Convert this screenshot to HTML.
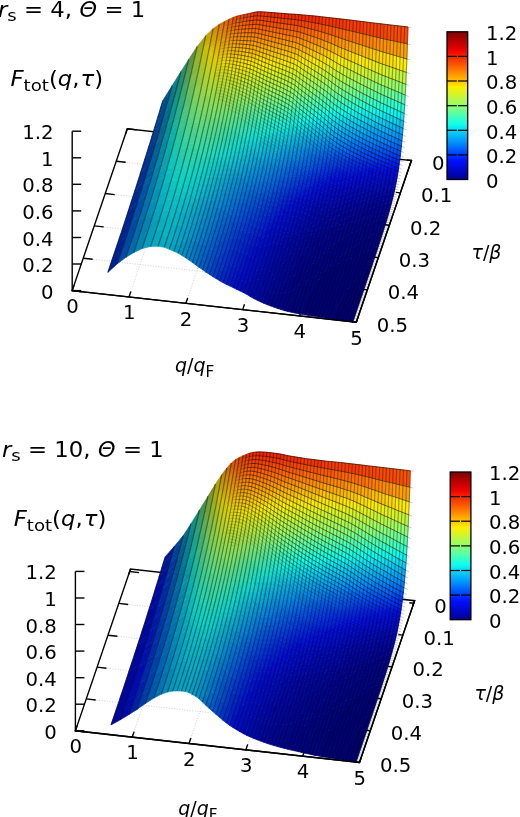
<!DOCTYPE html>
<html><head><meta charset="utf-8"><title>F_tot(q, tau)</title>
<style>html,body{margin:0;padding:0;background:#fff;overflow:hidden}svg{display:block}
text{font-family:"DejaVu Sans","Liberation Sans",sans-serif;fill:#000}
.t text{font-size:19.7px}.l{font-size:20.7px}.a{font-size:19px}.i{font-style:italic}.sub{font-size:16.5px}.sub2{font-size:15.2px}
</style></head><body>
<svg width="520" height="817" viewBox="0 0 520 817">
<defs><filter id="bq" x="0" y="0" width="5200" height="8170" filterUnits="userSpaceOnUse"><feGaussianBlur stdDeviation="6"/></filter><filter id="bt" x="0" y="0" width="5200" height="8170" filterUnits="userSpaceOnUse"><feGaussianBlur stdDeviation="6"/></filter></defs>
<rect width="520" height="817" fill="#fff"/>
<g transform="translate(0.0 0.0)">
<g stroke="#cfcfcf" stroke-width="1" stroke-dasharray="1 1.6" fill="none">
<line x1="129.0" y1="296.9" x2="184.1" y2="135.1"/>
<line x1="185.8" y1="303.3" x2="240.9" y2="141.5"/>
<line x1="242.7" y1="309.6" x2="297.8" y2="147.8"/>
<line x1="299.5" y1="316.0" x2="354.6" y2="154.2"/>
<line x1="116.3" y1="161.2" x2="400.4" y2="192.9"/>
<line x1="105.3" y1="193.5" x2="389.4" y2="225.2"/>
<line x1="94.2" y1="225.9" x2="378.3" y2="257.6"/>
<line x1="83.2" y1="258.2" x2="367.3" y2="289.9"/>
</g>
<g stroke="#000" stroke-width="1.4" fill="none" stroke-linecap="square">
<path d="M72.2 290.6L356.3 322.3L411.4 160.5L127.3 128.8z"/>
</g>
<g stroke="#000" stroke-width="1.4" fill="none">
<line x1="72.2" y1="290.6" x2="74.0" y2="285.2"/>
<line x1="127.3" y1="128.8" x2="125.5" y2="134.2"/>
<line x1="129.0" y1="296.9" x2="130.9" y2="291.5"/>
<line x1="184.1" y1="135.1" x2="182.3" y2="140.5"/>
<line x1="185.8" y1="303.3" x2="187.7" y2="297.9"/>
<line x1="240.9" y1="141.5" x2="239.1" y2="146.9"/>
<line x1="242.7" y1="309.6" x2="244.5" y2="304.2"/>
<line x1="297.8" y1="147.8" x2="295.9" y2="153.2"/>
<line x1="299.5" y1="316.0" x2="301.3" y2="310.6"/>
<line x1="354.6" y1="154.2" x2="352.7" y2="159.6"/>
<line x1="356.3" y1="322.3" x2="358.1" y2="316.9"/>
<line x1="411.4" y1="160.5" x2="409.6" y2="165.9"/>
<line x1="411.4" y1="160.5" x2="406.9" y2="160.0"/>
<line x1="127.3" y1="128.8" x2="136.7" y2="129.9"/>
<line x1="400.4" y1="192.9" x2="395.9" y2="192.4"/>
<line x1="116.3" y1="161.2" x2="125.7" y2="162.2"/>
<line x1="389.4" y1="225.2" x2="384.9" y2="224.7"/>
<line x1="105.3" y1="193.5" x2="114.7" y2="194.6"/>
<line x1="378.3" y1="257.6" x2="373.9" y2="257.1"/>
<line x1="94.2" y1="225.9" x2="103.7" y2="226.9"/>
<line x1="367.3" y1="289.9" x2="362.8" y2="289.4"/>
<line x1="83.2" y1="258.2" x2="92.7" y2="259.3"/>
<line x1="356.3" y1="322.3" x2="351.8" y2="321.8"/>
<line x1="72.2" y1="290.6" x2="81.6" y2="291.7"/>
<line x1="72.2" y1="290.6" x2="72.2" y2="131.2"/>
<line x1="72.2" y1="290.6" x2="81.2" y2="290.6"/>
<line x1="72.2" y1="264.0" x2="81.2" y2="264.0"/>
<line x1="72.2" y1="237.5" x2="81.2" y2="237.5"/>
<line x1="72.2" y1="210.9" x2="81.2" y2="210.9"/>
<line x1="72.2" y1="184.3" x2="81.2" y2="184.3"/>
<line x1="72.2" y1="157.8" x2="81.2" y2="157.8"/>
<line x1="72.2" y1="131.2" x2="81.2" y2="131.2"/>
</g>
<g transform="scale(.1)" stroke-width="7" stroke-linejoin="round">
<path fill="#000072" stroke="#000072" d="M3379 3027l-5 17l-50 146l34 4l17-48l38-114zM3463 2886l-88 260l-17 48l34 5l105-309zM3525 2809l-45 130l-5 17l-83 243l34 4l45-129l88-261zM3586 2731l-16 50l-50 146l-5 17l-44 130l-45 129l35 5l16-49l17-48l5-17l17-48l5-17l17-48l5-17l17-48l5-17l17-48l38-115zM3637 2687l-176 521l34 4l49-146l17-48l5-17l17-48l5-17l17-48l5-17l45-130l16-50zM3688 2642l-193 570l34 4l22-64l5-17l45-129l5-17l17-48l5-17l17-48l5-17l72-212z"/>
<path fill="#000178" stroke="#000178" d="M3099 2898l-16 50l-66 195l34 6l66-195l16-50zM3172 2789l-121 360l34 6l5-17l23-64l5-17l28-81l5-17l6-16l49-148zM3234 2712l-6 16l-82 248l-28 81l-5 17l-23 64l-5 17l34 5l72-211l5-17l72-214zM3284 2668l-93 281l-72 211l34 5l61-178l5-17l100-297zM3324 2657l-16 50l-23 66l-5 17l-61 180l-5 17l-61 178l34 5l17-48l27-82l12-32l22-65l93-281zM3369 2629l-104 314l-22 65l-12 32l-5 17l-39 113l35 5l121-358l60-183zM3409 2618l-6 16l-60 183l-121 358l34 5l110-325l5-17l6-16l38-116l12-33l16-50zM3454 2590l-27 83l-12 33l-5 17l-39 115l-5 17l-110 325l34 5l16-49l17-48l5-17l17-48l5-17l34-97l5-17l50-147l49-150zM3494 2578l-55 167l-50 147l-5 17l-34 97l-5 17l-17 48l-5 17l-17 48l-16 49l34 5l105-309l5-17l39-114l5-17l50-149zM3533 2567l-60 183l-72 212l-5 17l-17 48l34 5l50-146l5-17l100-297zM3579 2539l-22 67l-12 33l-38 116l-39 114l-5 17l34 4l28-81l5-17l6-16l5-17l6-16l66-199zM3624 2511l-77 232l-6 16l-5 17l-6 16l-5 17l34 4l99-297zM3663 2499l-16 51l-61 181l34 5l6-16l49-149l23-66zM3703 2488l-5 17l-23 66l-38 116l34 4l6-16l60-182zM3748 2459l-16 51l-6 16l-38 116l34 5l5-17l39-115l16-51z"/>
<path fill="#00017c" stroke="#00017c" d="M3290 2651l-6 17l35 5l5-16zM3341 2606l-17 51l34 5l17-50zM3391 2561l-22 68l34 5l6-16l16-51zM3436 2533l-27 85l34 5l28-84zM3487 2488l-33 102l34 5l17-50l16-51zM3532 2460l-38 118l34 6l38-118zM3577 2431l-5 18l-39 118l35 5l44-135zM3628 2386l-49 153l34 5l49-152zM3668 2375l-44 136l34 5l44-136zM3713 2346l-44 137l-6 16l35 6l49-153zM3758 2317l-16 52l-39 119l34 5l28-84l27-86zM3798 2305l-33 104l-17 50l34 5l6-16l44-137z"/>
<path fill="#00027e" stroke="#00027e" d="M2968 2853l-38 116l-50 146l34 8l61-179l27-83zM3013 2828l-38 116l-61 179l34 7l100-295zM3059 2802l-22 67l-23 65l-16 50l-50 146l35 7l110-328zM3104 2776l-6 16l-5 17l-110 328l34 6l121-360zM3149 2749l-50 149l34 6l50-148zM3194 2722l-22 67l34 6l22-67zM3239 2695l-5 17l34 6l5-17z"/>
<path fill="#000281" stroke="#000281" d="M2974 2836l-6 17l34 8l6-16zM3052 2711l-6 16l-16 51l-17 50l35 7l38-117zM3114 2634l-55 168l34 7l55-168zM3170 2573l-66 203l34 7l66-203zM3221 2529l-23 68l-49 152l34 7l17-50l55-170zM3271 2484l-16 52l-55 170l-6 16l34 6l28-83l49-154zM3322 2439l-66 206l-17 50l34 6l17-50l38-119l12-34l16-52zM3367 2411l-27 87l-12 34l-38 119l34 6l61-187l16-52zM3412 2382l-27 88l-44 136l34 6l66-205l5-18zM3457 2354l-16 53l-50 154l34 6l45-137l22-70zM3503 2325l-22 71l-45 137l35 6l33-102l33-106zM3542 2313l-16 54l-39 121l34 6l17-51l38-123zM3587 2284l-16 54l-39 122l34 6l34-104l22-71zM3633 2255l-33 107l-23 69l35 6l55-175zM3672 2244l-16 54l-28 88l34 6l17-52l27-89zM3717 2214l-16 55l-33 106l34 5l16-52l12-35l22-72zM3757 2202l-5 19l-39 125l34 6l28-88l16-55zM3797 2191l-39 126l34 6l39-125zM3842 2160l-44 145l34 6l16-53l12-36l16-55z"/>
<path fill="#000284" stroke="#000284" d="M2872 2916l-5 17l-55 163l34 11l5-17l17-48l27-82l12-33zM2918 2894l-67 196l-5 17l34 8l17-48l5-17l50-147z"/>
<path fill="#000287" stroke="#000287" d="M2927 2749l-38 118l-17 49l35 11l55-167zM3006 2624l-88 270l34 9l88-269zM3067 2547l-27 87l-66 202l34 9l94-288zM3124 2486l-22 71l-17 51l-5 18l-12 34l-16 51l34 7l6-16l33-102l5-18l28-87zM3174 2442l-60 192l34 7l44-137l16-53zM3225 2397l-55 176l34 7l17-51l38-123zM3270 2370l-16 54l-6 17l-27 88l34 7l49-158zM3321 2324l-44 143l-6 17l34 7l6-17l44-142zM3366 2295l-44 144l34 7l17-53l27-90zM3406 2285l-39 126l34 7l39-126zM3451 2255l-17 55l-5 19l-17 53l34 7l39-126zM3496 2225l-22 75l-17 54l35 6l33-108l5-19zM3536 2214l-33 111l34 6l33-109zM3575 2203l-16 56l-17 54l34 7l17-54l16-55zM3615 2192l-28 92l35 7l27-92zM3655 2180l-22 75l34 7l22-74zM3694 2169l-22 75l34 7l22-74zM3734 2158l-17 56l35 7l16-56zM3768 2165l-5 19l-6 18l34 7l6-18l5-19zM3808 2153l-11 38l34 7l11-38zM3847 2141l-5 19l34 7l6-19z"/>
<path fill="#00028b" stroke="#00028b" d="M3620 2173l-5 19l34 7l6-19zM3660 2161l-5 19l34 8l5-19zM3700 2150l-6 19l34 8l6-19zM3745 2119l-6 19l-5 20l34 7l6-19l5-20zM3785 2107l-17 58l34 7l17-58zM3824 2095l-16 58l34 7l16-58zM3864 2082l-17 59l35 7l16-58z"/>
<path fill="#000389" stroke="#000389" d="M2793 2926l-16 49l-34 98l35 12l49-147zM2833 2921l-55 164l34 11l55-163z"/>
<path fill="#00038d" stroke="#00038d" d="M2832 2809l-39 117l34 12l39-117zM2921 2651l-44 137l-6 16l-38 117l34 12l88-269zM2994 2542l-44 139l-23 68l35 11l66-206zM3055 2465l-16 54l-28 87l-5 18l34 10l49-157zM3111 2405l-16 54l-28 88l35 10l44-142zM3162 2360l-5 19l-33 107l34 9l38-125zM3213 2315l-39 127l34 9l39-127zM3258 2287l-33 110l34 9l17-54l16-56zM3303 2259l-5 19l-28 92l34 8l17-54l16-56zM3343 2249l-22 75l34 8l22-74zM3382 2239l-16 56l34 8l17-56zM3422 2228l-16 57l34 7l16-56zM3462 2218l-6 18l-5 19l34 8l11-38zM3501 2206l-5 19l34 8l6-19zM3541 2195l-5 19l34 8l5-19zM3581 2184l-6 19l34 8l6-19z"/>
<path fill="#000391" stroke="#000391" d="M3348 2230l-5 19l34 9l5-19zM3394 2201l-12 38l35 8l11-38zM3433 2190l-11 38l34 8l6-18l5-20zM3478 2159l-16 59l34 7l16-57zM3518 2148l-17 58l35 8l16-57zM3558 2137l-17 58l34 8l17-58zM3597 2125l-16 59l34 8l16-58zM3642 2094l-22 79l35 7l22-78zM3682 2082l-16 60l-6 19l34 8l17-58l5-21zM3722 2070l-22 80l34 8l22-79zM3761 2058l-16 61l34 7l17-60zM3801 2046l-16 61l34 7l16-60zM3841 2033l-17 62l34 7l17-61zM3880 2020l-16 62l34 8l17-62z"/>
<path fill="#00048f" stroke="#00048f" d="M2719 2917l-5 17l-39 114l34 13l44-131zM2753 2930l-44 131l34 12l45-131z"/>
<path fill="#000493" stroke="#000493" d="M2831 2694l-78 236l35 12l77-235zM2903 2585l-16 53l-55 171l34 12l33-101l38-121zM2976 2474l-55 177l34 13l39-122l16-54zM3038 2397l-44 145l34 12l44-143zM3094 2337l-39 128l34 12l39-128zM3145 2293l-34 112l35 10l33-111zM3184 2285l-16 57l-6 18l34 10l6-18l16-56zM3224 2277l-11 38l34 9l11-37zM3264 2268l-6 19l34 9l6-18z"/>
<path fill="#000497" stroke="#000497" d="M3190 2266l-6 19l34 11l6-19zM3240 2219l-16 58l34 10l17-57zM3286 2191l-22 77l34 10l22-77zM3325 2181l-5 20l-17 58l34 9l17-57l5-20zM3370 2152l-5 20l-17 58l34 9l12-38l11-40zM3416 2121l-22 80l34 8l22-78zM3455 2110l-5 21l-17 59l34 8l17-58l5-21zM3495 2099l-17 60l34 9l12-40l5-20zM3535 2088l-17 60l34 9l17-60zM3574 2076l-16 61l34 8l16-60zM3619 2043l-5 21l-17 61l34 9l23-82zM3659 2031l-5 21l-12 42l35 8l16-62zM3699 2019l-17 63l34 8l17-62zM3738 2006l-16 64l34 9l16-63zM3778 1994l-17 64l35 8l16-63zM3812 2003l-11 43l34 8l11-42zM3852 1990l-11 43l34 8l11-43zM3886 1998l-6 22l35 8l5-21z"/>
<path fill="#00049c" stroke="#00049c" d="M3818 1980l-6 23l34 9l6-22zM3891 1976l-5 22l34 9l6-22z"/>
<path fill="#000595" stroke="#000595" d="M2685 2903l-16 50l-28 81l34 14l39-114l5-17z"/>
<path fill="#000599" stroke="#000599" d="M2724 2786l-39 117l34 14l39-117zM2813 2627l-66 207l-28 83l34 13l28-83l27-85l12-34l27-86zM2880 2535l-16 54l-28 87l-5 18l34 13l49-157zM2947 2441l-16 55l-28 89l34 14l17-53l27-90zM3009 2363l-5 19l-12 37l-16 55l34 14l17-54l16-55zM3065 2303l-27 94l34 14l27-93zM3105 2299l-11 38l34 12l6-18l5-19z"/>
<path fill="#00059a" stroke="#00059a" d="M2651 2888l-44 131l34 15l28-81l16-50z"/>
<path fill="#00059e" stroke="#00059e" d="M3116 2261l-11 38l34 13l11-38zM3167 2215l-22 78l34 11l22-76zM3212 2188l-22 78l34 11l22-77zM3257 2160l-17 59l35 11l16-59zM3302 2130l-16 61l34 10l16-60zM3347 2100l-16 62l-6 19l34 10l6-19l16-61zM3387 2090l-17 62l35 9l16-60zM3432 2058l-16 63l34 10l16-62zM3472 2047l-17 63l34 9l17-62zM3511 2036l-16 63l34 9l17-63zM3551 2024l-16 64l34 9l16-64zM3591 2012l-17 64l34 9l17-64zM3630 1999l-11 44l35 9l11-43zM3665 2009l-6 22l34 9l6-21zM3704 1997l-5 22l34 9l5-22z"/>
<path fill="#0005a2" stroke="#0005a2" d="M3670 1987l-5 22l34 10l5-22zM3710 1974l-6 23l34 9l6-22zM3749 1961l-5 23l-6 22l34 10l12-45zM3789 1948l-11 46l34 9l11-45zM3829 1934l-11 46l34 10l11-46zM3863 1944l-11 46l34 8l11-45zM3902 1930l-11 46l35 9l11-46z"/>
<path fill="#00069f" stroke="#00069f" d="M2701 2736l-50 152l34 15l50-151zM2784 2595l-16 53l-44 138l34 14l60-190zM2857 2484l-44 143l34 15l17-53l27-90zM2919 2407l-39 128l34 15l39-128zM2975 2347l-28 94l34 15l23-74l5-19zM3031 2287l-22 76l34 16l22-76zM3071 2284l-6 19l34 15l6-19z"/>
<path fill="#0006a0" stroke="#0006a0" d="M2617 2872l-44 131l34 16l44-131z"/>
<path fill="#0006a4" stroke="#0006a4" d="M3087 2225l-16 59l34 15l16-58zM3138 2181l-22 80l34 13l22-79zM3189 2134l-22 81l34 13l22-80zM3234 2106l-22 82l34 12l22-81zM3273 2098l-16 62l34 11l17-61zM3319 2067l-17 63l34 11l17-62zM3358 2058l-11 42l34 11l11-42zM3403 2026l-16 64l34 11l17-64zM3443 2015l-5 22l-6 21l34 11l11-43zM3483 2003l-11 44l34 10l11-43zM3517 2014l-6 22l35 9l5-21zM3557 2002l-6 22l34 9l6-21z"/>
<path fill="#0006a5" stroke="#0006a5" d="M2672 2702l-55 170l34 16l55-169zM2756 2561l-55 175l34 16l5-18l17-51l33-106zM2823 2468l-39 127l34 15l39-126zM2885 2391l-28 93l34 15l28-92zM2941 2331l-22 76l34 15l22-75zM2986 2309l-11 38l34 16l11-38z"/>
<path fill="#0006a8" stroke="#0006a8" d="M3522 1991l-5 23l34 10l6-22zM3562 1979l-5 23l34 10l5-23zM3602 1966l-11 46l34 9l11-44zM3641 1954l-5 23l-6 22l35 10l11-45zM3681 1941l-11 46l34 10l11-46zM3721 1927l-11 47l34 10l11-46zM3760 1913l-5 25l-6 23l35 10l11-47zM3795 1924l-6 24l34 10l6-24zM3834 1910l-5 24l34 10l5-24zM3874 1895l-11 49l34 9l11-48zM3914 1880l-12 50l35 9l11-49z"/>
<path fill="#0007a6" stroke="#0007a6" d="M2588 2838l-49 148l34 17l49-148z"/>
<path fill="#0007aa" stroke="#0007aa" d="M2946 2312l-5 19l34 16l5-19zM3002 2250l-16 59l34 16l17-58zM3053 2207l-22 80l34 16l6-19l16-59zM3104 2164l-17 61l34 16l17-60zM3154 2119l-16 62l34 14l17-61zM3200 2092l-11 42l34 14l11-42zM3245 2063l-11 43l34 13l11-42zM3290 2033l-17 65l35 12l16-64zM3330 2024l-11 43l34 12l11-43zM3369 2014l-11 44l34 11l6-21l5-22z"/>
<path fill="#0007ab" stroke="#0007ab" d="M2638 2684l-50 154l34 17l6-16l44-137zM2721 2543l-16 54l-33 105l34 17l50-158zM2794 2432l-38 129l34 16l38-127zM2856 2355l-33 113l34 16l17-55l16-57zM2901 2334l-16 57l34 16l16-56z"/>
<path fill="#0007af" stroke="#0007af" d="M3375 1991l-6 23l34 12l6-23zM3414 1981l-11 45l35 11l11-45zM3454 1969l-11 46l34 11l11-45zM3494 1957l-11 46l34 11l11-46zM3533 1945l-11 46l35 11l11-46zM3573 1932l-5 24l-6 23l34 10l11-46zM3613 1919l-11 47l34 11l11-47zM3652 1905l-11 49l35 10l11-48zM3692 1892l-11 49l34 10l11-48zM3726 1903l-5 24l34 11l5-25zM3766 1889l-6 24l35 11l5-25zM3806 1874l-11 50l34 10l11-49zM3840 1885l-6 25l34 10l6-25zM3879 1869l-5 26l34 10l6-25z"/>
<path fill="#0007b0" stroke="#0007b0" d="M2912 2295l-5 20l-6 19l34 17l11-39zM2968 2233l-22 79l34 16l6-19l16-59zM3019 2189l-17 61l35 17l16-60zM3070 2146l-17 61l34 18l17-61zM3120 2101l-16 63l34 17l16-62zM3171 2055l-17 64l35 15l16-63zM3216 2027l-16 65l34 14l16-65zM3256 2019l-11 44l34 14l11-44zM3295 2011l-5 22l34 13l6-22z"/>
<path fill="#0007b3" stroke="#0007b3" d="M3845 1859l-5 26l34 10l5-26zM3919 1853l-5 27l34 10l5-26z"/>
<path fill="#0008ac" stroke="#0008ac" d="M2565 2785l-5 17l-12 33l-5 17l-39 115l35 19l44-131l16-51z"/>
<path fill="#0008b1" stroke="#0008b1" d="M2598 2682l-16 52l-17 51l34 19l33-102zM2687 2524l-49 160l34 18l33-105l16-54zM2755 2433l-34 110l35 18l33-110zM2816 2356l-5 20l-17 56l34 18l22-76zM2867 2317l-11 38l34 17l11-38z"/>
<path fill="#0008b5" stroke="#0008b5" d="M3301 1988l-6 23l35 13l5-23zM3341 1978l-11 46l34 12l11-45zM3386 1945l-11 46l34 12l11-46zM3425 1934l-11 47l35 11l11-46zM3465 1922l-5 24l-6 23l34 12l11-47zM3505 1909l-11 48l34 11l11-47zM3544 1896l-11 49l35 11l11-48zM3584 1883l-11 49l34 11l11-49zM3618 1894l-5 25l34 11l5-25zM3658 1880l-6 25l35 11l5-24zM3698 1866l-6 26l34 11l6-26zM3732 1877l-6 26l34 10l6-24zM3771 1863l-5 26l34 10l6-25z"/>
<path fill="#0008b6" stroke="#0008b6" d="M2878 2277l-11 40l34 17l6-19l5-20zM2934 2215l-22 80l34 17l22-79zM2985 2172l-17 61l34 17l17-61zM3035 2127l-16 62l34 18l17-61zM3086 2082l-16 64l34 18l16-63zM3137 2036l-17 65l34 18l17-64zM3182 2010l-5 23l-6 22l34 16l11-44zM3222 2004l-6 23l34 14l6-22z"/>
<path fill="#0008ba" stroke="#0008ba" d="M3737 1851l-5 26l34 12l5-26zM3777 1836l-6 27l35 11l5-26zM3811 1848l-5 26l34 11l5-26zM3851 1832l-6 27l34 10l6-26zM3890 1815l-5 28l-6 26l35 11l11-54zM3925 1826l-6 27l34 11l6-27z"/>
<path fill="#0008bb" stroke="#0008bb" d="M3227 1981l-5 23l34 15l5-22zM3267 1973l-11 46l34 14l11-45zM3312 1941l-5 24l-6 23l34 13l11-46zM3352 1931l-11 47l34 13l11-46zM3391 1920l-5 25l34 12l5-23zM3431 1909l-6 25l35 12l5-24zM3471 1897l-6 25l34 12l6-25zM3510 1884l-5 25l34 12l5-25zM3550 1871l-6 25l35 12l5-25zM3590 1857l-6 26l34 11l6-25zM3624 1869l-6 25l34 11l6-25zM3663 1854l-5 26l34 12l6-26z"/>
<path fill="#0009b1" stroke="#0009b1" d="M2542 2728l-33 102l-39 115l34 22l6-16l38-116l12-33l16-51z"/>
<path fill="#0009b7" stroke="#0009b7" d="M2480 2795l-5 17l-39 115l34 18l6-16l38-116zM2553 2694l-11 34l34 23l6-17l5-18zM2642 2540l-16 54l-28 88l34 20l28-88l16-54zM2720 2413l-5 19l-28 92l34 19l34-110zM2782 2337l-5 20l-22 76l34 18l22-75l5-20zM2827 2318l-11 38l34 18l11-38z"/>
<path fill="#0009bc" stroke="#0009bc" d="M2838 2278l-11 40l34 18l6-19l5-20zM2894 2217l-16 60l34 18l17-60zM2951 2153l-17 62l34 18l17-61zM3001 2108l-16 64l34 17l16-62zM3047 2084l-12 43l35 19l11-43zM3097 2037l-5 23l-6 22l34 19l6-21l5-22zM3148 1990l-11 46l34 19l6-22l5-23z"/>
<path fill="#0009c0" stroke="#0009c0" d="M3629 1842l-5 27l34 11l5-26zM3669 1827l-6 27l35 12l5-26zM3703 1840l-5 26l34 11l5-26zM3743 1824l-6 27l34 12l6-27zM3782 1808l-5 28l34 12l6-28zM3817 1820l-6 28l34 11l6-27zM3856 1803l-5 29l34 11l5-28z"/>
<path fill="#0009c1" stroke="#0009c1" d="M3193 1964l-11 46l34 17l11-46zM3238 1934l-5 24l-6 23l34 16l11-47zM3278 1926l-11 47l34 15l6-23l5-24zM3323 1892l-11 49l34 14l11-48zM3363 1881l-11 50l34 14l11-49zM3402 1870l-5 26l-6 24l34 14l12-50zM3442 1858l-11 51l34 13l11-50zM3482 1846l-11 51l34 12l11-50zM3516 1859l-6 25l34 12l6-25z"/>
<path fill="#0009c5" stroke="#0009c5" d="M3896 1786l-6 29l35 11l5-29zM3930 1797l-5 29l34 11l5-29z"/>
<path fill="#000abd" stroke="#000abd" d="M2435 2813l-33 98l34 16l33-98zM2486 2779l-6 16l34 18l6-17zM2597 2552l-44 142l34 22l6-17l38-123zM2675 2429l-5 19l-28 92l34 20l17-54l16-56zM2742 2336l-22 77l35 20l22-76zM2793 2298l-5 20l-6 19l34 19l11-38z"/>
<path fill="#000ac2" stroke="#000ac2" d="M2804 2258l-11 40l34 20l11-40zM2860 2197l-5 21l-17 60l34 19l22-80zM2911 2155l-17 62l35 18l16-61zM2962 2110l-11 43l34 19l11-42zM3012 2065l-5 22l-6 21l34 19l12-43zM3063 2017l-16 67l34 19l16-66zM3108 1992l-5 23l-6 22l34 21l6-22l5-23zM3153 1967l-5 23l34 20l6-23z"/>
<path fill="#000ac3" stroke="#000ac3" d="M2452 2762l-17 51l34 16l17-50zM2546 2588l-5 18l-55 173l34 17l33-102l27-88zM2630 2442l-16 56l-12 36l-5 18l34 24l28-91l5-19zM2703 2333l-28 96l34 21l6-18l22-77zM2759 2277l-17 59l35 21l16-59z"/>
<path fill="#000ac7" stroke="#000ac7" d="M3521 1832l-5 27l34 12l5-26zM3561 1818l-11 53l34 12l11-53zM3595 1830l-5 27l34 12l5-27zM3635 1815l-6 27l34 12l6-27zM3674 1800l-5 27l34 13l6-28zM3709 1812l-6 28l34 11l6-27zM3748 1796l-5 28l34 12l5-28z"/>
<path fill="#000ac8" stroke="#000ac8" d="M3159 1943l-6 24l35 20l5-23zM3204 1915l-11 49l34 17l6-23l5-24zM3244 1909l-6 25l34 16l6-24zM3289 1876l-11 50l34 15l11-49zM3329 1866l-6 26l34 15l6-26zM3368 1856l-5 25l34 15l5-26zM3408 1844l-6 26l35 14l5-26z"/>
<path fill="#000acc" stroke="#000acc" d="M3788 1779l-6 29l35 12l5-28zM3822 1792l-5 28l34 12l5-29zM3862 1774l-6 29l34 12l6-29zM3936 1767l-6 30l34 11l6-29z"/>
<path fill="#000acd" stroke="#000acd" d="M3448 1832l-6 26l34 14l6-26zM3487 1819l-5 27l34 13l5-27zM3527 1805l-6 27l34 13l6-27zM3567 1790l-6 28l34 12l6-27zM3601 1803l-6 27l34 12l6-27zM3640 1787l-5 28l34 12l5-27z"/>
<path fill="#000ad1" stroke="#000ad1" d="M3901 1755l-5 31l34 11l6-30z"/>
<path fill="#000bc3" stroke="#000bc3" d="M2401 2796l-33 98l34 17l33-98z"/>
<path fill="#000bc8" stroke="#000bc8" d="M2423 2728l-22 68l34 17l22-68zM2512 2571l-5 18l-55 173l34 17l55-173l5-18zM2585 2460l-39 128l34 18l22-72l12-36l5-19zM2658 2347l-28 95l34 24l6-18l22-76zM2725 2254l-22 79l34 22l22-78zM2764 2257l-5 20l34 21l6-20zM2821 2197l-17 61l34 20l17-60zM2877 2134l-17 63l34 20l17-62zM2928 2090l-17 65l34 19l17-64zM2978 2045l-16 65l34 20l16-65zM3023 2020l-11 45l35 19l11-44zM3074 1971l-11 46l34 20l6-22l5-23zM3114 1969l-6 23l34 21l6-23z"/>
<path fill="#000bce" stroke="#000bce" d="M3119 1945l-5 24l34 21l5-23zM3164 1919l-5 24l34 21l6-24zM3210 1891l-6 24l34 19l6-25zM3255 1859l-11 50l34 17l11-50zM3294 1850l-5 26l34 16l6-26zM3334 1840l-5 26l34 15l5-25zM3374 1829l-6 27l34 14l6-26z"/>
<path fill="#000bd3" stroke="#000bd3" d="M3680 1771l-6 29l35 12l5-28zM3720 1754l-11 58l34 12l11-58zM3754 1766l-6 30l34 12l6-29zM3793 1749l-5 30l34 13l6-30zM3828 1762l-6 30l34 11l6-29z"/>
<path fill="#000bd4" stroke="#000bd4" d="M3413 1817l-5 27l34 14l6-26zM3453 1805l-5 27l34 14l5-27zM3493 1791l-6 28l34 13l6-27zM3532 1776l-5 29l34 13l6-28z"/>
<path fill="#000bd8" stroke="#000bd8" d="M3867 1743l-5 31l34 12l5-31zM3907 1723l-6 32l35 12l5-32zM3941 1735l-5 32l34 12l5-32z"/>
<path fill="#000cc8" stroke="#000cc8" d="M2367 2779l-28 82l-5 17l34 16l33-98z"/>
<path fill="#000cce" stroke="#000cce" d="M2389 2712l-22 67l34 17l22-68zM2478 2554l-55 174l34 17l17-51l38-123zM2551 2443l-39 128l34 17l39-128zM2612 2366l-27 94l34 19l6-18l22-76zM2680 2268l-22 79l34 25l22-78zM2730 2234l-5 20l34 23l5-20zM2781 2196l-17 61l35 21l16-60zM2837 2134l-16 63l34 21l16-62zM2888 2091l-11 43l34 21l6-21l5-22zM2939 2046l-11 44l34 20l11-43zM2989 1999l-11 46l34 20l11-45zM3034 1974l-11 46l35 20l11-46z"/>
<path fill="#000cd4" stroke="#000cd4" d="M2741 2193l-11 41l34 23l6-20l5-21zM2798 2133l-17 63l34 22l17-63zM2848 2091l-5 22l-6 21l34 22l11-43zM2904 2025l-16 66l34 21l17-66zM2950 2001l-11 45l34 21l11-45zM2995 1976l-6 23l34 21l6-23zM3085 1923l-11 48l34 21l6-23l5-24zM3130 1896l-11 49l34 22l11-48zM3175 1869l-11 50l35 21l11-49zM3221 1839l-11 52l34 18l11-50zM3260 1832l-5 27l34 17l5-26zM3300 1824l-6 26l35 16l5-26z"/>
<path fill="#000cd9" stroke="#000cd9" d="M3572 1761l-5 29l34 13l5-29zM3606 1774l-5 29l34 12l5-28zM3646 1757l-6 30l34 13l6-29zM3685 1741l-5 30l34 13l6-30z"/>
<path fill="#000cda" stroke="#000cda" d="M3345 1786l-11 54l34 16l11-54zM3385 1774l-11 55l34 15l11-54zM3424 1761l-5 29l-6 27l35 15l11-56zM3459 1776l-6 29l34 14l6-28z"/>
<path fill="#000cdf" stroke="#000cdf" d="M3759 1736l-5 30l34 13l5-30zM3799 1717l-6 32l35 13l5-32zM3833 1730l-5 32l34 12l5-31z"/>
<path fill="#000ce5" stroke="#000ce5" d="M3873 1710l-6 33l34 12l6-32zM3947 1702l-6 33l34 12l6-33z"/>
<path fill="#000ddb" stroke="#000ddb" d="M3000 1952l-5 24l34 21l5-23zM3045 1926l-11 48l35 20l11-47zM3091 1898l-6 25l34 22l6-24zM3136 1871l-6 25l34 23l6-25zM3181 1843l-6 26l35 22l5-26zM3226 1813l-5 26l34 20l5-27zM3266 1805l-6 27l34 18l6-26z"/>
<path fill="#000de0" stroke="#000de0" d="M3498 1762l-5 29l34 14l5-29zM3538 1747l-6 29l35 14l5-29zM3578 1730l-6 31l34 13l6-30zM3612 1744l-6 30l34 13l6-30zM3651 1727l-5 30l34 14l5-30z"/>
<path fill="#000de1" stroke="#000de1" d="M3311 1768l-11 56l34 16l11-54zM3351 1757l-6 29l34 16l6-28zM3390 1745l-5 29l34 16l5-29z"/>
<path fill="#000de6" stroke="#000de6" d="M3691 1709l-6 32l35 13l5-31zM3725 1723l-5 31l34 12l5-30zM3765 1703l-6 33l34 13l6-32z"/>
<path fill="#000dec" stroke="#000dec" d="M3804 1684l-5 33l34 13l6-33zM3839 1697l-6 33l34 13l6-33zM3878 1676l-5 34l34 13l5-34zM3912 1689l-5 34l34 12l6-33z"/>
<path fill="#000ee7" stroke="#000ee7" d="M3430 1731l-6 30l35 15l5-29zM3464 1747l-5 29l34 15l5-29zM3504 1732l-6 30l34 14l6-29zM3543 1716l-5 31l34 14l6-31z"/>
<path fill="#000eed" stroke="#000eed" d="M3583 1699l-5 31l34 14l5-31zM3617 1713l-5 31l34 13l5-30zM3657 1695l-6 32l34 14l6-32z"/>
<path fill="#000ef2" stroke="#000ef2" d="M3952 1666l-5 36l34 12l5-35z"/>
<path fill="#000ef3" stroke="#000ef3" d="M3697 1676l-6 33l34 14l6-33zM3731 1690l-6 33l34 13l6-33zM3770 1670l-5 33l34 14l5-33z"/>
<path fill="#000ff9" stroke="#000ff9" d="M3844 1662l-5 35l34 13l5-34zM3918 1653l-6 36l35 13l5-36z"/>
<path fill="#0012c8" stroke="#0012c8" d="M2333 2762l-33 99l34 17l5-17l28-82z"/>
<path fill="#0013ce" stroke="#0013ce" d="M2355 2695l-22 67l34 17l22-67zM2444 2537l-6 17l-16 54l-28 86l-5 18l34 16l55-174zM2511 2444l-5 19l-28 91l34 17l17-54l16-55zM2578 2348l-27 95l34 17l27-94zM2629 2308l-17 58l35 19l16-58zM2696 2207l-16 61l34 26l16-60z"/>
<path fill="#0013d4" stroke="#0013d4" d="M2634 2288l-5 20l34 19l6-19zM2758 2130l-17 63l34 23l12-41l5-21zM2814 2068l-16 65l34 22l16-64zM2865 2025l-17 66l34 22l17-66zM2915 1979l-11 46l35 21l11-45zM2961 1954l-11 47l34 21l11-46z"/>
<path fill="#0014db" stroke="#0014db" d="M3006 1928l-6 24l34 22l6-24zM3056 1876l-11 50l35 21l11-49zM3102 1848l-11 50l34 23l11-50zM3147 1819l-11 52l34 23l11-51zM3192 1789l-11 54l34 22l11-52zM3232 1785l-6 28l34 19l6-27z"/>
<path fill="#0015e1" stroke="#0015e1" d="M3277 1749l-11 56l34 19l11-56zM3316 1739l-5 29l34 18l6-29z"/>
<path fill="#0015e7" stroke="#0015e7" d="M3356 1728l-5 29l34 17l5-29zM3396 1715l-6 30l34 16l6-30zM3435 1701l-5 30l34 16l6-30zM3470 1717l-6 30l34 15l6-30z"/>
<path fill="#0016ed" stroke="#0016ed" d="M3509 1701l-5 31l34 15l5-31zM3549 1684l-6 32l35 14l5-31zM3623 1681l-6 32l34 14l6-32z"/>
<path fill="#0016f3" stroke="#0016f3" d="M3662 1662l-5 33l34 14l6-33zM3736 1656l-5 34l34 13l5-33z"/>
<path fill="#0017f9" stroke="#0017f9" d="M3810 1648l-6 36l35 13l5-35zM3884 1639l-6 37l34 13l6-36z"/>
<path fill="#0018ff" stroke="#0018ff" d="M3958 1628l-6 38l34 13l6-37z"/>
<path fill="#0019c8" stroke="#0019c8" d="M2298 2746l-5 17l-28 82l35 16l33-99z"/>
<path fill="#001ace" stroke="#001ace" d="M2326 2661l-28 85l35 16l27-84zM2410 2519l-55 176l34 17l5-18l17-51l27-89l6-17zM2477 2427l-28 91l-5 19l34 17l28-91l5-19zM2539 2349l-28 95l34 18l28-95zM2584 2329l-6 19l34 18l6-19zM2707 2166l-5 21l-6 20l34 27l11-41z"/>
<path fill="#001bd4" stroke="#001bd4" d="M2600 2270l-16 59l34 18l16-59zM2657 2207l-23 81l35 20l22-80zM2713 2145l-6 21l34 27l6-21zM2769 2087l-6 21l-5 22l34 24l11-42zM2825 2024l-11 44l34 23l11-44zM2876 1979l-11 46l34 22l11-45zM2921 1955l-6 24l35 22l5-23z"/>
<path fill="#001bdb" stroke="#001bdb" d="M2972 1906l-11 48l34 22l11-48zM3017 1879l-11 49l34 22l11-49zM3062 1851l-6 25l35 22l5-25zM3107 1822l-5 26l34 23l5-26zM3152 1792l-5 27l34 24l5-27zM3197 1761l-5 28l34 24l6-28z"/>
<path fill="#001ce1" stroke="#001ce1" d="M3237 1757l-5 28l34 20l5-27zM3282 1720l-5 29l34 19l5-29z"/>
<path fill="#001de7" stroke="#001de7" d="M3322 1710l-6 29l35 18l5-29zM3362 1698l-6 30l34 17l6-30zM3401 1684l-5 31l34 16l5-30z"/>
<path fill="#001eed" stroke="#001eed" d="M3475 1686l-5 31l34 15l5-31zM3515 1669l-6 32l34 15l6-32z"/>
<path fill="#001ff3" stroke="#001ff3" d="M3554 1651l-5 33l34 15l6-33zM3589 1666l-6 33l34 14l6-32zM3628 1647l-5 34l34 14l5-33zM3702 1641l-5 35l34 14l5-34z"/>
<path fill="#001ff9" stroke="#001ff9" d="M3742 1620l-6 36l34 14l6-36zM3776 1634l-6 36l34 14l6-36zM3815 1611l-5 37l34 14l6-36zM3850 1626l-6 36l34 14l6-37z"/>
<path fill="#002092" stroke="#002092" d="M1172 2447l-50 147l-5 17l-17 48l-5 17l-17 48l93-85l94-279z"/>
<path fill="#0020c8" stroke="#0020c8" d="M2264 2728l-5 17l-28 82l34 18l17-49l16-50z"/>
<path fill="#0020ff" stroke="#0020ff" d="M3889 1601l-5 38l34 14l5-39zM3923 1614l-5 39l34 13l6-38z"/>
<path fill="#0021ce" stroke="#0021ce" d="M2292 2644l-22 68l-6 16l34 18l28-85zM2376 2503l-50 158l34 17l6-17l44-142zM2443 2409l-33 110l34 18l5-19l28-91zM2504 2332l-27 95l34 17l28-95zM2550 2311l-11 38l34 18l11-38z"/>
<path fill="#0022d4" stroke="#0022d4" d="M2561 2271l-11 40l34 18l5-20l6-19zM2617 2209l-17 61l34 18l17-60zM2673 2145l-16 62l34 21l16-62zM2729 2081l-16 64l34 27l16-64zM2785 2020l-16 67l34 25l17-66zM2836 1978l-11 46l34 23l6-22l5-23zM2887 1932l-11 47l34 23l11-47zM2926 1932l-5 23l34 23l6-24z"/>
<path fill="#0023db" stroke="#0023db" d="M2932 1907l-6 25l35 22l5-24zM2977 1881l-5 25l34 22l5-24zM3022 1854l-5 25l34 22l5-25zM3067 1825l-5 26l34 22l6-25zM3113 1795l-6 27l34 23l6-26zM3158 1764l-6 28l34 24l6-27zM3203 1733l-6 28l35 24l5-28z"/>
<path fill="#0024e1" stroke="#0024e1" d="M3243 1728l-6 29l34 21l6-29z"/>
<path fill="#002592" stroke="#002592" d="M1282 2113l-38 118l-6 16l-27 84l-12 33l-27 83l93-87l27-84l6-16l77-240z"/>
<path fill="#0025e7" stroke="#0025e7" d="M3288 1690l-6 30l34 19l6-29zM3327 1679l-5 31l34 18l6-30zM3367 1666l-5 32l34 17l5-31z"/>
<path fill="#0026c8" stroke="#0026c8" d="M2236 2693l-39 115l34 19l39-115z"/>
<path fill="#0026ed" stroke="#0026ed" d="M3441 1669l-6 32l35 16l5-31zM3481 1653l-6 33l34 15l6-32z"/>
<path fill="#0027f3" stroke="#0027f3" d="M3520 1636l-5 33l34 15l5-33zM3594 1632l-5 34l34 15l5-34z"/>
<path fill="#0028ce" stroke="#0028ce" d="M2252 2642l-16 51l34 19l16-51zM2341 2485l-16 54l-6 17l-27 88l34 17l50-158zM2409 2392l-28 92l-5 19l34 16l33-110zM2470 2314l-27 95l34 18l27-95zM2510 2312l-6 20l35 17l5-19z"/>
<path fill="#0028f9" stroke="#0028f9" d="M3634 1611l-6 36l34 15l6-36zM3668 1626l-6 36l35 14l5-35zM3708 1605l-6 36l34 15l6-36zM3781 1596l-5 38l34 14l5-37z"/>
<path fill="#002992" stroke="#002992" d="M1348 1909l-66 204l93-93l66-210z"/>
<path fill="#0029d4" stroke="#0029d4" d="M2527 2253l-17 59l34 18l17-59zM2583 2191l-22 80l34 19l22-81zM2633 2147l-16 62l34 19l17-62zM2684 2103l-11 42l34 21l11-42zM2740 2037l-11 44l34 27l6-21l5-22zM2796 1975l-5 23l-6 22l35 26l11-45zM2847 1931l-5 24l-6 23l34 24l11-46z"/>
<path fill="#0029ff" stroke="#0029ff" d="M3855 1586l-5 40l34 13l5-38zM3929 1574l-6 40l35 14l5-40zM3963 1588l-5 40l34 14l5-41z"/>
<path fill="#002adb" stroke="#002adb" d="M2892 1908l-5 24l34 23l5-23zM2943 1858l-11 49l34 23l11-49zM2988 1831l-11 50l34 23l11-50zM3033 1802l-11 52l34 22l11-51zM3078 1772l-11 53l35 23l11-53zM3118 1768l-5 27l34 24l5-27zM3163 1736l-5 28l34 25l5-28z"/>
<path fill="#002be1" stroke="#002be1" d="M3208 1704l-5 29l34 24l6-29zM3248 1699l-5 29l34 21l5-29z"/>
<path fill="#002dc8" stroke="#002dc8" d="M2196 2690l-33 98l34 20l33-98z"/>
<path fill="#002e92" stroke="#002e92" d="M1403 1736l-5 18l-50 155l93-99l55-179z"/>
<path fill="#002ece" stroke="#002ece" d="M2302 2484l-50 158l34 19l50-158zM2374 2374l-5 19l-28 92l35 18l5-19l28-92zM2431 2316l-22 76l34 17l22-76z"/>
<path fill="#002eed" stroke="#002eed" d="M3333 1647l-6 32l35 19l5-32zM3407 1652l-6 32l34 17l6-32zM3446 1636l-5 33l34 17l6-33z"/>
<path fill="#002ff3" stroke="#002ff3" d="M3486 1619l-5 34l34 16l5-33zM3560 1617l-6 34l35 15l5-34z"/>
<path fill="#0030d4" stroke="#0030d4" d="M2436 2297l-5 19l34 17l5-19zM2492 2235l-22 79l34 18l23-79zM2543 2193l-16 60l34 18l16-60zM2599 2129l-16 62l34 18l16-62zM2650 2084l-17 63l35 19l16-63zM2701 2037l-17 66l34 21l17-65zM2751 1992l-11 45l34 28l6-22l5-23zM2807 1928l-5 24l-6 23l35 26l11-46zM2853 1907l-6 24l34 25l6-24z"/>
<path fill="#0030f9" stroke="#0030f9" d="M3600 1596l-6 36l34 15l6-36zM3673 1590l-5 36l34 15l6-36z"/>
<path fill="#0031db" stroke="#0031db" d="M2903 1858l-11 50l34 24l11-49zM2948 1832l-5 26l34 23l6-25zM2994 1805l-6 26l34 23l6-26zM3039 1775l-6 27l34 23l6-26zM3084 1744l-6 28l35 23l5-27zM3129 1711l-11 57l34 24l11-56zM3169 1707l-6 29l34 25l6-28z"/>
<path fill="#0031ff" stroke="#0031ff" d="M3747 1582l-5 38l34 14l5-38zM3821 1572l-6 39l35 15l5-40zM3895 1559l-6 42l34 13l6-40z"/>
<path fill="#003392" stroke="#003392" d="M1447 1597l-44 139l93-105l44-146z"/>
<path fill="#0033e1" stroke="#0033e1" d="M3214 1673l-6 31l35 24l5-29z"/>
<path fill="#0034c8" stroke="#0034c8" d="M2207 2656l-11 34l34 20l11-34z"/>
<path fill="#0034e7" stroke="#0034e7" d="M3254 1668l-6 31l34 21l6-30zM3293 1659l-5 31l34 20l5-31z"/>
<path fill="#0035ce" stroke="#0035ce" d="M2262 2481l-16 54l-39 121l34 20l17-51l38-123zM2335 2373l-33 111l34 19l33-110zM2397 2298l-23 76l35 18l22-76z"/>
<path fill="#0036ed" stroke="#0036ed" d="M3373 1634l-6 32l34 18l6-32zM3412 1618l-5 34l34 17l5-33z"/>
<path fill="#0037d4" stroke="#0037d4" d="M2458 2218l-22 79l34 17l22-79zM2509 2175l-17 60l35 18l16-60zM2560 2131l-17 62l34 18l17-62zM2610 2086l-11 43l34 18l11-42zM2661 2040l-11 44l34 19l11-44zM2712 1992l-11 45l34 22l11-45zM2762 1946l-11 46l34 28l6-22l5-23zM2813 1904l-6 24l35 27l5-24zM2858 1883l-5 24l34 25l5-24z"/>
<path fill="#0037f3" stroke="#0037f3" d="M3452 1602l-6 34l35 17l5-34zM3492 1584l-6 35l34 17l6-35zM3526 1601l-6 35l34 15l6-34z"/>
<path fill="#003892" stroke="#003892" d="M1486 1473l-39 124l93-112l39-130z"/>
<path fill="#0039db" stroke="#0039db" d="M2864 1858l-6 25l34 25l6-25zM2909 1833l-6 25l34 25l6-25zM2959 1780l-5 27l-6 25l35 24l11-51zM2999 1778l-5 27l34 23l5-26zM3044 1748l-5 27l34 24l5-27zM3089 1716l-5 28l34 24l6-28z"/>
<path fill="#0039f9" stroke="#0039f9" d="M3565 1580l-5 37l34 15l6-36zM3639 1574l-5 37l34 15l5-36z"/>
<path fill="#003ac8" stroke="#003ac8" d="M2184 2600l-55 167l34 21l55-166z"/>
<path fill="#003ae1" stroke="#003ae1" d="M3135 1682l-6 29l34 25l6-29zM3174 1677l-5 30l34 26l5-29zM3219 1642l-5 31l34 26l6-31z"/>
<path fill="#003aff" stroke="#003aff" d="M3713 1566l-5 39l34 15l5-38zM3787 1556l-6 40l34 15l6-39zM3861 1545l-6 41l34 15l6-42zM3934 1530l-5 44l34 14l6-44zM3969 1544l-6 44l34 13l6-43z"/>
<path fill="#003c92" stroke="#003c92" d="M1519 1366l-16 54l-17 53l93-118l16-57l17-56z"/>
<path fill="#003cce" stroke="#003cce" d="M2211 2513l-27 87l34 22l28-87zM2295 2371l-16 56l-17 54l34 21l28-91l5-19zM2362 2278l-27 95l34 20l16-57l12-38zM2402 2278l-5 20l34 18l5-19z"/>
<path fill="#003ce7" stroke="#003ce7" d="M3259 1636l-5 32l34 22l5-31z"/>
<path fill="#003ed4" stroke="#003ed4" d="M2419 2219l-17 59l34 19l17-59zM2475 2157l-17 61l34 17l17-60zM2525 2112l-16 63l34 18l17-62zM2576 2067l-16 64l34 18l16-63zM2627 2021l-17 65l34 19l17-65zM2672 1996l-11 44l34 19l11-44zM2723 1947l-11 45l34 22l11-45zM2773 1898l-11 48l34 29l6-23l5-24zM2824 1855l-11 49l34 27l11-48z"/>
<path fill="#003eed" stroke="#003eed" d="M3299 1626l-6 33l34 20l6-32zM3338 1614l-5 33l34 19l6-32z"/>
<path fill="#003ff3" stroke="#003ff3" d="M3378 1600l-5 34l34 18l5-34zM3418 1583l-6 35l34 18l6-34z"/>
<path fill="#0040db" stroke="#0040db" d="M2875 1807l-11 51l34 25l11-50zM2920 1781l-11 52l34 25l11-51zM2965 1753l-6 27l35 25l5-27zM3010 1723l-11 55l34 24l11-54zM3050 1720l-6 28l34 24l6-28z"/>
<path fill="#004192" stroke="#004192" d="M1547 1276l-28 90l93-124l27-96z"/>
<path fill="#0041c8" stroke="#0041c8" d="M2155 2560l-16 52l-44 132l34 23l33-99l27-85z"/>
<path fill="#0041f9" stroke="#0041f9" d="M3457 1566l-5 36l34 17l6-35zM3531 1564l-5 37l34 16l5-37zM3605 1558l-5 38l34 15l5-37z"/>
<path fill="#0042e1" stroke="#0042e1" d="M3095 1687l-6 29l35 24l5-29zM3140 1651l-5 31l34 25l5-30zM3180 1647l-6 30l34 27l6-31z"/>
<path fill="#0043ce" stroke="#0043ce" d="M2161 2543l-6 17l34 23l6-17zM2250 2387l-39 126l35 22l38-126zM2323 2277l-22 76l-6 18l34 21l28-95zM2373 2239l-5 20l-6 19l35 20l5-20l6-19z"/>
<path fill="#0043ff" stroke="#0043ff" d="M3679 1551l-6 39l35 15l5-39zM3753 1542l-6 40l34 14l6-40zM3827 1529l-6 43l34 14l6-41zM3900 1515l-5 44l34 15l5-44z"/>
<path fill="#0044e7" stroke="#0044e7" d="M3225 1610l-6 32l35 26l5-32zM3265 1604l-6 32l34 23l6-33z"/>
<path fill="#0045d4" stroke="#0045d4" d="M2384 2199l-11 40l35 20l11-40zM2441 2138l-22 81l34 19l22-81zM2491 2094l-16 63l34 18l16-63zM2542 2049l-17 63l35 19l16-64zM2587 2024l-11 43l34 19l11-43zM2638 1976l-6 22l-5 23l34 19l11-44zM2683 1950l-11 46l34 19l11-45zM2734 1900l-6 23l-5 24l34 22l11-47zM2784 1850l-11 48l34 30l11-48z"/>
<path fill="#004692" stroke="#004692" d="M1580 1168l-33 108l92-130l28-96l5-20z"/>
<path fill="#0046ed" stroke="#0046ed" d="M3304 1593l-5 33l34 21l5-33z"/>
<path fill="#0047db" stroke="#0047db" d="M2829 1830l-5 25l34 28l6-25zM2880 1781l-5 26l34 26l5-25zM2925 1755l-5 26l34 26l5-27zM2971 1726l-6 27l34 25l6-27zM3016 1695l-6 28l34 25l6-28z"/>
<path fill="#0047f3" stroke="#0047f3" d="M3344 1580l-6 34l35 20l5-34zM3384 1564l-6 36l34 18l6-35z"/>
<path fill="#0048c8" stroke="#0048c8" d="M2088 2639l-28 83l35 22l27-82z"/>
<path fill="#0049e1" stroke="#0049e1" d="M3055 1691l-5 29l34 24l5-28zM3101 1657l-6 30l34 24l6-29zM3146 1620l-6 31l34 26l6-30zM3185 1615l-5 32l34 26l5-31z"/>
<path fill="#0049f9" stroke="#0049f9" d="M3497 1546l-5 38l34 17l5-37zM3571 1542l-6 38l35 16l5-38z"/>
<path fill="#004a92" stroke="#004a92" d="M1607 1077l-27 91l92-138l28-97z"/>
<path fill="#004aa4" stroke="#004aa4" d="M1309 2226l-66 201l-12 33l-60 179l88-66l72-213l66-204z"/>
<path fill="#004ace" stroke="#004ace" d="M2205 2400l-44 143l34 23l44-143zM2278 2293l-11 38l-12 37l-5 19l34 22l28-94zM2339 2218l-16 59l34 20l16-58z"/>
<path fill="#004bff" stroke="#004bff" d="M3611 1519l-6 39l34 16l6-39zM3645 1535l-6 39l34 16l6-39zM3684 1510l-5 41l34 15l6-40zM3719 1526l-6 40l34 16l6-40zM3792 1514l-5 42l34 16l6-43zM3866 1500l-5 45l34 14l5-44zM3974 1498l-5 46l34 14l5-46z"/>
<path fill="#004cd4" stroke="#004cd4" d="M2345 2198l-6 20l34 21l6-20zM2401 2139l-17 60l35 20l16-60zM2452 2097l-6 20l-5 21l34 19l11-42zM2502 2052l-11 42l34 18l11-42zM2553 2005l-11 44l34 18l11-43zM2604 1957l-17 67l34 19l17-67zM2649 1930l-11 46l34 20l11-46zM2790 1825l-6 25l34 30l6-25z"/>
<path fill="#004ec8" stroke="#004ec8" d="M2121 2537l-5 18l-22 68l-6 16l34 23l17-50l16-52z"/>
<path fill="#004eed" stroke="#004eed" d="M3270 1570l-5 34l34 22l5-33z"/>
<path fill="#004f92" stroke="#004f92" d="M1629 1005l-22 72l93-144l22-77z"/>
<path fill="#004fa4" stroke="#004fa4" d="M1375 2020l-66 206l88-70l66-210z"/>
<path fill="#004fdb" stroke="#004fdb" d="M2694 1903l-11 47l34 20l6-23l5-24zM2739 1876l-5 24l34 22l5-24zM2841 1779l-12 51l35 28l11-51zM2886 1755l-6 26l34 27l6-27zM2931 1728l-6 27l34 25l6-27zM2976 1698l-5 28l34 25l5-28z"/>
<path fill="#0050f3" stroke="#0050f3" d="M3310 1558l-6 35l34 21l6-34zM3349 1544l-5 36l34 20l6-36z"/>
<path fill="#0051ce" stroke="#0051ce" d="M2154 2432l-5 18l-28 87l34 23l6-17l27-88zM2232 2308l-27 92l34 23l16-55l12-37zM2305 2196l-27 97l34 22l27-97z"/>
<path fill="#0051e1" stroke="#0051e1" d="M3021 1666l-5 29l34 25l5-29zM3061 1662l-6 29l34 25l6-29zM3106 1626l-5 31l34 25l5-31z"/>
<path fill="#0052f9" stroke="#0052f9" d="M3423 1547l-5 36l34 19l5-36zM3463 1528l-6 38l35 18l5-38z"/>
<path fill="#0053d4" stroke="#0053d4" d="M2361 2138l-16 60l34 21l16-60zM2417 2076l-16 63l34 20l17-62zM2468 2033l-16 64l34 18l16-63zM2519 1987l-17 65l34 18l17-65zM2564 1960l-11 45l34 19l6-22l5-23zM2615 1911l-11 46l34 19l11-46zM2801 1774l-11 51l34 30l11-50z"/>
<path fill="#0053e7" stroke="#0053e7" d="M3191 1583l-6 32l34 27l6-32zM3231 1577l-6 33l34 26l6-32z"/>
<path fill="#0054ff" stroke="#0054ff" d="M3537 1525l-6 39l34 16l6-38zM3576 1502l-5 40l34 16l6-39zM3650 1493l-5 42l34 16l5-41zM3724 1483l-5 43l34 16l5-43zM3758 1499l-5 43l34 14l5-42zM3832 1485l-5 44l34 16l5-45zM3906 1468l-6 47l34 15l6-47zM3940 1483l-6 47l35 14l5-46z"/>
<path fill="#0055a4" stroke="#0055a4" d="M1419 1881l-44 139l88-74l44-144z"/>
<path fill="#0055c8" stroke="#0055c8" d="M2087 2514l-22 69l-39 115l34 24l17-49l5-17l12-33l22-68l5-18z"/>
<path fill="#00569e" stroke="#00569e" d="M1457 1757l-22 71l88-81l22-73z"/>
<path fill="#0056db" stroke="#0056db" d="M2660 1883l-11 47l34 20l11-47zM2705 1856l-11 47l34 20l6-23l5-24zM2750 1827l-11 49l34 22l11-48zM2846 1753l-5 26l34 28l5-26zM2891 1728l-5 27l34 26l5-26zM2936 1700l-5 28l34 25l6-27zM2982 1670l-6 28l34 25l6-28z"/>
<path fill="#0058ce" stroke="#0058ce" d="M2098 2479l-11 35l34 23l11-34zM2187 2322l-5 19l-28 91l34 23l28-91l5-19zM2260 2212l-28 96l35 23l27-96zM2316 2156l-11 40l34 22l11-40z"/>
<path fill="#0058e1" stroke="#0058e1" d="M3027 1637l-6 29l34 25l6-29zM3066 1632l-5 30l34 25l6-30zM3112 1595l-6 31l34 25l6-31zM3151 1589l-5 31l34 27l5-32z"/>
<path fill="#005aa4" stroke="#005aa4" d="M1435 1828l-16 53l88-79l16-55z"/>
<path fill="#005ad4" stroke="#005ad4" d="M2322 2136l-6 20l34 22l6-20zM2378 2076l-17 62l34 21l17-62zM2434 2012l-17 64l35 21l16-64zM2479 1989l-11 44l34 19l11-43zM2530 1942l-6 22l-5 23l34 18l11-45zM2575 1915l-11 45l34 19l6-22l5-23z"/>
<path fill="#005af9" stroke="#005af9" d="M3389 1528l-5 36l34 19l5-36zM3429 1509l-6 38l34 19l6-38z"/>
<path fill="#005be7" stroke="#005be7" d="M3196 1549l-5 34l34 27l6-33zM3236 1543l-5 34l34 27l5-34z"/>
<path fill="#005cc8" stroke="#005cc8" d="M2025 2575l-5 17l-28 82l34 24l6-16l27-83z"/>
<path fill="#005cff" stroke="#005cff" d="M3503 1508l-6 38l34 18l6-39zM3542 1485l-5 40l34 17l5-40zM3616 1477l-5 42l34 16l5-42zM3690 1466l-6 44l35 16l5-43zM3798 1469l-6 45l35 15l5-44zM3872 1452l-6 48l34 15l6-47zM3980 1447l-6 51l34 14l6-50z"/>
<path fill="#005ddb" stroke="#005ddb" d="M2620 1887l-5 24l34 19l5-23zM2665 1860l-5 23l34 20l5-23zM2711 1831l-6 25l34 20l6-25zM2761 1776l-11 51l34 23l11-50zM2806 1748l-5 26l34 31l6-26zM2857 1700l-11 53l34 28l11-53zM2902 1673l-11 55l34 27l11-55zM2947 1643l-11 57l35 26l11-56z"/>
<path fill="#005ded" stroke="#005ded" d="M3276 1535l-6 35l34 23l6-35z"/>
<path fill="#005fce" stroke="#005fce" d="M2137 2354l-12 36l-27 89l34 24l39-126zM2215 2227l-28 95l34 23l28-95zM2282 2132l-22 80l34 23l22-79z"/>
<path fill="#0060e1" stroke="#0060e1" d="M2987 1640l-5 30l34 25l5-29zM3032 1606l-5 31l34 25l5-30zM3072 1601l-6 31l35 25l5-31z"/>
<path fill="#0060f3" stroke="#0060f3" d="M3315 1522l-5 36l34 22l5-36z"/>
<path fill="#0062c8" stroke="#0062c8" d="M2058 2473l-16 52l-17 50l34 24l6-16l27-86z"/>
<path fill="#0062d4" stroke="#0062d4" d="M2338 2074l-16 62l34 22l16-61zM2394 2012l-16 64l34 21l16-63zM2445 1969l-11 43l34 21l11-44zM2496 1923l-17 66l34 20l17-67zM2541 1896l-11 46l34 18l11-45z"/>
<path fill="#0062f9" stroke="#0062f9" d="M3355 1507l-6 37l35 20l5-36zM3395 1490l-6 38l34 19l6-38z"/>
<path fill="#0063e7" stroke="#0063e7" d="M3117 1563l-5 32l34 25l5-31zM3157 1556l-6 33l34 26l6-32z"/>
<path fill="#0064db" stroke="#0064db" d="M2586 1868l-5 24l-6 23l34 19l6-23l5-24zM2631 1840l-5 24l-6 23l34 20l11-47zM2676 1811l-11 49l34 20l12-49zM2722 1781l-11 50l34 20l11-49zM2767 1751l-6 25l34 24l6-26zM2812 1722l-6 26l35 31l5-26zM2863 1672l-6 28l34 28l6-27zM2908 1645l-6 28l34 27l6-28z"/>
<path fill="#0065ce" stroke="#0065ce" d="M2086 2384l-28 89l34 24l28-89zM2170 2242l-33 112l34 23l33-112zM2237 2149l-22 78l34 23l22-78z"/>
<path fill="#0065ed" stroke="#0065ed" d="M3242 1507l-6 36l34 27l6-35z"/>
<path fill="#0065ff" stroke="#0065ff" d="M3468 1489l-5 39l34 18l6-38zM3508 1467l-5 41l34 17l5-40zM3582 1460l-6 42l35 17l5-42zM3656 1449l-6 44l34 17l6-44zM3764 1453l-6 46l34 15l6-45zM3838 1436l-6 49l34 15l6-48zM3945 1432l-5 51l34 15l6-51z"/>
<path fill="#0067e1" stroke="#0067e1" d="M2953 1614l-6 29l35 27l5-30zM2993 1611l-6 29l34 26l6-29zM3038 1575l-6 31l34 26l6-31z"/>
<path fill="#0068f3" stroke="#0068f3" d="M3281 1499l-5 36l34 23l5-36z"/>
<path fill="#0069c8" stroke="#0069c8" d="M2030 2431l-44 137l-28 82l34 24l39-115l33-104z"/>
<path fill="#0069d4" stroke="#0069d4" d="M2298 2071l-16 61l34 24l17-61zM2355 2011l-17 63l34 23l17-63zM2405 1969l-5 22l-6 21l34 22l11-43zM2456 1924l-5 23l-6 22l34 20l11-44zM2507 1877l-11 46l34 19l11-46z"/>
<path fill="#006ae7" stroke="#006ae7" d="M3077 1569l-5 32l34 25l6-31zM3123 1530l-6 33l34 26l6-33zM3162 1522l-5 34l34 27l5-34zM3202 1514l-6 35l35 28l5-34z"/>
<path fill="#006bf9" stroke="#006bf9" d="M3321 1485l-6 37l34 22l6-37zM3361 1469l-6 38l34 21l6-38z"/>
<path fill="#006cce" stroke="#006cce" d="M2119 2274l-33 110l34 24l5-18l12-36l16-56zM2192 2164l-22 78l34 23l22-77zM2248 2109l-11 40l34 23l11-40z"/>
<path fill="#006cdb" stroke="#006cdb" d="M2552 1850l-11 46l34 19l6-23l5-24zM2597 1821l-5 24l-6 23l34 19l6-23l5-24zM2642 1791l-11 49l34 20l11-49zM2687 1761l-11 50l35 20l11-50zM2727 1756l-5 25l34 21l5-26zM2772 1725l-5 26l34 23l5-26zM2823 1668l-11 54l34 31l11-53zM2868 1644l-5 28l34 29l5-28zM2913 1616l-5 29l34 27l5-29z"/>
<path fill="#006eff" stroke="#006eff" d="M3434 1470l-5 39l34 19l5-39zM3474 1448l-6 41l35 19l5-41zM3548 1442l-6 43l34 17l6-42zM3622 1432l-6 45l34 16l6-44zM3730 1437l-6 46l34 16l6-46zM3803 1420l-5 49l34 16l6-49zM3911 1417l-5 51l34 15l5-51z"/>
<path fill="#006fe1" stroke="#006fe1" d="M2958 1584l-5 30l34 26l6-29zM2998 1580l-5 31l34 26l5-31z"/>
<path fill="#0070c8" stroke="#0070c8" d="M1946 2560l-22 65l34 25l17-49l5-17z"/>
<path fill="#0070d4" stroke="#0070d4" d="M2253 2088l-5 21l34 23l5-20zM2315 2008l-17 63l35 24l16-63zM2366 1968l-11 43l34 23l5-22l6-21zM2422 1903l-17 66l34 22l12-44l5-23zM2467 1879l-5 23l-6 22l34 21l6-22l5-23z"/>
<path fill="#0072e7" stroke="#0072e7" d="M3043 1543l-5 32l34 26l5-32zM3083 1537l-6 32l35 26l5-32z"/>
<path fill="#0073ce" stroke="#0073ce" d="M2068 2305l-38 126l34 24l38-125zM2146 2179l-5 20l-22 75l34 24l6-18l22-77zM2214 2085l-22 79l34 24l22-79z"/>
<path fill="#0073db" stroke="#0073db" d="M2518 1830l-11 47l34 19l11-46zM2563 1802l-11 48l34 18l6-23l5-24zM2603 1796l-6 25l34 19l6-24zM2648 1766l-6 25l34 20l6-25zM2693 1736l-6 25l35 20l5-25zM2738 1704l-11 52l34 20l11-51zM2783 1671l-11 54l34 23l11-53zM2828 1640l-5 28l34 32l6-28zM2874 1615l-6 29l34 29l6-28z"/>
<path fill="#0075ed" stroke="#0075ed" d="M3168 1487l-6 35l34 27l6-35zM3207 1479l-5 35l34 29l6-36zM3247 1471l-5 36l34 28l5-36z"/>
<path fill="#0076e1" stroke="#0076e1" d="M2919 1586l-6 30l34 27l6-29zM3004 1549l-6 31l34 26l6-31z"/>
<path fill="#0076ff" stroke="#0076ff" d="M3400 1450l-5 40l34 19l5-39zM3514 1424l-6 43l34 18l6-43zM3587 1415l-5 45l34 17l6-45zM3661 1403l-5 46l34 17l5-46zM3695 1420l-5 46l34 17l6-46zM3769 1405l-5 48l34 16l5-49zM3877 1401l-5 51l34 16l5-51zM3985 1392l-5 55l34 15l5-54z"/>
<path fill="#0077d4" stroke="#0077d4" d="M2270 2027l-17 61l34 24l17-62zM2326 1966l-11 42l34 24l11-42zM2382 1902l-16 66l34 23l16-66zM2433 1857l-11 46l34 21l6-22l5-23zM2478 1833l-11 46l34 21l11-46z"/>
<path fill="#0078f3" stroke="#0078f3" d="M3287 1461l-6 38l34 23l6-37z"/>
<path fill="#007adb" stroke="#007adb" d="M2523 1806l-5 24l34 20l5-24zM2568 1778l-5 24l34 19l6-25zM2614 1747l-11 49l34 20l11-50zM2659 1716l-11 50l34 20l11-50zM2698 1710l-5 26l34 20l6-26zM2744 1678l-6 26l34 21l6-27zM2789 1644l-6 27l34 24l6-27zM2834 1612l-6 28l35 32l5-28zM2879 1586l-5 29l34 30l5-29z"/>
<path fill="#007ae7" stroke="#007ae7" d="M3088 1504l-5 33l34 26l6-33z"/>
<path fill="#007cf9" stroke="#007cf9" d="M3326 1446l-5 39l34 22l6-38z"/>
<path fill="#007ded" stroke="#007ded" d="M3128 1496l-5 34l34 26l5-34z"/>
<path fill="#007ee1" stroke="#007ee1" d="M2924 1556l-5 30l34 28l5-30zM2964 1553l-6 31l35 27l5-31z"/>
<path fill="#007fff" stroke="#007fff" d="M3366 1428l-5 41l34 21l5-40zM3440 1428l-6 42l34 19l6-41zM3479 1404l-5 44l34 19l6-43zM3553 1397l-5 45l34 18l5-45zM3627 1385l-5 47l34 17l5-46zM3735 1388l-5 49l34 16l5-48zM3843 1385l-5 51l34 16l5-51zM3951 1377l-6 55l35 15l5-55z"/>
<path fill="#0081f3" stroke="#0081f3" d="M3253 1433l-6 38l34 28l6-38z"/>
<path fill="#0082e7" stroke="#0082e7" d="M3009 1517l-5 32l34 26l5-32zM3049 1511l-6 32l34 26l6-32z"/>
<path fill="#0084f9" stroke="#0084f9" d="M3292 1421l-5 40l34 24l5-39z"/>
<path fill="#0085ed" stroke="#0085ed" d="M3094 1469l-6 35l35 26l5-34zM3134 1461l-6 35l34 26l6-35zM3173 1451l-5 36l34 27l5-35zM3213 1442l-6 37l35 28l5-36z"/>
<path fill="#0087ff" stroke="#0087ff" d="M3406 1408l-6 42l34 20l6-42zM3519 1378l-5 46l34 18l5-45zM3593 1368l-6 47l35 17l5-47zM3701 1370l-6 50l35 17l5-49zM3809 1368l-6 52l35 16l5-51zM3917 1361l-6 56l34 15l6-55z"/>
<path fill="#0090ff" stroke="#0090ff" d="M3332 1405l-6 41l35 23l5-41zM3372 1386l-6 42l34 22l6-42zM3445 1384l-5 44l34 20l5-44zM3667 1353l-6 50l34 17l6-50zM3741 1335l-6 53l34 17l6-52zM3775 1353l-6 52l34 15l6-52zM3849 1329l-6 56l34 16l6-55zM3883 1346l-6 55l34 16l6-56zM3991 1333l-6 59l34 16l6-60z"/>
<path fill="#015b96" stroke="#015b96" d="M1524 1540l-12 37l89-92l11-38z"/>
<path fill="#015b9d" stroke="#015b9d" d="M1490 1649l-33 108l88-83l34-113z"/>
<path fill="#015f9c" stroke="#015f9c" d="M1512 1577l-22 72l89-88l22-76z"/>
<path fill="#016bae" stroke="#016bae" d="M1380 2208l-49 152l-72 213l77-46l49-148l6-16l66-205z"/>
<path fill="#0175c7" stroke="#0175c7" d="M1990 2424l-44 136l34 24l6-16l38-120z"/>
<path fill="#0179cd" stroke="#0179cd" d="M2012 2353l-22 71l34 24l6-17l16-53zM2101 2193l-16 57l-17 55l34 25l6-18l27-94zM2168 2101l-5 20l-17 58l35 24l22-78z"/>
<path fill="#017dd4" stroke="#017dd4" d="M2230 2024l-16 61l34 24l16-62zM2286 1963l-16 64l34 23l5-21l12-42zM2343 1900l-17 66l34 24l17-66zM2393 1857l-5 23l-6 22l34 23l6-22l5-23zM2444 1811l-11 46l34 22l11-46z"/>
<path fill="#0181da" stroke="#0181da" d="M2489 1785l-11 48l34 21l11-48zM2534 1758l-11 48l34 20l11-48zM2579 1728l-11 50l35 18l11-49zM2619 1722l-5 25l34 19l5-25zM2664 1690l-5 26l34 20l5-26zM2709 1657l-11 53l35 20l11-52zM2749 1650l-5 28l34 20l5-27zM2794 1616l-5 28l34 24l5-28zM2839 1583l-5 29l34 32l6-29zM2885 1556l-6 30l34 30l6-30z"/>
<path fill="#0184e0" stroke="#0184e0" d="M2930 1525l-6 31l34 28l6-31zM2969 1521l-5 32l34 27l6-31z"/>
<path fill="#0188e6" stroke="#0188e6" d="M3015 1484l-6 33l34 26l6-32zM3054 1477l-5 34l34 26l5-33z"/>
<path fill="#0190f2" stroke="#0190f2" d="M3179 1414l-6 37l34 28l6-37zM3218 1403l-5 39l34 29l6-38zM3258 1393l-5 40l34 28l5-40z"/>
<path fill="#0194f8" stroke="#0194f8" d="M3298 1381l-6 40l34 25l6-41z"/>
<path fill="#0197fe" stroke="#0197fe" d="M3337 1363l-5 42l34 23l6-42zM3411 1364l-5 44l34 20l5-44zM3485 1359l-6 45l35 20l5-46zM3559 1350l-6 47l34 18l6-47zM3633 1335l-6 50l34 18l6-50zM3706 1318l-5 52l34 18l6-53zM3814 1313l-5 55l34 17l6-56zM3957 1317l-6 60l34 15l6-59z"/>
<path fill="#025f8f" stroke="#025f8f" d="M1573 1374l-11 37l88-101l6-19l5-20z"/>
<path fill="#026096" stroke="#026096" d="M1551 1448l-27 92l88-93l27-97z"/>
<path fill="#026495" stroke="#026495" d="M1562 1411l-11 37l88-98l11-40z"/>
<path fill="#0270ae" stroke="#0270ae" d="M1435 2034l-16 53l-39 121l77-50l55-176z"/>
<path fill="#027bc7" stroke="#027bc7" d="M1956 2400l-33 103l-33 98l34 24l22-65l44-136z"/>
<path fill="#027fcd" stroke="#027fcd" d="M2051 2225l-39 128l34 25l39-128zM2123 2116l-22 77l34 25l6-19l16-59zM2179 2061l-11 40l35 24l11-40z"/>
<path fill="#0281c6" stroke="#0281c6" d="M1872 2529l-16 49l34 23l16-49z"/>
<path fill="#0283d3" stroke="#0283d3" d="M2185 2041l-6 20l35 24l5-20zM2247 1961l-17 63l34 23l17-62zM2297 1920l-5 22l-6 21l35 24l11-43zM2354 1856l-11 44l34 24l11-44zM2404 1811l-11 46l34 23l11-46z"/>
<path fill="#0285cc" stroke="#0285cc" d="M2000 2257l-44 143l34 24l5-18l12-35l27-90zM2078 2130l-5 20l-22 75l34 25l27-95zM2140 2056l-17 60l34 24l17-59z"/>
<path fill="#0287d9" stroke="#0287d9" d="M2449 1787l-5 24l34 22l6-24zM2500 1737l-11 48l34 21l11-48zM2545 1708l-11 50l34 20l11-50zM2585 1703l-6 25l35 19l5-25zM2630 1670l-11 52l34 19l11-51zM2670 1664l-6 26l34 20l6-26zM2715 1630l-6 27l35 21l5-28zM2755 1623l-6 27l34 21l6-27zM2800 1588l-6 28l34 24l6-28zM2845 1554l-6 29l35 32l5-29z"/>
<path fill="#0289d2" stroke="#0289d2" d="M2202 1979l-17 62l34 24l17-62zM2258 1918l-11 43l34 24l5-22l6-21zM2314 1854l-17 66l35 24l16-66zM2365 1810l-11 46l34 24l11-46zM2415 1764l-5 24l-6 23l34 23l6-23l5-24z"/>
<path fill="#028bdf" stroke="#028bdf" d="M2890 1526l-5 30l34 30l5-30zM2935 1493l-5 32l34 28l5-32z"/>
<path fill="#028fe5" stroke="#028fe5" d="M2975 1489l-6 32l35 28l5-32z"/>
<path fill="#0293eb" stroke="#0293eb" d="M3060 1443l-6 34l34 27l6-35zM3099 1434l-5 35l34 27l6-35zM3139 1424l-5 37l34 26l5-36z"/>
<path fill="#029ffd" stroke="#029ffd" d="M3377 1342l-5 44l34 22l5-44zM3451 1339l-6 45l34 20l6-45zM3525 1330l-6 48l34 19l6-47zM3598 1318l-5 50l34 17l6-50zM3780 1297l-5 56l34 15l5-55zM3922 1301l-5 60l34 16l6-60z"/>
<path fill="#03648f" stroke="#03648f" d="M1595 1298l-22 76l88-103l22-80z"/>
<path fill="#03688e" stroke="#03688e" d="M1617 1223l-16 57l-6 18l88-107l17-60l5-21z"/>
<path fill="#0375ad" stroke="#0375ad" d="M1479 1892l-16 54l-28 88l77-52l28-90l16-55z"/>
<path fill="#037aac" stroke="#037aac" d="M1512 1784l-33 108l77-55l33-112z"/>
<path fill="#0387c5" stroke="#0387c5" d="M1916 2394l-5 18l-22 68l-17 49l34 23l17-49l22-68l5-18z"/>
<path fill="#038bcb" stroke="#038bcb" d="M1944 2306l-28 88l34 23l28-88zM2027 2164l-27 93l34 24l28-93zM2100 2052l-5 20l-17 58l34 25l22-79zM2151 2016l-11 40l34 25l11-40z"/>
<path fill="#038dd8" stroke="#038dd8" d="M2460 1739l-11 48l35 22l11-48zM2506 1712l-6 25l34 21l6-25zM2551 1683l-6 25l34 20l6-25zM2596 1651l-11 52l34 19l11-52zM2636 1644l-6 26l34 20l6-26zM2681 1610l-11 54l34 20l11-54zM2850 1524l-5 30l34 32l6-30z"/>
<path fill="#038fd1" stroke="#038fd1" d="M2162 1975l-11 41l34 25l11-41zM2218 1916l-16 63l34 24l16-63zM2274 1853l-16 65l34 24l16-66zM2325 1809l-11 45l34 24l6-22l5-23zM2376 1764l-11 46l34 24l11-46z"/>
<path fill="#0391de" stroke="#0391de" d="M2720 1602l-5 28l34 20l6-27zM2766 1567l-11 56l34 21l11-56zM2805 1559l-5 29l34 24l5-29zM2896 1495l-6 31l34 30l6-31z"/>
<path fill="#0394d7" stroke="#0394d7" d="M2421 1740l-6 24l34 23l6-24zM2471 1690l-11 49l35 22l11-49zM2517 1662l-11 50l34 21l11-50zM2556 1657l-5 26l34 20l5-26zM2601 1625l-5 26l34 19l6-26zM2641 1617l-5 27l34 20l5-27zM2856 1493l-6 31l35 32l5-30z"/>
<path fill="#0396e4" stroke="#0396e4" d="M2980 1456l-5 33l34 28l6-33zM3020 1450l-5 34l34 27l5-34z"/>
<path fill="#0398dd" stroke="#0398dd" d="M2686 1582l-5 28l34 20l5-28zM2726 1574l-6 28l35 21l5-28zM2771 1538l-5 29l34 21l5-29zM2811 1529l-6 30l34 24l6-29zM2901 1463l-5 32l34 30l5-32zM2941 1461l-6 32l34 28l6-32z"/>
<path fill="#039aea" stroke="#039aea" d="M3105 1398l-6 36l35 27l5-37z"/>
<path fill="#039ef0" stroke="#039ef0" d="M3145 1387l-6 37l34 27l6-37zM3184 1375l-5 39l34 28l5-39zM3224 1364l-6 39l35 30l5-40z"/>
<path fill="#03a2f6" stroke="#03a2f6" d="M3264 1352l-6 41l34 28l6-40z"/>
<path fill="#03a6fc" stroke="#03a6fc" d="M3303 1338l-5 43l34 24l5-42zM3417 1318l-6 46l34 20l6-45zM3491 1311l-6 48l34 19l6-48zM3564 1299l-5 51l34 18l5-50zM3672 1300l-5 53l34 17l5-52zM3746 1279l-5 56l34 18l5-56zM3888 1286l-5 60l34 15l5-60zM3996 1268l-5 65l34 15l5-65z"/>
<path fill="#046c8d" stroke="#046c8d" d="M1639 1146l-22 77l88-113l6-20l16-62z"/>
<path fill="#04708d" stroke="#04708d" d="M1656 1088l-17 58l88-118l17-62z"/>
<path fill="#047fab" stroke="#047fab" d="M1540 1692l-28 92l77-59l28-95z"/>
<path fill="#0484b1" stroke="#0484b1" d="M1446 2193l-55 170l-6 16l-49 148l85-42l33-98l27-84l12-34l33-103l5-18z"/>
<path fill="#048cc4" stroke="#048cc4" d="M1874 2388l-55 166l37 24l55-166z"/>
<path fill="#0491ca" stroke="#0491ca" d="M1885 2353l-6 17l-5 18l37 24l5-18l6-17zM1982 2179l-38 127l34 23l38-127zM2055 2068l-28 96l35 24l27-96zM2117 1992l-17 60l34 24l17-60z"/>
<path fill="#0495d0" stroke="#0495d0" d="M2173 1933l-11 42l34 25l11-42zM2229 1873l-11 43l34 24l11-44zM2285 1808l-11 45l34 23l11-44zM2336 1763l-11 46l34 24l11-46zM2387 1716l-11 48l34 24l11-48z"/>
<path fill="#049ad6" stroke="#049ad6" d="M2432 1692l-11 48l34 23l11-48zM2477 1665l-6 25l35 22l5-25zM2522 1636l-5 26l34 21l5-26zM2567 1605l-5 27l-6 25l34 20l11-52zM2607 1598l-6 27l35 19l5-27zM2647 1590l-6 27l34 20l6-27zM2861 1462l-5 31l34 33l6-31z"/>
<path fill="#049ce3" stroke="#049ce3" d="M2986 1422l-6 34l35 28l5-34z"/>
<path fill="#049edc" stroke="#049edc" d="M2652 1563l-5 27l34 20l5-28zM2692 1554l-6 28l34 20l6-28zM2731 1546l-5 28l34 21l6-28zM2777 1508l-6 30l34 21l6-30zM2816 1499l-5 30l34 25l5-30z"/>
<path fill="#04a1e9" stroke="#04a1e9" d="M3026 1415l-6 35l34 27l6-34zM3065 1407l-5 36l34 26l5-35z"/>
<path fill="#04aefa" stroke="#04aefa" d="M3343 1319l-6 44l35 23l5-44zM3383 1296l-6 46l34 22l6-46zM3456 1290l-5 49l34 20l6-48zM3530 1280l-5 50l34 20l5-51zM3638 1282l-5 53l34 18l5-53zM3712 1261l-6 57l35 17l5-56zM3854 1269l-5 60l34 17l5-60zM3962 1252l-5 65l34 16l5-65z"/>
<path fill="#05748c" stroke="#05748c" d="M1678 1011l-22 77l88-122l22-84z"/>
<path fill="#05788b" stroke="#05788b" d="M1694 953l-16 58l88-129l16-63z"/>
<path fill="#057fa5" stroke="#057fa5" d="M1568 1599l-12 37l77-64l6-19l5-20z"/>
<path fill="#0584a4" stroke="#0584a4" d="M1590 1523l-22 76l76-66l22-79z"/>
<path fill="#0584ab" stroke="#0584ab" d="M1556 1636l-16 56l77-62l16-58z"/>
<path fill="#0589b1" stroke="#0589b1" d="M1457 2158l-11 35l85-45l6-17l5-18z"/>
<path fill="#058eb6" stroke="#058eb6" d="M1495 2035l-38 123l85-45l39-125z"/>
<path fill="#0592c3" stroke="#0592c3" d="M1815 2433l-33 99l37 22l33-98z"/>
<path fill="#0597c9" stroke="#0597c9" d="M1929 2210l-44 143l37 24l44-143zM2010 2084l-28 95l34 23l28-95zM2072 2009l-17 59l34 24l17-60z"/>
<path fill="#0598c2" stroke="#0598c2" d="M1826 2400l-11 33l37 23l11-34z"/>
<path fill="#059bcf" stroke="#059bcf" d="M2133 1930l-16 62l34 24l16-62zM2189 1870l-16 63l34 25l17-64zM2246 1807l-17 66l34 23l17-66zM2296 1762l-11 46l34 24l11-46zM2347 1716l-11 47l34 24l6-23l5-24z"/>
<path fill="#05a0d5" stroke="#05a0d5" d="M2392 1692l-5 24l34 24l5-24zM2443 1642l-11 50l34 23l11-50zM2488 1614l-11 51l34 22l11-51zM2528 1610l-6 26l34 21l6-25zM2573 1578l-6 27l34 20l6-27z"/>
<path fill="#05a3e2" stroke="#05a3e2" d="M2946 1428l-5 33l34 28l5-33z"/>
<path fill="#05a5db" stroke="#05a5db" d="M2612 1571l-5 27l34 19l6-27zM2658 1535l-6 28l34 19l6-28zM2697 1526l-5 28l34 20l5-28zM2737 1517l-6 29l35 21l5-29zM2782 1478l-5 30l34 21l5-30zM2822 1469l-6 30l34 25l6-31zM2867 1430l-6 32l35 33l5-32zM2907 1431l-6 32l34 30l6-32z"/>
<path fill="#05a7e8" stroke="#05a7e8" d="M3031 1380l-5 35l34 28l5-36zM3071 1371l-6 36l34 27l6-36z"/>
<path fill="#05aae1" stroke="#05aae1" d="M2952 1394l-6 34l34 28l6-34z"/>
<path fill="#05aced" stroke="#05aced" d="M3110 1360l-5 38l34 26l6-37zM3150 1348l-5 39l34 27l5-39z"/>
<path fill="#05b0f3" stroke="#05b0f3" d="M3190 1335l-6 40l34 28l6-39zM3229 1322l-5 42l34 29l6-41zM3269 1309l-5 43l34 29l5-43z"/>
<path fill="#05b5f9" stroke="#05b5f9" d="M3309 1293l-6 45l34 25l6-44zM3422 1269l-5 49l34 21l5-49zM3496 1260l-5 51l34 19l5-50zM3604 1264l-6 54l35 17l5-53zM3678 1243l-6 57l34 18l6-57zM3820 1252l-6 61l35 16l5-60zM3928 1236l-6 65l35 16l5-65z"/>
<path fill="#067c8b" stroke="#067c8b" d="M1711 894l-17 59l88-134l17-63z"/>
<path fill="#0689a3" stroke="#0689a3" d="M1612 1447l-22 76l76-69l22-80z"/>
<path fill="#068ea3" stroke="#068ea3" d="M1634 1369l-22 78l76-73l22-81z"/>
<path fill="#0693b6" stroke="#0693b6" d="M1534 1910l-33 108l-6 17l86-47l38-129z"/>
<path fill="#069dc1" stroke="#069dc1" d="M1767 2430l-28 82l43 20l27-82z"/>
<path fill="#069dc8" stroke="#069dc8" d="M1875 2243l-49 157l37 22l49-157zM1962 2099l-33 111l37 24l33-112zM2032 2006l-22 78l34 23l5-20l17-58zM2077 1989l-5 20l34 23l5-20z"/>
<path fill="#06a2ce" stroke="#06a2ce" d="M2094 1928l-17 61l34 23l17-61zM2150 1867l-17 63l34 24l17-63zM2200 1826l-11 44l35 24l11-43zM2257 1762l-6 22l-5 23l34 23l11-45zM2307 1716l-11 46l34 24l11-46zM2352 1692l-5 24l34 24l6-24z"/>
<path fill="#06a3c7" stroke="#06a3c7" d="M1822 2258l-55 172l42 20l28-84l27-88zM1914 2115l-39 128l37 22l39-129zM1984 2022l-22 77l37 23l22-77zM2037 1986l-5 20l34 23l6-20z"/>
<path fill="#06a6d4" stroke="#06a6d4" d="M2403 1643l-11 49l34 24l11-49zM2448 1617l-5 25l34 23l5-25zM2494 1588l-6 26l34 22l6-26zM2539 1557l-11 53l34 22l11-54zM2578 1551l-5 27l34 20l5-27z"/>
<path fill="#06abda" stroke="#06abda" d="M2624 1516l-12 55l35 19l11-55zM2663 1506l-5 29l34 19l5-28zM2703 1497l-6 29l34 20l6-29zM2742 1488l-5 29l34 21l6-30z"/>
<path fill="#06aee6" stroke="#06aee6" d="M2991 1388l-5 34l34 28l6-35z"/>
<path fill="#06b0e0" stroke="#06b0e0" d="M2788 1448l-6 30l34 21l6-30zM2827 1438l-5 31l34 24l5-31zM2912 1398l-5 33l34 30l5-33z"/>
<path fill="#06b5e5" stroke="#06b5e5" d="M2997 1352l-6 36l35 27l5-35zM3037 1343l-6 37l34 27l6-36z"/>
<path fill="#06bcf8" stroke="#06bcf8" d="M3348 1272l-5 47l34 23l6-46zM3570 1246l-6 53l34 19l6-54zM3644 1225l-6 57l34 18l6-57zM3752 1219l-6 60l34 18l6-61zM3786 1236l-6 61l34 16l6-61zM3894 1220l-6 66l34 15l6-65z"/>
<path fill="#07808a" stroke="#07808a" d="M1722 856l-11 38l88-138l5-21l6-20z"/>
<path fill="#078d9c" stroke="#078d9c" d="M1650 1310l-16 59l76-76l17-62z"/>
<path fill="#07929b" stroke="#07929b" d="M1667 1251l-17 59l77-79l16-63z"/>
<path fill="#0799b5" stroke="#0799b5" d="M1562 1818l-28 92l85-51l28-94z"/>
<path fill="#079eb4" stroke="#079eb4" d="M1589 1725l-27 93l85-53l27-97z"/>
<path fill="#079ebb" stroke="#079ebb" d="M1515 2200l-22 69l-12 34l-27 84l-33 98l85-21l39-115l55-171z"/>
<path fill="#07a3c0" stroke="#07a3c0" d="M1716 2428l-22 65l45 19l6-16l16-50z"/>
<path fill="#07a4ba" stroke="#07a4ba" d="M1542 2113l-27 87l85-22l27-89z"/>
<path fill="#07a8c6" stroke="#07a8c6" d="M1776 2240l-27 87l-33 101l45 18l6-16l55-172zM1860 2132l-38 126l42 20l6-17l33-109zM1936 2039l-22 76l37 21l22-75zM2000 1963l-16 59l37 23l16-59z"/>
<path fill="#07a8cd" stroke="#07a8cd" d="M2048 1946l-11 40l35 23l11-41zM2105 1886l-11 42l34 23l5-21l6-20zM2161 1825l-11 42l34 24l11-43zM2217 1760l-17 66l35 25l16-67zM2268 1716l-11 46l34 23l11-46zM2313 1692l-6 24l34 24l6-24z"/>
<path fill="#07add3" stroke="#07add3" d="M2364 1644l-12 48l35 24l11-48zM2409 1618l-6 25l34 24l6-25zM2454 1591l-6 26l34 23l6-26zM2499 1562l-5 26l34 22l5-26zM2544 1530l-5 27l34 21l5-27z"/>
<path fill="#07aecc" stroke="#07aecc" d="M2006 1943l-6 20l37 23l6-20zM2065 1885l-17 61l35 22l16-61zM2121 1823l-16 63l34 24l16-64zM2177 1759l-16 66l34 23l16-66zM2228 1715l-11 45l34 24l6-22l5-23zM2279 1669l-6 23l-5 24l34 23l11-47zM2318 1669l-5 23l34 24l5-24z"/>
<path fill="#07b2d9" stroke="#07b2d9" d="M2584 1524l-6 27l34 20l6-27zM2629 1487l-5 29l34 19l5-29zM2669 1477l-6 29l34 20l6-29zM2708 1468l-5 29l34 20l5-29zM2872 1398l-5 32l34 33l6-32z"/>
<path fill="#07b7df" stroke="#07b7df" d="M2748 1458l-6 30l35 20l5-30zM2833 1406l-6 32l34 24l6-32zM2918 1364l-6 34l34 30l6-34zM2957 1359l-5 35l34 28l5-34z"/>
<path fill="#07baeb" stroke="#07baeb" d="M3076 1333l-5 38l34 27l5-38zM3116 1321l-6 39l35 27l5-39z"/>
<path fill="#07bff1" stroke="#07bff1" d="M3156 1308l-6 40l34 27l6-40zM3195 1294l-5 41l34 29l5-42zM3235 1279l-6 43l35 30l5-43z"/>
<path fill="#07c4f7" stroke="#07c4f7" d="M3275 1264l-6 45l34 29l6-45zM3314 1247l-5 46l34 26l5-47zM3388 1247l-5 49l34 22l5-49zM3462 1239l-6 51l35 21l5-51zM3536 1226l-6 54l34 19l6-53zM3860 1204l-6 65l34 17l6-66zM4002 1197l-6 71l34 15l6-71z"/>
<path fill="#089594" stroke="#089594" d="M1700 1131l-17 60l77-87l16-64z"/>
<path fill="#08969b" stroke="#08969b" d="M1683 1191l-16 60l76-83l17-64z"/>
<path fill="#089ead" stroke="#089ead" d="M1611 1649l-11 38l85-58l6-19l5-20z"/>
<path fill="#08a3ad" stroke="#08a3ad" d="M1633 1572l-22 77l85-59l22-80z"/>
<path fill="#08a3b3" stroke="#08a3b3" d="M1600 1687l-11 38l85-57l6-19l5-20z"/>
<path fill="#08a9c0" stroke="#08a9c0" d="M1564 2042l-22 71l85-24l22-72zM1561 2298l-16 51l-39 115l74-1l39-115l16-51zM1597 2414l-17 49l62 9l12-32l5-17zM1665 2407l-6 16l-5 17l-12 32l52 21l22-65z"/>
<path fill="#08aec5" stroke="#08aec5" d="M1720 2237l-55 170l51 21l55-171zM1815 2114l-39 126l46 18l38-126zM1893 2020l-27 94l-6 18l43 20l33-113zM1953 1981l-17 58l37 22l16-59z"/>
<path fill="#08b3d2" stroke="#08b3d2" d="M2324 1645l-6 24l34 23l6-24zM2375 1594l-11 50l34 24l11-50zM2420 1567l-11 51l34 24l11-51zM2465 1539l-11 52l34 23l11-52zM2510 1508l-5 28l-6 26l34 22l11-54zM2550 1503l-6 27l34 21l6-27z"/>
<path fill="#08b4cb" stroke="#08b4cb" d="M1958 1962l-5 19l36 21l6-19zM2022 1883l-16 60l37 23l16-60zM2081 1822l-16 63l34 22l17-63zM2138 1758l-17 65l34 23l17-65zM2188 1714l-5 23l-6 22l34 23l11-44zM2239 1669l-11 46l34 24l6-23l5-24zM2284 1645l-5 24l34 23l5-23z"/>
<path fill="#08b8d8" stroke="#08b8d8" d="M2589 1496l-5 28l34 20l6-28zM2635 1459l-6 28l34 19l6-29zM2674 1448l-5 29l34 20l5-29zM2878 1365l-6 33l35 33l5-33z"/>
<path fill="#08b9d1" stroke="#08b9d1" d="M2335 1596l-11 49l34 23l11-49zM2380 1569l-5 25l34 24l5-25zM2425 1541l-5 26l34 24l5-26zM2470 1512l-5 27l34 23l6-26zM2516 1481l-6 27l34 22l6-27z"/>
<path fill="#08bede" stroke="#08bede" d="M2714 1438l-6 30l34 20l6-30zM2754 1427l-6 31l34 20l6-30zM2793 1417l-5 31l34 21l5-31zM2838 1373l-5 33l34 24l5-32zM2923 1329l-5 35l34 30l5-35z"/>
<path fill="#08c1ea" stroke="#08c1ea" d="M3042 1305l-5 38l34 28l5-38zM3082 1294l-6 39l34 27l6-39z"/>
<path fill="#08c3e3" stroke="#08c3e3" d="M2963 1323l-6 36l34 29l6-36zM3002 1315l-5 37l34 28l6-37z"/>
<path fill="#08c6f0" stroke="#08c6f0" d="M3121 1281l-5 40l34 27l6-40zM3161 1267l-5 41l34 27l5-41z"/>
<path fill="#08cbf6" stroke="#08cbf6" d="M3354 1223l-6 49l35 24l5-49zM3428 1218l-6 51l34 21l6-51zM3502 1206l-6 54l34 20l6-54zM3609 1207l-5 57l34 18l6-57zM3717 1201l-5 60l34 18l6-60zM3825 1187l-5 65l34 17l6-65zM3968 1181l-6 71l34 16l6-71z"/>
<path fill="#099994" stroke="#099994" d="M1716 1069l-16 62l76-91l17-65z"/>
<path fill="#09a8ac" stroke="#09a8ac" d="M1650 1513l-17 59l85-62l17-62z"/>
<path fill="#09afbf" stroke="#09afbf" d="M1597 1933l-5 19l-28 90l85-25l6-18l27-93zM1600 2178l-39 120l74-1l39-121zM1619 2348l-6 16l-16 50l62 9l6-16l16-50z"/>
<path fill="#09b4be" stroke="#09b4be" d="M1625 1840l-28 93l85-27l28-95z"/>
<path fill="#09b4c4" stroke="#09b4c4" d="M1622 2107l-22 71l74-2l22-72zM1679 2158l-27 88l-33 102l62 9l28-85l33-106zM1764 2094l-44 143l51 20l44-143zM1842 2021l-27 93l45 18l28-93zM1899 2001l-6 19l43 19l5-19z"/>
<path fill="#09baca" stroke="#09baca" d="M1915 1943l-16 58l42 19l17-58zM1980 1882l-22 80l37 21l22-80zM2039 1821l-17 62l37 23l17-63zM2098 1758l-17 64l35 22l16-64zM2149 1714l-11 44l34 23l11-44zM2199 1669l-5 23l-6 22l34 24l12-46zM2250 1622l-11 47l34 23l6-23l5-24z"/>
<path fill="#09bfd7" stroke="#09bfd7" d="M2555 1475l-5 28l34 21l5-28zM2600 1439l-11 57l35 20l11-57zM2640 1429l-5 30l34 18l5-29zM2884 1331l-6 34l34 33l6-34z"/>
<path fill="#09c0d0" stroke="#09c0d0" d="M2295 1597l-11 48l34 24l11-49zM2340 1571l-5 25l34 23l6-25zM2386 1544l-6 25l34 24l6-26zM2431 1515l-6 26l34 24l6-26zM2476 1485l-6 27l35 24l5-28z"/>
<path fill="#09c4dc" stroke="#09c4dc" d="M2680 1418l-6 30l34 20l6-30zM2719 1407l-5 31l34 20l6-31zM2759 1396l-5 31l34 21l5-31zM2799 1385l-6 32l34 21l6-32z"/>
<path fill="#09cae2" stroke="#09cae2" d="M2968 1287l-5 36l34 29l5-37z"/>
<path fill="#09cdef" stroke="#09cdef" d="M3201 1251l-6 43l34 28l6-43z"/>
<path fill="#09cfe8" stroke="#09cfe8" d="M3008 1278l-6 37l35 28l5-38zM3048 1267l-6 38l34 28l6-39z"/>
<path fill="#09d3f5" stroke="#09d3f5" d="M3240 1235l-5 44l34 30l6-45zM3280 1218l-5 46l34 29l5-46zM3394 1196l-6 51l34 22l6-51zM3467 1185l-5 54l34 21l6-54zM3575 1189l-5 57l34 18l5-57zM3683 1183l-5 60l34 18l5-60zM3791 1171l-5 65l34 16l5-65zM3933 1165l-5 71l34 16l6-71z"/>
<path fill="#0aadab" stroke="#0aadab" d="M1672 1434l-22 79l85-65l22-83z"/>
<path fill="#0ab2aa" stroke="#0ab2aa" d="M1688 1374l-16 60l85-69l17-63z"/>
<path fill="#0ababd" stroke="#0ababd" d="M1652 1746l-27 94l85-29l28-97z"/>
<path fill="#0abac4" stroke="#0abac4" d="M1655 1999l-33 108l74-3l33-109zM1718 2032l-39 126l63 8l33-108l5-19zM1797 1983l-33 111l51 20l33-112zM1848 2002l-6 19l46 18l5-19z"/>
<path fill="#0ac0c3" stroke="#0ac0c3" d="M1688 1887l-33 112l74-4l33-113zM1745 1939l-27 93l62 7l6-18l22-76zM1802 1964l-5 19l51 19l5-19z"/>
<path fill="#0ac0c9" stroke="#0ac0c9" d="M1870 1926l-22 76l45 18l22-77zM1932 1883l-17 60l43 19l17-60zM1997 1821l-17 61l37 21l17-62zM2056 1757l-17 64l37 22l16-63zM2109 1715l-5 22l-6 21l34 22l11-44zM2160 1669l-11 45l34 23l5-23l6-22zM2210 1623l-11 46l35 23l11-47z"/>
<path fill="#0ac5d6" stroke="#0ac5d6" d="M2521 1453l-5 28l34 22l5-28zM2561 1447l-6 28l34 21l6-28zM2606 1410l-6 29l35 20l5-30z"/>
<path fill="#0ac6cf" stroke="#0ac6cf" d="M2256 1598l-6 24l34 23l6-24zM2306 1548l-11 49l34 23l11-49zM2351 1520l-11 51l35 23l11-50zM2397 1492l-11 52l34 23l11-52zM2442 1462l-11 53l34 24l11-54zM2481 1458l-5 27l34 23l6-27z"/>
<path fill="#0acbdb" stroke="#0acbdb" d="M2646 1399l-6 30l34 19l6-30zM2685 1388l-5 30l34 20l5-31zM2725 1376l-6 31l35 20l5-31zM2765 1365l-6 31l34 21l6-32zM2844 1340l-6 33l34 25l6-33z"/>
<path fill="#0accd5" stroke="#0accd5" d="M2527 1425l-6 28l34 22l6-28zM2566 1418l-5 29l34 21l5-29z"/>
<path fill="#0ad0e1" stroke="#0ad0e1" d="M2804 1353l-5 32l34 21l5-33zM2929 1293l-6 36l34 30l6-36z"/>
<path fill="#0ad5ee" stroke="#0ad5ee" d="M3087 1254l-5 40l34 27l5-40zM3127 1240l-6 41l35 27l5-41z"/>
<path fill="#0adaf4" stroke="#0adaf4" d="M3167 1224l-6 43l34 27l6-43zM3320 1198l-6 49l34 25l6-49zM3541 1169l-5 57l34 20l5-57zM3649 1165l-5 60l34 18l5-60zM3757 1154l-5 65l34 17l5-65zM3899 1149l-5 71l34 16l5-71z"/>
<path fill="#0bc0bc" stroke="#0bc0bc" d="M1669 1688l-17 58l86-32l16-60z"/>
<path fill="#0bc6c2" stroke="#0bc6c2" d="M1710 1811l-22 76l74-5l22-78zM1762 1882l-17 57l63 6l16-57z"/>
<path fill="#0bc6c8" stroke="#0bc6c8" d="M1819 1907l-17 57l51 19l17-57zM1892 1847l-22 79l45 17l22-80zM1954 1803l-22 80l43 19l22-81zM2013 1759l-16 62l37 20l16-62zM2067 1715l-11 42l36 23l12-43zM2120 1671l-11 44l34 21l11-44zM2171 1624l-11 45l34 23l11-46zM2216 1599l-6 24l35 22l5-23z"/>
<path fill="#0bccce" stroke="#0bccce" d="M2221 1575l-5 24l34 23l6-24zM2267 1550l-11 48l34 23l11-48zM2312 1523l-6 25l34 23l6-25zM2357 1495l-6 25l35 24l5-26zM2402 1465l-5 27l34 23l5-26zM2447 1434l-5 28l34 23l5-27zM2487 1430l-6 28l35 23l5-28z"/>
<path fill="#0bd2d4" stroke="#0bd2d4" d="M2492 1402l-5 28l34 23l6-28zM2532 1396l-5 29l34 22l5-29zM2572 1389l-6 29l34 21l6-29z"/>
<path fill="#0bd2da" stroke="#0bd2da" d="M2611 1380l-5 30l34 19l6-30zM2651 1369l-5 30l34 19l5-30zM2691 1357l-6 31l34 19l6-31zM2730 1345l-5 31l34 20l6-31zM2889 1296l-5 35l34 33l5-35z"/>
<path fill="#0bd7e0" stroke="#0bd7e0" d="M2770 1332l-5 33l34 20l5-32zM2810 1319l-6 34l34 20l6-33zM2849 1306l-5 34l34 25l6-34zM2934 1257l-5 36l34 30l5-36z"/>
<path fill="#0bdde6" stroke="#0bdde6" d="M2974 1249l-6 38l34 28l6-37zM3014 1239l-6 39l34 27l6-38z"/>
<path fill="#0be1f3" stroke="#0be1f3" d="M3206 1206l-5 45l34 28l5-44zM3246 1188l-6 47l35 29l5-46zM3286 1169l-6 49l34 29l6-49zM3359 1172l-5 51l34 24l6-51zM3433 1164l-5 54l34 21l5-54zM3507 1149l-5 57l34 20l5-57zM3615 1146l-6 61l35 18l5-60zM3723 1136l-6 65l35 18l5-65zM3865 1133l-5 71l34 16l5-71z"/>
<path fill="#0cc6bb" stroke="#0cc6bb" d="M1691 1610l-6 19l-16 59l85-34l17-60l5-21z"/>
<path fill="#0cccc1" stroke="#0cccc1" d="M1732 1734l-22 77l74-7l22-79z"/>
<path fill="#0cccc7" stroke="#0cccc7" d="M1767 1863l-5 19l62 6l6-20zM1841 1829l-22 78l51 19l22-79zM1909 1787l-12 40l-5 20l45 16l17-60zM1970 1741l-16 62l43 18l16-62zM2030 1695l-17 64l37 20l17-64zM2083 1649l-16 66l37 22l16-66zM2131 1626l-11 45l34 21l11-45zM2182 1577l-11 47l34 22l11-47z"/>
<path fill="#0cd2c6" stroke="#0cd2c6" d="M1789 1785l-22 78l63 5l22-78zM1863 1750l-22 79l51 18l22-80zM1925 1726l-16 61l45 16l16-62zM1982 1699l-12 42l43 18l11-43zM2041 1651l-11 44l37 20l11-44zM2094 1604l-5 23l-6 22l37 22l11-45zM2142 1580l-11 46l34 21l11-46z"/>
<path fill="#0cd2cd" stroke="#0cd2cd" d="M2227 1551l-6 24l35 23l5-24zM2272 1525l-5 25l34 23l5-25zM2323 1472l-11 51l34 23l11-51zM2362 1469l-5 26l34 23l6-26zM2408 1438l-6 27l34 24l6-27zM2453 1407l-6 27l34 24l6-28z"/>
<path fill="#0cd8d9" stroke="#0cd8d9" d="M2617 1350l-6 30l35 19l5-30zM2657 1338l-6 31l34 19l6-31zM2696 1325l-5 32l34 19l5-31zM2895 1261l-6 35l34 33l6-36z"/>
<path fill="#0cd9d3" stroke="#0cd9d3" d="M2498 1374l-6 28l35 23l5-29zM2538 1367l-6 29l34 22l6-29zM2577 1359l-5 30l34 21l5-30z"/>
<path fill="#0cdedf" stroke="#0cdedf" d="M2736 1313l-6 32l35 20l5-33zM2776 1299l-6 33l34 21l6-34zM2815 1286l-5 33l34 21l5-34zM2855 1272l-6 34l35 25l5-35z"/>
<path fill="#0ce3ec" stroke="#0ce3ec" d="M3053 1227l-5 40l34 27l5-40zM3093 1213l-6 41l34 27l6-41z"/>
<path fill="#0ce9f1" stroke="#0ce9f1" d="M3132 1197l-5 43l34 27l6-43zM3172 1179l-5 45l34 27l5-45zM3325 1147l-5 51l34 25l5-51zM3399 1142l-5 54l34 22l5-54zM3473 1128l-6 57l35 21l5-57zM3581 1128l-6 61l34 18l6-61zM3689 1118l-6 65l34 18l6-65zM3831 1117l-6 70l35 17l5-71zM4007 1118l-5 79l34 15l5-79z"/>
<path fill="#0dd9cc" stroke="#0dd9cc" d="M2193 1530l-11 47l34 22l11-48zM2238 1503l-11 48l34 23l11-49zM2283 1475l-11 50l34 23l11-50zM2328 1446l-5 26l34 23l5-26zM2373 1416l-11 53l35 23l11-54zM2413 1411l-5 27l34 24l5-28zM2458 1379l-5 28l34 23l5-28z"/>
<path fill="#0ddfd2" stroke="#0ddfd2" d="M2503 1345l-5 29l34 22l6-29zM2543 1338l-5 29l34 22l5-30z"/>
<path fill="#0ddfd8" stroke="#0ddfd8" d="M2900 1224l-5 37l34 32l5-36z"/>
<path fill="#0de5de" stroke="#0de5de" d="M2940 1219l-6 38l34 30l6-38z"/>
<path fill="#0debe4" stroke="#0debe4" d="M2979 1211l-5 38l34 29l6-39z"/>
<path fill="#0df0f0" stroke="#0df0f0" d="M3212 1160l-6 46l34 29l6-47zM3251 1140l-5 48l34 30l6-49zM3365 1118l-6 54l35 24l5-54zM3547 1108l-6 61l34 20l6-61zM3655 1100l-6 65l34 18l6-65zM3797 1101l-6 70l34 16l6-70zM3973 1103l-5 78l34 16l5-79z"/>
<path fill="#0e9389" stroke="#0e9389" d="M1727 1028l-5 21l-6 20l77-94l11-44z"/>
<path fill="#0ee6d7" stroke="#0ee6d7" d="M2583 1329l-6 30l34 21l6-30zM2622 1319l-5 31l34 19l6-31zM2662 1307l-5 31l34 19l5-32z"/>
<path fill="#0eecdd" stroke="#0eecdd" d="M2702 1293l-6 32l34 20l6-32zM2741 1280l-5 33l34 19l6-33zM2781 1266l-5 33l34 20l5-33zM2860 1236l-5 36l34 24l6-35z"/>
<path fill="#0ef1e9" stroke="#0ef1e9" d="M3019 1199l-5 40l34 28l5-40zM3059 1185l-6 42l34 27l6-41z"/>
<path fill="#0ef2e3" stroke="#0ef2e3" d="M2821 1251l-6 35l34 20l6-34z"/>
<path fill="#0ef8ef" stroke="#0ef8ef" d="M3098 1170l-5 43l34 27l5-43zM3138 1152l-6 45l35 27l5-45zM3291 1118l-5 51l34 29l5-51zM3439 1107l-6 57l34 21l6-57zM3513 1088l-6 61l34 20l6-61zM3621 1081l-6 65l34 19l6-65zM3763 1083l-6 71l34 17l6-70zM3905 1072l-6 77l34 16l6-78zM3939 1087l-6 78l35 16l5-78z"/>
<path fill="#0ff9e8" stroke="#0ff9e8" d="M2985 1171l-6 40l35 28l5-40zM3025 1158l-6 41l34 28l6-42z"/>
<path fill="#0fffee" stroke="#0fffee" d="M3178 1133l-6 46l34 27l6-46zM3217 1111l-5 49l34 28l5-48zM3331 1093l-6 54l34 25l6-54zM3405 1085l-6 57l34 22l6-57zM3478 1068l-5 60l34 21l6-61zM3586 1063l-5 65l34 18l6-65zM3728 1065l-5 71l34 18l6-71zM3871 1056l-6 77l34 16l6-77z"/>
<path fill="#11b2a4" stroke="#11b2a4" d="M1705 1313l-17 61l86-72l16-64z"/>
<path fill="#12c6b5" stroke="#12c6b5" d="M1707 1550l-16 60l85-37l17-61z"/>
<path fill="#139384" stroke="#139384" d="M1744 966l-17 62l77-97l17-67z"/>
<path fill="#13ccba" stroke="#13ccba" d="M1749 1674l-17 60l74-9l16-60z"/>
<path fill="#13d2c0" stroke="#13d2c0" d="M1811 1705l-22 80l63 5l22-81zM1879 1688l-16 62l51 17l17-62zM1942 1663l-17 63l45 15l12-42l5-21zM1998 1635l-16 64l42 17l17-65zM2052 1607l-11 44l37 20l11-44zM2105 1559l-5 23l-6 22l37 22l11-46zM2148 1557l-6 23l34 21l6-24z"/>
<path fill="#14d9c5" stroke="#14d9c5" d="M2153 1533l-5 24l34 20l5-23zM2198 1506l-5 24l34 21l5-24zM2243 1478l-5 25l34 22l6-25zM2289 1450l-6 25l34 23l6-26zM2334 1420l-6 26l34 23l6-27zM2379 1389l-6 27l35 22l5-27zM2424 1356l-11 55l34 23l11-55z"/>
<path fill="#15dfca" stroke="#15dfca" d="M2464 1351l-6 28l34 23l6-28zM2509 1316l-6 29l35 22l5-29zM2549 1308l-6 30l34 21l6-30z"/>
<path fill="#15e6d0" stroke="#15e6d0" d="M2588 1299l-5 30l34 21l5-31zM2628 1288l-6 31l35 19l5-31z"/>
<path fill="#168c7a" stroke="#168c7a" d="M1755 924l-11 42l77-102l11-45z"/>
<path fill="#16ecd5" stroke="#16ecd5" d="M2668 1275l-6 32l34 18l6-32zM2707 1261l-5 32l34 20l5-33zM2747 1246l-6 34l35 19l5-33zM2906 1187l-6 37l34 33l6-38z"/>
<path fill="#16f2db" stroke="#16f2db" d="M2787 1231l-6 35l34 20l6-35zM2826 1216l-5 35l34 21l5-36zM2866 1200l-6 36l35 25l5-37zM2945 1181l-5 38l34 30l5-38z"/>
<path fill="#17b29e" stroke="#17b29e" d="M1716 1272l-11 41l85-75l11-44z"/>
<path fill="#18ffe6" stroke="#18ffe6" d="M3064 1143l-5 42l34 28l5-43zM3104 1126l-6 44l34 27l6-45zM3144 1106l-6 46l34 27l6-46zM3257 1089l-6 51l35 29l5-51zM3370 1062l-5 56l34 24l6-57zM3694 1047l-5 71l34 18l5-71zM3836 1040l-5 77l34 16l6-77z"/>
<path fill="#19c6ae" stroke="#19c6ae" d="M1724 1489l-17 61l86-38l16-63z"/>
<path fill="#1accb3" stroke="#1accb3" d="M1771 1594l-22 80l73-9l22-83z"/>
<path fill="#1b8c76" stroke="#1b8c76" d="M1771 861l-16 63l77-105l16-67z"/>
<path fill="#1bd2b9" stroke="#1bd2b9" d="M1828 1644l-17 61l63 4l16-62zM1896 1626l-17 62l52 17l16-63zM1953 1620l-11 43l45 15l11-43zM2009 1591l-11 44l43 16l11-44zM2063 1563l-11 44l37 20l5-23l6-22z"/>
<path fill="#1bd9be" stroke="#1bd9be" d="M2116 1513l-11 46l37 21l6-23l5-24zM2164 1486l-5 24l-6 23l34 21l11-48zM2209 1457l-11 49l34 21l11-49zM2254 1428l-11 50l35 22l11-50zM2300 1398l-11 52l34 22l11-52zM2339 1394l-5 26l34 22l5-26zM2384 1361l-5 28l34 22l6-27z"/>
<path fill="#1cac94" stroke="#1cac94" d="M1732 1210l-5 21l-6 20l86-78l11-45z"/>
<path fill="#1cdfc3" stroke="#1cdfc3" d="M2430 1328l-6 28l34 23l6-28zM2469 1322l-5 29l34 23l5-29zM2514 1286l-5 30l34 22l6-30z"/>
<path fill="#1db299" stroke="#1db299" d="M1721 1251l-5 21l85-78l6-21z"/>
<path fill="#1de6c8" stroke="#1de6c8" d="M2554 1278l-5 30l34 21l5-30zM2594 1268l-6 31l34 20l6-31z"/>
<path fill="#1eecce" stroke="#1eecce" d="M2633 1256l-5 32l34 19l6-32zM2673 1242l-5 33l34 18l5-32zM2713 1227l-6 34l34 19l6-34z"/>
<path fill="#1ff2d3" stroke="#1ff2d3" d="M2752 1212l-5 34l34 20l6-35zM2792 1196l-5 35l34 20l5-35zM2951 1142l-6 39l34 30l6-40z"/>
<path fill="#1ff9d8" stroke="#1ff9d8" d="M2990 1130l-5 41l34 28l6-41zM3030 1116l-5 42l34 27l5-42z"/>
<path fill="#208c71" stroke="#208c71" d="M1782 819l-11 42l77-109l11-46z"/>
<path fill="#20c6a8" stroke="#20c6a8" d="M1740 1428l-16 61l85-40l17-64z"/>
<path fill="#20ffdd" stroke="#20ffdd" d="M3183 1085l-5 48l34 27l5-49zM3297 1065l-6 53l34 29l6-54zM3444 1047l-5 60l34 21l5-60zM3552 1043l-5 65l34 20l5-65zM3660 1030l-5 70l34 18l5-71zM3802 1024l-5 77l34 16l5-77zM4013 1032l-6 86l34 15l6-86z"/>
<path fill="#21ac8e" stroke="#21ac8e" d="M1743 1168l-11 42l86-82l11-44z"/>
<path fill="#21ccad" stroke="#21ccad" d="M1782 1553l-6 20l-5 21l73-12l11-42z"/>
<path fill="#22d2b2" stroke="#22d2b2" d="M1844 1582l-16 62l62 3l17-63zM1907 1584l-11 42l51 16l11-43zM1969 1556l-16 64l45 15l17-66zM2015 1569l-6 22l43 16l5-22zM2068 1540l-5 23l37 19l5-23z"/>
<path fill="#23d9b7" stroke="#23d9b7" d="M2020 1547l-5 22l42 16l6-22zM2074 1517l-6 23l37 19l6-23zM2122 1489l-6 24l37 20l6-23zM2170 1462l-6 24l34 20l6-24zM2215 1433l-6 24l34 21l6-25zM2260 1403l-6 25l35 22l5-26zM2305 1372l-5 26l34 22l5-26zM2350 1340l-11 54l34 22l11-55zM2390 1334l-6 27l35 23l5-28z"/>
<path fill="#24dfbc" stroke="#24dfbc" d="M2435 1299l-5 29l34 23l5-29zM2475 1293l-6 29l34 23l6-29z"/>
<path fill="#258c6d" stroke="#258c6d" d="M1793 777l-11 42l77-113l11-45z"/>
<path fill="#25e6c1" stroke="#25e6c1" d="M2520 1255l-6 31l35 22l5-30zM2560 1247l-6 31l34 21l6-31zM2599 1236l-5 32l34 20l5-32z"/>
<path fill="#26c6a1" stroke="#26c6a1" d="M1757 1365l-17 63l86-43l16-65z"/>
<path fill="#26ecc6" stroke="#26ecc6" d="M2639 1224l-6 32l35 19l5-33zM2679 1209l-6 33l34 19l6-34zM2911 1149l-5 38l34 32l5-38z"/>
<path fill="#27ac88" stroke="#27ac88" d="M1760 1104l-17 64l86-84l16-68z"/>
<path fill="#27f2cb" stroke="#27f2cb" d="M2718 1193l-5 34l34 19l5-34zM2832 1180l-6 36l34 20l6-36zM2871 1163l-5 37l34 24l6-37z"/>
<path fill="#28cca6" stroke="#28cca6" d="M1798 1491l-16 62l73-13l12-42l5-22z"/>
<path fill="#298c68" stroke="#298c68" d="M1810 715l-17 62l77-116l17-67z"/>
<path fill="#29d2ab" stroke="#29d2ab" d="M1855 1540l-11 42l63 2l11-43zM1923 1520l-16 64l51 15l17-65zM1975 1534l-6 22l46 13l5-22z"/>
<path fill="#29ffd5" stroke="#29ffd5" d="M3070 1099l-6 44l34 27l6-44zM3109 1080l-5 46l34 26l6-46zM3223 1061l-6 50l34 29l6-51zM3336 1037l-5 56l34 25l5-56zM3410 1025l-5 60l34 22l5-60zM3518 1024l-5 64l34 20l5-65zM3626 1012l-5 69l34 19l5-70zM3768 1007l-5 76l34 18l5-77zM3979 1017l-6 86l34 15l6-86z"/>
<path fill="#2ad9b0" stroke="#2ad9b0" d="M1980 1512l-5 22l45 13l6-22zM2031 1502l-5 23l-6 22l43 16l11-46zM2085 1471l-11 46l37 19l11-47zM2133 1442l-11 47l37 21l11-48zM2181 1413l-11 49l34 20l11-49zM2226 1383l-11 50l34 20l11-50zM2271 1351l-11 52l34 21l11-52zM2311 1345l-6 27l34 22l6-27zM2356 1312l-6 28l34 21l6-27z"/>
<path fill="#2bdfb4" stroke="#2bdfb4" d="M2395 1305l-5 29l34 22l6-28zM2441 1270l-6 29l34 23l6-29zM2480 1263l-5 30l34 23l5-30z"/>
<path fill="#2ce6b9" stroke="#2ce6b9" d="M2525 1225l-5 30l34 23l6-31zM2565 1215l-5 32l34 21l5-32z"/>
<path fill="#2dac83" stroke="#2dac83" d="M1771 1061l-11 43l85-88l11-46z"/>
<path fill="#2dc69b" stroke="#2dc69b" d="M1768 1323l-11 42l85-45l6-22l5-23z"/>
<path fill="#2eecbe" stroke="#2eecbe" d="M2605 1204l-6 32l34 20l6-32zM2644 1191l-5 33l34 18l6-33z"/>
<path fill="#2ff2c3" stroke="#2ff2c3" d="M2684 1176l-5 33l34 18l5-34zM2758 1177l-6 35l35 19l5-35zM2798 1161l-6 35l34 20l6-36zM2917 1110l-6 39l34 32l6-39z"/>
<path fill="#30d2a4" stroke="#30d2a4" d="M1815 1427l-17 64l74-15l17-65zM1872 1476l-5 22l-12 42l63 1l17-65zM1935 1476l-12 44l52 14l11-45z"/>
<path fill="#30f9c8" stroke="#30f9c8" d="M2837 1143l-5 37l34 20l5-37zM2877 1125l-6 38l35 24l5-38zM2956 1101l-5 41l34 29l5-41zM2996 1088l-6 42l35 28l5-42z"/>
<path fill="#31a679" stroke="#31a679" d="M1782 1018l-6 22l86-93l5-23z"/>
<path fill="#31d9a8" stroke="#31d9a8" d="M1991 1467l-11 45l46 13l11-46zM2042 1456l-11 46l43 15l11-46zM2096 1424l-11 47l37 18l11-47zM2144 1394l-11 48l37 20l11-49zM2192 1364l-11 49l34 20l11-50zM2231 1357l-5 26l34 20l5-26zM2276 1325l-5 26l34 21l6-27zM2322 1292l-11 53l34 22l11-55z"/>
<path fill="#31ffcc" stroke="#31ffcc" d="M3036 1072l-6 44l34 27l6-44zM3149 1059l-5 47l34 27l5-48zM3189 1035l-6 50l34 26l6-50zM3262 1036l-5 53l34 29l6-53zM3376 1002l-6 60l35 23l5-60zM3484 1003l-6 65l35 20l5-64zM3592 993l-6 70l35 18l5-69zM3734 989l-6 76l35 18l5-76zM3910 987l-5 85l34 15l5-85zM3944 1002l-5 85l34 16l6-86z"/>
<path fill="#33ac7d" stroke="#33ac7d" d="M1776 1040l-5 21l85-91l6-23z"/>
<path fill="#33dfad" stroke="#33dfad" d="M2361 1285l-5 27l34 22l5-29zM2401 1277l-6 28l35 23l5-29zM2446 1241l-5 29l34 23l5-30zM2486 1233l-6 30l34 23l6-31z"/>
<path fill="#34c694" stroke="#34c694" d="M1779 1281l-11 42l85-48l11-44z"/>
<path fill="#36a673" stroke="#36a673" d="M1793 975l-11 43l85-94l11-47z"/>
<path fill="#36ecb6" stroke="#36ecb6" d="M2571 1183l-6 32l34 21l6-32zM2610 1171l-5 33l34 20l5-33z"/>
<path fill="#37d29d" stroke="#37d29d" d="M1826 1385l-11 42l74-16l11-44zM1883 1433l-5 22l-6 21l63 0l11-44z"/>
<path fill="#37f2bb" stroke="#37f2bb" d="M2724 1159l-6 34l34 19l6-35zM2763 1142l-5 35l34 19l6-35z"/>
<path fill="#39d9a1" stroke="#39d9a1" d="M1946 1432l-11 44l51 13l11-44zM2002 1422l-5 23l-6 22l46 12l11-46zM2053 1410l-11 46l43 15l11-47zM2107 1377l-11 47l37 18l11-48zM2149 1369l-5 25l37 19l5-24zM2197 1338l-5 26l34 19l5-26zM2242 1305l-11 52l34 20l11-52zM2282 1298l-6 27l35 20l5-26z"/>
<path fill="#39f9bf" stroke="#39f9bf" d="M2803 1124l-5 37l34 19l5-37z"/>
<path fill="#3ac68e" stroke="#3ac68e" d="M1796 1216l-17 65l85-50l17-68z"/>
<path fill="#3adfa6" stroke="#3adfa6" d="M2327 1264l-5 28l34 20l5-27zM2367 1256l-6 29l34 20l6-28zM2406 1248l-5 29l34 22l6-29zM2452 1211l-6 30l34 22l6-30z"/>
<path fill="#3affc4" stroke="#3affc4" d="M3075 1053l-5 46l34 27l5-46zM3115 1033l-6 47l35 26l5-47zM3228 1009l-5 52l34 28l5-53zM3302 1009l-5 56l34 28l5-56zM3450 983l-6 64l34 21l6-65zM3558 974l-6 69l34 20l6-70zM3700 972l-6 75l34 18l6-76zM3876 971l-5 85l34 16l5-85z"/>
<path fill="#3ca66e" stroke="#3ca66e" d="M1804 931l-11 44l85-98l11-47z"/>
<path fill="#3ce6aa" stroke="#3ce6aa" d="M2491 1202l-5 31l34 22l5-30zM2531 1193l-6 32l35 22l5-32z"/>
<path fill="#3ed296" stroke="#3ed296" d="M1837 1341l-11 44l74-18l11-45zM1894 1389l-11 44l63-1l11-45z"/>
<path fill="#3ff2b3" stroke="#3ff2b3" d="M2650 1157l-6 34l35 18l5-33zM2690 1141l-6 35l34 17l6-34zM2729 1124l-5 35l34 18l5-35zM2922 1070l-5 40l34 32l5-41z"/>
<path fill="#40d99a" stroke="#40d99a" d="M1957 1387l-11 45l51 13l11-46zM2013 1376l-11 46l46 11l11-46zM2064 1363l-5 24l-6 23l43 14l11-47zM2112 1353l-5 24l37 17l5-25zM2160 1320l-11 49l37 20l11-51zM2203 1313l-6 25l34 19l6-26zM2248 1279l-6 26l34 20l6-27zM2288 1271l-6 27l34 21l6-27z"/>
<path fill="#41c687" stroke="#41c687" d="M1807 1173l-6 21l-5 22l85-53l11-46z"/>
<path fill="#41f9b7" stroke="#41f9b7" d="M2843 1105l-6 38l34 20l6-38zM2882 1086l-5 39l34 24l6-39zM2962 1059l-6 42l34 29l6-42z"/>
<path fill="#42a668" stroke="#42a668" d="M1815 886l-5 23l-6 22l85-101l11-48z"/>
<path fill="#42df9e" stroke="#42df9e" d="M2333 1236l-6 28l34 21l6-29zM2372 1228l-5 28l34 21l5-29zM2412 1219l-6 29l35 22l5-29z"/>
<path fill="#43ffbc" stroke="#43ffbc" d="M3001 1045l-5 43l34 28l6-44zM3155 1009l-6 50l34 26l6-50zM3268 981l-6 55l35 29l5-56zM3342 978l-6 59l34 25l6-60zM3666 954l-6 76l34 17l6-75zM3842 956l-6 84l35 16l5-85z"/>
<path fill="#449f60" stroke="#449f60" d="M1826 842l-11 44l85-104l11-49z"/>
<path fill="#44e6a2" stroke="#44e6a2" d="M2457 1181l-5 30l34 22l5-31zM2497 1171l-6 31l34 23l6-32zM2536 1162l-5 31l34 22l6-32z"/>
<path fill="#45d28f" stroke="#45d28f" d="M1853 1275l-16 66l74-19l16-68zM1911 1322l-17 67l63-2l16-68z"/>
<path fill="#46eca7" stroke="#46eca7" d="M2576 1151l-5 32l34 21l5-33zM2616 1138l-6 33l34 20l6-34z"/>
<path fill="#47d993" stroke="#47d993" d="M1968 1342l-11 45l51 12l11-46zM2024 1329l-5 24l-6 23l46 11l11-48zM2075 1315l-11 48l43 14l11-49zM2123 1304l-11 49l37 16l11-49zM2166 1294l-6 26l37 18l6-25zM2214 1261l-11 52l34 18l11-52zM2253 1253l-5 26l34 19l6-27z"/>
<path fill="#47f2ab" stroke="#47f2ab" d="M2655 1123l-5 34l34 19l6-35zM2695 1106l-5 35l34 18l5-35z"/>
<path fill="#48c681" stroke="#48c681" d="M1818 1128l-11 45l85-56l11-47z"/>
<path fill="#49df97" stroke="#49df97" d="M2299 1217l-11 54l34 21l11-56zM2338 1208l-5 28l34 20l5-28zM2378 1199l-6 29l34 20l6-29zM2418 1189l-6 30l34 22l6-30z"/>
<path fill="#49f9af" stroke="#49f9af" d="M2769 1105l-6 37l35 19l5-37zM2809 1087l-6 37l34 19l6-38zM2848 1067l-5 38l34 20l5-39z"/>
<path fill="#4a9f5a" stroke="#4a9f5a" d="M1837 797l-11 45l85-109l11-48z"/>
<path fill="#4be69b" stroke="#4be69b" d="M2463 1150l-6 31l34 21l6-31zM2502 1140l-5 31l34 22l5-31z"/>
<path fill="#4bffb3" stroke="#4bffb3" d="M3041 1027l-5 45l34 27l5-46zM3081 1006l-6 47l34 27l6-47zM3194 983l-5 52l34 26l5-52zM3416 961l-6 64l34 22l6-64zM3524 955l-6 69l34 19l6-69zM3632 937l-6 75l34 18l6-76zM3808 941l-6 83l34 16l6-84zM4018 936l-5 96l34 15l5-97z"/>
<path fill="#4cbf77" stroke="#4cbf77" d="M1829 1084l-6 22l85-59l6-24z"/>
<path fill="#4cd288" stroke="#4cd288" d="M1864 1231l-11 44l74-21l11-46zM1922 1277l-11 45l62-3l6-23l5-24z"/>
<path fill="#4ec67a" stroke="#4ec67a" d="M1823 1106l-5 22l85-58l5-23z"/>
<path fill="#4eec9f" stroke="#4eec9f" d="M2542 1129l-6 33l35 21l5-32zM2582 1118l-6 33l34 20l6-33z"/>
<path fill="#4f9f55" stroke="#4f9f55" d="M1843 774l-6 23l85-112l6-25z"/>
<path fill="#4fd98c" stroke="#4fd98c" d="M1979 1296l-11 46l51 11l5-24l6-23zM2035 1282l-5 24l-6 23l46 10l11-48zM2081 1291l-6 24l43 13l5-24zM2129 1279l-6 25l37 16l6-26zM2177 1243l-11 51l37 19l11-52zM2219 1235l-5 26l34 18l5-26z"/>
<path fill="#50f2a3" stroke="#50f2a3" d="M2621 1104l-5 34l34 19l5-34zM2661 1088l-6 35l35 18l5-35z"/>
<path fill="#51994d" stroke="#51994d" d="M1854 729l-11 45l85-114l11-49z"/>
<path fill="#51df90" stroke="#51df90" d="M2259 1226l-6 27l35 18l5-27zM2304 1189l-5 28l34 19l5-28zM2344 1180l-6 28l34 20l6-29zM2383 1170l-5 29l34 20l6-30z"/>
<path fill="#52bf70" stroke="#52bf70" d="M1840 1039l-6 22l-5 23l85-61l11-48z"/>
<path fill="#52f9a7" stroke="#52f9a7" d="M2735 1087l-6 37l34 18l6-37zM2774 1068l-5 37l34 19l6-37zM2888 1047l-6 39l35 24l5-40zM2928 1029l-6 41l34 31l6-42zM2967 1017l-5 42l34 29l5-43z"/>
<path fill="#53d281" stroke="#53d281" d="M1875 1186l-11 45l74-23l11-47zM1927 1254l-5 23l62-5l6-23z"/>
<path fill="#53e693" stroke="#53e693" d="M2423 1159l-5 30l34 22l5-30zM2468 1119l-5 31l34 21l5-31zM2508 1108l-6 32l34 22l6-33z"/>
<path fill="#54ffab" stroke="#54ffab" d="M3007 1000l-6 45l35 27l5-45zM3120 984l-5 49l34 26l6-50zM3234 954l-6 55l34 27l6-55zM3308 951l-6 58l34 28l6-59zM3381 939l-5 63l34 23l6-64zM3489 935l-5 68l34 21l6-69zM3597 919l-5 74l34 19l6-75zM3774 924l-6 83l34 17l6-83zM3984 922l-5 95l34 15l5-96z"/>
<path fill="#55ec97" stroke="#55ec97" d="M2548 1097l-6 32l34 22l6-33zM2587 1084l-5 34l34 20l5-34z"/>
<path fill="#569948" stroke="#569948" d="M1865 683l-11 46l85-118l11-49z"/>
<path fill="#56d985" stroke="#56d985" d="M1990 1249l-6 23l-5 24l51 10l11-48zM2041 1258l-6 24l46 9l5-24zM2092 1242l-11 49l42 13l11-50zM2140 1228l-11 51l37 15l11-51zM2182 1218l-5 25l37 18l5-26zM2225 1209l-6 26l34 18l6-27z"/>
<path fill="#578b3b" stroke="#578b3b" d="M1887 594l-11 44l85-126l11-48z"/>
<path fill="#579241" stroke="#579241" d="M1876 638l-11 45l85-121l11-50z"/>
<path fill="#58df88" stroke="#58df88" d="M2270 1171l-11 55l34 18l11-55zM2310 1161l-6 28l34 19l6-28zM2349 1151l-5 29l34 19l5-29z"/>
<path fill="#58f29b" stroke="#58f29b" d="M2627 1069l-6 35l34 19l6-35z"/>
<path fill="#59bf6a" stroke="#59bf6a" d="M1851 993l-11 46l85-64l11-48z"/>
<path fill="#5ad27a" stroke="#5ad27a" d="M1881 1163l-6 23l74-25l6-24zM1933 1231l-6 23l63-5l5-24z"/>
<path fill="#5af99f" stroke="#5af99f" d="M2701 1070l-6 36l34 18l6-37zM2740 1051l-5 36l34 18l5-37zM2814 1048l-5 39l34 18l5-38z"/>
<path fill="#5be68c" stroke="#5be68c" d="M2389 1140l-6 30l35 19l5-30zM2429 1129l-6 30l34 22l6-31z"/>
<path fill="#5cffa2" stroke="#5cffa2" d="M2854 1027l-6 40l34 19l6-39zM3047 981l-6 46l34 26l6-47zM3086 958l-5 48l34 27l5-49zM3160 958l-5 51l34 26l5-52zM3274 923l-6 58l34 28l6-58zM3347 916l-5 62l34 24l5-63zM3455 915l-5 68l34 20l5-68zM3739 907l-5 82l34 18l6-83zM3950 907l-6 95l35 15l5-95z"/>
<path fill="#5dd97e" stroke="#5dd97e" d="M1938 1208l-5 23l62-6l6-24zM1995 1225l-5 24l51 9l5-24zM2052 1209l-11 49l45 9l11-50zM2097 1217l-5 25l42 12l6-26zM2145 1203l-5 25l37 15l5-25zM2188 1191l-6 27l37 17l6-26z"/>
<path fill="#5dec8f" stroke="#5dec8f" d="M2513 1075l-5 33l34 21l6-32zM2553 1063l-5 34l34 21l5-34z"/>
<path fill="#5fbf64" stroke="#5fbf64" d="M1856 970l-5 23l85-66l5-25z"/>
<path fill="#60df81" stroke="#60df81" d="M2236 1155l-11 54l34 17l11-55zM2275 1143l-5 28l34 18l6-28zM2315 1132l-5 29l34 19l5-29z"/>
<path fill="#62d273" stroke="#62d273" d="M1892 1117l-11 46l74-26l11-48z"/>
<path fill="#62f996" stroke="#62f996" d="M2666 1053l-5 35l34 18l6-36zM2706 1034l-5 36l34 17l5-36zM2780 1030l-6 38l35 19l5-39zM2933 986l-5 43l34 30l5-42z"/>
<path fill="#63e684" stroke="#63e684" d="M2355 1121l-6 30l34 19l6-30zM2394 1110l-5 30l34 19l6-30zM2434 1098l-5 31l34 21l5-31zM2474 1087l-6 32l34 21l6-32z"/>
<path fill="#64d976" stroke="#64d976" d="M1949 1161l-11 47l63-7l11-48zM2006 1177l-11 48l51 9l11-49zM2057 1185l-5 24l45 8l6-25zM2108 1167l-11 50l43 11l11-51zM2151 1177l-6 26l37 15l6-27z"/>
<path fill="#65ff9a" stroke="#65ff9a" d="M2820 1009l-6 39l34 19l6-40zM2893 1006l-5 41l34 23l6-41zM2973 973l-6 44l34 28l6-45zM3012 954l-5 46l34 27l6-46zM3126 933l-6 51l35 25l5-51zM3200 929l-6 54l34 26l6-55zM3421 894l-5 67l34 22l5-68zM3563 900l-5 74l34 19l5-74zM3705 890l-5 82l34 17l5-82zM3916 893l-6 94l34 15l6-95z"/>
<path fill="#66bf5d" stroke="#66bf5d" d="M1867 924l-11 46l85-68l11-49z"/>
<path fill="#67df7a" stroke="#67df7a" d="M2156 1151l-5 26l37 14l5-26zM2199 1138l-11 53l37 18l11-54zM2241 1127l-5 28l34 16l5-28zM2281 1115l-6 28l35 18l5-29zM2321 1104l-6 28l34 19l6-30z"/>
<path fill="#68f28b" stroke="#68f28b" d="M2593 1050l-6 34l34 20l6-35zM2632 1034l-5 35l34 19l5-35z"/>
<path fill="#69d26c" stroke="#69d26c" d="M1903 1070l-11 47l74-28l11-48z"/>
<path fill="#6ae67d" stroke="#6ae67d" d="M2360 1092l-5 29l34 19l5-30zM2400 1080l-6 30l35 19l5-31zM2440 1067l-6 31l34 21l6-32z"/>
<path fill="#6bf98e" stroke="#6bf98e" d="M2672 1016l-6 37l35 17l5-36zM2746 1013l-6 38l34 17l6-38z"/>
<path fill="#6cbf57" stroke="#6cbf57" d="M1878 877l-11 47l85-71l11-50z"/>
<path fill="#6cd96f" stroke="#6cd96f" d="M1960 1113l-11 48l63-8l11-49zM2017 1129l-11 48l51 8l11-50zM2068 1135l-11 50l46 7l11-51z"/>
<path fill="#6dec80" stroke="#6dec80" d="M2479 1055l-5 32l34 21l5-33zM2519 1042l-6 33l35 22l5-34z"/>
<path fill="#6eff92" stroke="#6eff92" d="M2785 992l-5 38l34 18l6-39zM2859 987l-5 40l34 20l5-41zM3052 933l-5 48l34 25l5-48zM3166 904l-6 54l34 25l6-54zM3239 897l-5 57l34 27l6-58zM3313 889l-5 62l34 27l5-62zM3529 881l-5 74l34 19l5-74zM3671 873l-5 81l34 18l5-82zM3882 878l-6 93l34 16l6-94z"/>
<path fill="#6fdf72" stroke="#6fdf72" d="M2114 1141l-6 26l43 10l5-26zM2162 1125l-6 26l37 14l6-27zM2204 1111l-5 27l37 17l5-28zM2247 1100l-6 27l34 16l6-28zM2286 1087l-5 28l34 17l6-28z"/>
<path fill="#70d265" stroke="#70d265" d="M1914 1023l-11 47l74-29l11-50z"/>
<path fill="#70f283" stroke="#70f283" d="M2559 1029l-6 34l34 21l6-34zM2598 1015l-5 35l34 19l5-35z"/>
<path fill="#72be51" stroke="#72be51" d="M1884 853l-6 24l85-74l6-26z"/>
<path fill="#72e675" stroke="#72e675" d="M2326 1074l-5 30l34 17l5-29zM2366 1062l-6 30l34 18l6-30zM2405 1049l-5 31l34 18l6-31z"/>
<path fill="#73d968" stroke="#73d968" d="M1966 1089l-6 24l63-9l5-25zM2023 1104l-6 25l51 6l6-25zM2074 1110l-6 25l46 6l5-26z"/>
<path fill="#73f986" stroke="#73f986" d="M2638 998l-6 36l34 19l6-37zM2712 996l-6 38l34 17l6-38zM2939 943l-6 43l34 31l6-44z"/>
<path fill="#75ec78" stroke="#75ec78" d="M2445 1035l-5 32l34 20l5-32zM2485 1022l-6 33l34 20l6-33zM2524 1009l-5 33l34 21l6-34z"/>
<path fill="#76df6b" stroke="#76df6b" d="M2125 1089l-11 52l42 10l11-53zM2167 1098l-5 27l37 13l5-27zM2210 1084l-6 27l37 16l6-27zM2252 1072l-5 28l34 15l5-28z"/>
<path fill="#76ff89" stroke="#76ff89" d="M2751 975l-5 38l34 17l5-38zM2825 969l-5 40l34 18l5-40zM2899 964l-6 42l35 23l5-43zM2978 927l-5 46l34 27l5-46zM3092 908l-6 50l34 26l6-51zM3387 873l-6 66l35 22l5-67zM3495 862l-6 73l35 20l5-74zM3637 856l-5 81l34 17l5-81zM3813 850l-5 91l34 15l5-92zM3847 864l-5 92l34 15l6-93z"/>
<path fill="#77be4c" stroke="#77be4c" d="M1895 806l-11 47l85-76l11-51z"/>
<path fill="#77d25e" stroke="#77d25e" d="M1919 999l-5 24l74-32l5-25z"/>
<path fill="#78f27b" stroke="#78f27b" d="M2564 995l-5 34l34 21l5-35zM2604 979l-6 36l34 19l6-36z"/>
<path fill="#7ad961" stroke="#7ad961" d="M1977 1041l-11 48l62-10l11-50zM2034 1054l-11 50l51 6l11-52zM2079 1084l-5 26l45 5l6-26z"/>
<path fill="#7ae66e" stroke="#7ae66e" d="M2292 1058l-6 29l35 17l5-30zM2332 1045l-6 29l34 18l6-30zM2371 1031l-5 31l34 18l5-31z"/>
<path fill="#7cf97e" stroke="#7cf97e" d="M2678 979l-6 37l34 18l6-38z"/>
<path fill="#7dbd46" stroke="#7dbd46" d="M1900 782l-5 24l85-80l5-25z"/>
<path fill="#7dd158" stroke="#7dd158" d="M1930 951l-11 48l74-33l11-50z"/>
<path fill="#7dec70" stroke="#7dec70" d="M2411 1017l-6 32l35 18l5-32zM2451 1003l-6 32l34 20l6-33zM2490 989l-5 33l34 20l5-33z"/>
<path fill="#7eb63f" stroke="#7eb63f" d="M1911 733l-11 49l85-81l12-52z"/>
<path fill="#7edf64" stroke="#7edf64" d="M2085 1058l-6 26l46 5l5-26zM2130 1063l-5 26l42 9l6-26zM2173 1072l-6 26l37 13l6-27zM2215 1057l-5 27l37 16l5-28zM2258 1043l-6 29l34 15l6-29z"/>
<path fill="#7fff81" stroke="#7fff81" d="M2717 958l-5 38l34 17l5-38zM2791 952l-6 40l35 17l5-40zM2865 946l-6 41l34 19l6-42zM3018 907l-6 47l35 27l5-48zM3131 880l-5 53l34 25l6-54zM3205 873l-5 56l34 25l5-57zM3279 862l-5 61l34 28l5-62zM3353 850l-6 66l34 23l6-66zM3461 843l-6 72l34 20l6-73zM3603 839l-6 80l35 18l5-81zM3779 834l-5 90l34 17l5-91z"/>
<path fill="#81d85b" stroke="#81d85b" d="M1982 1016l-5 25l62-12l6-25zM2039 1029l-5 25l51 4l5-25z"/>
<path fill="#81f273" stroke="#81f273" d="M2530 975l-6 34l35 20l5-34z"/>
<path fill="#82e666" stroke="#82e666" d="M2297 1029l-5 29l34 16l6-29zM2337 1015l-5 30l34 17l5-31z"/>
<path fill="#83b539" stroke="#83b539" d="M1917 709l-6 24l86-84l5-27z"/>
<path fill="#83d152" stroke="#83d152" d="M1936 927l-6 24l74-35l6-26z"/>
<path fill="#84de5d" stroke="#84de5d" d="M2090 1033l-5 25l45 5l6-26zM2136 1037l-6 26l43 9l5-28zM2184 1017l-11 55l37 12l11-55zM2221 1029l-6 28l37 15l6-29z"/>
<path fill="#84f976" stroke="#84f976" d="M2643 961l-5 37l34 18l6-37zM2683 942l-5 37l34 17l5-38z"/>
<path fill="#85ec69" stroke="#85ec69" d="M2377 1001l-6 30l34 18l6-32zM2416 986l-5 31l34 18l6-32z"/>
<path fill="#87d754" stroke="#87d754" d="M1993 966l-11 50l63-12l11-51zM2050 978l-11 51l51 4l11-53z"/>
<path fill="#87ff78" stroke="#87ff78" d="M2757 935l-6 40l34 17l6-40zM2831 928l-6 41l34 18l6-41zM2904 921l-5 43l34 22l6-43zM2944 899l-5 44l34 30l5-46zM2984 881l-6 46l34 27l6-47zM3058 883l-6 50l34 25l6-50zM3171 849l-5 55l34 25l5-56zM3245 837l-6 60l35 26l5-61zM3427 823l-6 71l34 21l6-72zM3569 821l-6 79l34 19l6-80zM3745 817l-6 90l35 17l5-90zM4024 830l-6 106l34 14l6-107z"/>
<path fill="#88e45f" stroke="#88e45f" d="M2263 1015l-5 28l34 15l5-29zM2303 1000l-6 29l35 16l5-30zM2343 985l-6 30l34 16l6-30z"/>
<path fill="#89b434" stroke="#89b434" d="M1928 660l-11 49l85-87l11-52z"/>
<path fill="#89d04c" stroke="#89d04c" d="M1947 878l-11 49l74-37l11-51z"/>
<path fill="#89f26b" stroke="#89f26b" d="M2570 960l-6 35l34 20l6-36z"/>
<path fill="#8bc844" stroke="#8bc844" d="M1952 853l-5 25l74-39l5-26z"/>
<path fill="#8bdd56" stroke="#8bdd56" d="M2096 1006l-6 27l46 4l5-27zM2141 1010l-5 27l42 7l6-27zM2189 990l-5 27l37 12l5-28zM2226 1001l-5 28l37 14l5-28z"/>
<path fill="#8ceb62" stroke="#8ceb62" d="M2382 969l-5 32l34 16l5-31zM2456 970l-5 33l34 19l5-33z"/>
<path fill="#8cf96e" stroke="#8cf96e" d="M2609 943l-5 36l34 19l5-37zM2649 924l-6 37l35 18l5-37z"/>
<path fill="#8dd64e" stroke="#8dd64e" d="M1999 941l-6 25l63-13l5-26zM2056 953l-6 25l51 2l6-26z"/>
<path fill="#8eb32f" stroke="#8eb32f" d="M1933 636l-5 24l85-90l6-27z"/>
<path fill="#8fe359" stroke="#8fe359" d="M2269 986l-6 29l34 14l6-29zM2308 970l-5 30l34 15l6-30z"/>
<path fill="#90f164" stroke="#90f164" d="M2496 955l-6 34l34 20l6-34zM2535 940l-5 35l34 20l6-35z"/>
<path fill="#90ff70" stroke="#90ff70" d="M2723 920l-6 38l34 17l6-40zM2796 912l-5 40l34 17l6-41zM2870 903l-5 43l34 18l5-43zM3023 858l-5 49l34 26l6-50zM3097 856l-5 52l34 25l5-53zM3319 825l-6 64l34 27l6-66zM3535 803l-6 78l34 19l6-79zM3711 801l-6 89l34 17l6-90zM3955 803l-5 104l34 15l6-106zM3990 816l-6 106l34 14l6-106z"/>
<path fill="#91c73e" stroke="#91c73e" d="M1963 803l-11 50l74-40l11-53z"/>
<path fill="#91dc50" stroke="#91dc50" d="M2107 954l-11 52l45 4l11-54zM2147 983l-6 27l43 7l5-27z"/>
<path fill="#93ab23" stroke="#93ab23" d="M1950 562l-6 24l86-96l5-27z"/>
<path fill="#93b229" stroke="#93b229" d="M1944 586l-11 50l86-93l11-53z"/>
<path fill="#93ea5b" stroke="#93ea5b" d="M2348 954l-5 31l34 16l5-32zM2422 953l-6 33l35 17l5-33zM2462 937l-6 33l34 19l6-34z"/>
<path fill="#94d548" stroke="#94d548" d="M2010 890l-11 51l62-14l11-53z"/>
<path fill="#94f866" stroke="#94f866" d="M2575 924l-5 36l34 19l5-36zM2615 906l-6 37l34 18l6-37z"/>
<path fill="#96e252" stroke="#96e252" d="M2195 962l-6 28l37 11l6-29zM2232 972l-6 29l37 14l6-29zM2274 957l-5 29l34 14l5-30zM2314 940l-6 30l35 15l5-31z"/>
<path fill="#97c738" stroke="#97c738" d="M1969 777l-6 26l74-43l6-27z"/>
<path fill="#97f05d" stroke="#97f05d" d="M2501 921l-5 34l34 20l5-35zM2541 905l-6 35l35 20l5-36z"/>
<path fill="#97fe69" stroke="#97fe69" d="M2689 903l-6 39l34 16l6-38zM2762 895l-5 40l34 17l5-40zM2836 886l-5 42l34 18l5-43zM2910 877l-6 44l35 22l5-44zM2950 853l-6 46l34 28l6-46zM3063 832l-5 51l34 25l5-52zM3137 825l-6 55l35 24l5-55zM3211 814l-6 59l34 24l6-60zM3285 799l-6 63l34 27l6-64zM3392 802l-5 71l34 21l6-71zM3500 785l-5 77l34 19l6-78zM3677 785l-6 88l34 17l6-89zM3921 790l-5 103l34 14l5-104z"/>
<path fill="#98a418" stroke="#98a418" d="M1966 488l-5 24l85-103l6-26z"/>
<path fill="#98db49" stroke="#98db49" d="M2061 927l-5 26l51 1l5-27zM2112 927l-5 27l45 2l6-28zM2158 928l-11 55l42 7l11-57z"/>
<path fill="#99ab1e" stroke="#99ab1e" d="M1955 537l-5 25l85-99l6-27z"/>
<path fill="#9ad441" stroke="#9ad441" d="M2015 865l-5 25l62-16l6-27z"/>
<path fill="#9ae954" stroke="#9ae954" d="M2354 923l-6 31l34 15l6-31zM2388 938l-6 31l34 17l6-33z"/>
<path fill="#9bf65f" stroke="#9bf65f" d="M2654 886l-5 38l34 18l6-39z"/>
<path fill="#9ce14b" stroke="#9ce14b" d="M2200 933l-5 29l37 10l5-28zM2237 944l-5 28l37 14l5-29zM2280 927l-6 30l34 13l6-30z"/>
<path fill="#9da313" stroke="#9da313" d="M1972 464l-6 24l86-105l5-26z"/>
<path fill="#9dc632" stroke="#9dc632" d="M1974 752l-5 25l74-44l5-27z"/>
<path fill="#9eaa19" stroke="#9eaa19" d="M1961 512l-6 25l86-101l5-27z"/>
<path fill="#9eda43" stroke="#9eda43" d="M2067 900l-6 27l51 0l6-27zM2118 900l-6 27l46 1l5-28z"/>
<path fill="#9eef56" stroke="#9eef56" d="M2427 921l-5 32l34 17l6-33zM2467 903l-5 34l34 18l5-34zM2507 886l-6 35l34 19l6-35z"/>
<path fill="#9ffd61" stroke="#9ffd61" d="M2728 880l-5 40l34 15l5-40zM2802 870l-6 42l35 16l5-42zM2876 860l-6 43l34 18l6-44zM2989 833l-5 48l34 26l5-49zM3103 802l-6 54l34 24l6-55zM3177 791l-6 58l34 24l6-59zM3358 781l-5 69l34 23l5-71zM3466 767l-5 76l34 19l5-77zM3643 769l-6 87l34 17l6-88zM3887 776l-5 102l34 15l5-103z"/>
<path fill="#a0d33b" stroke="#a0d33b" d="M2021 839l-6 26l63-18l5-27z"/>
<path fill="#a1e84d" stroke="#a1e84d" d="M2319 909l-5 31l34 14l6-31zM2393 906l-5 32l34 15l5-32z"/>
<path fill="#a2f558" stroke="#a2f558" d="M2581 888l-6 36l34 19l6-37zM2620 869l-5 37l34 18l5-38z"/>
<path fill="#a3c52c" stroke="#a3c52c" d="M1985 701l-11 51l74-46l11-54z"/>
<path fill="#a3e044" stroke="#a3e044" d="M2163 900l-5 28l42 5l6-28zM2206 905l-6 28l37 11l6-30zM2243 914l-6 30l37 13l6-30z"/>
<path fill="#a5d93c" stroke="#a5d93c" d="M2078 847l-11 53l51 0l11-55zM2123 872l-5 28l45 0l6-28z"/>
<path fill="#a5ee4f" stroke="#a5ee4f" d="M2433 887l-6 34l35 16l5-34zM2473 868l-6 35l34 18l6-35z"/>
<path fill="#a6d235" stroke="#a6d235" d="M2026 813l-5 26l62-19l6-27z"/>
<path fill="#a6fc5a" stroke="#a6fc5a" d="M2694 864l-5 39l34 17l5-40zM2768 854l-6 41l34 17l6-42zM2842 843l-6 43l34 17l6-43zM2915 832l-5 45l34 22l6-46zM3029 808l-6 50l35 25l5-51zM3250 775l-5 62l34 25l6-63zM3324 757l-5 68l34 25l5-69zM3608 753l-5 86l34 17l6-87zM3819 750l-6 100l34 14l6-101zM3853 763l-6 101l35 14l5-102z"/>
<path fill="#a7e746" stroke="#a7e746" d="M2285 897l-5 30l34 13l5-31zM2325 878l-6 31l35 14l5-32zM2359 891l-5 32l34 15l5-32z"/>
<path fill="#a8c426" stroke="#a8c426" d="M1991 675l-6 26l74-49l6-28z"/>
<path fill="#a9f450" stroke="#a9f450" d="M2546 869l-5 36l34 19l6-36zM2586 851l-5 37l34 18l5-37z"/>
<path fill="#aadf3e" stroke="#aadf3e" d="M2169 872l-6 28l43 5l5-29zM2211 876l-5 29l37 9l5-29zM2248 885l-5 29l37 13l5-30z"/>
<path fill="#abd836" stroke="#abd836" d="M2083 820l-5 27l51-2l5-28zM2129 845l-6 27l46 0l5-28z"/>
<path fill="#aced48" stroke="#aced48" d="M2399 873l-6 33l34 15l6-34zM2438 854l-5 33l34 16l6-35zM2512 851l-5 35l34 19l5-36z"/>
<path fill="#add12e" stroke="#add12e" d="M2037 760l-11 53l63-20l11-55z"/>
<path fill="#aec320" stroke="#aec320" d="M1997 649l-6 26l74-51l5-27z"/>
<path fill="#aee63f" stroke="#aee63f" d="M2291 867l-6 30l34 12l6-31zM2331 847l-6 31l34 13l6-31zM2365 860l-6 31l34 15l6-33z"/>
<path fill="#aefa52" stroke="#aefa52" d="M2660 847l-6 39l35 17l5-39zM2734 839l-6 41l34 15l6-41zM2808 828l-6 42l34 16l6-43zM2881 815l-5 45l34 17l5-45zM2955 806l-5 47l34 28l5-48zM2995 784l-6 49l34 25l6-50zM3069 779l-6 53l34 24l6-54zM3142 768l-5 57l34 24l6-58zM3216 753l-5 61l34 23l5-62zM3432 748l-5 75l34 20l5-76zM3574 736l-5 85l34 18l5-86zM3785 735l-6 99l34 16l6-100z"/>
<path fill="#b0de37" stroke="#b0de37" d="M2174 844l-5 28l42 4l6-29zM2217 847l-6 29l37 9l6-30z"/>
<path fill="#b0f349" stroke="#b0f349" d="M2552 832l-6 37l35 19l5-37z"/>
<path fill="#b2d72f" stroke="#b2d72f" d="M2089 793l-6 27l51-3l6-28zM2134 817l-5 28l45-1l6-29z"/>
<path fill="#b3d028" stroke="#b3d028" d="M2043 733l-6 27l63-22l5-27z"/>
<path fill="#b3ec40" stroke="#b3ec40" d="M2404 840l-5 33l34 14l5-33zM2478 834l-5 34l34 18l5-35z"/>
<path fill="#b4c21a" stroke="#b4c21a" d="M2002 622l-5 27l73-52l6-28z"/>
<path fill="#b5e538" stroke="#b5e538" d="M2254 855l-6 30l37 12l6-30zM2296 836l-5 31l34 11l6-31z"/>
<path fill="#b5f94b" stroke="#b5f94b" d="M2626 830l-6 39l34 17l6-39zM2665 808l-5 39l34 17l6-40zM2700 824l-6 40l34 16l6-41zM2773 812l-5 42l34 16l6-42zM2847 799l-5 44l34 17l5-45zM2921 786l-6 46l35 21l5-47zM3034 756l-5 52l34 24l6-53zM3108 746l-5 56l34 23l5-57zM3290 733l-5 66l34 26l5-68zM3398 728l-6 74l35 21l5-75zM3540 719l-5 84l34 18l5-85zM3751 720l-6 97l34 17l6-99z"/>
<path fill="#b7dd30" stroke="#b7dd30" d="M2180 815l-6 29l43 3l5-29zM2222 818l-5 29l37 8l5-30z"/>
<path fill="#b8d629" stroke="#b8d629" d="M2094 766l-5 27l51-4l5-28zM2140 789l-6 28l46-2l5-28z"/>
<path fill="#b8f242" stroke="#b8f242" d="M2518 815l-6 36l34 18l6-37zM2592 813l-6 38l34 18l6-39z"/>
<path fill="#b9cf22" stroke="#b9cf22" d="M2048 706l-5 27l62-22l6-28z"/>
<path fill="#bac114" stroke="#bac114" d="M2013 570l-11 52l74-53l11-56z"/>
<path fill="#baeb39" stroke="#baeb39" d="M2370 827l-5 33l34 13l5-33zM2444 820l-6 34l35 14l5-34z"/>
<path fill="#bce331" stroke="#bce331" d="M2259 825l-5 30l37 12l5-31zM2302 805l-6 31l35 11l5-32zM2336 815l-5 32l34 13l5-33z"/>
<path fill="#bcf843" stroke="#bcf843" d="M2631 791l-5 39l34 17l5-39zM2705 783l-5 41l34 15l5-41zM2739 798l-5 41l34 15l5-42zM2813 784l-5 44l34 15l5-44zM2887 769l-6 46l34 17l6-46zM2961 758l-6 48l34 27l6-49zM3182 731l-5 60l34 23l5-61zM3256 710l-6 65l35 24l5-66zM3364 708l-6 73l34 21l6-74zM3506 702l-6 83l35 18l5-84zM3716 705l-5 96l34 16l6-97zM4029 712l-5 118l34 13l5-119z"/>
<path fill="#bedc2a" stroke="#bedc2a" d="M2185 787l-5 28l42 3l6-30z"/>
<path fill="#bf9903" stroke="#bf9903" d="M2057 357l-5 26l73-69l6-27z"/>
<path fill="#bfd522" stroke="#bfd522" d="M2100 738l-6 28l51-5l6-29zM2145 761l-5 28l45-2l6-30z"/>
<path fill="#bff13b" stroke="#bff13b" d="M2484 798l-6 36l34 17l6-36zM2557 795l-5 37l34 19l6-38z"/>
<path fill="#c0c00e" stroke="#c0c00e" d="M2019 543l-6 27l74-57l5-29z"/>
<path fill="#c0ce1b" stroke="#c0ce1b" d="M2054 679l-6 27l63-23l5-29z"/>
<path fill="#c1ea32" stroke="#c1ea32" d="M2376 794l-6 33l34 13l6-33zM2410 807l-6 33l34 14l6-34z"/>
<path fill="#c3e22a" stroke="#c3e22a" d="M2228 788l-6 30l37 7l6-30zM2265 795l-6 30l37 11l6-31zM2307 774l-5 31l34 10l6-32z"/>
<path fill="#c4db23" stroke="#c4db23" d="M2191 757l-6 30l43 1l6-30z"/>
<path fill="#c4f73c" stroke="#c4f73c" d="M2597 774l-5 39l34 17l5-39zM2671 768l-6 40l35 16l5-41zM2745 756l-6 42l34 14l6-42zM2779 770l-6 42l35 16l5-44zM2853 754l-6 45l34 16l6-46zM2926 738l-5 48l34 20l6-48zM3000 733l-5 51l34 24l5-52zM3074 724l-5 55l34 23l5-56zM3148 710l-6 58l35 23l5-60zM3330 685l-6 72l34 24l6-73zM3472 685l-6 82l34 18l6-83zM3682 690l-5 95l34 16l5-96zM3961 688l-6 115l35 13l5-116zM3995 700l-5 116l34 14l5-118z"/>
<path fill="#c5d41c" stroke="#c5d41c" d="M2105 711l-5 27l51-6l5-29zM2151 732l-6 29l46-4l5-29z"/>
<path fill="#c6a503" stroke="#c6a503" d="M2052 383l-11 53l73-66l11-56z"/>
<path fill="#c6ab03" stroke="#c6ab03" d="M2041 436l-6 27l74-64l5-29z"/>
<path fill="#c6b203" stroke="#c6b203" d="M2035 463l-5 27l73-63l6-28z"/>
<path fill="#c6bf08" stroke="#c6bf08" d="M2024 516l-5 27l73-59l6-28z"/>
<path fill="#c6cd15" stroke="#c6cd15" d="M2059 652l-5 27l62-25l6-28z"/>
<path fill="#c6f033" stroke="#c6f033" d="M2449 785l-5 35l34 14l6-36zM2523 778l-5 37l34 17l5-37zM2563 757l-6 38l35 18l5-39z"/>
<path fill="#c8e92b" stroke="#c8e92b" d="M2342 783l-6 32l34 12l6-33z"/>
<path fill="#cae123" stroke="#cae123" d="M2234 758l-6 30l37 7l5-31zM2270 764l-5 31l37 10l5-31z"/>
<path fill="#cbda1c" stroke="#cbda1c" d="M2196 728l-5 29l43 1l5-30z"/>
<path fill="#cbf634" stroke="#cbf634" d="M2637 752l-6 39l34 17l6-40zM2711 741l-6 42l34 15l6-42zM2819 740l-6 44l34 15l6-45zM2892 723l-5 46l34 17l5-48zM2966 708l-5 50l34 26l5-51zM3040 703l-6 53l35 23l5-55zM3114 688l-6 58l34 22l6-58zM3222 689l-6 64l34 22l6-65zM3438 668l-6 80l34 19l6-82zM3648 675l-5 94l34 16l5-95zM3927 676l-6 114l34 13l6-115z"/>
<path fill="#cc8202" stroke="#cc8202" d="M2131 287l-6 27l63-42l5-29z"/>
<path fill="#ccbe02" stroke="#ccbe02" d="M2030 490l-6 26l74-60l5-29z"/>
<path fill="#cccc0e" stroke="#cccc0e" d="M2065 624l-6 28l63-26l5-29z"/>
<path fill="#ccd315" stroke="#ccd315" d="M2111 683l-6 28l51-8l6-29z"/>
<path fill="#cdef2c" stroke="#cdef2c" d="M2415 773l-5 34l34 13l5-35zM2489 762l-5 36l34 17l5-37zM2529 741l-6 37l34 17l6-38z"/>
<path fill="#cfe724" stroke="#cfe724" d="M2347 751l-5 32l34 11l5-33zM2381 761l-5 33l34 13l5-34z"/>
<path fill="#d0e01d" stroke="#d0e01d" d="M2239 728l-5 30l36 6l6-31zM2276 733l-6 31l37 10l6-32z"/>
<path fill="#d27102" stroke="#d27102" d="M2193 243l-5 29l51-27l6-30z"/>
<path fill="#d28d02" stroke="#d28d02" d="M2125 314l-5 28l62-41l6-29z"/>
<path fill="#d29402" stroke="#d29402" d="M2120 342l-6 28l63-39l5-30z"/>
<path fill="#d29b02" stroke="#d29b02" d="M2114 370l-5 29l62-38l6-30z"/>
<path fill="#d2a202" stroke="#d2a202" d="M2109 399l-6 28l63-36l5-30z"/>
<path fill="#d2a902" stroke="#d2a902" d="M2103 427l-5 29l62-35l6-30z"/>
<path fill="#d2b002" stroke="#d2b002" d="M2098 456l-6 28l63-33l5-30z"/>
<path fill="#d2cb08" stroke="#d2cb08" d="M2076 569l-11 55l62-27l11-58z"/>
<path fill="#d2d20f" stroke="#d2d20f" d="M2116 654l-5 29l51-9l5-29z"/>
<path fill="#d2d915" stroke="#d2d915" d="M2156 703l-5 29l45-4l6-30zM2202 698l-6 30l43 0l6-31z"/>
<path fill="#d3f52d" stroke="#d3f52d" d="M2603 735l-6 39l34 17l6-39zM2676 726l-5 42l34 15l6-42zM2784 726l-5 44l34 14l6-44zM2858 708l-5 46l34 15l5-46zM3188 668l-6 63l34 22l6-64zM3296 663l-6 70l34 24l6-72zM3404 650l-6 78l34 20l6-80zM3614 660l-6 93l35 16l5-94zM3858 652l-5 111l34 13l6-112zM3893 664l-6 112l34 14l6-114z"/>
<path fill="#d5ee25" stroke="#d5ee25" d="M2421 738l-6 35l34 12l6-35zM2455 750l-6 35l35 13l5-36zM2495 726l-6 36l34 16l6-37z"/>
<path fill="#d6e61d" stroke="#d6e61d" d="M2313 742l-6 32l35 9l5-32zM2353 718l-6 33l34 10l6-33z"/>
<path fill="#d7df16" stroke="#d7df16" d="M2245 697l-6 31l37 5l5-31z"/>
<path fill="#d8d80f" stroke="#d8d80f" d="M2162 674l-6 29l46-5l5-30zM2207 668l-5 30l43-1l5-31z"/>
<path fill="#d96602" stroke="#d96602" d="M2245 215l-6 30l46-22l5-31z"/>
<path fill="#d96d02" stroke="#d96d02" d="M2239 245l-5 31l45-21l6-32z"/>
<path fill="#d97c02" stroke="#d97c02" d="M2188 272l-6 29l52-25l5-31z"/>
<path fill="#d98302" stroke="#d98302" d="M2182 301l-5 30l51-24l6-31z"/>
<path fill="#d98a02" stroke="#d98a02" d="M2177 331l-6 30l52-22l5-32z"/>
<path fill="#d99102" stroke="#d99102" d="M2171 361l-5 30l51-21l6-31z"/>
<path fill="#d99802" stroke="#d99802" d="M2166 391l-6 30l52-20l5-31z"/>
<path fill="#d9bc02" stroke="#d9bc02" d="M2092 484l-5 29l62-32l6-30z"/>
<path fill="#d9c302" stroke="#d9c302" d="M2087 513l-6 28l63-31l5-29z"/>
<path fill="#d9ca02" stroke="#d9ca02" d="M2081 541l-5 28l62-30l6-29z"/>
<path fill="#d9d108" stroke="#d9d108" d="M2122 626l-6 28l51-9l6-30z"/>
<path fill="#daf425" stroke="#daf425" d="M2568 719l-5 38l34 17l6-39zM2642 711l-5 41l34 16l5-42zM2716 699l-5 42l34 15l5-43zM2750 713l-5 43l34 14l5-44zM2824 695l-5 45l34 14l5-46zM2932 689l-6 49l35 20l5-50zM3006 680l-6 53l34 23l6-53zM3080 668l-6 56l34 22l6-58zM3153 648l-5 62l34 21l6-63zM3261 642l-5 68l34 23l6-70zM3546 630l-6 89l34 17l6-91zM3580 645l-6 91l34 17l6-93zM3824 641l-5 109l34 13l5-111z"/>
<path fill="#dcec1d" stroke="#dcec1d" d="M2387 728l-6 33l34 12l6-35zM2461 714l-6 36l34 12l6-36z"/>
<path fill="#dde516" stroke="#dde516" d="M2281 702l-5 31l37 9l5-32zM2318 710l-5 32l34 9l6-33z"/>
<path fill="#de5b02" stroke="#de5b02" d="M2290 192l-5 31l42-18l6-32z"/>
<path fill="#dede0f" stroke="#dede0f" d="M2250 666l-5 31l36 5l6-32z"/>
<path fill="#df6202" stroke="#df6202" d="M2285 223l-6 32l43-17l5-33z"/>
<path fill="#df7802" stroke="#df7802" d="M2234 276l-6 31l46-19l5-33z"/>
<path fill="#df7f02" stroke="#df7f02" d="M2228 307l-5 32l45-19l6-32z"/>
<path fill="#df8702" stroke="#df8702" d="M2223 339l-6 31l46-17l5-33z"/>
<path fill="#df8e02" stroke="#df8e02" d="M2217 370l-5 31l45-15l6-33z"/>
<path fill="#df9d02" stroke="#df9d02" d="M2212 401l-6 32l46-15l5-32z"/>
<path fill="#dfa402" stroke="#dfa402" d="M2160 421l-5 30l51-18l6-32zM2206 433l-5 31l45-14l6-32z"/>
<path fill="#dfac02" stroke="#dfac02" d="M2155 451l-6 30l52-17l5-31z"/>
<path fill="#dfb302" stroke="#dfb302" d="M2149 481l-5 29l51-16l6-30z"/>
<path fill="#dfba02" stroke="#dfba02" d="M2144 510l-6 29l52-14l5-31z"/>
<path fill="#dfc202" stroke="#dfc202" d="M2138 539l-5 29l51-13l6-30z"/>
<path fill="#dfc902" stroke="#dfc902" d="M2133 568l-6 29l52-12l5-30z"/>
<path fill="#dfd002" stroke="#dfd002" d="M2127 597l-5 29l51-11l6-30z"/>
<path fill="#dfd708" stroke="#dfd708" d="M2167 645l-5 29l45-6l6-30z"/>
<path fill="#e1f31e" stroke="#e1f31e" d="M2534 703l-5 38l34 16l5-38zM2608 696l-5 39l34 17l5-41zM2682 685l-6 41l35 15l5-42zM2790 681l-6 45l35 14l5-45zM2898 675l-6 48l34 15l6-49zM2972 657l-6 51l34 25l6-53zM3045 648l-5 55l34 21l6-56zM3369 631l-5 77l34 20l6-78zM3511 614l-5 88l34 17l6-89zM3790 628l-5 107l34 15l5-109z"/>
<path fill="#e25101" stroke="#e25101" d="M2333 173l-6 32l37-11l6-33z"/>
<path fill="#e3eb16" stroke="#e3eb16" d="M2392 693l-5 35l34 10l5-35zM2426 703l-5 35l34 12l6-36zM2500 689l-5 37l34 15l5-38z"/>
<path fill="#e4e40f" stroke="#e4e40f" d="M2287 670l-6 32l37 8l6-33zM2324 677l-6 33l35 8l5-33zM2358 685l-5 33l34 10l5-35z"/>
<path fill="#e5dd08" stroke="#e5dd08" d="M2213 638l-6 30l43-2l6-31z"/>
<path fill="#e66c01" stroke="#e66c01" d="M2279 255l-5 33l42-16l6-34z"/>
<path fill="#e67401" stroke="#e67401" d="M2274 288l-6 32l43-14l5-34z"/>
<path fill="#e68301" stroke="#e68301" d="M2268 320l-5 33l42-13l6-34z"/>
<path fill="#e68b01" stroke="#e68b01" d="M2263 353l-6 33l43-12l5-34z"/>
<path fill="#e6b001" stroke="#e6b001" d="M2201 464l-6 30l45-12l6-32z"/>
<path fill="#e6b801" stroke="#e6b801" d="M2195 494l-5 31l45-11l5-32z"/>
<path fill="#e6c001" stroke="#e6c001" d="M2190 525l-6 30l45-10l6-31z"/>
<path fill="#e6c701" stroke="#e6c701" d="M2184 555l-5 30l45-9l5-31z"/>
<path fill="#e6cf01" stroke="#e6cf01" d="M2179 585l-6 30l45-8l6-31z"/>
<path fill="#e6d601" stroke="#e6d601" d="M2173 615l-6 30l46-7l5-31z"/>
<path fill="#e84c01" stroke="#e84c01" d="M2370 161l-6 33l37-7l6-34z"/>
<path fill="#e9f116" stroke="#e9f116" d="M2574 680l-6 39l35 16l5-39zM2648 670l-6 41l34 15l6-41zM2722 655l-6 44l34 14l6-45zM2756 668l-6 45l34 13l6-45zM2830 648l-6 47l34 13l6-47zM2864 661l-6 47l34 15l6-48zM2938 639l-6 50l34 19l6-51zM3011 627l-5 53l34 23l5-55zM3119 629l-5 59l34 22l5-62zM3227 622l-5 67l34 21l5-68zM3335 610l-5 75l34 23l5-77zM3477 599l-5 86l34 17l5-88zM3722 601l-6 104l35 15l5-106zM3756 614l-5 106l34 15l5-107z"/>
<path fill="#ea5a01" stroke="#ea5a01" d="M2327 205l-5 33l37-9l5-35z"/>
<path fill="#eaea0f" stroke="#eaea0f" d="M2432 668l-6 35l35 11l5-36zM2466 678l-5 36l34 12l5-37z"/>
<path fill="#ebe308" stroke="#ebe308" d="M2292 638l-5 32l37 7l5-33zM2329 644l-5 33l34 8l6-34z"/>
<path fill="#ec4001" stroke="#ec4001" d="M2441 145l-6 35l34-6l6-36z"/>
<path fill="#ec9601" stroke="#ec9601" d="M2257 386l-5 32l42-10l6-34z"/>
<path fill="#ec9e01" stroke="#ec9e01" d="M2252 418l-6 32l43-9l5-33z"/>
<path fill="#ecae01" stroke="#ecae01" d="M2246 450l-6 32l43-8l6-33z"/>
<path fill="#ecb501" stroke="#ecb501" d="M2240 482l-5 32l43-7l5-33z"/>
<path fill="#ecbd01" stroke="#ecbd01" d="M2235 514l-6 31l43-6l6-32z"/>
<path fill="#ecc501" stroke="#ecc501" d="M2229 545l-5 31l43-4l5-33z"/>
<path fill="#eccd01" stroke="#eccd01" d="M2224 576l-6 31l43-3l6-32z"/>
<path fill="#ecdc01" stroke="#ecdc01" d="M2218 607l-5 31l43-3l5-31zM2256 635l-6 31l37 4l5-32z"/>
<path fill="#ed4701" stroke="#ed4701" d="M2407 153l-6 34l34-7l6-35z"/>
<path fill="#f05c01" stroke="#f05c01" d="M2364 194l-5 35l37-6l5-36z"/>
<path fill="#f0f00f" stroke="#f0f00f" d="M2540 665l-6 38l34 16l6-39zM2614 655l-6 41l34 15l6-41zM2687 642l-5 43l34 14l6-44zM2795 636l-5 45l34 14l6-47zM2903 626l-5 49l34 14l6-50zM3085 610l-5 58l34 20l5-59zM3193 604l-5 64l34 21l5-67zM3301 590l-5 73l34 22l5-75zM3443 583l-5 85l34 17l5-86zM3688 587l-6 103l34 15l6-104z"/>
<path fill="#f13a00" stroke="#f13a00" d="M2509 131l-6 37l35-6l5-39z"/>
<path fill="#f1e908" stroke="#f1e908" d="M2364 651l-6 34l34 8l6-34zM2398 659l-6 34l34 10l6-35z"/>
<path fill="#f24200" stroke="#f24200" d="M2475 138l-6 36l34-6l6-37z"/>
<path fill="#f26a01" stroke="#f26a01" d="M2322 238l-6 34l37-8l6-35z"/>
<path fill="#f27201" stroke="#f27201" d="M2316 272l-5 34l37-7l5-35z"/>
<path fill="#f28201" stroke="#f28201" d="M2311 306l-6 34l37-6l6-35z"/>
<path fill="#f28a01" stroke="#f28a01" d="M2305 340l-5 34l37-5l5-35z"/>
<path fill="#f29201" stroke="#f29201" d="M2300 374l-6 34l37-4l6-35z"/>
<path fill="#f2a201" stroke="#f2a201" d="M2294 408l-5 33l37-3l5-34z"/>
<path fill="#f2aa01" stroke="#f2aa01" d="M2289 441l-6 33l37-1l6-35z"/>
<path fill="#f2b201" stroke="#f2b201" d="M2283 474l-5 33l37-1l5-33z"/>
<path fill="#f2c201" stroke="#f2c201" d="M2278 507l-6 32l37 1l6-34z"/>
<path fill="#f2ca01" stroke="#f2ca01" d="M2272 539l-5 33l37 1l5-33zM2309 540l-5 33l36 4l6-34z"/>
<path fill="#f2d201" stroke="#f2d201" d="M2267 572l-6 32l37 2l6-33zM2304 573l-6 33l37 5l5-34z"/>
<path fill="#f2da01" stroke="#f2da01" d="M2261 604l-5 31l36 3l6-32zM2298 606l-6 32l37 6l6-33z"/>
<path fill="#f45000" stroke="#f45000" d="M2435 180l-5 37l34-5l5-38z"/>
<path fill="#f52d00" stroke="#f52d00" d="M2680 123l-6 43l34 4l6-45zM2714 125l-6 45l35 4l5-46zM2748 128l-5 46l34 4l5-47zM2782 131l-5 47l34 4l5-49zM2816 133l-5 49l34 3l6-49zM2851 136l-6 49l34 4l6-50zM2885 139l-6 50l34 3l6-51zM2919 141l-6 51l34 3l6-52zM2953 143l-6 52l35 5l5-55zM2987 145l-5 55l34 5l5-56zM3021 149l-5 56l34 6l5-59zM3055 152l-5 59l34 6l6-62zM3090 155l-6 62l34 6l6-65zM3124 158l-6 65l34 6l6-68zM3158 161l-6 68l34 7l6-71zM3192 165l-6 71l35 7l5-74z"/>
<path fill="#f55700" stroke="#f55700" d="M2401 187l-5 36l34-6l5-37z"/>
<path fill="#f63400" stroke="#f63400" d="M2543 123l-5 39l34-4l5-40zM2577 118l-5 40l34 2l5-42zM2611 118l-5 42l34 3l6-43zM2646 120l-6 43l34 3l6-43zM3226 169l-5 74l34 7l5-77zM3260 173l-5 77l34 8l5-81zM3294 177l-5 81l34 8l6-86zM3329 180l-6 86l34 8l6-90zM3363 184l-6 90l34 8l6-94zM3397 188l-6 94l35 8l5-98z"/>
<path fill="#f65f00" stroke="#f65f00" d="M2396 223l-6 36l34-4l6-38z"/>
<path fill="#f73c00" stroke="#f73c00" d="M3431 192l-5 98l34 8l5-102zM3465 196l-5 102l34 8l5-106zM3499 200l-5 106l34 8l6-110zM3534 204l-6 110l34 8l6-113zM3568 209l-6 113l34 9l6-118zM3602 213l-6 118l34 8l6-122z"/>
<path fill="#f84300" stroke="#f84300" d="M2538 162l-6 41l34-3l6-42zM2572 158l-6 42l34 3l6-43zM2606 160l-6 43l35 5l5-45zM2640 163l-5 45l34 5l5-47zM2674 166l-5 47l34 5l5-48zM2708 170l-5 48l34 5l6-49zM2743 174l-6 49l34 4l6-49zM2777 178l-6 49l34 5l6-50zM2811 182l-6 50l34 5l6-52zM2845 185l-6 52l35 5l5-53zM2879 189l-5 53l34 5l5-55zM2913 192l-5 55l34 4l5-56zM2947 195l-5 56l34 6l6-57zM2982 200l-6 57l34 7l6-59zM3016 205l-6 59l34 10l6-63zM3636 217l-6 122l35 8l5-126zM3670 221l-5 126l34 8l5-129zM3704 226l-5 129l34 8l5-133zM3738 230l-5 133l34 9l6-138zM3773 234l-6 138l34 8l6-142zM3807 238l-6 142l34 8l6-146z"/>
<path fill="#f86600" stroke="#f86600" d="M2359 229l-6 35l37-5l6-36z"/>
<path fill="#f8ef07" stroke="#f8ef07" d="M2472 641l-6 37l34 11l6-38zM2506 651l-6 38l34 14l6-38zM2545 626l-5 39l34 15l5-40zM2579 640l-5 40l34 16l6-41zM2653 628l-5 42l34 15l5-43zM2727 611l-5 44l34 13l5-45zM2761 623l-5 45l34 13l5-45zM2869 613l-5 48l34 14l5-49zM2977 605l-5 52l34 23l5-53zM3051 591l-6 57l35 20l5-58zM3159 585l-6 63l35 20l5-64zM3267 571l-6 71l35 21l5-73zM3409 567l-5 83l34 18l5-85zM3654 574l-6 101l34 15l6-103zM4035 580l-6 132l34 12l6-134z"/>
<path fill="#f94b00" stroke="#f94b00" d="M2469 174l-5 38l34-4l5-40zM2503 168l-5 40l34-5l6-41zM3050 211l-6 63l35 8l5-65zM3084 217l-5 65l34 9l5-68zM3118 223l-5 68l34 9l5-71zM3152 229l-5 71l34 9l5-73zM3841 242l-6 146l34 7l6-149zM3875 246l-6 149l35 8l5-153zM3909 250l-5 153l34 7l5-156zM3943 254l-5 156l34 7l5-159zM3977 258l-5 159l34 8l6-163zM4012 262l-6 163l34 7l6-166zM4046 266l-6 166l34 7l6-169z"/>
<path fill="#f96d00" stroke="#f96d00" d="M2353 264l-5 35l37-4l5-36zM2390 259l-5 36l34-3l5-37z"/>
<path fill="#f97500" stroke="#f97500" d="M2385 295l-6 37l34-2l6-38z"/>
<path fill="#f97e00" stroke="#f97e00" d="M2348 299l-6 35l37-2l6-37z"/>
<path fill="#f98600" stroke="#f98600" d="M2342 334l-5 35l36-1l6-36zM2379 332l-6 36l35-1l5-37z"/>
<path fill="#f98e00" stroke="#f98e00" d="M2373 368l-5 35l34 1l6-37z"/>
<path fill="#f99600" stroke="#f99600" d="M2337 369l-6 35l37-1l5-35z"/>
<path fill="#f99e00" stroke="#f99e00" d="M2331 404l-5 34l36 1l6-36zM2368 403l-6 36l35 1l5-36z"/>
<path fill="#f9a700" stroke="#f9a700" d="M2362 439l-5 35l34 2l6-36z"/>
<path fill="#f9af00" stroke="#f9af00" d="M2326 438l-6 35l37 1l5-35z"/>
<path fill="#f9b700" stroke="#f9b700" d="M2320 473l-5 33l36 3l6-35zM2357 474l-6 35l35 3l5-36zM2391 476l-5 36l34 4l5-37z"/>
<path fill="#f9bf00" stroke="#f9bf00" d="M2315 506l-6 34l37 3l5-34zM2351 509l-5 34l34 4l6-35zM2386 512l-6 35l34 6l6-37z"/>
<path fill="#f9cf00" stroke="#f9cf00" d="M2346 543l-6 34l35 5l5-35zM2380 547l-5 35l34 7l5-36z"/>
<path fill="#f9d800" stroke="#f9d800" d="M2340 577l-5 34l34 6l6-35zM2375 582l-6 35l34 7l6-35z"/>
<path fill="#f9e000" stroke="#f9e000" d="M2335 611l-6 33l35 7l5-34zM2409 589l-6 35l34 8l6-36z"/>
<path fill="#f9e800" stroke="#f9e800" d="M2369 617l-5 34l34 8l5-35zM2403 624l-5 35l34 9l5-36zM2437 632l-5 36l34 10l6-37z"/>
<path fill="#fa5200" stroke="#fa5200" d="M2498 208l-6 40l35-3l5-42zM2532 203l-5 42l34-2l5-43zM2566 200l-5 43l34 4l5-44zM2600 203l-5 44l34 6l6-45zM2635 208l-6 45l34 6l6-46zM2669 213l-6 46l34 6l6-47zM2703 218l-6 47l35 6l5-48zM2737 223l-5 48l34 7l5-51zM2771 227l-5 51l34 6l5-52zM3186 236l-5 73l34 10l6-76zM3221 243l-6 76l34 10l6-79z"/>
<path fill="#fc5a00" stroke="#fc5a00" d="M2464 212l-6 39l34-3l6-40zM2805 232l-5 52l34 5l5-52zM2839 237l-5 52l34 6l6-53zM2874 242l-6 53l34 6l6-54zM2908 247l-6 54l34 6l6-56zM2942 251l-6 56l35 7l5-57zM2976 257l-5 57l34 10l5-60zM3255 250l-6 79l34 11l6-82zM3289 258l-6 82l35 11l5-85zM3323 266l-5 85l34 12l5-89z"/>
<path fill="#fd6100" stroke="#fd6100" d="M2430 217l-6 38l34-4l6-39zM2492 248l-5 40l34-2l6-41zM2527 245l-6 41l34 0l6-43zM2561 243l-6 43l34 5l6-44zM2595 247l-6 44l35 7l5-45zM2629 253l-5 45l34 7l5-46zM2663 259l-5 46l34 8l5-48zM3010 264l-5 60l34 11l5-61zM3044 274l-5 61l34 12l6-65zM3357 274l-5 89l34 12l5-93zM3391 282l-5 93l34 12l6-97z"/>
<path fill="#fe6900" stroke="#fe6900" d="M2424 255l-5 37l34-2l5-39zM2458 251l-5 39l34-2l5-40zM2697 265l-5 48l34 7l6-49zM2732 271l-6 49l34 7l6-49zM2766 278l-6 49l34 7l6-50zM2800 284l-6 50l34 7l6-52zM2834 289l-6 52l35 7l5-53zM3079 282l-6 65l34 11l6-67zM3113 291l-6 67l34 11l6-69zM3426 290l-6 97l34 11l6-100zM3460 298l-6 100l34 11l6-103z"/>
<path fill="#ff7000" stroke="#ff7000" d="M2487 288l-6 40l35-1l5-41zM2521 286l-5 41l34 2l5-43zM2555 286l-5 43l34 6l5-44zM2589 291l-5 44l34 8l6-45zM2624 298l-6 45l34 8l6-46zM2868 295l-5 53l34 8l5-55zM2902 301l-5 55l34 7l5-56zM2936 307l-5 56l34 8l6-57zM2971 314l-6 57l34 11l6-58zM3147 300l-6 69l34 12l6-72zM3181 309l-6 72l35 13l5-75zM3494 306l-6 103l34 11l6-106zM3528 314l-6 106l35 11l5-109z"/>
<path fill="#ff7800" stroke="#ff7800" d="M2419 292l-6 38l34-2l6-38zM2453 290l-6 38l34 0l6-40zM2658 305l-6 46l34 9l6-47zM2692 313l-6 47l35 8l5-48zM2726 320l-5 48l34 9l5-50zM3005 324l-6 58l34 14l6-61zM3215 319l-5 75l34 13l5-78zM3249 329l-5 78l34 13l5-80zM3562 322l-5 109l34 12l5-112zM3596 331l-5 112l34 11l5-115zM3630 339l-5 115l34 11l6-118z"/>
<path fill="#ff8100" stroke="#ff8100" d="M2447 328l-5 39l34 0l5-39zM2481 328l-5 39l34 1l6-41zM2516 327l-6 41l34 3l6-42zM2550 329l-6 42l34 7l6-43zM2584 335l-6 43l35 9l5-44zM2618 343l-5 44l34 10l5-46zM2760 327l-5 50l34 8l5-51zM2794 334l-5 51l34 8l5-52zM2828 341l-5 52l34 8l6-53zM2863 348l-6 53l34 8l6-53zM3039 335l-6 61l35 14l5-63zM3073 347l-5 63l34 13l5-65zM3283 340l-5 80l34 14l6-83zM3665 347l-6 118l34 11l6-121zM3699 355l-6 121l34 11l6-124z"/>
<path fill="#ff8900" stroke="#ff8900" d="M2413 330l-5 37l34 0l5-39zM2652 351l-5 46l34 9l5-46zM2686 360l-5 46l34 10l6-48zM2897 356l-6 53l34 9l6-55zM2931 363l-6 55l35 9l5-56zM3107 358l-5 65l34 14l5-68zM3318 351l-6 83l34 15l6-86zM3352 363l-6 86l34 16l6-90zM3733 363l-6 124l35 11l5-126zM3767 372l-5 126l34 12l5-130z"/>
<path fill="#ff9200" stroke="#ff9200" d="M2408 367l-6 37l34 1l6-38zM2442 367l-6 38l34 2l6-40zM2476 367l-6 40l35 2l5-41zM2510 368l-5 41l34 3l5-41zM2544 371l-5 41l34 9l5-43zM2578 378l-5 43l34 10l6-44zM2721 368l-6 48l34 9l6-48zM2755 377l-6 48l34 9l6-49zM2789 385l-6 49l34 9l6-50zM2965 371l-5 56l34 13l5-58zM2999 382l-5 58l34 16l5-60zM3141 369l-5 68l34 15l5-71zM3175 381l-5 71l34 14l6-72zM3386 375l-6 90l35 14l5-92zM3801 380l-5 130l34 10l5-132zM3835 388l-5 132l34 10l5-135zM3869 395l-5 135l34 10l6-137z"/>
<path fill="#ff9a00" stroke="#ff9a00" d="M2613 387l-6 44l34 11l6-45zM2647 397l-6 45l34 10l6-46zM2823 393l-6 50l35 9l5-51zM2857 401l-5 51l34 10l5-53zM2891 409l-5 53l34 9l5-53zM3033 396l-5 60l34 16l6-62zM3210 394l-6 72l34 15l6-74zM3420 387l-5 92l34 14l5-95zM3454 398l-5 95l34 14l5-98zM3904 403l-6 137l34 10l6-140zM3938 410l-6 140l34 10l6-143zM3972 417l-6 143l35 10l5-145z"/>
<path fill="#ffa200" stroke="#ffa200" d="M2402 404l-5 36l34 2l5-37zM2436 405l-5 37l34 3l5-38zM2470 407l-5 38l34 4l6-40zM2505 409l-6 40l34 5l6-42zM2539 412l-6 42l34 9l6-42zM2573 421l-6 42l35 11l5-43zM2681 406l-6 46l34 11l6-47zM2715 416l-6 47l35 10l5-48zM2749 425l-5 48l34 10l5-49zM2925 418l-5 53l34 11l6-55zM3068 410l-6 62l34 15l6-64zM3244 407l-6 74l34 16l6-77zM3488 409l-5 98l34 13l5-100zM4006 425l-5 145l34 10l5-148zM4040 432l-5 148l34 10l5-151z"/>
<path fill="#ffab00" stroke="#ffab00" d="M2397 440l-6 36l34 3l6-37zM2431 442l-6 37l34 5l6-39zM2465 445l-6 39l35 4l5-39zM2499 449l-5 39l34 6l5-40zM2607 431l-5 43l34 12l5-44zM2641 442l-5 44l34 11l5-45zM2783 434l-5 49l34 10l5-50zM2817 443l-5 50l34 10l6-51zM2960 427l-6 55l34 14l6-56zM2994 440l-6 56l34 19l6-59zM3102 423l-6 64l34 16l6-66zM3278 420l-6 77l35 17l5-80zM3522 420l-5 100l34 14l6-103zM3557 431l-6 103l34 13l6-104z"/>
<path fill="#ffb300" stroke="#ffb300" d="M2533 454l-5 40l34 11l5-42zM2567 463l-5 42l34 12l6-43zM2675 452l-5 45l34 12l5-46zM2709 463l-5 46l34 11l6-47zM2852 452l-6 51l34 10l6-51zM2886 462l-6 51l34 11l6-53zM3028 456l-6 59l34 17l6-60zM3136 437l-6 66l34 16l6-67zM3170 452l-6 67l35 17l5-70zM3312 434l-5 80l34 18l5-83zM3591 443l-6 104l34 14l6-107z"/>
<path fill="#ffbc00" stroke="#ffbc00" d="M2425 479l-5 37l34 6l5-38zM2459 484l-5 38l34 5l6-39zM2494 488l-6 39l34 7l6-40zM2528 494l-6 40l34 12l6-41zM2602 474l-6 43l34 12l6-43zM2636 486l-6 43l34 13l6-45zM2744 473l-6 47l34 11l6-48zM2778 483l-6 48l34 10l6-48zM2920 471l-6 53l35 12l5-54zM2954 482l-5 54l34 15l5-55zM3062 472l-6 60l35 17l5-62zM3204 466l-5 70l34 17l5-72zM3346 449l-5 83l34 18l5-85zM3625 454l-6 107l35 13l5-109zM3659 465l-5 109l34 13l5-111z"/>
<path fill="#ffc400" stroke="#ffc400" d="M2420 516l-6 37l34 6l6-37zM2562 505l-6 41l35 12l5-41zM2670 497l-6 45l34 12l6-45zM2812 493l-6 48l35 11l5-49zM2846 503l-5 49l34 12l5-51zM2988 496l-5 55l34 20l5-56zM3096 487l-5 62l34 18l5-64zM3238 481l-5 72l34 18l5-74zM3380 465l-5 85l34 17l6-88zM3415 479l-6 88l34 16l6-90zM3693 476l-5 111l34 14l5-114z"/>
<path fill="#ffcc00" stroke="#ffcc00" d="M2454 522l-6 37l35 7l5-39zM2488 527l-5 39l34 8l5-40zM2522 534l-5 40l34 12l5-40zM2596 517l-5 41l34 14l5-43zM2630 529l-5 43l34 13l5-43zM2704 509l-6 45l35 12l5-46zM2738 520l-5 46l34 11l5-46zM2880 513l-5 51l34 11l5-51zM2914 524l-5 51l34 13l6-52zM3130 503l-5 64l34 18l5-66zM3272 497l-5 74l34 19l6-76zM3449 493l-6 90l34 16l6-92zM3727 487l-5 114l34 13l6-116zM3762 498l-6 116l34 14l6-118z"/>
<path fill="#ffd500" stroke="#ffd500" d="M2414 553l-5 36l34 7l5-37zM2448 559l-5 37l34 7l6-37zM2556 546l-5 40l34 14l6-42zM2664 542l-5 43l34 13l5-44zM2772 531l-5 46l34 12l5-48zM2806 541l-5 48l34 12l6-49zM2949 536l-6 52l34 17l6-54zM3022 515l-5 56l34 20l5-59zM3164 519l-5 66l34 19l6-68zM3307 514l-6 76l34 20l6-78zM3483 507l-6 92l34 15l6-94zM3796 510l-6 118l34 13l6-121zM3830 520l-6 121l34 11l6-122z"/>
<path fill="#ffdd00" stroke="#ffdd00" d="M2483 566l-6 37l34 10l6-39zM2517 574l-6 39l34 13l6-40zM2591 558l-6 42l34 14l6-42zM2625 572l-6 42l34 14l6-43zM2698 554l-5 44l34 13l6-45zM2733 566l-6 45l34 12l6-46zM2841 552l-6 49l34 12l6-49zM2875 564l-6 49l34 13l6-51zM2983 551l-6 54l34 22l6-56zM3056 532l-5 59l34 19l6-61zM3199 536l-6 68l34 18l6-69zM3517 520l-6 94l35 16l5-96zM3864 530l-6 122l35 12l5-124zM3898 540l-5 124l34 12l5-126z"/>
<path fill="#ffe600" stroke="#ffe600" d="M2443 596l-6 36l35 9l5-38zM2477 603l-5 38l34 10l5-38zM2551 586l-6 40l34 14l6-40zM2659 585l-6 43l34 14l6-44zM2767 577l-6 46l34 13l6-47zM2909 575l-6 51l35 13l5-51zM3091 549l-6 61l34 19l6-62zM3233 553l-6 69l34 20l6-71zM3341 532l-6 78l34 21l6-81zM3551 534l-5 96l34 15l5-98zM3932 550l-5 126l34 12l5-128z"/>
<path fill="#ffee00" stroke="#ffee00" d="M2511 613l-5 38l34 14l5-39zM2585 600l-6 40l35 15l5-41zM2619 614l-5 41l34 15l5-42zM2693 598l-6 44l35 13l5-44zM2801 589l-6 47l35 12l5-47zM2835 601l-5 47l34 13l5-48zM2943 588l-5 51l34 18l5-52zM3017 571l-6 56l34 21l6-57zM3125 567l-6 62l34 19l6-63zM3375 550l-6 81l35 19l5-83zM3585 547l-5 98l34 15l5-99zM3619 561l-5 99l34 15l6-101zM3966 560l-5 128l34 12l6-130zM4001 570l-6 130l34 12l6-132z"/>
</g>
<g transform="scale(.1)" fill="none" stroke="#00000c" stroke-linejoin="round">
<g filter="url(#bq)" stroke-width="12.0">
<path stroke-opacity="0.36" d="M2430 217l-50 330M2469 174l-27 193l-39 257M2509 131l-55 391l-28 181M2543 123l-49 365l-39 262M2577 118l-49 376l-22 157l-17 111M2611 118l-49 387l-22 160l-17 113M2646 120l-55 438l-39 274M2680 123l-55 449l-39 279M2714 125l-55 460l-22 167l-22 154M2748 128l-27 240l-28 230l-22 170l-28 193M2782 131l-49 435l-33 258l-22 155M2816 133l-27 252l-33 283l-33 252l-17 114M2851 136l-12 101l-27 256l-22 188l-22 173l-28 197M2885 139l-33 313l-22 196l-22 180l-34 240M2919 141l-33 321l-22 199l-33 267l-28 196M2953 143l-33 328l-22 204l-33 271l-28 197M2987 145l-27 282l-22 212l-28 238l-33 248M3021 149l-27 291l-22 217l-22 196l-28 217M3055 152l-27 304l-22 224l-22 201l-22 178M3090 155l-22 255l-28 293l-22 204l-28 223M3124 158l-22 265l-22 245l-22 215l-33 275M3158 161l-33 406l-22 235l-22 204l-28 221M3192 165l-33 420l-22 240l-22 208l-28 221M3226 169l-27 367l-22 255l-11 113l-22 202l-23 175M3260 173l-27 380l-22 261l-22 221l-11 98l-22 175M3294 177l-27 394l-22 266l-22 224l-11 99l-22 175M3329 180l-22 334l-22 285l-11 124l-17 166l-11 99l-17 134M3363 184l-22 348l-22 293l-22 240l-11 104l-22 183M3397 188l-22 362l-22 300l-11 128l-22 220l-22 183l-6 40M3431 192l-16 287l-11 171l-17 223l-11 129l-22 221l-11 96l-17 127M3465 196l-16 297l-11 175l-22 293l-11 124l-22 211l-22 173l-6 38M3499 200l-16 307l-11 178l-22 298l-11 124l-22 211l-11 90l-17 120M3534 204l-28 498l-22 301l-11 125l-22 211l-11 89l-17 119M3568 209l-22 421l-22 325l-11 133l-22 223l-17 137l-17 118M3602 213l-22 432l-22 329l-11 134l-22 222l-11 94l-17 122M3636 217l-22 443l-11 179l-11 154l-11 135l-22 222l-11 92l-17 122M3670 221l-16 353l-11 195l-11 168l-11 144l-17 183l-11 104l-11 92l-17 120M3704 226l-16 361l-11 198l-11 169l-11 146l-22 235l-11 97l-22 164M3738 230l-16 371l-11 200l-11 171l-11 146l-22 235l-11 96l-22 162M3773 234l-11 264l-11 222l-17 269l-11 147l-22 234l-11 96l-22 160M3807 238l-11 272l-11 225l-11 189l-11 159l-11 136l-22 218l-11 89l-17 115M3841 242l-11 278l-11 230l-11 191l-11 160l-22 252l-11 100l-22 167M3875 246l-11 284l-11 233l-11 193l-11 161l-11 135l-11 116l-11 101l-22 165M3909 250l-5 153l-11 261l-11 214l-11 178l-11 148l-11 125l-11 107l-11 93l-17 119M3943 254l-5 156l-11 266l-11 217l-11 179l-11 148l-11 126l-22 199l-17 117M3977 258l-5 159l-11 271l-11 219l-11 180l-11 149l-11 125l-11 107l-11 91l-17 117M4012 262l-11 308l-11 246l-11 201l-11 164l-11 136l-17 166l-11 91l-17 115M4046 266l-11 314l-11 250l-11 202l-11 165l-11 136l-11 114l-11 97l-17 122M4080 270l-11 320l-11 253l-11 204l-11 165l-11 136l-11 114l-11 96l-17 121"/>
<path stroke-opacity="0.42" d="M1629 1005l-126 415l-149 472l-143 439l-133 393M1722 856l-143 499l-55 185l-72 235l-66 211l-88 274l-55 167l-72 212M1810 715l-110 416l-44 160l-88 308l-12 37l-38 130l-99 321l-88 273l-72 213M1887 594l-77 315l-61 238l-55 207l-55 199l-55 191l-55 184l-83 265l-55 170l-55 164M1972 464l-77 342l-55 233l-66 263l-61 228l-77 273l-77 257l-66 209l-72 216M2057 357l-60 292l-61 278l-55 236l-33 135l-44 172l-66 244l-83 285l-77 248l-33 102l-39 115M2131 287l-77 392l-55 262l-66 290l-55 224l-61 230l-77 273l-88 288l-33 102l-39 115M2193 243l-71 383l-66 327l-66 296l-44 183l-83 318l-77 271l-77 251l-55 168l-12 32M2245 215l-66 370l-61 315l-55 260l-66 285l-66 260l-61 221l-77 261l-44 140l-55 166M2290 192l-38 226l-39 220l-44 234l-55 269l-55 246l-33 138l-44 174l-83 302l-66 222l-66 207l-28 82M2333 173l-55 334l-44 251l-61 314l-66 305l-44 186l-33 132l-66 247l-50 173l-44 146l-44 139l-44 132M2370 161l-66 412l-50 282l-33 174l-22 109l-44 207l-22 97l-33 140l-33 133l-33 126l-61 220l-66 222l-55 173l-33 98M2407 153l-72 458l-44 256l-55 288l-33 158l-33 149l-33 141l-33 134l-72 269l-77 265l-44 141l-55 166M2441 145l-11 72M2380 547l-16 104l-33 196l-50 268l-55 268l-55 241l-44 178l-66 246l-39 135l-55 182l-44 138l-33 98M2475 138l-6 36M2403 624l-38 236l-22 125l-33 176l-50 242l-22 100l-44 189l-55 218l-66 240l-66 221l-39 122l-44 132M2426 703l-16 104l-22 131l-44 242l-55 270l-55 242l-72 283l-55 199l-33 113l-44 144l-44 137l-28 82M2455 750l-44 267l-44 239l-22 111l-33 156l-55 239l-55 217l-72 258l-22 75l-66 213l-50 149M2489 762l-27 175l-22 130l-22 122l-28 145l-44 212l-55 239l-55 218l-33 122l-44 155l-83 269l-50 149M2523 778l-16 108l-22 136l-22 128l-33 178l-44 216l-22 100l-28 119l-55 222l-66 242l-66 223l-55 173l-34 99M2552 832l-44 276l-33 185l-44 222l-55 249l-55 223l-28 105l-55 197l-55 184l-44 139l-44 132M2586 851l-16 109l-22 137l-39 219l-44 223l-55 249l-55 223l-33 125l-44 157l-83 273l-66 201M2615 906l-22 144l-22 133l-44 242l-33 163l-28 127l-44 188l-33 131l-33 124l-55 195l-77 252l-61 183M2643 961l-16 108l-22 135l-44 243l-44 215l-55 240l-61 237l-55 197l-44 148l-44 141l-61 183M2678 979l-39 245l-44 244l-44 215l-55 240l-44 174l-55 201l-72 241l-55 173l-39 115M2706 1034l-16 107l-22 134l-44 241l-50 237l-44 189l-66 256l-55 194l-55 182l-61 189l-28 82M2740 1051l-27 176l-22 130l-22 120l-44 219l-44 196l-39 157l-33 126l-66 234l-77 252l-66 200M2774 1068l-16 109l-22 136l-33 184l-44 219l-22 100l-33 141l-33 132l-33 124l-61 214l-66 216l-77 235M2803 1124l-16 107l-22 134l-39 209l-22 110l-33 152l-44 185l-44 170l-33 120l-44 152l-61 197l-77 234M2837 1143l-16 108l-22 134l-33 182l-22 111l-22 103l-50 215l-44 172l-33 122l-33 116l-33 111l-55 177l-33 102l-39 115M2877 1125l-33 215l-22 129l-22 119l-44 214l-22 98l-33 137l-33 129l-39 142l-66 226l-66 211l-61 182M2922 1070l-16 117l-22 144l-39 223l-44 220l-44 195l-55 218l-33 121l-44 153l-72 233l-44 136l-39 115M2962 1059l-33 234l-22 138l-22 125l-22 116l-22 107l-50 219l-33 132l-33 124l-55 194l-44 146l-44 140l-78 233M2990 1130l-16 119l-22 145l-33 192l-22 115l-22 106l-44 194l-44 174l-72 257l-88 287l-88 267M3025 1158l-11 81l-28 183l-33 192l-22 114l-22 105l-44 192l-55 213l-33 119l-33 113l-83 267l-88 266M3053 1227l-16 116l-22 141l-33 186l-39 188l-44 189l-44 171l-44 158l-33 112l-66 214l-105 317M3087 1254l-27 189l-22 132l-22 120l-22 110l-22 101l-22 95l-33 133l-50 183l-77 260l-66 209l-55 167l-28 81M3121 1281l-27 188l-33 193l-22 113l-22 104l-44 188l-33 128l-33 120l-33 114l-94 303l-66 202l-39 114M3156 1308l-22 153l-33 196l-39 194l-22 99l-33 137l-33 126l-44 157l-66 219l-83 258l-72 214M3190 1335l-33 221l-33 184l-33 158l-44 186l-61 225l-66 223l-88 277l-55 166l-34 98M3229 1322l-5 42l-22 150l-33 193l-33 164l-44 189l-22 86l-44 160l-72 240l-77 242l-99 297M3264 1352l-11 81l-22 144l-28 156l-33 161l-44 186l-55 204l-77 258l-44 139l-12 34l-49 152l-77 229M3292 1421l-5 40l-22 143l-33 181l-33 155l-22 93l-28 107l-55 197l-55 182l-88 275l-105 313M3326 1446l-5 39l-22 141l-33 179l-33 153l-44 176l-55 197l-72 234l-99 305l-83 245M3355 1507l-22 140l-33 177l-33 149l-44 175l-55 194l-66 215l-94 288l-94 278M3389 1528l-16 106l-11 64l-33 168l-22 99l-28 112l-33 123l-44 152l-77 248l-88 269l-89 261M3423 1547l-16 105l-11 63l-33 166l-33 143l-44 167l-50 170l-66 212l-66 203l-121 361M3457 1566l-16 103l-22 121l-11 54l-33 147l-44 171l-55 190l-55 177l-83 254l-121 360M3497 1546l-16 107l-33 179l-11 52l-28 119l-44 169l-44 152l-66 212l-55 170l-149 443M3531 1564l-16 105l-33 177l-22 100l-22 91l-44 164l-61 203l-77 241l-110 331l-61 179M3565 1580l-5 37l-22 130l-22 112l-22 98l-22 90l-44 162l-22 76l-66 213l-149 451l-72 211M3600 1596l-11 70l-22 124l-28 131l-33 136l-44 161l-55 182l-77 240l-116 347l-61 178M3634 1611l-22 133l-22 113l-33 145l-33 126l-50 172l-55 176l-55 170l-99 297l-78 227M3668 1626l-22 131l-22 112l-33 143l-44 164l-66 220l-72 222l-187 557M3702 1641l-5 35l-17 95l-33 159l-33 134l-44 158l-44 145l-66 206l-204 607M3742 1620l-22 134l-33 162l-33 136l-39 140l-44 146l-66 207l-121 364l-34 97l-60 179M3776 1634l-22 132l-11 58l-22 103l-33 134l-44 157l-44 144l-72 222l-99 297l-105 309M3810 1648l-22 131l-22 110l-33 139l-44 160l-66 215l-66 203l-199 588M3844 1662l-16 100l-33 162l-28 113l-33 121l-55 182l-77 238l-77 231l-133 390M3878 1676l-16 98l-11 58l-22 102l-33 132l-33 118l-33 109l-83 257l-110 329l-111 324M3912 1689l-16 97l-11 57l-22 101l-22 89l-44 158l-55 178l-44 136l-237 703M3952 1666l-16 101l-22 113l-39 161l-44 157l-44 142l-55 170l-77 231l-160 471M3986 1679l-16 100l-11 58l-22 102l-33 131l-33 116l-50 160l-55 169l-121 361l-116 340"/>
</g>
<g filter="url(#bt)" stroke-width="10.0">
<path stroke-opacity="0.14" d="M2333 173l37-12M2327 205l37-11M2279 255l43-17M2274 288l42-16M2268 320l43-14M2263 353l42-13M2257 386l43-12M2206 433l46-15l42-10M2201 464l45-14l43-9M2195 494l45-12l43-8M2190 525l45-11l43-7M2184 555l45-10l43-6M2179 585l45-9l43-4M2173 615l45-8l43-3M2167 645l46-7l43-3M2162 674l45-6l43-2M2156 703l46-5l43-1M2151 732l45-4l43 0M2145 761l46-4l43 1l36 6M2185 787l43 1l37 7M2180 815l42 3l37 7l37 11M3901 1755l69 24M2174 844l43 3l37 8l71 23M3759 1736l137 50l68 22M2169 872l42 4l37 9l71 24l69 29M2900 1224l34 33M3207 1479l35 28M3617 1713l68 28l137 51l103 34M2163 900l43 5l37 9l37 13l68 27l34 15l34 17M2451 1003l34 19M2895 1261l68 62M3168 1487l102 83M3475 1686l68 30l137 55l137 49M2158 928l42 5l37 11l71 26l35 15l68 32l34 18l103 62M2889 1296l34 33l68 59l274 216l34 22l34 21l34 19l68 35l35 16l102 44l102 39l35 12M2195 962l37 10l37 14l34 14l68 31l69 36l170 104M2849 1306l35 25l34 33l34 30l68 56l205 160l34 26l34 23l69 39l102 49l68 29l69 27M2189 990l37 11l37 14l34 14l69 33l68 36l102 64l103 62M2844 1340l34 25M2912 1398l34 30l69 56l170 131M3254 1668l34 22l34 20l34 18l68 33l69 30M2258 1043l68 31l103 55l170 107l34 20l69 37l68 39l68 41l34 25M2941 1461l68 56l137 103M3282 1720l69 37M2286 1087l69 34l68 38l68 43l34 23l69 43l34 20l68 37l103 60l34 21l34 24M2383 1170l35 19l136 89l34 21l171 97l68 42l34 24M2549 1308l68 42l137 77l68 42M2577 1359l34 21l69 38l136 81M2606 1410l68 38l68 40"/>
<path stroke-opacity="0.27" d="M2370 161l105-23M2364 194l71-14M2322 238l37-9M2316 272l37-8M2311 306l37-7M2305 340l37-6M2300 374l37-5M2294 408l37-4M2289 441l37-3M2283 474l37-1M2278 507l37-1M2272 539l37 1M2267 572l37 1M2261 604l37 2l37 5M2256 635l36 3l37 6M2250 666l37 4l71 15M2245 697l36 5l37 8l35 8l34 10M2239 728l37 5l71 18l34 10M2270 764l72 19l34 11l34 13M2265 795l71 20l68 25l69 28l68 37M2917 1110l34 32M3804 1684l103 39l68 24M2296 836l35 11l102 40l34 16l34 18l103 58M2911 1149l68 62M3184 1375l103 86M3662 1662l137 55l102 38M2325 878l34 13l103 46l34 18l136 79M2906 1187l34 32l68 59l171 136l102 85l68 45M3418 1583l34 19l68 34l103 45l136 55M2388 938l34 15l34 17l103 59l34 21l68 38M2866 1200l34 24M2934 1257l68 58l205 164M3242 1507l34 28l68 45l34 20l68 36l35 17l34 16l102 44M2416 986l35 17M2485 1022l136 82l171 92l68 40l35 25M2963 1323l68 57l137 107M3270 1570l34 23l69 41l102 52M2548 1097l68 41l68 38l34 17l69 38l68 41l34 24M2610 1171l34 20l103 55l102 60M2639 1224l137 75l68 41"/>
<path stroke-opacity="0.41" d="M2475 138l68-15M2435 180l68-12M2359 229l105-17M2353 264l71-9M2348 299l71-7M2342 334l71-4M2337 369l71-2M2331 404l37-1l34 1M2326 438l71 2M2320 473l71 3M2315 506l105 10M2309 540l71 7l34 6M2304 573l71 9l68 14M2335 611l34 6l68 15M2329 644l69 15l68 19M2358 685l34 8l69 21l34 12l68 31M2387 728l34 10l68 24l103 51M2933 986l34 31M2381 761l103 37l68 34l34 19l68 35M2928 1029l68 59M3235 1279l34 30M3884 1639l102 40M2410 807l68 27l34 17l171 91M2888 1047l34 23l68 60l205 164l103 87M3673 1590l69 30l136 56l103 38M2541 905l102 56l137 69M2882 1086l35 24M2951 1142l102 85l137 108l102 86l34 25l35 23l34 21l68 38l68 36l69 32l136 60l68 28M2604 979l102 55l68 34l69 37l34 20l34 24M2979 1211l205 164M3287 1461l34 24l34 22l34 21l68 38l103 51l102 45M2632 1034l34 19l103 52l102 58l35 24M3349 1544l69 39M2661 1088l137 73l68 39"/>
<path stroke-opacity="0.54" d="M2543 123l34-5l34 0l35 2l239 19l102 6l34 4l137 12l376 43l170 22l376 44M2503 168l35-6l34-4l34 2l68 6l137 16l136 13l69 10l136 24l103 21l307 72l273 66l239 51M2464 212l68-9l34-3l34 3l342 48l68 13l34 10l35 8l102 27l68 20l69 22l102 36l342 111l34 12l273 80M2424 255l68-7l69-5l34 4l376 67l34 10l136 45l69 25l102 40l68 31l103 42l307 121l34 13l69 23l170 60M2419 292l102-6l34 0l34 5l342 72l34 8l34 11l137 55l102 44l69 33l102 53l68 32l342 151l239 93M2413 330l34-2l69-1l34 2l34 6l307 74l69 18l34 13l102 47l137 66l68 37l68 41l35 19l204 103l205 97l69 28l170 72M2408 367l102 1l34 3l34 7l342 93l34 11l34 14l34 19l69 34l136 73l69 41l68 45l68 40l34 19l137 72l205 102l239 106M2402 404l103 5l34 3l68 19l102 32l171 50l69 23l34 15l68 40l137 77l68 42l102 71l69 42l170 96l205 105l103 48l136 61M2397 440l34 2l68 7l34 5l34 9l137 46l137 43l68 23l34 13l34 17l68 43l69 40l136 87l35 24l68 51l34 23l68 42l69 40l102 57l171 89l239 111M2391 476l34 3l69 9l34 6l34 11l136 49l171 59l69 26l34 18l68 46l137 88l68 46l34 25l68 54l103 67l68 41l68 39l171 91l103 50l170 79M2420 516l68 11l34 7l69 24l136 53l103 37l102 41l34 19l34 25l137 92l137 98l68 55l68 47l68 43l103 60l171 91l136 67l137 62M2414 553l69 13l34 8l34 12l136 56l171 66l68 30l35 20l34 26l171 120l68 50l102 83l34 25l69 45l68 42l68 40l205 108l103 49l136 62M2443 596l34 7l34 10l34 13l137 59l171 69l34 15l34 17l34 20l34 27l205 150l68 53l69 57l68 49l34 22l137 82l136 72l69 35l34 15l102 49l103 45M2437 632l69 19l34 14l136 61l171 73l68 33l35 21l34 28l68 52l103 76l68 52l102 86l34 25l69 46l68 42l102 58l137 70l34 17l137 63l102 44M2466 678l34 11l34 14l137 65l171 75l68 34l34 22l68 55l205 157l103 87l68 49l34 22l69 42l68 39l136 70l137 65l102 45l69 28M2563 757l102 51l103 46l68 32l68 35l35 22l34 30l239 187l102 87l69 49l68 43l34 20l102 56l137 68l137 62l68 29l68 27M2592 813l102 51l137 64l68 36l34 22M2967 1017l34 28l205 161l103 87l34 26l68 45l103 60l68 36l102 50l137 62l68 29l103 41M2654 886l69 34l34 15l68 34l68 37l35 23M2996 1088l239 191M3269 1309l34 29l34 25l69 45l102 59l68 35l103 49l68 31l103 44l34 13M2683 942l137 67l34 18l34 20M3298 1381l34 24l68 45l68 39l35 19l68 34l102 48M2780 1030l102 56"/>
</g>
<path stroke-opacity=".3" stroke-width="7" d="M4080 270L4114 274M4074 439L4108 447M4069 590L4103 599M4063 724L4097 735M4058 843L4092 856M4052 950L4086 965M4047 1047L4081 1062M4041 1133L4075 1149M4036 1212L4070 1227M4030 1283L4064 1299M4025 1348L4059 1364M4019 1408L4053 1423M4014 1462L4048 1477M4008 1512L4042 1527M4003 1558L4037 1573M3997 1601L4031 1615M3992 1642L4026 1655M3986 1679L4020 1692M3981 1714L4015 1727M3975 1747L4009 1759M3970 1779L4004 1790M3964 1808L3998 1820M3959 1837L3993 1848M3953 1864L3987 1874M3948 1890L3982 1900M3942 1915L3976 1925M3937 1939L3971 1948M3931 1962L3965 1971M3926 1985L3960 1994M3920 2007L3954 2015M3915 2028L3949 2037M3909 2049L3943 2057M3904 2070L3938 2078M3898 2090L3932 2097M3893 2110L3927 2117M3887 2129L3921 2136M3882 2148L3916 2155M3876 2167L3910 2174M3871 2186L3905 2192M3865 2204L3899 2210M3860 2222L3894 2229M3854 2240L3888 2246M3848 2258L3883 2264M3843 2276L3877 2282M3837 2293L3872 2299M3832 2311L3866 2317M3826 2328L3861 2334M3821 2346L3855 2351M3815 2363L3850 2368M3810 2380L3844 2385M3804 2397L3838 2402M3799 2414L3833 2419M3793 2431L3827 2436M3788 2448L3822 2453M3782 2464L3816 2469M3777 2481L3811 2486M3771 2498L3805 2503M3766 2515L3800 2519M3760 2531L3794 2536M3755 2548L3789 2553M3749 2564L3783 2569M3744 2581L3778 2586M3738 2597L3772 2602M3733 2614L3767 2619M3727 2630L3761 2635M3722 2647L3756 2651M3716 2663L3750 2668M3711 2680L3745 2684M3705 2696L3739 2701M3700 2712L3734 2717M3694 2729L3728 2733M3689 2745L3723 2750M3683 2762L3717 2766M3678 2778L3712 2782M3672 2794L3706 2799M3667 2810L3701 2815M3661 2827L3695 2831M3656 2843L3690 2847M3650 2859L3684 2864M3645 2876L3679 2880M3639 2892L3673 2896M3634 2908L3668 2913M3628 2924L3662 2929M3623 2941L3657 2945M3617 2957L3651 2961M3612 2973L3646 2977M3606 2989L3640 2994M3601 3006L3635 3010M3595 3022L3629 3026M3590 3038L3624 3042M3584 3054L3618 3059M3578 3071L3613 3075M3573 3087L3607 3091M3567 3103L3602 3107M3562 3119L3596 3123M3556 3135L3591 3140M3551 3152L3585 3156M3545 3168L3580 3172M3540 3184L3574 3188M3534 3200L3569 3204M3529 3216L3563 3221"/>
</g>
<g stroke="#000" stroke-width="1.4" fill="none" stroke-linecap="square">
<path d="M72.2 290.6L356.3 322.3L411.4 160.5"/>
</g>
<g class="t">
<text x="72.5" y="312.9" text-anchor="middle">0</text>
<text x="129.3" y="319.2" text-anchor="middle">1</text>
<text x="186.1" y="325.6" text-anchor="middle">2</text>
<text x="243.0" y="331.9" text-anchor="middle">3</text>
<text x="299.8" y="338.3" text-anchor="middle">4</text>
<text x="356.6" y="344.6" text-anchor="middle">5</text>
<text x="431.9" y="170.0">0</text>
<text x="420.9" y="202.4">0.1</text>
<text x="409.9" y="234.7">0.2</text>
<text x="398.8" y="267.1">0.3</text>
<text x="387.8" y="299.4">0.4</text>
<text x="376.8" y="331.8">0.5</text>
<text x="53.5" y="298.7" text-anchor="end">0</text>
<text x="53.5" y="272.1" text-anchor="end">0.2</text>
<text x="53.5" y="245.6" text-anchor="end">0.4</text>
<text x="53.5" y="219.0" text-anchor="end">0.6</text>
<text x="53.5" y="192.4" text-anchor="end">0.8</text>
<text x="53.5" y="165.9" text-anchor="end">1</text>
<text x="53.5" y="139.3" text-anchor="end">1.2</text>
</g>
<linearGradient id="g0" x1="0" y1="0" x2="0" y2="1"><stop offset="0.0000" stop-color="#7f0000"/><stop offset="0.0417" stop-color="#a40000"/><stop offset="0.0833" stop-color="#c90000"/><stop offset="0.1250" stop-color="#ee0000"/><stop offset="0.1667" stop-color="#f42500"/><stop offset="0.2083" stop-color="#f94b00"/><stop offset="0.2500" stop-color="#ff7000"/><stop offset="0.2917" stop-color="#ff9a00"/><stop offset="0.3333" stop-color="#ffc400"/><stop offset="0.3750" stop-color="#ffee00"/><stop offset="0.4167" stop-color="#daf425"/><stop offset="0.4583" stop-color="#b5f94b"/><stop offset="0.5000" stop-color="#90ff70"/><stop offset="0.5417" stop-color="#65ff9a"/><stop offset="0.5833" stop-color="#3affc4"/><stop offset="0.6250" stop-color="#0fffee"/><stop offset="0.6667" stop-color="#0adaf4"/><stop offset="0.7083" stop-color="#05b5f9"/><stop offset="0.7500" stop-color="#0090ff"/><stop offset="0.7917" stop-color="#0065ff"/><stop offset="0.8333" stop-color="#003aff"/><stop offset="0.8750" stop-color="#000fff"/><stop offset="0.9167" stop-color="#000ada"/><stop offset="0.9583" stop-color="#0005b5"/><stop offset="1.0000" stop-color="#000090"/></linearGradient>
<rect x="447.0" y="31.8" width="20.7" height="147.7" fill="url(#g0)" stroke="#000" stroke-width="1.3"/>
<g stroke="#000" stroke-width="1.2">
<line x1="447.0" y1="154.9" x2="456.8" y2="154.9"/>
<line x1="457.9" y1="154.9" x2="467.7" y2="154.9"/>
<line x1="447.0" y1="130.3" x2="456.8" y2="130.3"/>
<line x1="457.9" y1="130.3" x2="467.7" y2="130.3"/>
<line x1="447.0" y1="105.7" x2="456.8" y2="105.7"/>
<line x1="457.9" y1="105.7" x2="467.7" y2="105.7"/>
<line x1="447.0" y1="81.0" x2="456.8" y2="81.0"/>
<line x1="457.9" y1="81.0" x2="467.7" y2="81.0"/>
<line x1="447.0" y1="56.4" x2="456.8" y2="56.4"/>
<line x1="457.9" y1="56.4" x2="467.7" y2="56.4"/>
</g>
<g class="t">
<text x="485.9" y="187.7">0</text>
<text x="485.9" y="163.1">0.2</text>
<text x="485.9" y="138.5">0.4</text>
<text x="485.9" y="113.9">0.6</text>
<text x="485.9" y="89.2">0.8</text>
<text x="485.9" y="64.6">1</text>
<text x="485.9" y="40.0">1.2</text>
</g>
<g transform="translate(-2.0 16.7) scale(1.1 1)"><text class="l" x="0" y="0"><tspan class="i">r</tspan><tspan class="sub" dy="4.5">s</tspan><tspan dy="-4.5"> = 4, </tspan><tspan class="i">Θ</tspan> = 1</text></g>
<g transform="translate(10.5 85.7) scale(1.1 1)"><text class="l" x="0" y="0"><tspan class="i">F</tspan><tspan class="sub" dy="5">tot</tspan><tspan dy="-5">(</tspan><tspan class="i">q</tspan>,<tspan class="i" dx="1">τ</tspan>)</text></g>
<text class="a" x="175" y="372.2"><tspan class="i">q</tspan>/<tspan class="i">q</tspan><tspan class="sub2" dy="4.8">F</tspan></text>
<text class="a" x="471.5" y="259.1"><tspan class="i">τ</tspan>/<tspan class="i">β</tspan></text>
</g>
<g transform="translate(3.2 440.2)">
<g stroke="#cfcfcf" stroke-width="1" stroke-dasharray="1 1.6" fill="none">
<line x1="129.0" y1="296.9" x2="184.1" y2="135.1"/>
<line x1="185.8" y1="303.3" x2="240.9" y2="141.5"/>
<line x1="242.7" y1="309.6" x2="297.8" y2="147.8"/>
<line x1="299.5" y1="316.0" x2="354.6" y2="154.2"/>
<line x1="115.6" y1="163.2" x2="399.7" y2="194.9"/>
<line x1="104.7" y1="195.0" x2="388.8" y2="226.7"/>
<line x1="93.9" y1="226.9" x2="378.0" y2="258.6"/>
<line x1="83.0" y1="258.7" x2="367.1" y2="290.4"/>
</g>
<g stroke="#000" stroke-width="1.4" fill="none" stroke-linecap="square">
<path d="M72.2 290.6L356.3 322.3L411.4 160.5L127.3 128.8z"/>
</g>
<g stroke="#000" stroke-width="1.4" fill="none">
<line x1="72.2" y1="290.6" x2="74.0" y2="285.2"/>
<line x1="127.3" y1="128.8" x2="125.5" y2="134.2"/>
<line x1="129.0" y1="296.9" x2="130.9" y2="291.5"/>
<line x1="184.1" y1="135.1" x2="182.3" y2="140.5"/>
<line x1="185.8" y1="303.3" x2="187.7" y2="297.9"/>
<line x1="240.9" y1="141.5" x2="239.1" y2="146.9"/>
<line x1="242.7" y1="309.6" x2="244.5" y2="304.2"/>
<line x1="297.8" y1="147.8" x2="295.9" y2="153.2"/>
<line x1="299.5" y1="316.0" x2="301.3" y2="310.6"/>
<line x1="354.6" y1="154.2" x2="352.7" y2="159.6"/>
<line x1="356.3" y1="322.3" x2="358.1" y2="316.9"/>
<line x1="411.4" y1="160.5" x2="409.6" y2="165.9"/>
<line x1="410.5" y1="163.0" x2="406.1" y2="162.5"/>
<line x1="126.4" y1="131.3" x2="135.9" y2="132.4"/>
<line x1="399.7" y1="194.9" x2="395.2" y2="194.4"/>
<line x1="115.6" y1="163.2" x2="125.0" y2="164.3"/>
<line x1="388.8" y1="226.7" x2="384.4" y2="226.2"/>
<line x1="104.7" y1="195.0" x2="114.2" y2="196.1"/>
<line x1="378.0" y1="258.6" x2="373.5" y2="258.1"/>
<line x1="93.9" y1="226.9" x2="103.3" y2="228.0"/>
<line x1="367.1" y1="290.4" x2="362.7" y2="290.0"/>
<line x1="83.0" y1="258.7" x2="92.5" y2="259.8"/>
<line x1="356.3" y1="322.3" x2="351.8" y2="321.8"/>
<line x1="72.2" y1="290.6" x2="81.6" y2="291.7"/>
<line x1="72.2" y1="290.6" x2="72.2" y2="131.2"/>
<line x1="72.2" y1="290.6" x2="81.2" y2="290.6"/>
<line x1="72.2" y1="264.0" x2="81.2" y2="264.0"/>
<line x1="72.2" y1="237.5" x2="81.2" y2="237.5"/>
<line x1="72.2" y1="210.9" x2="81.2" y2="210.9"/>
<line x1="72.2" y1="184.3" x2="81.2" y2="184.3"/>
<line x1="72.2" y1="157.8" x2="81.2" y2="157.8"/>
<line x1="72.2" y1="131.2" x2="81.2" y2="131.2"/>
</g>
<g transform="scale(.1)" stroke-width="7" stroke-linejoin="round">
<path fill="#000072" stroke="#000072" d="M3452 3022l-60 175l34 5l60-175zM3540 2866l-21 64l-17 48l-10 33l-28 79l-10 32l-28 80l35 5l10-32l66-192l37-112zM3607 2774l-5 17l-55 160l-10 32l-66 192l-10 32l34 4l49-143l10-32l28-80l10-32l17-48l32-97zM3668 2699l-21 64l-17 48l-21 65l-17 48l-10 32l-28 80l-10 32l-49 143l34 5l22-64l10-32l28-80l10-32l28-80l37-112l28-80l10-33z"/>
<path fill="#000178" stroke="#000178" d="M3240 2901l-5 17l-28 80l-10 32l-44 128l34 7l28-80l10-32l17-48l10-33l22-64zM3318 2778l-28 81l-10 33l-28 80l-10 33l-17 48l-10 32l-28 80l35 5l10-32l6-15l22-64l37-113l17-48l5-17l33-97zM3379 2702l-6 16l-10 33l-6 16l-43 131l-17 48l-37 113l-22 64l-6 15l-10 32l34 6l21-64l55-160l21-65l17-48l10-33l28-81l5-17zM3435 2642l-17 50l-10 33l-28 81l-10 33l-17 48l-21 65l-17 48l-10 32l-28 80l-21 64l34 5l60-175l10-32l55-162l10-33l17-48l27-83zM3491 2582l-28 83l-21 66l-17 48l-10 33l-55 162l-10 32l-60 175l34 6l33-96l10-32l28-80l10-32l44-129l76-230zM3541 2538l-33 100l-10 33l-6 16l-43 131l-17 48l-37 113l-28 80l-10 32l-33 96l34 5l44-128l10-32l28-80l10-32l17-48l10-33l17-48l81-246zM3581 2528l-87 263l-17 48l-10 33l-17 48l-10 32l-28 80l-10 32l-44 128l34 5l17-48l21-64l17-47l10-33l55-160l103-311zM3626 2501l-28 83l-10 33l-28 82l-10 33l-17 48l-21 65l-55 160l-5 17l34 5l6-16l10-33l17-48l10-32l28-80l21-65l17-48l10-33l6-16l49-149zM3671 2474l-28 83l-10 33l-28 82l-10 33l-55 161l34 5l28-80l10-33l17-48l76-230zM3715 2447l-37 116l-71 211l34 5l44-129l10-33l6-16l49-149zM3755 2436l-16 50l-6 16l-10 33l-28 82l-10 33l-17 49l34 4l17-48l21-65l28-82l21-67z"/>
<path fill="#00017c" stroke="#00017c" d="M3597 2478l-16 50l34 6l16-50zM3647 2434l-21 67l34 6l11-33l10-34zM3692 2406l-21 68l34 6l21-67zM3737 2379l-22 68l35 5l21-67zM3788 2334l-33 102l34 5l6-16l10-34l17-51z"/>
<path fill="#00027e" stroke="#00027e" d="M3098 2888l-81 242l34 7l22-63l10-33l17-48l32-97zM3176 2765l-6 16l-5 17l-17 49l-10 33l-17 48l-21 65l-17 48l-10 33l-22 63l34 8l22-64l10-32l17-48l32-98l17-48l10-33l17-50zM3231 2706l-10 33l-28 83l-10 33l-17 48l-32 98l-17 48l-10 32l-22 64l34 7l71-209l10-32l28-82l10-33l28-82zM3276 2681l-10 33l-28 82l-10 33l-109 323l34 6l17-48l37-112l28-80l10-33l28-81l10-33l28-83zM3321 2655l-10 33l-28 83l-10 33l-33 97l34 7l6-16l10-33l28-81l10-33l28-83zM3366 2629l-10 33l-28 83l-10 33l34 6l21-66l28-82zM3411 2602l-10 34l-6 16l-16 50l34 6l27-83l6-16zM3451 2592l-16 50l34 6l16-49zM3496 2565l-5 17l34 6l5-16z"/>
<path fill="#000281" stroke="#000281" d="M3242 2673l-11 33l35 8l10-33zM3303 2597l-27 84l35 7l10-33l17-50zM3359 2537l-21 68l-17 50l35 7l37-117zM3410 2493l-44 136l35 7l10-34l17-50l10-34l6-17zM3460 2449l-32 103l-17 50l35 7l10-34l17-50l21-68zM3511 2405l-60 187l34 7l60-187zM3556 2377l-60 188l34 7l60-187zM3601 2350l-60 188l34 7l33-101l10-35l17-52zM3651 2304l-54 174l34 6l22-67l10-35l6-17l16-53zM3696 2277l-5 18l-28 87l-10 35l-6 17l34 6l17-51l32-104zM3741 2249l-43 140l-6 17l34 7l17-51l32-106zM3786 2220l-43 142l-6 17l34 6l17-51l32-106zM3826 2209l-28 90l-10 35l34 6l38-123z"/>
<path fill="#000284" stroke="#000284" d="M2902 3035l-22 64l34 7l22-64zM3001 2847l-43 131l-44 128l34 8l44-128l43-131zM3062 2773l-21 66l-6 16l-43 131l-44 128l35 8l48-145l17-48l10-33l28-82l10-33zM3102 2764l-16 50l-28 82l-10 33l-17 48l-48 145l34 8l21-64l17-48l10-33l17-48l54-164zM3141 2756l-10 33l-33 99l34 8l44-131zM3186 2731l-10 34l34 7l11-33z"/>
<path fill="#000287" stroke="#000287" d="M3073 2739l-11 34l34 8l11-33zM3134 2664l-32 100l34 9l33-101zM3196 2587l-49 153l-6 16l35 9l10-34l6-16l38-118zM3251 2528l-37 120l-28 83l35 8l65-202zM3307 2467l-21 70l-44 136l34 8l44-135l21-69zM3358 2424l-38 122l-17 51l35 8l10-34l17-51l27-87zM3408 2380l-32 105l-17 52l34 8l28-86l21-70zM3453 2353l-43 140l34 8l22-69l21-71zM3504 2307l-28 90l-10 35l-6 17l34 8l17-52l27-89zM3549 2279l-38 126l34 7l38-124zM3594 2251l-38 126l34 8l38-125zM3639 2223l-28 91l-10 36l34 7l38-126zM3678 2213l-27 91l34 8l6-17l10-37l11-36zM3723 2184l-27 93l34 8l6-18l21-74zM3763 2174l-22 75l34 7l22-73zM3802 2164l-16 56l34 8l16-56zM3842 2153l-16 56l34 8l16-56z"/>
<path fill="#00028b" stroke="#00028b" d="M3768 2155l-5 19l34 9l5-19zM3808 2145l-6 19l34 8l6-19zM3853 2114l-11 39l34 8l11-38z"/>
<path fill="#000389" stroke="#000389" d="M2799 3009l-21 64l34 9l21-64zM2899 2822l-87 260l34 9l87-260zM2944 2798l-6 16l-5 17l-17 49l-10 33l-28 81l-10 33l-22 64l34 8l71-210l10-33l17-50zM2983 2790l-22 66l-10 33l-28 81l-21 65l34 7l60-178l21-66zM3023 2781l-22 66l34 8l6-16l16-50z"/>
<path fill="#00038d" stroke="#00038d" d="M2965 2731l-5 17l-6 16l-10 34l34 8l11-33l10-34zM3026 2655l-10 34l-17 50l-10 34l-6 17l34 8l17-50l10-34l17-51zM3082 2595l-59 186l34 8l16-50l6-16l37-119zM3138 2534l-32 104l-17 51l-10 34l-6 16l34 9l44-135l10-35l11-34zM3189 2491l-28 87l-10 35l-17 51l35 8l48-154l6-17zM3244 2430l-10 36l-28 87l-10 34l34 10l49-157zM3295 2386l-27 90l-17 52l35 9l10-35l17-52l16-54zM3345 2342l-21 72l-17 53l34 10l28-89l10-36zM3390 2315l-32 109l34 9l22-71l10-36zM3441 2270l-33 110l34 9l17-54l10-37l6-18zM3486 2242l-17 56l-10 37l-6 18l34 8l17-54l10-37l6-18zM3525 2233l-21 74l34 9l21-74zM3565 2223l-16 56l34 9l16-56zM3604 2214l-10 37l34 9l5-19l6-18zM3644 2204l-5 19l34 8l5-18zM3684 2194l-6 19l34 9l6-19z"/>
<path fill="#000391" stroke="#000391" d="M3531 2214l-6 19l34 9l6-19zM3576 2185l-11 38l34 9l11-38zM3615 2175l-11 39l35 9l10-39zM3660 2145l-16 59l34 9l6-19l10-39zM3700 2135l-16 59l34 9l16-57zM3745 2106l-16 59l-6 19l34 9l17-57l5-20zM3784 2096l-10 40l-6 19l34 9l17-59zM3829 2064l-10 41l-11 40l34 8l22-79zM3869 2053l-16 61l34 9l16-61z"/>
<path fill="#00048f" stroke="#00048f" d="M2764 2892l-17 49l-21 65l-17 48l34 10l28-80l10-33l17-48zM2819 2837l-10 33l-28 81l-10 33l-28 80l35 9l76-227zM2859 2830l-43 131l-17 48l34 9l17-48l43-131zM2904 2806l-5 16l34 9l5-17z"/>
<path fill="#000493" stroke="#000493" d="M2846 2753l-10 34l-17 50l35 9l10-33l17-50zM2913 2662l-54 168l34 9l33-100l21-68zM2974 2585l-10 35l-60 186l34 8l6-16l10-34l6-16l21-68l28-86zM3025 2542l-60 189l34 8l17-50l43-138zM3075 2498l-21 71l-28 86l35 8l10-34l28-86l10-35zM3126 2454l-27 89l-17 52l34 9l17-52l5-18l6-17l10-36l6-17zM3176 2409l-5 19l-17 53l-10 36l-6 17l34 10l17-53l21-72zM3227 2365l-28 90l-10 36l34 10l38-126zM3277 2320l-5 19l-28 91l35 10l32-109zM3322 2294l-27 92l34 10l27-91zM3367 2267l-22 75l34 10l6-18l16-56zM3407 2259l-17 56l34 11l17-56zM3446 2251l-5 19l34 10l5-19z"/>
<path fill="#000497" stroke="#000497" d="M3372 2248l-5 19l34 11l6-19zM3417 2221l-10 38l34 11l11-38zM3462 2193l-10 39l-6 19l34 10l17-57zM3507 2164l-10 40l-11 38l34 10l22-77zM3547 2155l-16 59l34 9l16-58zM3592 2125l-16 60l34 9l16-58zM3637 2095l-16 61l-6 19l34 9l6-19l16-60zM3677 2085l-17 60l34 10l17-60zM3716 2074l-16 61l34 11l16-61zM3761 2043l-16 63l34 10l16-62zM3801 2033l-17 63l35 9l16-62zM3840 2022l-11 42l35 10l10-42zM3880 2010l-11 43l34 9l11-42z"/>
<path fill="#000595" stroke="#000595" d="M2695 2871l-21 65l-33 97l34 11l44-129l10-33zM2746 2832l-17 50l-10 33l-44 129l34 10l17-48l10-32l28-82l10-33l6-16zM2780 2843l-6 16l-10 33l34 11l16-50z"/>
<path fill="#000599" stroke="#000599" d="M2778 2732l-32 100l34 11l32-100zM2845 2640l-6 17l-10 35l-49 151l34 10l16-50l6-16l10-34l33-102zM2906 2564l-32 104l-28 85l35 10l38-119l21-69zM2962 2504l-49 158l34 9l17-51l32-106zM3012 2461l-10 36l-28 88l35 9l10-35l28-88zM3063 2416l-38 126l34 9l38-125zM3108 2389l-16 55l-17 54l34 10l33-108zM3158 2344l-32 110l34 10l22-73l10-37zM3203 2317l-21 74l-6 18l34 10l17-54l10-38zM3248 2289l-21 76l34 10l11-36l10-38zM3288 2282l-11 38l34 11l6-18l5-19zM3327 2275l-5 19l34 11l6-19z"/>
<path fill="#00059a" stroke="#00059a" d="M2594 2945l-21 64l34 12l22-64zM2667 2843l-60 178l34 12l60-179zM2706 2838l-11 33l34 11l11-33z"/>
<path fill="#00059e" stroke="#00059e" d="M3254 2270l-6 19l34 12l6-19zM3299 2244l-11 38l34 12l11-38zM3344 2217l-17 58l35 11l10-38l6-19zM3389 2189l-17 59l35 11l16-58zM3434 2161l-17 60l35 11l16-59zM3479 2133l-17 60l35 11l10-40l6-20zM3524 2103l-17 61l35 11l10-40l6-20zM3563 2094l-16 61l34 10l6-20l10-40zM3608 2063l-16 62l34 11l16-62zM3648 2053l-11 42l34 10l6-20l5-22zM3687 2042l-10 43l34 10l11-42zM3732 2009l-10 44l-6 21l34 11l17-64zM3772 1999l-11 44l34 11l6-21l5-22zM3806 2011l-5 22l34 10l5-21zM3846 2000l-6 22l34 10l6-22z"/>
<path fill="#0005a2" stroke="#0005a2" d="M3812 1989l-6 22l34 11l6-22zM3851 1977l-5 23l34 10l5-22zM3891 1965l-11 45l34 10l11-45z"/>
<path fill="#00069f" stroke="#00069f" d="M2704 2726l-37 117l34 11l32-100l6-16zM2771 2635l-32 103l-6 16l-27 84l34 11l44-134l21-69zM2832 2559l-10 35l-44 138l34 11l17-51l10-35l28-87zM2888 2499l-21 71l-22 70l34 11l33-104l10-36zM2944 2439l-22 72l-10 36l-6 17l34 11l17-53l21-72zM2995 2395l-33 109l34 10l6-17l10-36l17-55zM3040 2369l-28 92l35 10l10-37l17-55zM3090 2323l-27 93l34 10l27-93zM3130 2314l-22 75l34 11l22-75zM3169 2306l-11 38l34 10l11-37zM3209 2298l-6 19l34 10l6-18z"/>
<path fill="#0006a0" stroke="#0006a0" d="M2598 2817l-21 66l-28 81l-10 32l34 13l49-146l10-33zM2632 2830l-10 33l-28 82l35 12l10-32l28-82z"/>
<path fill="#0006a4" stroke="#0006a4" d="M3135 2295l-5 19l34 11l5-19zM3180 2268l-11 38l34 11l6-19l5-20zM3225 2239l-16 59l34 11l16-58zM3270 2212l-16 58l34 12l16-58zM3315 2184l-16 60l34 12l16-59zM3365 2136l-10 41l-11 40l34 12l22-80zM3405 2128l-16 61l34 12l16-60zM3450 2100l-16 61l34 12l16-61zM3495 2070l-6 21l-10 42l34 11l16-62zM3534 2061l-10 42l34 12l11-42zM3579 2029l-10 44l-6 21l34 11l17-64zM3619 2019l-11 44l34 11l6-21l5-22zM3659 2009l-11 44l34 10l11-43zM3693 2020l-6 22l35 11l5-21z"/>
<path fill="#0006a5" stroke="#0006a5" d="M2609 2784l-11 33l34 13l6-16l5-17zM2692 2644l-43 136l-17 50l35 13l59-186zM2753 2570l-21 70l-28 86l35 12l10-34l28-87l10-35zM2815 2493l-44 142l34 11l17-52l27-89zM2870 2433l-10 36l-28 90l35 11l10-35l28-90zM2921 2389l-16 56l-17 54l34 12l17-54l16-55zM2971 2345l-27 94l34 11l17-55l10-38zM3011 2339l-6 18l-10 38l34 11l16-56zM3050 2331l-10 38l34 10l11-37z"/>
<path fill="#0006a8" stroke="#0006a8" d="M3704 1975l-11 45l34 12l5-23l6-22zM3743 1964l-5 23l-6 22l35 12l10-45zM3783 1953l-11 46l34 12l6-22l5-24zM3822 1942l-10 47l34 11l11-47zM3862 1929l-11 48l34 11l6-23l5-24zM3902 1916l-11 49l34 10l11-47z"/>
<path fill="#000797" stroke="#000797" d="M1257 2314l-70 212l-17 48l-10 33l-28 80l-10 32l-44 128l93-51l125-372l10-33l28-83l10-34l6-16z"/>
<path fill="#00079c" stroke="#00079c" d="M1344 2049l-33 100l-10 33l-6 16l-38 116l93-56l87-271z"/>
<path fill="#0007a6" stroke="#0007a6" d="M2564 2803l-5 17l-17 49l-10 33l-28 80l35 14l10-32l28-81l21-66z"/>
<path fill="#0007aa" stroke="#0007aa" d="M3016 2319l-5 20l34 11l5-19zM3067 2273l-17 58l35 11l16-58zM3112 2245l-22 78l34 10l22-77zM3157 2217l-22 78l34 11l6-19l16-59zM3202 2188l-22 80l34 10l6-19l16-59zM3241 2179l-16 60l34 12l6-20l10-40zM3286 2151l-16 61l34 12l6-20l10-40zM3331 2122l-16 62l34 13l6-20l10-41zM3376 2094l-11 42l35 13l10-42zM3421 2065l-16 63l34 13l6-20l10-43zM3466 2035l-16 65l34 12l16-64zM3506 2026l-11 44l34 12l11-43zM3545 2017l-11 44l35 12l10-44zM3585 2007l-6 22l35 12l5-22z"/>
<path fill="#0007ab" stroke="#0007ab" d="M2591 2719l-27 84l34 14l27-84zM2669 2595l-60 189l34 13l33-101l27-87zM2730 2521l-38 123l34 13l6-17l32-106zM2791 2443l-21 73l-17 54l34 12l6-17l22-72l10-36zM2842 2401l-27 92l34 12l27-91zM2898 2339l-28 94l35 12l10-37l17-56zM2937 2333l-16 56l34 13l16-57zM2977 2326l-6 19l34 12l6-18z"/>
<path fill="#0007af" stroke="#0007af" d="M3551 1994l-6 23l34 12l6-22zM3590 1984l-5 23l34 12l5-22zM3630 1973l-11 46l34 12l6-22l5-23zM3669 1962l-10 47l34 11l11-45zM3709 1951l-5 24l34 12l5-23zM3749 1940l-6 24l34 12l6-23zM3794 1904l-11 49l34 12l11-48zM3833 1892l-11 50l35 11l10-49zM3867 1904l-5 25l34 12l6-25zM3907 1891l-5 25l34 12l5-25z"/>
<path fill="#0007b0" stroke="#0007b0" d="M2943 2313l-6 20l34 12l6-19zM2993 2268l-16 58l34 13l16-58zM3038 2241l-5 20l-17 58l34 12l22-77zM3083 2214l-16 59l34 11l16-59zM3128 2185l-6 20l-10 40l34 11l16-59zM3173 2156l-6 20l-10 41l34 11l16-60zM3218 2126l-16 62l34 12l16-62zM3257 2117l-10 42l-6 20l34 12l17-61zM3302 2087l-10 43l-6 21l34 13l17-63zM3347 2058l-10 43l-6 21l34 14l17-64zM3392 2028l-10 44l-6 22l34 13l17-64zM3432 2020l-5 23l-6 22l34 13l6-21l5-22zM3472 2012l-6 23l34 13l6-22z"/>
<path fill="#00089c" stroke="#00089c" d="M1404 1864l-17 50l-10 34l-22 67l92-63l28-86l21-70z"/>
<path fill="#0008a0" stroke="#0008a0" d="M1452 1710l-48 154l92-68l17-53l10-36l6-17l16-54z"/>
<path fill="#0008a1" stroke="#0008a1" d="M1355 2015l-11 34l93-62l10-35z"/>
<path fill="#0008ac" stroke="#0008ac" d="M2530 2788l-43 131l-17 48l34 15l28-80l10-33l6-16l16-50z"/>
<path fill="#0008b1" stroke="#0008b1" d="M2568 2670l-38 118l34 15l38-118zM2640 2563l-33 104l-10 35l-6 17l34 14l17-51l10-35l6-17l16-53zM2707 2470l-38 125l34 14l38-125zM2763 2411l-28 91l-5 19l34 13l33-109zM2818 2350l-10 38l-17 55l34 14l28-93zM2858 2345l-16 56l34 13l16-56z"/>
<path fill="#0008b5" stroke="#0008b5" d="M3477 1989l-5 23l34 14l5-22zM3517 1981l-11 45l34 13l11-45zM3556 1971l-5 23l34 13l5-23zM3601 1936l-11 48l34 13l11-47zM3641 1925l-11 48l34 13l5-24l6-23zM3680 1914l-5 25l-6 23l35 13l10-48zM3720 1902l-11 49l34 13l11-49zM3759 1890l-10 50l34 13l11-49zM3799 1878l-5 26l34 13l5-25zM3873 1878l-6 26l35 12l5-25z"/>
<path fill="#0008b6" stroke="#0008b6" d="M2869 2306l-6 19l-5 20l34 13l11-38zM2914 2281l-6 19l-10 39l34 13l16-58zM2964 2235l-21 78l34 13l11-38l10-40zM3009 2208l-16 60l34 13l6-20l10-40zM3054 2181l-16 60l34 13l16-61zM3099 2152l-16 62l34 11l16-61zM3144 2123l-16 62l34 12l16-62zM3184 2114l-11 42l34 12l11-42zM3229 2083l-11 43l34 12l11-42zM3274 2052l-17 65l35 13l10-43l6-21zM3313 2043l-5 23l-6 21l35 14l10-43zM3358 2013l-5 23l-6 22l35 14l10-44z"/>
<path fill="#0008ba" stroke="#0008ba" d="M3839 1865l-6 27l34 12l6-26zM3878 1851l-5 27l34 13l5-27zM3912 1864l-5 27l34 12l5-26z"/>
<path fill="#0008bb" stroke="#0008bb" d="M3403 1982l-5 24l-6 22l35 15l10-46zM3443 1974l-11 46l34 15l11-46zM3488 1942l-11 47l34 15l6-23l5-24zM3527 1933l-10 48l34 13l11-47zM3567 1923l-11 48l34 13l11-48zM3607 1912l-6 24l34 14l6-25zM3646 1900l-5 25l34 14l5-25zM3686 1888l-6 26l34 13l6-25zM3725 1876l-5 26l34 13l5-25zM3765 1863l-6 27l35 14l5-26z"/>
<path fill="#00099e" stroke="#00099e" d="M1528 1467l-5 17l93-85l5-18z"/>
<path fill="#00099f" stroke="#00099f" d="M1496 1572l-33 104l93-76l22-72l10-37z"/>
<path fill="#0009a4" stroke="#0009a4" d="M1523 1484l-27 88l92-81l28-92z"/>
<path fill="#0009a5" stroke="#0009a5" d="M1463 1676l-11 34l93-74l11-36zM1203 2700l-10 32l-22 64l88-54l22-64l10-32z"/>
<path fill="#0009b1" stroke="#0009b1" d="M2424 2870l-22 65l34 17l22-65zM2496 2772l-17 50l-10 33l-33 97l34 15l17-48l43-131z"/>
<path fill="#0009b7" stroke="#0009b7" d="M2462 2755l-38 115l34 17l38-115zM2539 2636l-43 136l34 16l22-67l21-69zM2611 2529l-21 71l-6 17l-16 53l34 15l5-18l28-87l10-35zM2678 2436l-38 127l34 14l6-17l32-109zM2734 2377l-6 18l-10 38l-6 18l-5 19l34 14l27-92zM2784 2335l-21 76l34 14l5-19l6-18l10-38zM2824 2331l-6 19l35 14l5-19z"/>
<path fill="#0009bc" stroke="#0009bc" d="M2790 2316l-6 19l34 15l6-19zM2840 2272l-16 59l34 14l16-58zM2885 2247l-16 59l34 14l16-59zM2935 2201l-21 80l34 13l22-79zM2980 2174l-10 41l-6 20l34 13l17-60zM3025 2146l-10 42l-6 20l34 13l17-61zM3070 2118l-10 42l-6 21l34 12l17-62zM3115 2089l-10 42l-6 21l34 12l17-63zM3155 2080l-11 43l34 12l6-21l5-22zM3200 2048l-16 66l34 12l16-65zM3240 2039l-11 44l34 13l11-44zM3279 2030l-5 22l34 14l5-23zM3319 2021l-6 22l34 15l6-22z"/>
<path fill="#0009c0" stroke="#0009c0" d="M3804 1851l-5 27l34 14l6-27zM3844 1838l-5 27l34 13l5-27zM3884 1823l-6 28l34 13l6-27zM3918 1837l-6 27l34 13l6-28z"/>
<path fill="#0009c1" stroke="#0009c1" d="M3285 2007l-6 23l34 13l6-22zM3324 1998l-5 23l34 15l5-23zM3369 1967l-11 46l34 15l6-22l5-24zM3409 1959l-6 23l34 15l6-23zM3454 1926l-11 48l34 15l11-47zM3493 1917l-5 25l34 15l5-24zM3533 1908l-6 25l35 14l5-24zM3578 1872l-11 51l34 13l6-24l5-26zM3617 1860l-10 52l34 13l11-50zM3652 1875l-6 25l34 14l6-26zM3691 1862l-5 26l34 14l5-26z"/>
<path fill="#0009c5" stroke="#0009c5" d="M3923 1808l-5 29l34 12l5-28z"/>
<path fill="#000aaa" stroke="#000aaa" d="M1236 2603l-16 49l-17 48l88-54l33-97z"/>
<path fill="#000ab0" stroke="#000ab0" d="M1344 2274l-10 34l-28 83l-10 33l-6 16l-54 163l88-54l71-215l27-84l10-34z"/>
<path fill="#000abd" stroke="#000abd" d="M2433 2719l-6 17l-10 34l-17 49l-10 33l-22 64l34 19l65-197zM2505 2618l-5 18l-28 85l-10 34l34 17l43-136zM2583 2494l-22 72l-6 17l-10 36l-6 17l34 16l17-52l27-89zM2644 2419l-16 56l-17 54l34 16l17-54l16-55zM2700 2360l-22 76l34 15l6-18l10-38l6-18zM2750 2319l-16 58l34 15l16-57z"/>
<path fill="#000ac2" stroke="#000ac2" d="M2755 2300l-5 19l34 16l6-19zM2806 2257l-6 19l-10 40l34 15l16-59zM2856 2212l-16 60l34 15l6-20l10-40zM2901 2186l-16 61l34 14l6-20l10-40zM2952 2139l-17 62l35 14l16-62zM2997 2111l-17 63l35 14l10-42l6-21zM3042 2082l-17 64l35 14l10-42l6-21zM3081 2075l-5 22l-6 21l35 13l10-42zM3126 2045l-11 44l35 12l10-43zM3166 2035l-11 45l34 12l11-44z"/>
<path fill="#000ac3" stroke="#000ac3" d="M2465 2617l-10 34l-22 68l34 19l33-102zM2543 2494l-38 124l34 18l6-17l10-36l6-17l16-54zM2610 2402l-17 55l-10 37l34 17l27-92zM2665 2343l-10 39l-6 18l-5 19l34 17l22-76zM2710 2322l-10 38l34 17l11-39z"/>
<path fill="#000ac7" stroke="#000ac7" d="M3657 1848l-5 27l34 13l5-26zM3697 1835l-6 27l34 14l6-27zM3731 1849l-6 27l34 14l6-27zM3770 1836l-5 27l34 15l5-27zM3810 1823l-6 28l35 14l5-27zM3849 1809l-5 29l34 13l6-28z"/>
<path fill="#000ac8" stroke="#000ac8" d="M3211 2003l-11 45l34 13l6-22l5-23zM3250 1993l-10 46l34 13l11-45zM3295 1960l-10 47l34 14l11-46zM3335 1951l-5 24l-6 23l34 15l11-46zM3375 1942l-6 25l34 15l6-23zM3420 1910l-11 49l34 15l11-48zM3459 1901l-5 25l34 16l5-25zM3504 1866l-11 51l34 16l11-51zM3544 1856l-11 52l34 15l11-51z"/>
<path fill="#000acc" stroke="#000acc" d="M3889 1794l-5 29l34 14l5-29zM3929 1777l-6 31l34 13l6-30z"/>
<path fill="#000acd" stroke="#000acd" d="M3583 1845l-5 27l34 14l5-26zM3623 1833l-6 27l35 15l5-27zM3662 1820l-5 28l34 14l6-27zM3702 1807l-5 28l34 14l5-28zM3742 1792l-11 57l34 14l11-56zM3776 1807l-6 29l34 15l6-28z"/>
<path fill="#000bc3" stroke="#000bc3" d="M2404 2682l-32 101l-38 113l34 20l49-146l10-34l11-33z"/>
<path fill="#000bc8" stroke="#000bc8" d="M2426 2614l-22 68l34 21l22-69zM2509 2474l-27 90l-17 53l35 19l43-142zM2576 2383l-33 111l34 18l33-110zM2631 2325l-21 77l34 17l5-19l6-18l10-39zM2676 2305l-11 38l35 17l10-38zM2721 2283l-5 20l-6 19l35 16l10-38zM2772 2240l-17 60l35 16l10-40l6-19zM2822 2196l-16 61l34 15l16-60zM2873 2150l-17 62l34 15l17-61zM2918 2124l-17 62l34 15l17-62zM2963 2096l-6 21l-5 22l34 14l11-42zM3008 2067l-11 44l34 14l11-43zM3053 2038l-11 44l34 15l11-44zM3092 2031l-11 44l34 14l11-44z"/>
<path fill="#000bce" stroke="#000bce" d="M3137 1999l-11 46l34 13l11-45zM3177 1990l-11 45l34 13l11-45zM3222 1956l-11 47l34 13l11-46zM3261 1946l-5 24l-6 23l35 14l10-47zM3301 1936l-6 24l35 15l5-24zM3346 1902l-11 49l34 16l11-49zM3385 1893l-10 49l34 17l11-49zM3425 1884l-5 26l34 16l5-25zM3470 1849l-11 52l34 16l11-51zM3510 1839l-6 27l34 16l6-26z"/>
<path fill="#000bd3" stroke="#000bd3" d="M3815 1794l-5 29l34 15l5-29zM3855 1779l-6 30l35 14l5-29z"/>
<path fill="#000bd4" stroke="#000bd4" d="M3549 1829l-5 27l34 16l5-27zM3589 1817l-6 28l34 15l6-27zM3628 1805l-5 28l34 15l5-28zM3668 1792l-6 28l35 15l5-28z"/>
<path fill="#000bd8" stroke="#000bd8" d="M3894 1763l-5 31l34 14l6-31z"/>
<path fill="#000cc8" stroke="#000cc8" d="M2375 2644l-21 68l-6 16l-48 147l34 21l38-113l38-118z"/>
<path fill="#000cce" stroke="#000cce" d="M2464 2490l-38 124l34 20l38-124zM2536 2381l-27 93l34 20l27-92zM2597 2306l-21 77l34 19l21-77zM2637 2306l-6 19l34 18l6-19zM2687 2265l-11 40l34 17l6-19l5-20zM2743 2203l-22 80l34 17l22-80zM2788 2179l-16 61l34 17l16-61zM2838 2134l-10 42l-6 20l34 16l17-62zM2883 2108l-10 42l34 16l11-42zM2928 2080l-10 44l34 15l5-22l6-21zM2973 2052l-10 44l34 15l11-44zM3018 2023l-10 44l34 15l11-44z"/>
<path fill="#000cd4" stroke="#000cd4" d="M2653 2247l-16 59l34 18l16-59zM2703 2205l-10 41l-6 19l34 18l17-60zM2754 2162l-6 20l-5 21l34 17l6-20l5-21zM2804 2116l-16 63l34 17l6-20l10-42zM2855 2069l-17 65l35 16l16-64zM2900 2042l-17 66l35 16l10-44l6-21zM2945 2014l-17 66l35 16l10-44l6-22zM2979 2030l-6 22l35 15l5-22zM3063 1993l-10 45l34 15l11-45zM3103 1985l-11 46l34 14l11-46zM3148 1952l-5 24l-6 23l34 14l6-23l5-24zM3188 1942l-11 48l34 13l11-47zM3227 1932l-5 24l34 14l5-24zM3267 1922l-6 24l34 14l6-24zM3312 1886l-11 50l34 15l11-49zM3351 1876l-5 26l34 16l5-25zM3391 1867l-6 26l35 17l5-26zM3436 1832l-11 52l34 17l11-52z"/>
<path fill="#000cd9" stroke="#000cd9" d="M3707 1778l-5 29l34 14l6-29zM3747 1762l-5 30l34 15l5-29zM3781 1778l-5 29l34 16l5-29zM3821 1763l-6 31l34 15l6-30z"/>
<path fill="#000cda" stroke="#000cda" d="M3475 1822l-5 27l34 17l6-27zM3515 1812l-5 27l34 17l5-27zM3555 1801l-6 28l34 16l6-28zM3594 1789l-5 28l34 16l5-28zM3634 1776l-6 29l34 15l6-28z"/>
<path fill="#000cdf" stroke="#000cdf" d="M3860 1748l-5 31l34 15l5-31zM3900 1731l-6 32l35 14l5-32zM3934 1745l-5 32l34 14l5-31z"/>
<path fill="#000ddb" stroke="#000ddb" d="M2984 2007l-5 23l34 15l5-22zM3029 1977l-11 46l35 15l10-45zM3074 1945l-11 48l35 15l10-47zM3114 1937l-11 48l34 14l6-23l5-24zM3153 1928l-5 24l34 14l6-24zM3198 1893l-10 49l34 14l11-49zM3238 1882l-11 50l34 14l11-49zM3278 1871l-11 51l34 14l11-50zM3317 1860l-5 26l34 16l5-26zM3357 1850l-6 26l34 17l6-26zM3396 1841l-5 26l34 17l5-26z"/>
<path fill="#000de0" stroke="#000de0" d="M3673 1762l-5 30l34 15l5-29zM3713 1747l-6 31l35 14l5-30zM3787 1747l-6 31l34 16l6-31z"/>
<path fill="#000de1" stroke="#000de1" d="M3402 1814l-6 27l34 17l6-26zM3441 1804l-5 28l34 17l5-27zM3481 1794l-6 28l35 17l5-27zM3520 1783l-5 29l34 17l6-28zM3560 1772l-5 29l34 16l5-28z"/>
<path fill="#000de6" stroke="#000de6" d="M3826 1732l-5 31l34 16l5-31zM3866 1715l-6 33l34 15l6-32z"/>
<path fill="#000dec" stroke="#000dec" d="M3939 1712l-5 33l34 15l6-34z"/>
<path fill="#000e9e" stroke="#000e9e" d="M1561 1361l-33 106l93-86l33-113z"/>
<path fill="#000ee7" stroke="#000ee7" d="M3600 1760l-6 29l34 16l6-29zM3639 1746l-5 30l34 16l5-30zM3679 1731l-6 31l34 16l6-31z"/>
<path fill="#000eed" stroke="#000eed" d="M3718 1715l-5 32l34 15l5-31zM3752 1731l-5 31l34 16l6-31zM3792 1715l-5 32l34 16l5-31z"/>
<path fill="#000ef3" stroke="#000ef3" d="M3832 1698l-6 34l34 16l6-33zM3905 1696l-5 35l34 14l5-33z"/>
<path fill="#000faa" stroke="#000faa" d="M1410 2072l-22 68l88-61l22-69z"/>
<path fill="#000ff9" stroke="#000ff9" d="M3945 1676l-6 36l35 14l5-35z"/>
<path fill="#0010b0" stroke="#0010b0" d="M1388 2140l-6 17l-10 34l-28 83l88-58l28-85l16-52z"/>
<path fill="#0012c8" stroke="#0012c8" d="M2309 2722l-27 82l-17 48l35 23l43-130zM2381 2627l-6 17l35 21l5-17z"/>
<path fill="#001398" stroke="#001398" d="M1588 1272l-16 53l92-94l17-57z"/>
<path fill="#00139e" stroke="#00139e" d="M1572 1325l-11 36l93-93l10-37z"/>
<path fill="#0013ce" stroke="#0013ce" d="M2419 2503l-38 124l34 21l22-69l16-54zM2496 2379l-10 37l-17 55l-5 19l34 20l33-110zM2558 2305l-22 76l34 21l22-76zM2608 2267l-5 20l-6 19l34 19l11-38z"/>
<path fill="#0013d4" stroke="#0013d4" d="M2613 2247l-5 20l34 20l6-20zM2669 2186l-16 61l34 18l6-19l10-41zM2720 2143l-17 62l35 18l10-41l6-20zM2770 2098l-16 64l34 17l16-63zM2815 2073l-5 22l-6 21l34 18l11-43zM2866 2025l-11 44l34 17l11-44zM2911 1997l-11 45l34 17l5-23l6-22z"/>
<path fill="#0014db" stroke="#0014db" d="M2956 1968l-11 46l34 16l11-46zM2995 1961l-11 46l34 16l11-46zM3040 1929l-11 48l34 16l11-48zM3080 1921l-6 24l34 16l6-24zM3125 1888l-11 49l34 15l11-49zM3164 1878l-11 50l35 14l10-49zM3204 1868l-6 25l35 14l5-25zM3243 1857l-5 25l34 15l6-26zM3283 1845l-5 26l34 15l5-26zM3323 1834l-6 26l34 16l6-26zM3362 1823l-5 27l34 17l5-26z"/>
<path fill="#0015aa" stroke="#0015aa" d="M1458 1918l-48 154l88-62l10-35l28-88l10-36z"/>
<path fill="#0015e1" stroke="#0015e1" d="M3368 1796l-6 27l34 18l6-27zM3407 1786l-5 28l34 18l5-28zM3447 1776l-6 28l34 18l6-28zM3486 1765l-5 29l34 18l5-29zM3526 1754l-6 29l35 18l5-29z"/>
<path fill="#0015e7" stroke="#0015e7" d="M3565 1742l-5 30l34 17l6-29zM3605 1729l-5 31l34 16l5-30z"/>
<path fill="#001692" stroke="#001692" d="M1621 1165l-6 17l-16 54l93-100l21-76z"/>
<path fill="#0016ed" stroke="#0016ed" d="M3645 1714l-6 32l34 16l6-31zM3684 1699l-5 32l34 16l5-32zM3758 1698l-6 33l35 16l5-32z"/>
<path fill="#0016f3" stroke="#0016f3" d="M3797 1681l-5 34l34 17l6-34zM3837 1663l-5 35l34 17l5-35zM3871 1680l-5 35l34 16l5-35z"/>
<path fill="#001798" stroke="#001798" d="M1599 1236l-11 36l93-98l11-38z"/>
<path fill="#0017f9" stroke="#0017f9" d="M3911 1660l-6 36l34 16l6-36z"/>
<path fill="#0019c8" stroke="#0019c8" d="M2352 2586l-43 136l34 23l22-67l21-69z"/>
<path fill="#001ace" stroke="#001ace" d="M2368 2533l-10 36l-6 17l34 23l17-52zM2451 2394l-10 37l-22 72l34 22l33-109zM2518 2302l-5 20l-17 57l35 21l21-76zM2574 2246l-16 59l34 21l16-59z"/>
<path fill="#001baa" stroke="#001baa" d="M1496 1796l-21 70l-17 52l88-67l17-53l21-73z"/>
<path fill="#001bd4" stroke="#001bd4" d="M2579 2226l-5 20l34 21l5-20zM2635 2166l-5 21l-17 60l35 20l21-81zM2686 2124l-17 62l34 19l17-62zM2736 2079l-16 64l34 19l16-64zM2781 2055l-5 22l-6 21l34 18l6-21l5-22zM2831 2006l-10 45l-6 22l34 18l17-66zM2871 2002l-5 23l34 17l5-22z"/>
<path fill="#001bdb" stroke="#001bdb" d="M2876 1979l-5 23l34 18l6-23zM2921 1950l-10 47l34 17l11-46zM2961 1944l-5 24l34 16l5-23zM3006 1913l-11 48l34 16l11-48zM3046 1905l-6 24l34 16l6-24zM3091 1872l-11 49l34 16l11-49zM3130 1863l-5 25l34 15l5-25zM3170 1853l-6 25l34 15l6-25zM3209 1842l-5 26l34 14l5-25zM3249 1830l-6 27l35 14l5-26z"/>
<path fill="#001ce1" stroke="#001ce1" d="M3288 1819l-5 26l34 15l6-26zM3333 1779l-10 55l34 16l11-54zM3373 1768l-5 28l34 18l5-28zM3413 1757l-6 29l34 18l6-28zM3452 1747l-5 29l34 18l5-29z"/>
<path fill="#001de7" stroke="#001de7" d="M3492 1735l-6 30l34 18l6-29zM3531 1724l-5 30l34 18l5-30zM3571 1711l-6 31l35 18l5-31z"/>
<path fill="#001eed" stroke="#001eed" d="M3610 1697l-5 32l34 17l6-32zM3650 1682l-5 32l34 17l5-32z"/>
<path fill="#001ff3" stroke="#001ff3" d="M3724 1682l-6 33l34 16l6-33zM3763 1664l-5 34l34 17l5-34z"/>
<path fill="#001ff9" stroke="#001ff9" d="M3877 1644l-6 36l34 16l6-36zM3950 1638l-5 38l34 15l5-37z"/>
<path fill="#0020aa" stroke="#0020aa" d="M1534 1672l-5 18l-6 17l-10 36l-17 53l88-71l17-54l21-74zM1362 2434l-33 98l-10 33l-60 177l77-48l21-64l17-48l10-33l6-16l49-149z"/>
<path fill="#0020c8" stroke="#0020c8" d="M2307 2596l-43 135l-33 97l34 24l17-48l32-99l6-16l21-68z"/>
<path fill="#0021ce" stroke="#0021ce" d="M2401 2425l-16 55l-17 53l35 24l10-36l22-72zM2473 2318l-22 76l35 22l21-75zM2534 2244l-16 58l34 22l6-19l10-39z"/>
<path fill="#0022d4" stroke="#0022d4" d="M2596 2165l-17 61l34 21l17-60zM2646 2124l-11 42l34 20l6-20l5-21zM2696 2081l-10 43l34 19l11-42zM2747 2035l-11 44l34 19l6-21l5-22zM2792 2010l-6 22l-5 23l34 18l11-44zM2837 1984l-6 22l35 19l5-23z"/>
<path fill="#0023db" stroke="#0023db" d="M2842 1960l-5 24l34 18l5-23zM2887 1932l-5 24l-6 23l35 18l10-47zM2927 1927l-6 23l35 18l5-24zM2972 1896l-11 48l34 17l11-48zM3011 1888l-5 25l34 16l6-24zM3056 1855l-10 50l34 16l11-49zM3096 1846l-5 26l34 16l5-25zM3136 1837l-6 26l34 15l6-25zM3175 1826l-5 27l34 15l5-26z"/>
<path fill="#0024a4" stroke="#0024a4" d="M1561 1582l-10 36l88-77l10-38z"/>
<path fill="#0024e1" stroke="#0024e1" d="M3181 1800l-6 26l34 16l6-27zM3220 1788l-11 54l34 15l11-54zM3260 1776l-11 54l34 15l11-54zM3299 1763l-11 56l35 15l10-55zM3339 1751l-6 28l35 17l5-28zM3378 1738l-5 30l34 18l6-29zM3418 1727l-5 30l34 19l5-29z"/>
<path fill="#0025e7" stroke="#0025e7" d="M3458 1717l-6 30l34 18l6-30zM3497 1705l-5 30l34 19l5-30zM3537 1692l-6 32l34 18l6-31z"/>
<path fill="#0026aa" stroke="#0026aa" d="M1551 1618l-17 54l88-75l17-56zM1438 2199l-6 17l-10 34l76-53l17-52z"/>
<path fill="#0026c8" stroke="#0026c8" d="M2219 2736l-22 65l34 27l22-65zM2329 2526l-22 70l34 25l17-52l5-18z"/>
<path fill="#0026ed" stroke="#0026ed" d="M3576 1679l-5 32l34 18l5-32zM3616 1664l-6 33l35 17l5-32z"/>
<path fill="#0027b0" stroke="#0027b0" d="M1422 2250l-60 184l77-50l49-152l10-35z"/>
<path fill="#0027f3" stroke="#0027f3" d="M3690 1665l-6 34l34 16l6-33zM3729 1647l-5 35l34 16l5-34zM3803 1645l-6 36l35 17l5-35z"/>
<path fill="#0028ce" stroke="#0028ce" d="M2351 2454l-22 72l34 25l22-71zM2428 2332l-27 93l34 24l6-18l21-75zM2495 2240l-22 78l34 23l6-19l16-59zM2545 2203l-5 21l-6 20l34 22l11-40z"/>
<path fill="#0028f9" stroke="#0028f9" d="M3842 1625l-5 38l34 17l6-36z"/>
<path fill="#0029d4" stroke="#0029d4" d="M2556 2163l-11 40l34 23l11-40zM2606 2123l-10 42l34 22l11-42zM2662 2060l-16 64l34 21l6-21l10-43zM2713 2015l-17 66l35 20l10-44l6-22zM2758 1990l-11 45l34 20l5-23l6-22zM2803 1964l-11 46l34 19l5-23l6-22z"/>
<path fill="#0029ff" stroke="#0029ff" d="M3916 1621l-5 39l34 16l5-38z"/>
<path fill="#002aa4" stroke="#002aa4" d="M1588 1491l-10 37l-17 54l88-79l28-95z"/>
<path fill="#002adb" stroke="#002adb" d="M2848 1937l-6 23l34 19l6-23zM2893 1908l-6 24l34 18l6-23zM2938 1878l-11 49l34 17l11-48zM2977 1871l-5 25l34 17l5-25zM3022 1837l-11 51l35 17l10-50zM3062 1829l-6 26l35 17l5-26zM3101 1820l-5 26l34 17l6-26zM3141 1810l-5 27l34 16l5-27z"/>
<path fill="#002baa" stroke="#002baa" d="M1487 2045l-49 154l77-54l32-105l6-17l10-36z"/>
<path fill="#002be1" stroke="#002be1" d="M3146 1783l-5 27l34 16l6-26zM3186 1772l-5 28l34 15l5-27zM3226 1760l-6 28l34 15l6-27zM3265 1747l-5 29l34 15l5-28zM3305 1734l-6 29l34 16l6-28z"/>
<path fill="#002ce7" stroke="#002ce7" d="M3344 1721l-5 30l34 17l5-30zM3384 1708l-6 30l35 19l5-30zM3423 1697l-5 30l34 20l6-30zM3463 1685l-5 32l34 18l5-30zM3503 1673l-6 32l34 19l6-32z"/>
<path fill="#002dc8" stroke="#002dc8" d="M2289 2516l-32 104l-6 16l-32 100l34 27l49-150l21-69z"/>
<path fill="#002ece" stroke="#002ece" d="M2378 2362l-27 92l34 26l27-92zM2450 2254l-22 78l34 24l22-77zM2511 2180l-16 60l34 23l16-60z"/>
<path fill="#002eed" stroke="#002eed" d="M3542 1660l-5 32l34 19l5-32zM3582 1645l-6 34l34 18l6-33z"/>
<path fill="#002fa4" stroke="#002fa4" d="M1616 1399l-28 92l89-83l10-38l17-58z"/>
<path fill="#002ff3" stroke="#002ff3" d="M3655 1648l-5 34l34 17l6-34zM3695 1630l-5 35l34 17l5-35z"/>
<path fill="#0030d4" stroke="#0030d4" d="M2567 2121l-11 42l34 23l11-42zM2623 2059l-17 64l35 22l10-42l6-21zM2673 2016l-11 44l34 21l11-44zM2724 1970l-6 22l-5 23l34 20l11-45zM2769 1944l-11 46l34 20l11-46z"/>
<path fill="#0030f9" stroke="#0030f9" d="M3769 1628l-6 36l34 17l6-36zM3808 1607l-5 38l34 18l5-38z"/>
<path fill="#0031aa" stroke="#0031aa" d="M1525 1922l-38 123l76-58l28-90l10-36z"/>
<path fill="#0031db" stroke="#0031db" d="M2814 1917l-11 47l34 20l5-24l6-23zM2859 1889l-11 48l34 19l11-48zM2904 1859l-11 49l34 19l11-49zM2943 1853l-5 25l34 18l5-25zM2988 1820l-11 51l34 17l11-51zM3028 1811l-6 26l34 18l6-26zM3067 1802l-5 27l34 17l5-26zM3107 1793l-6 27l35 17l5-27z"/>
<path fill="#0031ff" stroke="#0031ff" d="M3882 1605l-5 39l34 16l5-39zM3922 1580l-6 41l34 17l6-41zM3956 1597l-6 41l34 16l6-41z"/>
<path fill="#00329e" stroke="#00329e" d="M1637 1325l-16 56l88-89l6-19l10-39z"/>
<path fill="#0033e1" stroke="#0033e1" d="M3112 1766l-5 27l34 17l5-27zM3152 1756l-6 27l35 17l5-28zM3191 1744l-5 28l34 16l6-28zM3231 1731l-5 29l34 16l5-29z"/>
<path fill="#0034a4" stroke="#0034a4" d="M1621 1381l-5 18l88-87l5-20z"/>
<path fill="#0034c8" stroke="#0034c8" d="M2206 2641l-21 66l-22 64l34 30l33-98l10-33zM2311 2444l-22 72l34 28l22-72z"/>
<path fill="#0034e7" stroke="#0034e7" d="M3271 1718l-6 29l34 16l6-29zM3310 1705l-5 29l34 17l5-30zM3350 1691l-6 30l34 17l6-30zM3389 1678l-5 30l34 19l5-30zM3429 1665l-6 32l35 20l5-32z"/>
<path fill="#0035ce" stroke="#0035ce" d="M2327 2390l-16 54l34 28l6-18l10-36zM2405 2267l-27 95l34 26l27-95zM2471 2175l-10 40l-11 39l34 25l22-79z"/>
<path fill="#0036aa" stroke="#0036aa" d="M1557 1816l-32 106l76-61l6-18l27-93z"/>
<path fill="#0036ed" stroke="#0036ed" d="M3468 1653l-5 32l34 20l6-32zM3508 1640l-5 33l34 19l5-32z"/>
<path fill="#00379e" stroke="#00379e" d="M1659 1249l-22 76l88-91l22-80z"/>
<path fill="#0037d4" stroke="#0037d4" d="M2527 2118l-16 62l34 23l6-20l10-41zM2583 2057l-16 64l34 23l16-63zM2634 2015l-11 44l34 23l11-44zM2684 1971l-5 23l-6 22l34 21l6-22l5-23zM2729 1947l-5 23l34 20l5-23z"/>
<path fill="#0037f3" stroke="#0037f3" d="M3621 1629l-5 35l34 18l5-34zM3661 1612l-6 36l35 17l5-35z"/>
<path fill="#0039db" stroke="#0039db" d="M2779 1897l-10 47l34 20l11-47zM2824 1869l-10 48l34 20l11-48zM2864 1864l-5 25l34 19l5-24zM2909 1834l-5 25l34 19l5-25zM2954 1801l-11 52l34 18l11-51zM2994 1793l-6 27l34 17l6-26zM3033 1785l-5 26l34 18l5-27zM3073 1776l-6 26l34 18l6-27z"/>
<path fill="#0039f9" stroke="#0039f9" d="M3735 1611l-6 36l34 17l6-36zM3774 1589l-5 39l34 17l5-38z"/>
<path fill="#003a98" stroke="#003a98" d="M1681 1174l-11 38l88-98l11-40z"/>
<path fill="#003aa4" stroke="#003aa4" d="M1590 1707l-17 55l77-68l6-19l10-38zM1384 2549l-10 33l-17 48l-21 64l85-60l49-145z"/>
<path fill="#003ac8" stroke="#003ac8" d="M2261 2469l-28 87l-10 34l-17 51l34 29l17-50l38-122z"/>
<path fill="#003ae1" stroke="#003ae1" d="M3078 1748l-5 28l34 17l5-27zM3118 1738l-6 28l34 17l6-27zM3157 1727l-5 29l34 16l5-28zM3197 1715l-6 29l35 16l5-29z"/>
<path fill="#003aff" stroke="#003aff" d="M3848 1586l-6 39l35 19l5-39zM3887 1563l-5 42l34 16l6-41zM3961 1554l-5 43l34 16l5-43z"/>
<path fill="#003caa" stroke="#003caa" d="M1573 1762l-10 36l-6 18l77-66l16-56zM1450 2350l-28 84l-10 33l-28 82l86-60l65-201z"/>
<path fill="#003cce" stroke="#003cce" d="M2354 2296l-27 94l34 28l6-18l21-75zM2421 2208l-16 59l34 26l16-58zM2482 2134l-11 41l35 25l10-41z"/>
<path fill="#003ce7" stroke="#003ce7" d="M3236 1702l-5 29l34 16l6-29zM3276 1688l-5 30l34 16l5-29zM3316 1674l-6 31l34 16l6-30z"/>
<path fill="#003d9e" stroke="#003d9e" d="M1670 1212l-11 37l88-95l11-40z"/>
<path fill="#003ed4" stroke="#003ed4" d="M2544 2054l-17 64l34 24l17-63zM2594 2014l-5 22l-6 21l34 24l11-43zM2644 1971l-10 44l34 23l11-44zM2695 1925l-11 46l34 21l6-22l5-23zM2734 1923l-5 24l34 20l6-23z"/>
<path fill="#003eed" stroke="#003eed" d="M3548 1625l-6 35l34 19l6-34z"/>
<path fill="#003f98" stroke="#003f98" d="M1697 1117l-16 57l88-100l16-60z"/>
<path fill="#003fa4" stroke="#003fa4" d="M1611 1634l-10 37l-11 36l76-70l22-76z"/>
<path fill="#003ff3" stroke="#003ff3" d="M3587 1610l-5 35l34 19l5-35z"/>
<path fill="#0040db" stroke="#0040db" d="M2740 1899l-6 24l35 21l5-23zM2785 1873l-6 24l35 20l5-24zM2830 1844l-6 25l35 20l5-25zM2875 1814l-11 50l34 20l11-50zM2920 1782l-11 52l34 19l11-52zM2959 1775l-5 26l34 19l6-27zM2999 1767l-5 26l34 18l5-26z"/>
<path fill="#004192" stroke="#004192" d="M1713 1060l-11 38l88-104l11-40z"/>
<path fill="#0041c8" stroke="#0041c8" d="M2178 2595l-49 147l34 29l22-64l10-33l17-50zM2293 2360l-32 109l34 29l32-108z"/>
<path fill="#0041f9" stroke="#0041f9" d="M3627 1593l-6 36l34 19l6-36zM3700 1593l-5 37l34 17l6-36z"/>
<path fill="#0042aa" stroke="#0042aa" d="M1504 2180l-54 170l85-62l54-173z"/>
<path fill="#0042e1" stroke="#0042e1" d="M3044 1730l-11 55l34 17l6-26l5-28zM3084 1720l-6 28l34 18l6-28zM3123 1709l-5 29l34 18l5-29zM3163 1698l-6 29l34 17l6-29z"/>
<path fill="#0043ce" stroke="#0043ce" d="M2376 2219l-22 77l34 29l22-77zM2443 2127l-22 81l34 27l22-81z"/>
<path fill="#0043ff" stroke="#0043ff" d="M3740 1572l-5 39l34 17l5-39zM3814 1567l-6 40l34 18l6-39zM3927 1536l-5 44l34 17l5-43z"/>
<path fill="#004498" stroke="#004498" d="M1702 1098l-5 19l88-103l5-20z"/>
<path fill="#0044a4" stroke="#0044a4" d="M1639 1541l-28 93l77-73l27-98z"/>
<path fill="#0044e7" stroke="#0044e7" d="M3202 1686l-5 29l34 16l5-29zM3242 1672l-6 30l35 16l5-30zM3281 1657l-5 31l34 17l6-31zM3355 1660l-5 31l34 17l5-30zM3395 1646l-6 32l34 19l6-32z"/>
<path fill="#0045d4" stroke="#0045d4" d="M2499 2071l-17 63l34 25l17-62zM2554 2011l-10 43l34 25l5-22l6-21zM2605 1969l-11 45l34 24l11-45zM2655 1925l-11 46l35 23l10-46zM2700 1901l-5 24l34 22l5-24z"/>
<path fill="#0046ed" stroke="#0046ed" d="M3434 1632l-5 33l34 20l5-32zM3474 1619l-6 34l35 20l5-33z"/>
<path fill="#00479e" stroke="#00479e" d="M1655 1484l-6 19l-10 38l76-78l17-60z"/>
<path fill="#0047aa" stroke="#0047aa" d="M1547 2040l-43 140l85-65l16-54l17-53l10-37z"/>
<path fill="#0047db" stroke="#0047db" d="M2706 1877l-6 24l34 22l6-24zM2751 1851l-11 48l34 22l11-48zM2796 1823l-11 50l34 20l11-49zM2841 1793l-11 51l34 20l11-50zM2880 1788l-5 26l34 20l5-26zM2925 1755l-5 27l34 19l5-26zM2965 1748l-6 27l35 18l5-26z"/>
<path fill="#0047f3" stroke="#0047f3" d="M3513 1605l-5 35l34 20l6-35zM3553 1590l-5 35l34 20l5-35z"/>
<path fill="#0048c8" stroke="#0048c8" d="M2226 2439l-10 35l-28 87l-10 34l34 29l49-155z"/>
<path fill="#0049e1" stroke="#0049e1" d="M3004 1739l-5 28l34 18l6-27zM3049 1702l-5 28l34 18l6-28zM3089 1691l-5 29l34 18l5-29zM3129 1680l-6 29l34 18l6-29z"/>
<path fill="#0049f9" stroke="#0049f9" d="M3593 1574l-6 36l34 19l6-36zM3666 1574l-5 38l34 18l5-37z"/>
<path fill="#004ace" stroke="#004ace" d="M2320 2266l-27 94l34 30l27-94zM2392 2159l-16 60l34 29l6-20l10-40zM2454 2086l-11 41l34 27l11-41z"/>
<path fill="#004be7" stroke="#004be7" d="M3168 1668l-5 30l34 17l5-29zM3208 1655l-6 31l34 16l6-30zM3247 1641l-5 31l34 16l5-31z"/>
<path fill="#004bff" stroke="#004bff" d="M3706 1554l-6 39l35 18l5-39zM3780 1549l-6 40l34 18l6-40zM3853 1544l-5 42l34 19l5-42zM3893 1519l-6 44l35 17l5-44z"/>
<path fill="#004c9e" stroke="#004c9e" d="M1677 1408l-22 76l77-81l21-80z"/>
<path fill="#004cd4" stroke="#004cd4" d="M2515 2007l-6 21l-10 43l34 26l16-64zM2565 1967l-11 44l35 25l10-44zM2616 1924l-6 22l-5 23l34 24l11-45zM2666 1878l-11 47l34 23l6-23l5-24z"/>
<path fill="#004daa" stroke="#004daa" d="M1580 1933l-17 54l-10 36l-6 17l85-69l17-54l16-56z"/>
<path fill="#004e98" stroke="#004e98" d="M1693 1351l-11 38l77-87l11-41z"/>
<path fill="#004ec8" stroke="#004ec8" d="M2149 2548l-54 164l34 30l54-164zM2253 2348l-10 37l-17 54l35 30l10-36l17-55z"/>
<path fill="#004eed" stroke="#004eed" d="M3321 1643l-5 31l34 17l5-31zM3361 1628l-6 32l34 18l6-32zM3400 1613l-5 33l34 19l5-33zM3440 1599l-6 33l34 21l6-34z"/>
<path fill="#004fdb" stroke="#004fdb" d="M2711 1853l-5 24l34 22l5-24zM2756 1826l-5 25l34 22l5-25zM2801 1797l-5 26l34 21l5-25zM2846 1767l-5 26l34 21l5-26zM2891 1734l-11 54l34 20l11-53zM2931 1728l-6 27l34 20l6-27z"/>
<path fill="#0050f3" stroke="#0050f3" d="M3479 1585l-5 34l34 21l5-35zM3519 1569l-6 36l35 20l5-35z"/>
<path fill="#00519e" stroke="#00519e" d="M1682 1389l-5 19l76-85l6-21z"/>
<path fill="#0051ce" stroke="#0051ce" d="M2259 2330l-6 18l35 30l5-18zM2342 2188l-16 59l-6 19l34 30l22-77zM2409 2098l-17 61l34 29l17-61z"/>
<path fill="#0051e1" stroke="#0051e1" d="M2970 1720l-5 28l34 19l5-28zM3015 1683l-11 56l35 19l10-56zM3055 1672l-6 30l35 18l5-29zM3094 1662l-5 29l34 18l6-29z"/>
<path fill="#0052aa" stroke="#0052aa" d="M1607 1843l-27 90l85-72l27-94z"/>
<path fill="#0052f9" stroke="#0052f9" d="M3558 1553l-5 37l34 20l6-36zM3632 1555l-5 38l34 19l5-38z"/>
<path fill="#005398" stroke="#005398" d="M1715 1273l-6 19l-16 59l77-90l21-83z"/>
<path fill="#0053d4" stroke="#0053d4" d="M2470 2022l-16 64l34 27l16-63zM2526 1962l-11 45l34 26l11-44zM2576 1921l-11 46l34 25l11-46zM2627 1877l-6 23l-5 24l34 24l11-47z"/>
<path fill="#0053e7" stroke="#0053e7" d="M3134 1650l-5 30l34 18l5-30zM3174 1638l-6 30l34 18l6-31z"/>
<path fill="#0054ff" stroke="#0054ff" d="M3672 1535l-6 39l34 19l6-39zM3745 1531l-5 41l34 17l6-40zM3819 1525l-5 42l34 19l5-42zM3967 1507l-6 47l34 16l6-46z"/>
<path fill="#0055c8" stroke="#0055c8" d="M2198 2391l-49 157l34 30l49-157z"/>
<path fill="#0055ed" stroke="#0055ed" d="M3213 1624l-5 31l34 17l5-31zM3253 1609l-6 32l34 16l6-31zM3287 1626l-6 31l35 17l5-31zM3326 1610l-5 33l34 17l6-32zM3366 1594l-5 34l34 18l5-33z"/>
<path fill="#0056db" stroke="#0056db" d="M2677 1829l-11 49l34 23l11-48zM2722 1803l-11 50l34 22l11-49zM2767 1775l-11 51l34 22l11-51zM2812 1745l-11 52l34 22l11-52zM2851 1740l-5 27l34 21l6-27zM2896 1707l-5 27l34 21l6-27z"/>
<path fill="#0058aa" stroke="#0058aa" d="M1634 1750l-27 93l85-76l22-76l5-20zM1491 2423l-10 33l-60 178l85-55l44-129l21-67l6-16z"/>
<path fill="#0058ce" stroke="#0058ce" d="M2286 2235l-5 20l-22 75l34 30l27-94zM2358 2128l-16 60l34 31l16-60zM2425 2035l-6 21l-10 42l34 29l16-62z"/>
<path fill="#0058e1" stroke="#0058e1" d="M2936 1700l-5 28l34 20l5-28zM2976 1692l-6 28l34 19l6-28zM3021 1654l-6 29l34 19l6-30z"/>
<path fill="#0058f3" stroke="#0058f3" d="M3406 1578l-6 35l34 19l6-33zM3445 1563l-5 36l34 20l5-34zM3485 1548l-6 37l34 20l6-36z"/>
<path fill="#0059c2" stroke="#0059c2" d="M2066 2666l-6 16l35 30l5-16z"/>
<path fill="#005aa4" stroke="#005aa4" d="M1656 1675l-22 75l85-79l6-19l16-59z"/>
<path fill="#005ad4" stroke="#005ad4" d="M2481 1979l-11 43l34 28l5-22l6-21zM2537 1917l-11 45l34 27l11-45zM2587 1875l-11 46l34 25l6-22l5-24zM2637 1829l-10 48l34 24l11-47z"/>
<path fill="#005af9" stroke="#005af9" d="M3598 1535l-5 39l34 19l5-38z"/>
<path fill="#005bb0" stroke="#005bb0" d="M1519 2339l-28 84l86-56l10-34l17-51z"/>
<path fill="#005be7" stroke="#005be7" d="M3060 1643l-5 29l34 19l5-29zM3100 1631l-6 31l35 18l5-30zM3139 1619l-5 31l34 18l6-30z"/>
<path fill="#005cc8" stroke="#005cc8" d="M2115 2517l-49 149l34 30l49-148zM2219 2318l-21 73l34 30l11-36l10-37z"/>
<path fill="#005cff" stroke="#005cff" d="M3638 1515l-6 40l34 19l6-39zM3711 1513l-5 41l34 18l5-41zM3785 1506l-5 43l34 18l5-42zM3859 1499l-6 45l34 19l6-44zM3932 1489l-5 47l34 18l6-47z"/>
<path fill="#005ddb" stroke="#005ddb" d="M2682 1804l-5 25l34 24l6-25zM2727 1778l-5 25l34 23l6-25zM2772 1749l-5 26l34 22l5-25zM2817 1719l-5 26l34 22l5-27zM2857 1713l-6 27l35 21l5-27z"/>
<path fill="#005ded" stroke="#005ded" d="M3179 1606l-5 32l34 17l5-31zM3219 1592l-6 32l34 17l6-32zM3292 1593l-5 33l34 17l5-33z"/>
<path fill="#005fce" stroke="#005fce" d="M2225 2299l-6 19l34 30l6-18zM2308 2157l-22 78l34 31l6-19l16-59zM2374 2067l-10 41l-6 20l34 31l17-61zM2436 1992l-11 43l34 30l11-43z"/>
<path fill="#0060e1" stroke="#0060e1" d="M2902 1679l-6 28l35 21l5-28zM2941 1672l-5 28l34 20l6-28zM2981 1663l-5 29l34 19l5-28z"/>
<path fill="#0060f3" stroke="#0060f3" d="M3332 1577l-6 33l35 18l5-34zM3371 1560l-5 34l34 19l6-35z"/>
<path fill="#0061b0" stroke="#0061b0" d="M1573 2167l-17 52l-10 35l-17 51l-10 34l85-57l54-174z"/>
<path fill="#0062c8" stroke="#0062c8" d="M2164 2360l-49 157l34 31l49-157z"/>
<path fill="#0062d4" stroke="#0062d4" d="M2492 1934l-11 45l34 28l11-45zM2547 1871l-10 46l34 27l11-46zM2598 1827l-11 48l34 25l6-23l5-24z"/>
<path fill="#0062f9" stroke="#0062f9" d="M3524 1532l-5 37l34 21l5-37zM3564 1514l-6 39l35 21l5-39z"/>
<path fill="#0063e7" stroke="#0063e7" d="M3026 1624l-5 30l34 18l5-29zM3066 1612l-6 31l34 19l6-31zM3105 1600l-5 31l34 19l5-31z"/>
<path fill="#0064db" stroke="#0064db" d="M2643 1804l-6 25l35 25l5-25zM2688 1779l-6 25l35 24l5-25zM2738 1726l-11 52l35 23l10-52zM2778 1723l-6 26l34 23l6-27zM2823 1691l-6 28l34 21l6-27zM2862 1686l-5 27l34 21l5-27z"/>
<path fill="#0065ce" stroke="#0065ce" d="M2252 2205l-27 94l34 31l22-75l5-20zM2324 2097l-16 60l34 31l16-60zM2391 2004l-17 63l35 31l10-42l6-21z"/>
<path fill="#0065ed" stroke="#0065ed" d="M3145 1587l-6 32l35 19l5-32zM3184 1574l-5 32l34 18l6-32zM3258 1576l-5 33l34 17l5-33z"/>
<path fill="#0065ff" stroke="#0065ff" d="M3677 1493l-5 42l34 19l5-41zM3751 1488l-6 43l35 18l5-43zM3825 1479l-6 46l34 19l6-45zM3898 1471l-5 48l34 17l5-47zM3972 1457l-5 50l34 17l5-50z"/>
<path fill="#0066c2" stroke="#0066c2" d="M2043 2601l-17 49l34 32l17-49z"/>
<path fill="#0067e1" stroke="#0067e1" d="M2907 1651l-5 28l34 21l5-28zM2947 1643l-6 29l35 20l5-29zM2986 1634l-5 29l34 20l6-29z"/>
<path fill="#0068f3" stroke="#0068f3" d="M3298 1559l-6 34l34 17l6-33zM3337 1542l-5 35l34 17l5-34zM3411 1543l-5 35l34 21l5-36zM3451 1527l-6 36l34 22l6-37z"/>
<path fill="#0069c8" stroke="#0069c8" d="M2075 2502l-32 99l34 32l11-32l21-67zM2191 2268l-27 92l34 31l27-92z"/>
<path fill="#0069d4" stroke="#0069d4" d="M2447 1948l-11 44l34 30l11-43zM2502 1889l-10 45l34 28l11-45zM2553 1848l-6 23l35 27l5-23zM2603 1803l-5 24l34 26l5-24z"/>
<path fill="#006ae7" stroke="#006ae7" d="M3071 1581l-5 31l34 19l5-31z"/>
<path fill="#006bf9" stroke="#006bf9" d="M3490 1511l-5 37l34 21l5-37zM3530 1493l-6 39l34 21l6-39z"/>
<path fill="#006cce" stroke="#006cce" d="M2274 2127l-6 19l-16 59l34 30l22-78zM2340 2036l-16 61l34 31l6-20l10-41zM2402 1961l-6 21l-5 22l34 31l11-43z"/>
<path fill="#006cdb" stroke="#006cdb" d="M2654 1754l-11 50l34 25l11-50zM2699 1728l-11 51l34 24l11-51zM2744 1699l-6 27l34 23l6-26zM2789 1668l-11 55l34 22l11-54zM2828 1664l-5 27l34 22l5-27z"/>
<path fill="#006ded" stroke="#006ded" d="M3224 1558l-5 34l34 17l5-33z"/>
<path fill="#006eff" stroke="#006eff" d="M3603 1495l-5 40l34 20l6-40zM3643 1473l-5 42l34 20l5-42zM3717 1469l-6 44l34 18l6-43zM3790 1461l-5 45l34 19l6-46zM3864 1451l-5 48l34 20l5-48zM3938 1439l-6 50l35 18l5-50z"/>
<path fill="#006fe1" stroke="#006fe1" d="M2873 1629l-11 57l34 21l11-56zM2913 1621l-6 30l34 21l6-29zM2952 1613l-5 30l34 20l5-29z"/>
<path fill="#0070c8" stroke="#0070c8" d="M2124 2345l-16 54l-33 103l34 32l17-51l10-35l6-17l16-53z"/>
<path fill="#0070d4" stroke="#0070d4" d="M2457 1904l-10 44l34 31l11-45zM2513 1843l-11 46l35 28l10-46zM2564 1800l-11 48l34 27l11-48z"/>
<path fill="#0070f3" stroke="#0070f3" d="M3263 1542l-5 34l34 17l6-34zM3303 1524l-5 35l34 18l5-35zM3377 1524l-6 36l35 18l5-35z"/>
<path fill="#0072e7" stroke="#0072e7" d="M2992 1604l-6 30l35 20l5-30zM3031 1593l-5 31l34 19l6-31z"/>
<path fill="#0073ce" stroke="#0073ce" d="M2218 2173l-27 95l34 31l27-94zM2290 2066l-6 20l-10 41l34 30l16-60zM2351 1994l-11 42l34 31l11-42zM2407 1939l-5 22l34 31l5-22z"/>
<path fill="#0073db" stroke="#0073db" d="M2614 1753l-11 50l34 26l11-50zM2659 1729l-5 25l34 25l5-25zM2704 1702l-5 26l34 24l5-26zM2749 1672l-5 27l34 24l5-27zM2794 1641l-5 27l34 23l5-27z"/>
<path fill="#0073f9" stroke="#0073f9" d="M3416 1506l-5 37l34 20l6-36zM3456 1489l-5 38l34 21l5-37z"/>
<path fill="#0075ed" stroke="#0075ed" d="M3111 1568l-6 32l34 19l6-32zM3150 1555l-5 32l34 19l5-32zM3190 1540l-6 34l35 18l5-34z"/>
<path fill="#0076e1" stroke="#0076e1" d="M2834 1635l-6 29l34 22l6-28zM2879 1599l-6 30l34 22l6-30zM2918 1592l-5 29l34 22l5-30z"/>
<path fill="#0076ff" stroke="#0076ff" d="M3569 1474l-5 40l34 21l5-40zM3609 1453l-6 42l35 20l5-42zM3683 1449l-6 44l34 20l6-44zM3756 1442l-5 46l34 18l5-45zM3830 1431l-5 48l34 20l5-48zM3904 1420l-6 51l34 18l6-50z"/>
<path fill="#0077d4" stroke="#0077d4" d="M2412 1917l-5 22l34 31l6-22zM2468 1858l-11 46l35 30l10-45zM2524 1795l-11 48l34 28l6-23l5-24zM2574 1751l-10 49l34 27l11-49z"/>
<path fill="#0078f3" stroke="#0078f3" d="M3229 1524l-5 34l34 18l5-34zM3269 1506l-6 36l35 17l5-35z"/>
<path fill="#007adb" stroke="#007adb" d="M2619 1728l-5 25l34 26l6-25zM2664 1703l-5 26l34 25l6-26zM2709 1675l-5 27l34 24l6-27zM2754 1645l-5 27l34 24l6-28z"/>
<path fill="#007ae7" stroke="#007ae7" d="M2958 1583l-6 30l34 21l6-30zM2997 1573l-5 31l34 20l5-31zM3037 1561l-6 32l35 19l5-31z"/>
<path fill="#007cf9" stroke="#007cf9" d="M3343 1506l-6 36l34 18l6-36zM3382 1487l-5 37l34 19l5-37zM3496 1471l-6 40l34 21l6-39z"/>
<path fill="#007ded" stroke="#007ded" d="M3076 1549l-5 32l34 19l6-32zM3116 1535l-5 33l34 19l5-32zM3156 1521l-6 34l34 19l6-34z"/>
<path fill="#007ee1" stroke="#007ee1" d="M2799 1612l-5 29l34 23l6-29zM2839 1606l-5 29l34 23l5-29zM2884 1570l-5 29l34 22l5-29z"/>
<path fill="#007fff" stroke="#007fff" d="M3535 1452l-5 41l34 21l5-40zM3648 1429l-5 44l34 20l6-44zM3722 1423l-5 46l34 19l5-46zM3796 1412l-6 49l35 18l5-48zM3870 1400l-6 51l34 20l6-51zM3977 1402l-5 55l34 17l6-54z"/>
<path fill="#0081f3" stroke="#0081f3" d="M3195 1506l-5 34l34 18l5-34zM3235 1489l-6 35l34 18l6-36z"/>
<path fill="#0082e7" stroke="#0082e7" d="M2924 1561l-6 31l34 21l6-30zM2963 1552l-5 31l34 21l5-31zM3003 1541l-6 32l34 20l6-32z"/>
<path fill="#0084f9" stroke="#0084f9" d="M3308 1488l-5 36l34 18l6-36zM3348 1468l-5 38l34 18l5-37zM3422 1467l-6 39l35 21l5-38zM3461 1449l-5 40l34 22l6-40z"/>
<path fill="#0085ed" stroke="#0085ed" d="M3042 1529l-5 32l34 20l5-32zM3082 1516l-6 33l35 19l5-33zM3121 1502l-5 33l34 20l6-34z"/>
<path fill="#0087ff" stroke="#0087ff" d="M3575 1431l-6 43l34 21l6-42zM3688 1403l-5 46l34 20l5-46zM3762 1394l-6 48l34 19l6-49zM3943 1384l-5 55l34 18l5-55z"/>
<path fill="#0089f3" stroke="#0089f3" d="M3161 1487l-5 34l34 19l5-34z"/>
<path fill="#008cf9" stroke="#008cf9" d="M3274 1470l-5 36l34 18l5-36zM3314 1450l-6 38l35 18l5-38zM3388 1448l-6 39l34 19l6-39zM3427 1427l-5 40l34 22l5-40z"/>
<path fill="#0090ff" stroke="#0090ff" d="M3501 1430l-5 41l34 22l5-41zM3541 1409l-6 43l34 22l6-43zM3614 1408l-5 45l34 20l5-44zM3728 1374l-6 49l34 19l6-48zM3835 1380l-5 51l34 20l6-51zM3909 1365l-5 55l34 19l5-55z"/>
<path fill="#015391" stroke="#015391" d="M1731 1214l-16 59l76-95l6-21l10-42z"/>
<path fill="#015790" stroke="#015790" d="M1742 1174l-11 40l76-99l11-42z"/>
<path fill="#015fa3" stroke="#015fa3" d="M1677 1599l-21 76l85-82l22-80z"/>
<path fill="#0163a2" stroke="#0163a2" d="M1694 1541l-17 58l86-86l16-61z"/>
<path fill="#0166af" stroke="#0166af" d="M1611 2043l-38 124l85-59l38-127z"/>
<path fill="#016bae" stroke="#016bae" d="M1638 1953l-27 90l85-62l27-93z"/>
<path fill="#0172c1" stroke="#0172c1" d="M2019 2536l-11 32l-10 33l-6 16l34 33l6-16l21-65z"/>
<path fill="#0175c7" stroke="#0175c7" d="M2025 2519l-6 17l34 33l6-17zM2156 2236l-10 37l-22 72l34 33l33-110z"/>
<path fill="#0179cd" stroke="#0179cd" d="M2234 2115l-16 58l34 32l16-59zM2306 2004l-16 62l34 31l16-61zM2367 1929l-16 65l34 31l17-64z"/>
<path fill="#017dd4" stroke="#017dd4" d="M2423 1872l-5 23l-6 22l35 31l10-44zM2479 1812l-11 46l34 31l11-46zM2529 1771l-5 24l34 29l6-24z"/>
<path fill="#0181da" stroke="#0181da" d="M2580 1726l-6 25l35 27l5-25zM2630 1676l-11 52l35 26l10-51zM2675 1649l-11 54l35 25l10-53zM2720 1620l-11 55l35 24l10-54zM2760 1617l-6 28l35 23l5-27z"/>
<path fill="#0184e0" stroke="#0184e0" d="M2805 1583l-6 29l35 23l5-29zM2844 1577l-5 29l34 23l6-30z"/>
<path fill="#0188e6" stroke="#0188e6" d="M2929 1530l-5 31l34 22l5-31zM2969 1520l-6 32l34 21l6-32z"/>
<path fill="#018cec" stroke="#018cec" d="M3008 1509l-5 32l34 20l5-32zM3048 1496l-6 33l34 20l6-33zM3087 1482l-5 34l34 19l5-33z"/>
<path fill="#0190f2" stroke="#0190f2" d="M3127 1467l-6 35l35 19l5-34zM3201 1470l-6 36l34 18l6-35z"/>
<path fill="#0194f8" stroke="#0194f8" d="M3240 1452l-5 37l34 17l5-36zM3353 1429l-5 39l34 19l6-39z"/>
<path fill="#0197fe" stroke="#0197fe" d="M3467 1407l-6 42l35 22l5-41zM3580 1386l-5 45l34 22l5-45zM3654 1382l-6 47l35 20l5-46zM3801 1360l-5 52l34 19l5-51zM3875 1345l-5 55l34 20l5-55zM3983 1343l-6 59l35 18l5-59z"/>
<path fill="#025b90" stroke="#025b90" d="M1758 1114l-6 20l-10 40l76-101l17-65z"/>
<path fill="#025f8f" stroke="#025f8f" d="M1774 1054l-16 60l77-106l16-65z"/>
<path fill="#0268a2" stroke="#0268a2" d="M1710 1483l-6 19l-10 39l85-89l16-61z"/>
<path fill="#026ca1" stroke="#026ca1" d="M1726 1423l-16 60l85-92l6-21l10-42z"/>
<path fill="#0270ae" stroke="#0270ae" d="M1665 1861l-27 92l85-65l27-95zM1522 2531l-10 32l-6 16l74-38l16-48z"/>
<path fill="#0274b4" stroke="#0274b4" d="M1587 2333l-10 34l-6 16l-21 67l-28 81l74-38l17-49l48-150z"/>
<path fill="#027bc7" stroke="#027bc7" d="M2084 2330l-10 35l-49 154l34 33l22-67l38-122zM2167 2198l-11 38l35 32l10-37z"/>
<path fill="#027dc0" stroke="#027dc0" d="M1963 2570l-5 16l34 31l6-16z"/>
<path fill="#027fcd" stroke="#027fcd" d="M2178 2160l-11 38l34 33l11-38zM2256 2035l-22 80l34 31l6-19l10-41l6-20zM2317 1962l-5 22l-6 20l34 32l11-42z"/>
<path fill="#0281c6" stroke="#0281c6" d="M1974 2538l-11 32l35 31l10-33zM2117 2221l-16 55l-17 54l35 33l32-109z"/>
<path fill="#0283d3" stroke="#0283d3" d="M2378 1885l-11 44l35 32l10-44zM2434 1826l-11 46l34 32l11-46zM2490 1764l-11 48l34 31l11-48zM2540 1722l-11 49l35 29l10-49z"/>
<path fill="#0285cc" stroke="#0285cc" d="M2200 2082l-16 59l-6 19l34 33l17-58l5-20zM2267 1994l-6 20l-5 21l34 31l11-41zM2333 1898l-16 64l34 32l16-65z"/>
<path fill="#0287d9" stroke="#0287d9" d="M2591 1674l-11 52l34 27l11-51zM2636 1650l-6 26l34 27l6-27zM2681 1622l-6 27l34 26l6-27zM2726 1592l-6 28l34 25l6-28z"/>
<path fill="#0289d2" stroke="#0289d2" d="M2389 1841l-11 44l34 32l6-22l5-23zM2445 1780l-11 46l34 32l11-46zM2495 1740l-5 24l34 31l5-24zM2546 1696l-6 26l34 29l6-25z"/>
<path fill="#028bdf" stroke="#028bdf" d="M2765 1588l-5 29l34 24l5-29zM2810 1553l-5 30l34 23l5-29zM2850 1547l-6 30l35 22l5-29z"/>
<path fill="#028fe5" stroke="#028fe5" d="M2889 1539l-5 31l34 22l6-31zM2934 1498l-5 32l34 22l6-32z"/>
<path fill="#0293eb" stroke="#0293eb" d="M2974 1487l-5 33l34 21l5-32zM3014 1475l-6 34l34 20l6-33z"/>
<path fill="#0297f1" stroke="#0297f1" d="M3053 1462l-5 34l34 20l5-34zM3166 1451l-5 36l34 19l6-36z"/>
<path fill="#029bf7" stroke="#029bf7" d="M3206 1434l-5 36l34 19l5-37zM3280 1432l-6 38l34 18l6-38z"/>
<path fill="#029ffd" stroke="#029ffd" d="M3319 1411l-5 39l34 18l5-39zM3393 1408l-5 40l34 19l5-40zM3433 1386l-6 41l34 22l6-42zM3506 1387l-5 43l34 22l6-43zM3546 1363l-5 46l34 22l5-45zM3620 1361l-6 47l34 21l6-47zM3693 1354l-5 49l34 20l6-49zM3767 1342l-5 52l34 18l5-52zM3841 1324l-6 56l35 20l5-55zM3949 1324l-6 60l34 18l6-59z"/>
<path fill="#03648f" stroke="#03648f" d="M1790 994l-10 40l-6 20l77-111l16-65z"/>
<path fill="#03688e" stroke="#03688e" d="M1801 954l-11 40l77-116l11-43z"/>
<path fill="#036d9a" stroke="#036d9a" d="M1742 1363l-10 40l-6 20l85-95l17-64z"/>
<path fill="#0375ad" stroke="#0375ad" d="M1687 1786l-22 75l85-68l22-77z"/>
<path fill="#037aac" stroke="#037aac" d="M1708 1710l-21 76l85-70l16-60l6-19z"/>
<path fill="#037ab3" stroke="#037ab3" d="M1636 2178l-21 70l-28 85l74-39l17-52l10-35l6-17l16-53z"/>
<path fill="#0387c5" stroke="#0387c5" d="M2045 2317l-16 53l-28 85l-10 34l-17 49l34 30l28-82l43-138zM2139 2146l-22 75l34 33l22-75z"/>
<path fill="#038bcb" stroke="#038bcb" d="M2216 2022l-16 60l34 33l16-60zM2283 1931l-6 21l-10 42l34 31l16-63z"/>
<path fill="#038dd8" stroke="#038dd8" d="M2596 1648l-5 26l34 28l5-26zM2641 1623l-5 27l34 26l5-27zM2686 1594l-5 28l34 26l5-28zM2731 1563l-5 29l34 25l5-29z"/>
<path fill="#038fd1" stroke="#038fd1" d="M2344 1854l-11 44l34 31l11-44zM2400 1795l-11 46l34 31l11-46zM2456 1732l-11 48l34 32l11-48zM2506 1690l-11 50l34 31l11-49z"/>
<path fill="#0391de" stroke="#0391de" d="M2771 1559l-6 29l34 24l6-29zM2816 1523l-6 30l34 24l6-30z"/>
<path fill="#0394d7" stroke="#0394d7" d="M2557 1645l-11 51l34 30l11-52zM2602 1622l-6 26l34 28l6-26zM2647 1595l-6 28l34 26l6-27zM2692 1566l-6 28l34 26l6-28z"/>
<path fill="#0396e4" stroke="#0396e4" d="M2855 1516l-5 31l34 23l5-31zM2895 1508l-6 31l35 22l5-31z"/>
<path fill="#0398dd" stroke="#0398dd" d="M2737 1534l-6 29l34 25l6-29zM2776 1530l-5 29l34 24l5-30zM2821 1492l-5 31l34 24l5-31z"/>
<path fill="#039ef0" stroke="#039ef0" d="M3093 1447l-6 35l34 20l6-35zM3132 1431l-5 36l34 20l5-36z"/>
<path fill="#03a2f6" stroke="#03a2f6" d="M3172 1414l-6 37l35 19l5-36zM3246 1414l-6 38l34 18l6-38z"/>
<path fill="#03a6fc" stroke="#03a6fc" d="M3285 1393l-5 39l34 18l5-39zM3359 1389l-6 40l35 19l5-40zM3472 1364l-5 43l34 23l5-43zM3586 1339l-6 47l34 22l6-47zM3659 1333l-5 49l34 21l5-49zM3733 1322l-5 52l34 20l5-52zM3915 1305l-6 60l34 19l6-60z"/>
<path fill="#04719a" stroke="#04719a" d="M1759 1302l-17 61l86-99l10-43l6-21z"/>
<path fill="#047599" stroke="#047599" d="M1770 1261l-11 41l85-102l11-44z"/>
<path fill="#047fab" stroke="#047fab" d="M1725 1652l-17 58l86-73l10-41l6-20z"/>
<path fill="#047fb2" stroke="#047fb2" d="M1658 2108l-16 53l-6 17l74-41l22-72z"/>
<path fill="#0483b8" stroke="#0483b8" d="M1674 2054l-16 54l74-43l16-55z"/>
<path fill="#0489b7" stroke="#0489b7" d="M1701 1963l-10 36l-17 55l74-44l6-18l21-75zM1661 2294l-48 150l-33 97l62-22l28-81l10-33l28-83l10-35l6-17z"/>
<path fill="#048cc4" stroke="#048cc4" d="M1962 2447l-6 16l-10 33l-22 65l34 25l22-64l16-50zM2077 2209l-5 19l-27 89l34 31l22-72l10-36z"/>
<path fill="#0491ca" stroke="#0491ca" d="M2160 2069l-21 77l34 33l11-38l10-39zM2232 1961l-10 41l-6 20l34 33l17-61zM2294 1888l-6 21l-5 22l34 31l11-42z"/>
<path fill="#0495d0" stroke="#0495d0" d="M2355 1809l-5 23l-6 22l34 31l11-44zM2411 1748l-11 47l34 31l11-46zM2461 1708l-5 24l34 32l5-24zM2512 1665l-6 25l34 32l6-26z"/>
<path fill="#049ad6" stroke="#049ad6" d="M2562 1619l-5 26l34 29l5-26zM2607 1595l-5 27l34 28l5-27zM2652 1568l-5 27l34 27l5-28zM2697 1538l-5 28l34 26l5-29z"/>
<path fill="#049ce3" stroke="#049ce3" d="M2861 1485l-6 31l34 23l6-31zM2900 1476l-5 32l34 22l5-32z"/>
<path fill="#049edc" stroke="#049edc" d="M2742 1505l-5 29l34 25l5-29zM2782 1499l-6 31l34 23l6-30z"/>
<path fill="#04a1e9" stroke="#04a1e9" d="M2940 1465l-6 33l35 22l5-33zM2979 1454l-5 33l34 22l6-34zM3019 1441l-5 34l34 21l5-34z"/>
<path fill="#04a5ef" stroke="#04a5ef" d="M3059 1427l-6 35l34 20l6-35zM3098 1411l-5 36l34 20l5-36z"/>
<path fill="#04a9f5" stroke="#04a9f5" d="M3138 1394l-6 37l34 20l6-37zM3211 1395l-5 39l34 18l6-38z"/>
<path fill="#04aefa" stroke="#04aefa" d="M3251 1375l-5 39l34 18l5-39zM3325 1371l-6 40l34 18l6-40zM3398 1366l-5 42l34 19l6-41zM3438 1342l-5 44l34 21l5-43zM3512 1341l-6 46l35 22l5-46zM3625 1311l-5 50l34 21l5-49zM3699 1301l-6 53l35 20l5-52zM3807 1305l-6 55l34 20l6-56zM3880 1285l-5 60l34 20l6-60zM3988 1279l-5 64l34 18l5-64z"/>
<path fill="#057593" stroke="#057593" d="M1786 1199l-6 21l86-108l5-23z"/>
<path fill="#057992" stroke="#057992" d="M1797 1157l-11 42l85-110l11-44z"/>
<path fill="#057a98" stroke="#057a98" d="M1780 1220l-10 41l85-105l11-44z"/>
<path fill="#0584ab" stroke="#0584ab" d="M1746 1573l-21 79l85-76l22-82z"/>
<path fill="#0589aa" stroke="#0589aa" d="M1763 1513l-17 60l86-79l10-42l6-21z"/>
<path fill="#058eb6" stroke="#058eb6" d="M1728 1869l-10 38l-17 56l74-46l6-19l21-77z"/>
<path fill="#0592c3" stroke="#0592c3" d="M2011 2292l-49 155l34 25l33-102l16-53zM2083 2191l-6 18l34 31l6-19z"/>
<path fill="#0593bc" stroke="#0593bc" d="M1710 2137l-5 18l-17 52l-10 35l-17 52l63-24l49-158zM1659 2471l-17 48l52-10l10-32l6-16z"/>
<path fill="#0597c9" stroke="#0597c9" d="M2016 2275l-5 17l34 25l5-17zM2104 2116l-10 38l-6 18l-5 19l34 30l22-75zM2182 1989l-22 80l34 33l17-59l5-21zM2249 1898l-17 63l35 33l10-42l6-21zM2299 1866l-5 22l34 32l5-22z"/>
<path fill="#0598c2" stroke="#0598c2" d="M1933 2413l-43 131l34 17l22-65l21-66z"/>
<path fill="#059bcf" stroke="#059bcf" d="M2310 1822l-11 44l34 32l11-44zM2366 1763l-11 46l34 32l11-46zM2422 1700l-11 48l34 32l11-48zM2472 1658l-11 50l34 32l11-50zM2522 1614l-10 51l34 31l11-51z"/>
<path fill="#05a0d5" stroke="#05a0d5" d="M2567 1592l-5 27l34 29l6-26zM2612 1567l-5 28l34 28l6-28zM2657 1540l-5 28l34 26l6-28z"/>
<path fill="#05a3e2" stroke="#05a3e2" d="M2866 1453l-5 32l34 23l5-32z"/>
<path fill="#05a5db" stroke="#05a5db" d="M2702 1508l-5 30l34 25l6-29zM2747 1474l-5 31l34 25l6-31zM2787 1468l-5 31l34 24l5-31z"/>
<path fill="#05a7e8" stroke="#05a7e8" d="M2906 1443l-6 33l34 22l6-33zM2945 1432l-5 33l34 22l5-33zM2985 1420l-6 34l35 21l5-34z"/>
<path fill="#05aae1" stroke="#05aae1" d="M2827 1461l-6 31l34 24l6-31zM2872 1420l-6 33l34 23l6-33z"/>
<path fill="#05aced" stroke="#05aced" d="M3024 1406l-5 35l34 21l6-35zM3064 1391l-5 36l34 20l5-36z"/>
<path fill="#05b0f3" stroke="#05b0f3" d="M3177 1376l-5 38l34 20l5-39z"/>
<path fill="#05b5f9" stroke="#05b5f9" d="M3217 1356l-6 39l35 19l5-39zM3291 1352l-6 41l34 18l6-40zM3364 1347l-5 42l34 19l5-42zM3478 1318l-6 46l34 23l6-46zM3551 1316l-5 47l34 23l6-47zM3773 1286l-6 56l34 18l6-55zM3954 1260l-5 64l34 19l5-64z"/>
<path fill="#067d91" stroke="#067d91" d="M1807 1115l-10 42l85-112l11-46z"/>
<path fill="#068291" stroke="#068291" d="M1818 1073l-11 42l86-116l11-46z"/>
<path fill="#068ea3" stroke="#068ea3" d="M1790 1411l-11 41l85-85l11-43z"/>
<path fill="#068ea9" stroke="#068ea9" d="M1773 1473l-10 40l85-82l11-42z"/>
<path fill="#0693b6" stroke="#0693b6" d="M1750 1793l-22 76l74-48l6-19l16-59z"/>
<path fill="#0698bb" stroke="#0698bb" d="M1743 2029l-33 108l63-25l32-110zM1708 2322l-6 16l-43 133l51-10l49-150z"/>
<path fill="#069dc1" stroke="#069dc1" d="M1740 2218l-5 18l-17 51l-10 35l51-11l32-103zM1732 2395l-28 82l-10 32l45-2l6-16l10-33l22-65zM1910 2359l-6 17l-10 34l-6 16l-32 98l34 20l11-32l10-33l17-49l16-51z"/>
<path fill="#069dc8" stroke="#069dc8" d="M1971 2293l-38 120l34 17l17-51l21-69zM2049 2166l-33 109l34 25l33-109zM2126 2039l-22 77l35 30l21-77zM2198 1928l-16 61l34 33l6-20l10-41zM2260 1855l-11 43l34 33l5-22l6-21z"/>
<path fill="#06a2ce" stroke="#06a2ce" d="M2321 1777l-11 45l34 32l6-22l5-23zM2377 1717l-11 46l34 32l11-47zM2427 1676l-5 24l34 32l5-24zM2477 1633l-5 25l34 32l6-25z"/>
<path fill="#06a3c7" stroke="#06a3c7" d="M1931 2291l-21 68l34 20l22-69zM2009 2167l-5 19l-33 107l34 17l33-107l5-19zM2076 2072l-17 57l-10 37l34 25l27-94zM2142 1979l-10 40l-6 20l34 30l17-60zM2209 1886l-11 42l34 33l11-42zM2270 1812l-10 43l34 33l11-44z"/>
<path fill="#06a6d4" stroke="#06a6d4" d="M2528 1588l-6 26l35 31l5-26zM2573 1565l-6 27l35 30l5-27zM2623 1511l-5 29l-6 27l35 28l10-55zM2663 1511l-6 29l35 26l5-28z"/>
<path fill="#06abda" stroke="#06abda" d="M2708 1479l-6 29l35 26l5-29zM2753 1443l-6 31l35 25l5-31z"/>
<path fill="#06aee6" stroke="#06aee6" d="M2911 1409l-5 34l34 22l5-33zM2951 1397l-6 35l34 22l6-34z"/>
<path fill="#06b0e0" stroke="#06b0e0" d="M2792 1437l-5 31l34 24l6-31zM2832 1429l-5 32l34 24l5-32z"/>
<path fill="#06b3ec" stroke="#06b3ec" d="M2990 1385l-5 35l34 21l5-35z"/>
<path fill="#06b8f2" stroke="#06b8f2" d="M3104 1374l-6 37l34 20l6-37zM3143 1356l-5 38l34 20l5-38z"/>
<path fill="#06bcf8" stroke="#06bcf8" d="M3256 1334l-5 41l34 18l6-41zM3330 1328l-5 43l34 18l5-42zM3404 1322l-6 44l35 20l5-44zM3443 1296l-5 46l34 22l6-46zM3517 1294l-5 47l34 22l5-47zM3591 1289l-5 50l34 22l5-50zM3665 1280l-6 53l34 21l6-53zM3738 1266l-5 56l34 20l6-56zM3846 1264l-5 60l34 21l5-60z"/>
<path fill="#07808a" stroke="#07808a" d="M1829 1030l-11 43l86-120l10-46z"/>
<path fill="#07848a" stroke="#07848a" d="M1840 986l-11 44l85-123l11-46z"/>
<path fill="#0793a2" stroke="#0793a2" d="M1801 1370l-11 41l85-87l11-44z"/>
<path fill="#0793a8" stroke="#0793a8" d="M1779 1452l-6 21l86-84l5-22z"/>
<path fill="#0799b5" stroke="#0799b5" d="M1766 1735l-10 39l-6 19l74-50l16-60z"/>
<path fill="#079eb4" stroke="#079eb4" d="M1783 1676l-17 59l74-52l17-61z"/>
<path fill="#079ebb" stroke="#079ebb" d="M1770 1936l-27 93l62-27l27-94z"/>
<path fill="#07a3c0" stroke="#07a3c0" d="M1778 2094l-32 107l-6 17l51-10l17-54l21-72zM1791 2208l-21 69l-38 118l45-2l22-67l38-122zM1810 2291l-38 118l-33 98l43 2l11-32l10-33l17-49l27-84l5-18zM1841 2328l-21 67l-6 16l-32 98l37 3l10-32l28-82l21-68zM1851 2414l-32 98l37 12l32-98z"/>
<path fill="#07a4ba" stroke="#07a4ba" d="M1791 1860l-21 76l62-28l6-19l16-59z"/>
<path fill="#07a8c6" stroke="#07a8c6" d="M1820 2257l-10 34l42 2l11-34zM1852 2293l-5 18l-6 17l37 2l11-34zM1900 2261l-5 18l-28 85l-10 34l-6 16l37 12l6-16l10-34l17-51l16-52zM1969 2166l-10 36l-28 89l35 19l10-35l6-17l22-72zM2036 2074l-27 93l34 17l6-18l21-75zM2097 1994l-21 78l34 25l5-20l17-58zM2159 1918l-17 61l35 30l16-61zM2225 1822l-10 43l-6 21l34 33l17-64z"/>
<path fill="#07a8cd" stroke="#07a8cd" d="M2332 1732l-11 45l34 32l11-46zM2382 1693l-5 24l34 31l5-24zM2438 1627l-11 49l34 32l11-50zM2488 1582l-11 51l35 32l10-51z"/>
<path fill="#07add3" stroke="#07add3" d="M2533 1561l-5 27l34 31l5-27zM2584 1510l-11 55l34 30l11-55zM2629 1483l-6 28l34 29l6-29zM2668 1482l-5 29l34 27l5-30z"/>
<path fill="#07aecc" stroke="#07aecc" d="M2287 1745l-17 67l35 32l16-67zM2342 1685l-10 47l34 31l11-46zM2393 1645l-11 48l34 31l11-48zM2443 1601l-5 26l34 31l5-25z"/>
<path fill="#07b2d9" stroke="#07b2d9" d="M2713 1448l-5 31l34 26l5-31z"/>
<path fill="#07b7df" stroke="#07b7df" d="M2798 1405l-6 32l35 24l5-32zM2837 1396l-5 33l34 24l6-33z"/>
<path fill="#07baeb" stroke="#07baeb" d="M3030 1370l-6 36l35 21l5-36z"/>
<path fill="#07bce4" stroke="#07bce4" d="M2877 1386l-5 34l34 23l5-34zM2917 1375l-6 34l34 23l6-35z"/>
<path fill="#07bff1" stroke="#07bff1" d="M3069 1354l-5 37l34 20l6-37zM3109 1336l-5 38l34 20l5-38z"/>
<path fill="#07c4f7" stroke="#07c4f7" d="M3183 1336l-6 40l34 19l6-39zM3222 1315l-5 41l34 19l5-41zM3296 1310l-5 42l34 19l5-43zM3370 1303l-6 44l34 19l6-44zM3483 1271l-5 47l34 23l5-47zM3557 1266l-6 50l35 23l5-50zM3631 1259l-6 52l34 22l6-53zM3704 1245l-5 56l34 21l5-56zM3812 1245l-5 60l34 19l5-60zM3920 1241l-5 64l34 19l5-64z"/>
<path fill="#088889" stroke="#088889" d="M1851 943l-11 43l85-125l11-47z"/>
<path fill="#088c88" stroke="#088c88" d="M1862 900l-6 21l-5 22l85-129l11-47z"/>
<path fill="#0897a1" stroke="#0897a1" d="M1817 1307l-6 21l-10 42l85-90l16-66z"/>
<path fill="#089ca0" stroke="#089ca0" d="M1828 1264l-11 43l85-93l5-23l6-22z"/>
<path fill="#08a3b3" stroke="#08a3b3" d="M1799 1616l-16 60l74-54l16-62z"/>
<path fill="#08a9b9" stroke="#08a9b9" d="M1808 1802l-17 58l63-30l16-59z"/>
<path fill="#08a9c0" stroke="#08a9c0" d="M1805 2002l-27 92l51-12l6-18l21-75zM1802 2172l-11 36l46-4l11-35z"/>
<path fill="#08aec5" stroke="#08aec5" d="M1829 2082l-27 90l46-3l10-36l17-55zM1858 2133l-10 36l-28 88l43 2l38-125zM1896 2152l-22 72l-6 17l-10 35l-6 17l37 3l6-17l10-35l28-89zM1938 2137l-38 124l37 12l38-125zM1997 2074l-28 92l35 20l10-37l17-56zM2047 2036l-11 38l34 17l11-38zM2114 1934l-17 60l35 25l10-40l6-20zM2175 1856l-16 62l34 30l16-62zM2236 1779l-5 22l-6 21l35 33l10-43z"/>
<path fill="#08b3d2" stroke="#08b3d2" d="M2494 1555l-6 27l34 32l6-26zM2539 1534l-6 27l34 31l6-27zM2589 1482l-5 28l34 30l5-29zM2634 1453l-5 30l34 28l5-29z"/>
<path fill="#08b4cb" stroke="#08b4cb" d="M2058 1997l-11 39l34 17l11-39zM2292 1722l-5 23l34 32l5-22zM2348 1661l-6 24l35 32l5-24zM2404 1595l-11 50l34 31l11-49zM2449 1576l-6 25l34 32l6-25z"/>
<path fill="#08b8d8" stroke="#08b8d8" d="M2674 1452l-6 30l34 26l6-29zM2719 1418l-6 30l34 26l6-31z"/>
<path fill="#08b9d1" stroke="#08b9d1" d="M2499 1529l-5 26l34 33l5-27zM2550 1479l-11 55l34 31l11-55zM2595 1453l-6 29l34 29l6-28z"/>
<path fill="#08bede" stroke="#08bede" d="M2758 1412l-5 31l34 25l5-31zM2803 1372l-5 33l34 24l5-33z"/>
<path fill="#08c1ea" stroke="#08c1ea" d="M2956 1362l-5 35l34 23l5-35zM2996 1348l-6 37l34 21l6-36z"/>
<path fill="#08c3e3" stroke="#08c3e3" d="M2843 1362l-6 34l35 24l5-34zM2882 1352l-5 34l34 23l6-34z"/>
<path fill="#08c6f0" stroke="#08c6f0" d="M3035 1333l-5 37l34 21l5-37z"/>
<path fill="#08cbf6" stroke="#08cbf6" d="M3149 1316l-6 40l34 20l6-40zM3188 1295l-5 41l34 20l5-41zM3262 1292l-6 42l35 18l5-42zM3336 1284l-6 44l34 19l6-44zM3409 1276l-5 46l34 20l5-46zM3523 1243l-6 51l34 22l6-50zM3596 1236l-5 53l34 22l6-52zM3670 1224l-5 56l34 21l5-56zM3778 1226l-5 60l34 19l5-60zM3886 1220l-6 65l35 20l5-64zM3994 1208l-6 71l34 18l6-71z"/>
<path fill="#09a1a0" stroke="#09a1a0" d="M1838 1221l-10 43l85-95l11-46z"/>
<path fill="#09a8ac" stroke="#09a8ac" d="M1832 1494l-11 41l74-59l10-43z"/>
<path fill="#09a9b2" stroke="#09a9b2" d="M1815 1556l-16 60l74-56l16-63z"/>
<path fill="#09aeb1" stroke="#09aeb1" d="M1821 1535l-6 21l74-59l6-21z"/>
<path fill="#09afb8" stroke="#09afb8" d="M1829 1723l-10 40l-11 39l62-31l17-60l5-21z"/>
<path fill="#09afbf" stroke="#09afbf" d="M1827 1927l-22 75l51-13l22-76z"/>
<path fill="#09b4be" stroke="#09b4be" d="M1849 1850l-22 77l51-14l22-78z"/>
<path fill="#09b4c4" stroke="#09b4c4" d="M1856 1989l-21 75l-6 18l46-4l27-94zM1886 2041l-28 92l43 1l27-92zM1923 2060l-27 92l37 3l10-37l17-55zM1965 2044l-27 93l37 11l27-93zM2024 1978l-17 58l-10 38l34 19l27-96zM2125 1894l-11 40l34 25l11-41zM2186 1814l-11 42l34 30l11-42zM2242 1757l-6 22l34 33l6-22z"/>
<path fill="#09baca" stroke="#09baca" d="M2074 1938l-16 59l34 17l16-59zM2130 1873l-5 21l34 24l5-20zM2191 1793l-5 21l34 30l5-22zM2247 1735l-5 22l34 33l5-23zM2303 1676l-11 46l34 33l6-23l5-24zM2359 1613l-11 48l34 32l11-48zM2409 1570l-5 25l34 32l5-26zM2454 1550l-5 26l34 32l5-26z"/>
<path fill="#09bfd7" stroke="#09bfd7" d="M2640 1424l-6 29l34 29l6-30zM2679 1422l-5 30l34 27l5-31zM2724 1386l-5 32l34 25l5-31z"/>
<path fill="#09c0d0" stroke="#09c0d0" d="M2460 1524l-6 26l34 32l6-27zM2505 1502l-6 27l34 32l6-27zM2555 1451l-5 28l34 31l5-28zM2600 1424l-5 29l34 30l5-30z"/>
<path fill="#09c4dc" stroke="#09c4dc" d="M2764 1380l-6 32l34 25l6-32z"/>
<path fill="#09c8e9" stroke="#09c8e9" d="M2922 1340l-5 35l34 22l5-35zM2962 1326l-6 36l34 23l6-37z"/>
<path fill="#09cdef" stroke="#09cdef" d="M3001 1311l-5 37l34 22l5-37zM3075 1315l-6 39l35 20l5-38z"/>
<path fill="#09d3f5" stroke="#09d3f5" d="M3114 1296l-5 40l34 20l6-40zM3228 1273l-6 42l34 19l6-42zM3301 1266l-5 44l34 18l6-44zM3375 1257l-5 46l34 19l5-46zM3449 1249l-6 47l35 22l5-47zM3744 1206l-6 60l35 20l5-60zM3852 1200l-6 64l34 21l6-65zM3960 1189l-6 71l34 19l6-71z"/>
<path fill="#0aa69f" stroke="#0aa69f" d="M1849 1178l-5 22l-6 21l86-98l11-46z"/>
<path fill="#0aadab" stroke="#0aadab" d="M1842 1452l-10 42l73-61l11-44z"/>
<path fill="#0ab2aa" stroke="#0ab2aa" d="M1859 1389l-17 63l74-63l6-22l10-44z"/>
<path fill="#0ab4b7" stroke="#0ab4b7" d="M1846 1663l-17 60l63-33l16-61z"/>
<path fill="#0abab6" stroke="#0abab6" d="M1862 1602l-16 61l62-34l6-21l10-42z"/>
<path fill="#0ababd" stroke="#0ababd" d="M1859 1811l-10 39l51-15l11-40z"/>
<path fill="#0abac4" stroke="#0abac4" d="M1878 1913l-22 76l46-5l21-76zM1913 1946l-17 57l-10 38l42 1l6-19l21-77zM1950 1966l-27 94l37 3l10-38l17-57zM1970 2025l-5 19l37 11l5-19zM2029 1959l-5 19l34 19l5-19z"/>
<path fill="#0ac0c3" stroke="#0ac0c3" d="M1870 1771l-11 40l52-16l10-40zM1894 1855l-16 58l45-5l17-59zM1929 1888l-16 58l42 0l17-58zM1961 1927l-6 19l-5 20l37 2l5-20l6-19z"/>
<path fill="#0ac0c9" stroke="#0ac0c9" d="M1987 1968l-17 57l37 11l17-58zM2040 1920l-11 39l34 19l11-40zM2090 1878l-10 40l-6 20l34 17l17-61zM2146 1811l-16 62l34 25l6-21l10-42zM2202 1749l-11 44l34 29l6-21l5-22zM2258 1689l-11 46l34 32l6-22l5-23zM2314 1629l-11 47l34 32l11-47zM2364 1589l-5 24l34 32l5-25zM2415 1545l-6 25l34 31l6-25z"/>
<path fill="#0ac5d6" stroke="#0ac5d6" d="M2645 1394l-5 30l34 28l5-30zM2685 1391l-6 31l34 26l6-30z"/>
<path fill="#0ac6cf" stroke="#0ac6cf" d="M2465 1498l-5 26l34 31l5-26zM2510 1475l-5 27l34 32l5-27zM2560 1422l-5 29l34 31l6-29zM2605 1394l-5 30l34 29l6-29z"/>
<path fill="#0acbdb" stroke="#0acbdb" d="M2730 1354l-6 32l34 26l6-32zM2769 1347l-5 33l34 25l5-33z"/>
<path fill="#0accd5" stroke="#0accd5" d="M2690 1359l-5 32l34 27l5-32z"/>
<path fill="#0ad0e1" stroke="#0ad0e1" d="M2809 1338l-6 34l34 24l6-34zM2848 1328l-5 34l34 24l5-34z"/>
<path fill="#0ad5ee" stroke="#0ad5ee" d="M3041 1294l-6 39l34 21l6-39z"/>
<path fill="#0ad6e7" stroke="#0ad6e7" d="M2888 1316l-6 36l35 23l5-35zM2927 1303l-5 37l34 22l6-36z"/>
<path fill="#0adaf4" stroke="#0adaf4" d="M3080 1276l-5 39l34 21l5-40zM3154 1275l-5 41l34 20l5-41zM3194 1253l-6 42l34 20l6-42zM3267 1248l-5 44l34 18l5-44zM3341 1239l-5 45l34 19l5-46zM3415 1229l-6 47l34 20l6-47zM3488 1220l-5 51l34 23l6-51zM3562 1213l-5 53l34 23l5-53zM3636 1203l-5 56l34 21l5-56zM3710 1185l-6 60l34 21l6-60zM3818 1181l-6 64l34 19l6-64zM3925 1171l-5 70l34 19l6-71z"/>
<path fill="#0bbfb6" stroke="#0bbfb6" d="M1873 1560l-11 42l62-36l11-43z"/>
<path fill="#0bc6c2" stroke="#0bc6c2" d="M1887 1711l-17 60l51-16l17-61zM1916 1775l-22 80l46-6l11-40l10-41zM1934 1868l-5 20l43 0l5-20z"/>
<path fill="#0bc6c8" stroke="#0bc6c8" d="M1966 1907l-5 20l37 2l5-20zM2008 1889l-10 40l-6 19l-5 20l37 10l21-78zM2056 1860l-16 60l34 18l6-20l10-40zM2107 1816l-17 62l35 16l16-62zM2157 1769l-11 42l34 24l11-42zM2213 1705l-11 44l34 30l11-44zM2269 1644l-11 45l34 33l11-46zM2325 1581l-11 48l34 32l11-48zM2375 1539l-11 50l34 31l11-50zM2420 1519l-5 26l34 31l5-26z"/>
<path fill="#0bccce" stroke="#0bccce" d="M2425 1493l-5 26l34 31l6-26zM2470 1471l-5 27l34 31l6-27zM2521 1419l-11 56l34 32l11-56zM2566 1393l-6 29l35 31l5-29z"/>
<path fill="#0bd2d4" stroke="#0bd2d4" d="M2611 1364l-6 30l35 30l5-30zM2650 1363l-5 31l34 28l6-31z"/>
<path fill="#0bd7e0" stroke="#0bd7e0" d="M2775 1313l-6 34l34 25l6-34zM2814 1304l-5 34l34 24l5-34zM2854 1292l-6 36l34 24l6-36z"/>
<path fill="#0bdced" stroke="#0bdced" d="M2967 1289l-5 37l34 22l5-37zM3007 1273l-6 38l34 22l6-39zM3046 1255l-5 39l34 21l5-39z"/>
<path fill="#0bdde6" stroke="#0bdde6" d="M2893 1280l-5 36l34 24l5-37zM2933 1266l-6 37l35 23l5-37z"/>
<path fill="#0be1f3" stroke="#0be1f3" d="M3120 1255l-6 41l35 20l5-41zM3233 1229l-5 44l34 19l5-44zM3307 1220l-6 46l35 18l5-45zM3381 1210l-6 47l34 19l6-47zM3454 1198l-5 51l34 22l5-51zM3528 1191l-5 52l34 23l5-53zM3602 1180l-6 56l35 23l5-56zM3783 1162l-5 64l34 19l6-64z"/>
<path fill="#0cccc1" stroke="#0cccc1" d="M1897 1670l-10 41l51-17l11-42zM1932 1714l-16 61l45-7l17-62z"/>
<path fill="#0cccc7" stroke="#0cccc7" d="M1951 1809l-17 59l43 0l16-60zM1988 1828l-6 20l-10 40l-6 19l37 2l22-80zM2025 1829l-17 60l37 11l17-61zM2072 1798l-16 62l34 18l17-62zM2123 1753l-6 21l-10 42l34 16l16-63zM2173 1704l-16 65l34 24l6-22l10-44zM2224 1660l-11 45l34 30l11-46zM2280 1597l-6 23l-5 24l34 32l11-47zM2330 1557l-5 24l34 32l5-24zM2380 1514l-5 25l34 31l6-25z"/>
<path fill="#0cd2c6" stroke="#0cd2c6" d="M1967 1748l-6 20l-10 41l42-1l16-62zM2004 1767l-16 61l37 1l16-61zM2041 1768l-16 61l37 10l16-62zM2089 1735l-17 63l35 18l10-42l6-21zM2134 1710l-11 43l34 16l11-44zM2184 1659l-5 23l-6 22l34 23l11-44zM2235 1615l-11 45l34 29l11-45zM2285 1573l-5 24l34 32l5-24zM2341 1507l-11 50l34 32l11-50zM2386 1488l-6 26l35 31l5-26z"/>
<path fill="#0cd2cd" stroke="#0cd2cd" d="M2431 1467l-6 26l35 31l5-26zM2476 1444l-6 27l35 31l5-27zM2526 1390l-5 29l34 32l5-29zM2571 1364l-5 29l34 31l5-30z"/>
<path fill="#0cd8d9" stroke="#0cd8d9" d="M2695 1327l-5 32l34 27l6-32zM2735 1321l-5 33l34 26l5-33z"/>
<path fill="#0cd9d3" stroke="#0cd9d3" d="M2616 1334l-5 30l34 30l5-31zM2656 1331l-6 32l35 28l5-32z"/>
<path fill="#0ce3ec" stroke="#0ce3ec" d="M2972 1250l-5 39l34 22l6-38z"/>
<path fill="#0ce9f1" stroke="#0ce9f1" d="M3086 1235l-6 41l34 20l6-41zM3159 1233l-5 42l34 20l6-42zM3199 1209l-5 44l34 20l5-44zM3273 1202l-6 46l34 18l6-46zM3346 1191l-5 48l34 18l6-47zM3675 1165l-5 59l34 21l6-60zM3891 1150l-5 70l34 21l5-70z"/>
<path fill="#0d8c84" stroke="#0d8c84" d="M1878 835l-16 65l85-133l16-69z"/>
<path fill="#0dd9cc" stroke="#0dd9cc" d="M2391 1462l-5 26l34 31l5-26zM2436 1440l-5 27l34 31l5-27zM2487 1388l-11 56l34 31l11-56zM2532 1362l-6 28l34 32l6-29zM2577 1334l-6 30l34 30l6-30z"/>
<path fill="#0ddfd2" stroke="#0ddfd2" d="M2661 1299l-5 32l34 28l5-32z"/>
<path fill="#0ddfd8" stroke="#0ddfd8" d="M2701 1295l-6 32l35 27l5-33zM2740 1288l-5 33l34 26l6-34z"/>
<path fill="#0de5de" stroke="#0de5de" d="M2780 1279l-5 34l34 25l5-34zM2820 1269l-6 35l34 24l6-36z"/>
<path fill="#0deaeb" stroke="#0deaeb" d="M3012 1233l-5 40l34 21l5-39z"/>
<path fill="#0debe4" stroke="#0debe4" d="M2859 1256l-5 36l34 24l5-36zM2899 1243l-6 37l34 23l6-37z"/>
<path fill="#0df0f0" stroke="#0df0f0" d="M3052 1214l-6 41l34 21l6-41zM3125 1213l-5 42l34 20l5-42zM3239 1183l-6 46l34 19l6-46zM3312 1173l-5 47l34 19l5-48zM3420 1178l-5 51l34 20l5-51zM3494 1168l-6 52l35 23l5-52zM3568 1157l-6 56l34 23l6-56zM3641 1143l-5 60l34 21l5-59zM3749 1142l-5 64l34 20l5-64zM3857 1130l-5 70l34 20l5-70zM3999 1131l-5 77l34 18l5-78z"/>
<path fill="#0eecdd" stroke="#0eecdd" d="M2746 1254l-6 34l35 25l5-34zM2785 1244l-5 35l34 25l6-35z"/>
<path fill="#0ef1e9" stroke="#0ef1e9" d="M2938 1228l-5 38l34 23l5-39zM2978 1211l-6 39l35 23l5-40z"/>
<path fill="#0ef2e3" stroke="#0ef2e3" d="M2825 1232l-5 37l34 23l5-36zM2865 1219l-6 37l34 24l6-37z"/>
<path fill="#0ef8ef" stroke="#0ef8ef" d="M3091 1193l-5 42l34 20l5-42zM3165 1189l-6 44l35 20l5-44zM3386 1160l-5 50l34 19l5-51zM3460 1146l-6 52l34 22l6-52zM3533 1135l-5 56l34 22l6-56zM3607 1121l-5 59l34 23l5-60zM3715 1122l-5 63l34 21l5-64zM3823 1111l-5 70l34 19l5-70zM3965 1112l-5 77l34 19l5-77z"/>
<path fill="#0fa699" stroke="#0fa699" d="M1860 1134l-11 44l86-101l10-47z"/>
<path fill="#0ff9e8" stroke="#0ff9e8" d="M2904 1205l-5 38l34 23l5-38z"/>
<path fill="#0fffee" stroke="#0fffee" d="M3017 1192l-5 41l34 22l6-41zM3057 1172l-5 42l34 21l5-42zM3131 1169l-6 44l34 20l6-44zM3204 1164l-5 45l34 20l6-46zM3278 1154l-5 48l34 18l5-47zM3352 1141l-6 50l35 19l5-50zM3426 1126l-6 52l34 20l6-52zM3499 1112l-5 56l34 23l5-56zM3681 1101l-6 64l35 20l5-63zM3789 1093l-6 69l35 19l5-70zM3931 1094l-6 77l35 18l5-77z"/>
<path fill="#11b2a4" stroke="#11b2a4" d="M1869 1346l-10 43l73-66l11-45z"/>
<path fill="#12bfaf" stroke="#12bfaf" d="M1889 1497l-16 63l62-37l17-65z"/>
<path fill="#13ccba" stroke="#13ccba" d="M1914 1608l-17 62l52-18l16-64zM1943 1673l-5 21l-6 20l46-8l11-42z"/>
<path fill="#13d2c0" stroke="#13d2c0" d="M1978 1706l-11 42l42-2l11-42zM2015 1725l-11 42l37 1l11-42zM2057 1705l-16 63l37 9l16-63zM2100 1693l-11 42l34 18l11-43zM2145 1667l-11 43l34 15l11-43zM2195 1614l-5 23l-6 22l34 24l11-45zM2245 1568l-10 47l34 29l5-24l6-23zM2296 1525l-11 48l34 32l11-48zM2346 1482l-5 25l34 32l5-25z"/>
<path fill="#149f8f" stroke="#149f8f" d="M1871 1089l-5 23l-6 22l85-104l11-48z"/>
<path fill="#14d9c5" stroke="#14d9c5" d="M2397 1436l-6 26l34 31l6-26zM2442 1413l-6 27l34 31l6-27zM2492 1360l-5 28l34 31l5-29zM2537 1332l-5 30l34 31l5-29z"/>
<path fill="#15dfca" stroke="#15dfca" d="M2582 1303l-5 31l34 30l5-30zM2622 1302l-6 32l34 29l6-32z"/>
<path fill="#15e6d0" stroke="#15e6d0" d="M2667 1267l-6 32l34 28l6-32zM2706 1261l-5 34l34 26l5-33z"/>
<path fill="#17b29e" stroke="#17b29e" d="M1880 1302l-11 44l74-68l11-46z"/>
<path fill="#17f9e0" stroke="#17f9e0" d="M2944 1189l-6 39l34 22l6-39z"/>
<path fill="#18bfa9" stroke="#18bfa9" d="M1900 1454l-5 22l-6 21l63-39l10-45z"/>
<path fill="#18ffe6" stroke="#18ffe6" d="M2983 1170l-5 41l34 22l5-41zM3097 1149l-6 44l34 20l6-44zM3170 1144l-5 45l34 20l5-45zM3244 1136l-5 47l34 19l5-48zM3318 1123l-6 50l34 18l6-50zM3391 1107l-5 53l34 18l6-52zM3573 1098l-5 59l34 23l5-59zM3647 1080l-6 63l34 22l6-64zM3755 1074l-6 68l34 20l6-69zM3897 1074l-6 76l34 21l6-77z"/>
<path fill="#1a9f8a" stroke="#1a9f8a" d="M1882 1045l-11 44l85-107l6-23l5-25z"/>
<path fill="#1accb3" stroke="#1accb3" d="M1930 1544l-16 64l51-20l16-64zM1954 1631l-11 42l46-9l10-42z"/>
<path fill="#1bd2b9" stroke="#1bd2b9" d="M1959 1610l-5 21l45-9l6-22zM1994 1643l-16 63l42-2l17-63zM2031 1662l-16 63l37 1l16-64zM2068 1662l-5 22l-6 21l37 9l6-21l5-22zM2116 1628l-16 65l34 17l16-65zM2155 1622l-10 45l34 15l5-23l6-22zM2206 1569l-11 45l34 24l11-46zM2251 1545l-6 23l35 29l5-24zM2307 1476l-11 49l34 32l11-50zM2357 1431l-11 51l34 32l11-52z"/>
<path fill="#1bd9be" stroke="#1bd9be" d="M2402 1409l-5 27l34 31l5-27zM2447 1385l-5 28l34 31l5-28zM2498 1331l-6 29l34 30l6-28zM2543 1302l-6 30l34 32l6-30z"/>
<path fill="#1cdfc3" stroke="#1cdfc3" d="M2627 1271l-5 31l34 29l5-32z"/>
<path fill="#1db299" stroke="#1db299" d="M1891 1258l-11 44l74-70l11-46z"/>
<path fill="#1de6c8" stroke="#1de6c8" d="M2672 1234l-5 33l34 28l5-34z"/>
<path fill="#1eecce" stroke="#1eecce" d="M2712 1227l-6 34l34 27l6-34zM2751 1219l-5 35l34 25l5-35z"/>
<path fill="#1f9f84" stroke="#1f9f84" d="M1893 999l-11 46l85-111l11-48z"/>
<path fill="#1fbfa3" stroke="#1fbfa3" d="M1911 1411l-11 43l62-41l11-44z"/>
<path fill="#1ff2d3" stroke="#1ff2d3" d="M2791 1208l-6 36l35 25l5-37zM2830 1196l-5 36l34 24l6-37z"/>
<path fill="#1ff9d8" stroke="#1ff9d8" d="M2870 1181l-5 38l34 24l5-38zM2910 1166l-6 39l34 23l6-39z"/>
<path fill="#20ffdd" stroke="#20ffdd" d="M2949 1148l-5 41l34 22l5-41zM3023 1151l-6 41l35 22l5-42zM3062 1128l-5 44l34 21l6-44zM3136 1124l-5 45l34 20l5-45zM3210 1116l-6 48l35 19l5-47zM3284 1105l-6 49l34 19l6-50zM3465 1090l-5 56l34 22l5-56zM3539 1076l-6 59l35 22l5-59zM3863 1055l-6 75l34 20l6-76z"/>
<path fill="#21ccad" stroke="#21ccad" d="M1941 1501l-11 43l51-20l11-44z"/>
<path fill="#22d2b2" stroke="#22d2b2" d="M1970 1567l-11 43l46-10l11-43zM2005 1600l-11 43l43-2l10-44zM2042 1619l-5 22l-6 21l37 0l6-21l5-22zM2079 1619l-5 22l-6 21l37 9l11-43zM2127 1583l-11 45l34 17l5-23l6-22zM2211 1545l-5 24l34 23l5-24zM2262 1497l-11 48l34 28l11-48zM2312 1451l-5 25l34 31l5-25z"/>
<path fill="#23b293" stroke="#23b293" d="M1902 1214l-11 44l74-72l5-24l6-23z"/>
<path fill="#23d9b7" stroke="#23d9b7" d="M2166 1577l-5 23l-6 22l35 15l10-45zM2363 1405l-6 26l34 31l6-26zM2408 1382l-6 27l34 31l6-27zM2458 1329l-5 29l-6 27l34 31l11-56zM2503 1302l-5 29l34 31l5-30zM2548 1272l-5 30l34 32l5-31z"/>
<path fill="#249f7f" stroke="#249f7f" d="M1898 976l-5 23l85-113l5-25z"/>
<path fill="#24dfbc" stroke="#24dfbc" d="M2588 1272l-6 31l34 31l6-32zM2633 1238l-6 33l34 28l6-32z"/>
<path fill="#25bf9c" stroke="#25bf9c" d="M1922 1367l-11 44l62-42l11-46z"/>
<path fill="#26ecc6" stroke="#26ecc6" d="M2717 1193l-5 34l34 27l5-35zM2757 1183l-6 36l34 25l6-36z"/>
<path fill="#27f2cb" stroke="#27f2cb" d="M2796 1171l-5 37l34 24l5-36z"/>
<path fill="#28cca6" stroke="#28cca6" d="M1952 1458l-11 43l51-21l5-23l6-22z"/>
<path fill="#28f9d0" stroke="#28f9d0" d="M2836 1158l-6 38l35 23l5-38zM2875 1142l-5 39l34 24l6-39z"/>
<path fill="#29b28d" stroke="#29b28d" d="M1913 1169l-6 22l-5 23l74-75l11-48z"/>
<path fill="#29d2ab" stroke="#29d2ab" d="M1981 1524l-11 43l46-10l11-44zM2016 1557l-11 43l42-3l11-44zM2053 1575l-11 44l37 0l11-44zM2084 1597l-5 22l37 9l5-22zM2132 1561l-5 22l34 17l5-23zM2217 1522l-6 23l34 23l6-23zM2273 1448l-11 49l34 28l11-49zM2318 1425l-6 26l34 31l6-25z"/>
<path fill="#29ffd5" stroke="#29ffd5" d="M2989 1129l-6 41l34 22l6-41zM3102 1104l-5 45l34 20l5-45zM3176 1097l-6 47l34 20l6-48zM3249 1086l-5 50l34 18l6-49zM3357 1089l-5 52l34 19l5-53zM3431 1071l-5 55l34 20l5-56zM3613 1057l-6 64l34 22l6-63zM3720 1053l-5 69l34 20l6-68zM3828 1036l-5 75l34 19l6-75zM4005 1046l-6 85l34 17l6-85z"/>
<path fill="#2a9f7a" stroke="#2a9f7a" d="M1909 930l-11 46l85-115l11-49z"/>
<path fill="#2ad9b0" stroke="#2ad9b0" d="M2090 1575l-6 22l37 9l6-23zM2138 1538l-6 23l34 16l6-22zM2177 1531l-5 24l-6 22l34 15l6-23l5-24zM2222 1498l-5 24l34 23l5-24zM2368 1378l-5 27l34 31l5-27zM2413 1355l-5 27l34 31l5-28zM2463 1301l-5 28l34 31l6-29zM2508 1272l-5 30l34 30l6-30z"/>
<path fill="#2bdfb4" stroke="#2bdfb4" d="M2593 1240l-5 32l34 30l5-31z"/>
<path fill="#2cbf96" stroke="#2cbf96" d="M1932 1323l-10 44l62-44l11-46z"/>
<path fill="#2ce6b9" stroke="#2ce6b9" d="M2638 1205l-5 33l34 29l5-33zM2678 1200l-6 34l34 27l6-34z"/>
<path fill="#2d9970" stroke="#2d9970" d="M1920 884l-11 46l85-118l11-50z"/>
<path fill="#2ecc9f" stroke="#2ecc9f" d="M1962 1413l-10 45l51-23l5-23l6-22z"/>
<path fill="#2fb287" stroke="#2fb287" d="M1918 1146l-5 23l74-78l5-24z"/>
<path fill="#30d2a4" stroke="#30d2a4" d="M1997 1457l-16 67l46-11l16-68zM2032 1490l-16 67l42-4l17-67zM2064 1531l-11 44l37 0l11-45zM2323 1400l-5 25l34 32l5-26z"/>
<path fill="#30f9c8" stroke="#30f9c8" d="M2915 1125l-5 41l34 23l5-41z"/>
<path fill="#31d9a8" stroke="#31d9a8" d="M2101 1530l-11 45l37 8l11-45zM2148 1492l-10 46l34 17l5-24l6-23zM2188 1485l-11 46l34 14l6-23l5-24zM2233 1450l-5 25l-6 23l34 23l11-49zM2278 1423l-5 25l34 28l5-25zM2328 1374l-5 26l34 31l6-26zM2373 1352l-5 26l34 31l6-27zM2424 1300l-11 55l34 30l6-27l5-29zM2469 1272l-6 29l35 30l5-29zM2514 1242l-6 30l35 30l5-30z"/>
<path fill="#31ffcc" stroke="#31ffcc" d="M2955 1107l-6 41l34 22l6-41zM3028 1107l-5 44l34 21l5-44zM3068 1084l-6 44l35 21l5-45zM3142 1077l-6 47l34 20l6-47zM3215 1067l-5 49l34 20l5-50zM3323 1071l-5 52l34 18l5-52zM3397 1052l-6 55l35 19l5-55zM3505 1054l-6 58l34 23l6-59zM3578 1035l-5 63l34 23l6-64zM3686 1033l-5 68l34 21l5-69zM3794 1019l-5 74l34 18l5-75zM3970 1028l-5 84l34 19l6-85z"/>
<path fill="#32996b" stroke="#32996b" d="M1925 861l-5 23l85-122l5-25z"/>
<path fill="#32bf90" stroke="#32bf90" d="M1943 1278l-11 45l63-46l11-47z"/>
<path fill="#33dfad" stroke="#33dfad" d="M2553 1241l-5 31l34 31l6-31zM2598 1208l-5 32l34 31l6-33z"/>
<path fill="#35b281" stroke="#35b281" d="M1929 1100l-11 46l74-79l11-49z"/>
<path fill="#35cc98" stroke="#35cc98" d="M1973 1369l-11 44l52-23l10-46z"/>
<path fill="#36ecb6" stroke="#36ecb6" d="M2683 1165l-5 35l34 27l5-34zM2723 1157l-6 36l34 26l6-36z"/>
<path fill="#379966" stroke="#379966" d="M1936 814l-11 47l85-124l11-51z"/>
<path fill="#37d29d" stroke="#37d29d" d="M2008 1412l-5 23l-6 22l46-12l11-46zM2043 1445l-11 45l43-4l10-46zM2075 1486l-11 45l37-1l10-45z"/>
<path fill="#37f2bb" stroke="#37f2bb" d="M2762 1147l-5 36l34 25l5-37zM2802 1134l-6 37l34 25l6-38z"/>
<path fill="#38bf89" stroke="#38bf89" d="M1954 1232l-11 46l63-48l11-48z"/>
<path fill="#39ac77" stroke="#39ac77" d="M1940 1053l-5 24l-6 23l74-82l11-49z"/>
<path fill="#39d9a1" stroke="#39d9a1" d="M2111 1485l-10 45l37 8l10-46zM2154 1469l-6 23l35 16l5-23zM2199 1437l-11 48l34 13l6-23l5-25zM2238 1426l-5 24l34 22l6-24zM2289 1373l-11 50l34 28l11-51zM2334 1348l-6 26l35 31l5-27zM2379 1325l-6 27l35 30l5-27zM2429 1271l-5 29l34 29l5-28zM2474 1242l-5 30l34 30l5-30z"/>
<path fill="#39f9bf" stroke="#39f9bf" d="M2841 1119l-5 39l34 23l5-39zM2881 1102l-6 40l35 24l5-41z"/>
<path fill="#3a935e" stroke="#3a935e" d="M1942 790l-6 24l85-128l6-25z"/>
<path fill="#3adfa6" stroke="#3adfa6" d="M2559 1210l-6 31l35 31l5-32zM2604 1176l-6 32l35 30l5-33z"/>
<path fill="#3affc4" stroke="#3affc4" d="M2994 1086l-5 43l34 22l5-44zM3107 1057l-5 47l34 20l6-47zM3181 1048l-5 49l34 19l5-49zM3289 1053l-5 52l34 18l5-52zM3363 1034l-6 55l34 18l6-55zM3471 1032l-6 58l34 22l6-58zM3652 1012l-5 68l34 21l5-68zM3936 1010l-5 84l34 18l5-84z"/>
<path fill="#3ccc92" stroke="#3ccc92" d="M1984 1323l-11 46l51-25l11-47z"/>
<path fill="#3ce6aa" stroke="#3ce6aa" d="M2643 1172l-5 33l34 29l6-34z"/>
<path fill="#3eac72" stroke="#3eac72" d="M1945 1030l-5 23l74-84l5-25z"/>
<path fill="#3ed296" stroke="#3ed296" d="M2014 1390l-6 22l46-13l5-23zM2048 1422l-5 23l42-5l6-23zM2080 1463l-5 23l36-1l6-23z"/>
<path fill="#3f9359" stroke="#3f9359" d="M1952 743l-10 47l85-129l11-51z"/>
<path fill="#3fbf83" stroke="#3fbf83" d="M1960 1209l-6 23l63-50l5-24z"/>
<path fill="#3ff2b3" stroke="#3ff2b3" d="M2728 1121l-5 36l34 26l5-36zM2768 1109l-6 38l34 24l6-37z"/>
<path fill="#40d99a" stroke="#40d99a" d="M2085 1440l-5 23l37-1l5-23zM2122 1439l-11 46l37 7l11-46zM2165 1422l-11 47l34 16l11-48zM2204 1413l-5 24l34 13l5-24zM2249 1377l-11 49l35 22l10-50zM2294 1347l-5 26l34 27l5-26zM2339 1321l-5 27l34 30l5-26zM2390 1270l-11 55l34 30l11-55zM2435 1243l-6 28l34 30l6-29zM2480 1213l-6 29l34 30l6-30z"/>
<path fill="#418c51" stroke="#418c51" d="M1963 698l-11 45l86-133l10-49z"/>
<path fill="#41f9b7" stroke="#41f9b7" d="M2807 1095l-5 39l34 24l5-39z"/>
<path fill="#42df9e" stroke="#42df9e" d="M2519 1211l-5 31l34 30l5-31zM2564 1178l-5 32l34 30l5-32z"/>
<path fill="#43cc8b" stroke="#43cc8b" d="M1995 1277l-11 46l51-26l11-48z"/>
<path fill="#43ffbc" stroke="#43ffbc" d="M2920 1084l-5 41l34 23l6-41zM2960 1064l-5 43l34 22l5-43zM3034 1063l-6 44l34 21l6-44zM3255 1035l-6 51l35 19l5-52zM3329 1016l-6 55l34 18l6-55zM3436 1013l-5 58l34 19l6-58zM3544 1014l-5 62l34 22l5-63zM3618 990l-5 67l34 23l5-68zM3760 999l-5 75l34 19l5-74zM3902 991l-5 83l34 20l5-84z"/>
<path fill="#44ac6c" stroke="#44ac6c" d="M1956 982l-11 48l74-86l11-51z"/>
<path fill="#44e6a2" stroke="#44e6a2" d="M2609 1142l-5 34l34 29l5-33zM2649 1137l-6 35l35 28l5-35z"/>
<path fill="#45bf7d" stroke="#45bf7d" d="M1970 1162l-10 47l62-51l11-48z"/>
<path fill="#45d28f" stroke="#45d28f" d="M2024 1344l-10 46l45-14l11-47zM2059 1376l-11 46l43-5l11-47z"/>
<path fill="#46eca7" stroke="#46eca7" d="M2688 1130l-5 35l34 28l6-36z"/>
<path fill="#47d993" stroke="#47d993" d="M2096 1394l-11 46l37-1l11-47zM2133 1392l-11 47l37 7l11-48zM2176 1374l-11 48l34 15l11-48zM2215 1364l-11 49l34 13l11-49zM2255 1352l-6 25l34 21l6-25zM2300 1321l-6 26l34 27l6-26zM2350 1268l-11 53l34 31l11-55zM2395 1242l-5 28l34 30l5-29zM2440 1213l-5 30l34 29l5-30z"/>
<path fill="#49df97" stroke="#49df97" d="M2485 1182l-5 31l34 29l5-31zM2525 1180l-6 31l34 30l6-31zM2570 1146l-6 32l34 30l6-32z"/>
<path fill="#49f9af" stroke="#49f9af" d="M2847 1079l-6 40l34 23l6-40z"/>
<path fill="#4aac66" stroke="#4aac66" d="M1962 959l-6 23l74-89l6-26z"/>
<path fill="#4acc84" stroke="#4acc84" d="M2000 1254l-5 23l51-28l6-24z"/>
<path fill="#4bffb3" stroke="#4bffb3" d="M2886 1061l-5 41l34 23l5-41zM3000 1041l-6 45l34 21l6-44zM3073 1037l-5 47l34 20l5-47zM3147 1028l-5 49l34 20l5-49zM3221 1016l-6 51l34 19l6-51zM3294 999l-5 54l34 18l6-55zM3402 995l-5 57l34 19l5-58zM3510 992l-5 62l34 22l5-62zM3726 979l-6 74l35 21l5-75zM3868 972l-5 83l34 19l5-83z"/>
<path fill="#4cbf77" stroke="#4cbf77" d="M1981 1115l-5 24l-6 23l63-52l11-50z"/>
<path fill="#4cd288" stroke="#4cd288" d="M2035 1297l-11 47l46-15l11-48zM2070 1329l-11 47l43-6l11-48z"/>
<path fill="#4eec9f" stroke="#4eec9f" d="M2654 1102l-5 35l34 28l5-35zM2694 1094l-6 36l35 27l5-36z"/>
<path fill="#4fd98c" stroke="#4fd98c" d="M2107 1346l-11 48l37-2l11-48zM2144 1344l-11 48l37 6l11-48zM2181 1350l-5 24l34 15l5-25zM2221 1339l-6 25l34 13l6-25zM2266 1301l-11 51l34 21l11-52zM2311 1269l-11 52l34 27l11-53zM2356 1240l-6 28l34 29l6-27zM2401 1213l-6 29l34 29l6-28zM2446 1184l-6 29l34 29l6-29z"/>
<path fill="#50ac61" stroke="#50ac61" d="M1973 910l-11 49l74-92l10-51z"/>
<path fill="#50f2a3" stroke="#50f2a3" d="M2733 1084l-5 37l34 26l6-38z"/>
<path fill="#51cc7e" stroke="#51cc7e" d="M2011 1206l-11 48l52-29l10-49z"/>
<path fill="#51df90" stroke="#51df90" d="M2530 1149l-5 31l34 30l5-32z"/>
<path fill="#52bf70" stroke="#52bf70" d="M1987 1091l-6 24l63-55l5-25z"/>
<path fill="#52f9a7" stroke="#52f9a7" d="M2773 1071l-5 38l34 25l5-39zM2813 1056l-6 39l34 24l6-40z"/>
<path fill="#53d281" stroke="#53d281" d="M2046 1249l-11 48l46-16l11-49z"/>
<path fill="#53e693" stroke="#53e693" d="M2575 1113l-5 33l34 30l5-34zM2615 1108l-6 34l34 30l6-35z"/>
<path fill="#54ffab" stroke="#54ffab" d="M2926 1042l-6 42l35 23l5-43zM2965 1020l-5 44l34 22l6-45zM3039 1016l-5 47l34 21l5-47zM3113 1009l-6 48l35 20l5-49zM3187 997l-6 51l34 19l6-51zM3368 977l-5 57l34 18l5-57zM3476 971l-5 61l34 22l5-62zM3584 969l-6 66l35 22l5-67zM3692 960l-6 73l34 20l6-74zM3834 955l-6 81l35 19l5-83zM4010 952l-5 94l34 17l5-95z"/>
<path fill="#56ac5b" stroke="#56ac5b" d="M1978 886l-5 24l73-94l6-26z"/>
<path fill="#56d985" stroke="#56d985" d="M2081 1281l-11 48l43-7l10-48zM2113 1322l-6 24l37-2l5-24zM2149 1320l-5 24l37 6l5-25zM2192 1301l-11 49l34 14l11-50zM2231 1289l-10 50l34 13l11-51zM2271 1275l-5 26l34 20l5-26zM2316 1242l-5 27l34 26l5-27zM2361 1213l-5 27l34 30l5-28zM2406 1184l-5 29l34 30l5-30z"/>
<path fill="#58a652" stroke="#58a652" d="M1989 837l-6 24l74-98l6-26z"/>
<path fill="#58cc77" stroke="#58cc77" d="M2022 1158l-11 48l51-30l11-49z"/>
<path fill="#58df88" stroke="#58df88" d="M2451 1154l-5 30l34 29l5-31zM2491 1152l-6 30l34 29l6-31zM2536 1117l-6 32l34 29l6-32z"/>
<path fill="#59bf6a" stroke="#59bf6a" d="M1998 1042l-11 49l62-56l11-51z"/>
<path fill="#5ad27a" stroke="#5ad27a" d="M2052 1225l-6 24l46-17l5-24z"/>
<path fill="#5bac55" stroke="#5bac55" d="M1983 861l-5 25l74-96l5-27z"/>
<path fill="#5be68c" stroke="#5be68c" d="M2620 1074l-5 34l34 29l5-35z"/>
<path fill="#5cffa2" stroke="#5cffa2" d="M2852 1038l-5 41l34 23l5-41zM2892 1019l-6 42l34 23l6-42zM3005 995l-5 46l34 22l5-47zM3079 989l-6 48l34 20l6-48zM3152 978l-5 50l34 20l6-51zM3260 981l-5 54l34 18l5-54zM3334 960l-5 56l34 18l5-57zM3442 952l-6 61l35 19l5-61zM3550 947l-6 67l34 21l6-66zM3658 939l-6 73l34 21l6-73zM3800 938l-6 81l34 17l6-81zM3976 935l-6 93l35 18l5-94z"/>
<path fill="#5dd97e" stroke="#5dd97e" d="M2086 1257l-5 24l42-7l6-25zM2123 1274l-10 48l36-2l11-49zM2160 1271l-11 49l37 5l11-49zM2197 1276l-5 25l34 13l5-25zM2237 1264l-6 25l35 12l5-26zM2276 1249l-5 26l34 20l6-26zM2321 1215l-5 27l34 26l6-28zM2366 1184l-5 29l34 29l6-29zM2411 1155l-5 29l34 29l6-29z"/>
<path fill="#5dec8f" stroke="#5dec8f" d="M2660 1067l-6 35l34 28l6-36z"/>
<path fill="#5ea64d" stroke="#5ea64d" d="M1994 812l-5 25l74-100l5-27z"/>
<path fill="#5fbf64" stroke="#5fbf64" d="M2003 1018l-5 24l62-58l5-25z"/>
<path fill="#5fcc70" stroke="#5fcc70" d="M2028 1134l-6 24l51-31l6-25z"/>
<path fill="#60df81" stroke="#60df81" d="M2456 1124l-5 30l34 28l6-30zM2496 1121l-5 31l34 28l5-31z"/>
<path fill="#60f293" stroke="#60f293" d="M2699 1058l-5 36l34 27l5-37zM2739 1046l-6 38l35 25l5-38z"/>
<path fill="#62a548" stroke="#62a548" d="M2000 787l-6 25l74-102l5-26z"/>
<path fill="#62d273" stroke="#62d273" d="M2062 1176l-10 49l45-17l11-50z"/>
<path fill="#62f996" stroke="#62f996" d="M2778 1032l-5 39l34 24l6-39z"/>
<path fill="#63e684" stroke="#63e684" d="M2541 1084l-5 33l34 29l5-33zM2580 1079l-5 34l34 29l6-34z"/>
<path fill="#64d976" stroke="#64d976" d="M2097 1208l-11 49l43-8l11-50zM2129 1249l-6 25l37-3l6-25zM2166 1246l-6 25l37 5l6-25zM2208 1225l-11 51l34 13l11-51zM2282 1223l-6 26l35 20l5-27zM2327 1188l-6 27l35 25l5-27zM2372 1156l-6 28l35 29l5-29z"/>
<path fill="#65cc69" stroke="#65cc69" d="M2038 1085l-10 49l51-32l11-51z"/>
<path fill="#65ec88" stroke="#65ec88" d="M2665 1031l-5 36l34 27l5-36z"/>
<path fill="#65ff9a" stroke="#65ff9a" d="M2818 1015l-5 41l34 23l5-41zM2858 996l-6 42l34 23l6-42zM2931 998l-5 44l34 22l5-44zM3045 969l-6 47l34 21l6-48zM3118 959l-5 50l34 19l5-50zM3226 963l-5 53l34 19l5-54zM3300 942l-6 57l35 17l5-56zM3516 926l-6 66l34 22l6-67zM3765 919l-5 80l34 20l6-81zM3942 918l-6 92l34 18l6-93z"/>
<path fill="#66bf5d" stroke="#66bf5d" d="M2014 969l-11 49l62-59l11-52z"/>
<path fill="#67a443" stroke="#67a443" d="M2010 737l-10 50l73-103l11-55z"/>
<path fill="#67df7a" stroke="#67df7a" d="M2242 1238l-5 26l34 11l5-26zM2417 1126l-6 29l35 29l5-30zM2501 1089l-5 32l34 28l6-32z"/>
<path fill="#689d3c" stroke="#689d3c" d="M2016 712l-6 25l74-108l6-27z"/>
<path fill="#68f28b" stroke="#68f28b" d="M2705 1020l-6 38l34 26l6-38z"/>
<path fill="#69d26c" stroke="#69d26c" d="M2068 1152l-6 24l46-18l5-25z"/>
<path fill="#6ae67d" stroke="#6ae67d" d="M2586 1045l-6 34l35 29l5-34z"/>
<path fill="#6bf98e" stroke="#6bf98e" d="M2744 1008l-5 38l34 25l5-39zM2784 992l-6 40l35 24l5-41z"/>
<path fill="#6c9d38" stroke="#6c9d38" d="M2021 686l-5 26l74-110l5-27z"/>
<path fill="#6cbf57" stroke="#6cbf57" d="M2019 944l-5 25l62-62l6-27z"/>
<path fill="#6ccc63" stroke="#6ccc63" d="M2044 1060l-6 25l52-34l5-26z"/>
<path fill="#6cd96f" stroke="#6cd96f" d="M2102 1183l-5 25l43-9l5-25zM2140 1199l-11 50l37-3l11-51zM2171 1221l-5 25l37 5l5-26zM2213 1199l-5 26l34 13l6-26zM2287 1196l-5 27l34 19l5-27zM2332 1160l-5 28l34 25l5-29zM2377 1127l-5 29l34 28l5-29z"/>
<path fill="#6dec80" stroke="#6dec80" d="M2625 1039l-5 35l34 28l6-35z"/>
<path fill="#6eb84f" stroke="#6eb84f" d="M2025 918l-6 26l63-64l5-26z"/>
<path fill="#6eff92" stroke="#6eff92" d="M2897 975l-5 44l34 23l5-44zM2971 974l-6 46l35 21l5-46zM3192 944l-5 53l34 19l5-53zM3266 925l-6 56l34 18l6-57zM3408 934l-6 61l34 18l6-61zM3623 918l-5 72l34 22l6-73zM3731 900l-5 79l34 20l5-80zM3908 900l-6 91l34 19l6-92z"/>
<path fill="#6fdf72" stroke="#6fdf72" d="M2253 1185l-11 53l34 11l11-53zM2293 1169l-6 27l34 19l6-27zM2422 1096l-5 30l34 28l5-30zM2462 1093l-6 31l35 28l5-31z"/>
<path fill="#708722" stroke="#708722" d="M2048 561l-5 24l74-119l5-26z"/>
<path fill="#70d265" stroke="#70d265" d="M2079 1102l-11 50l45-19l11-52z"/>
<path fill="#71952d" stroke="#71952d" d="M2038 610l-6 25l74-115l5-27z"/>
<path fill="#719c33" stroke="#719c33" d="M2032 635l-11 51l74-111l11-55z"/>
<path fill="#72e675" stroke="#72e675" d="M2507 1057l-6 32l35 28l5-33zM2546 1051l-5 33l34 29l5-34z"/>
<path fill="#73b74a" stroke="#73b74a" d="M2036 867l-11 51l62-64l11-54z"/>
<path fill="#73cc5c" stroke="#73cc5c" d="M2049 1035l-5 25l51-35l5-26z"/>
<path fill="#73d968" stroke="#73d968" d="M2108 1158l-6 25l43-9l5-26zM2145 1174l-5 25l37-4l5-25zM2182 1170l-11 51l37 4l11-51zM2338 1132l-6 28l34 24l6-28zM2383 1098l-6 29l34 28l6-29z"/>
<path fill="#759429" stroke="#759429" d="M2043 585l-5 25l73-117l6-27z"/>
<path fill="#75ec78" stroke="#75ec78" d="M2591 1010l-5 35l34 29l5-35zM2631 1003l-6 36l35 28l5-36z"/>
<path fill="#76df6b" stroke="#76df6b" d="M2219 1174l-6 25l35 13l5-27zM2258 1159l-5 26l34 11l6-27zM2298 1142l-5 27l34 19l5-28zM2428 1066l-6 30l34 28l6-31zM2467 1062l-5 31l34 28l5-32z"/>
<path fill="#76ff89" stroke="#76ff89" d="M2823 974l-5 41l34 23l6-42zM2863 954l-5 42l34 23l5-44zM2937 953l-6 45l34 22l6-46zM3010 948l-5 47l34 21l6-47zM3084 939l-5 50l34 20l5-50zM3158 925l-6 53l35 19l5-53zM3374 917l-6 60l34 18l6-61zM3481 906l-5 65l34 21l6-66zM3589 898l-5 71l34 21l5-72zM3873 883l-5 89l34 19l6-91z"/>
<path fill="#77d25e" stroke="#77d25e" d="M2084 1076l-5 26l45-21l6-26z"/>
<path fill="#78b644" stroke="#78b644" d="M2041 842l-5 25l62-67l5-27z"/>
<path fill="#78f27b" stroke="#78f27b" d="M2670 993l-5 38l34 27l6-38zM2710 982l-5 38l34 26l5-38z"/>
<path fill="#79cb56" stroke="#79cb56" d="M2060 984l-11 51l51-36l11-52z"/>
<path fill="#7ad961" stroke="#7ad961" d="M2119 1107l-11 51l42-10l11-52zM2156 1122l-11 52l37-4l11-52z"/>
<path fill="#7ae66e" stroke="#7ae66e" d="M2512 1024l-5 33l34 27l5-33zM2552 1018l-6 33l34 28l6-34z"/>
<path fill="#7cf97e" stroke="#7cf97e" d="M2750 968l-6 40l34 24l6-40z"/>
<path fill="#7dd158" stroke="#7dd158" d="M2090 1051l-6 25l46-21l5-26z"/>
<path fill="#7eb63f" stroke="#7eb63f" d="M2046 816l-5 26l62-69l6-27z"/>
<path fill="#7edf64" stroke="#7edf64" d="M2187 1144l-5 26l37 4l5-27zM2224 1147l-5 27l34 11l5-26zM2264 1132l-6 27l35 10l5-27zM2303 1114l-5 28l34 18l6-28zM2343 1104l-5 28l34 24l5-29zM2388 1069l-5 29l34 28l5-30zM2433 1035l-5 31l34 27l5-31z"/>
<path fill="#7fca50" stroke="#7fca50" d="M2065 959l-5 25l51-37l6-27z"/>
<path fill="#7fff81" stroke="#7fff81" d="M2789 951l-5 41l34 23l5-41zM2903 931l-6 44l34 23l6-45zM2976 927l-5 47l34 21l5-47zM3050 919l-5 50l34 20l5-50zM3124 907l-6 52l34 19l6-53zM3232 907l-6 56l34 18l6-56zM3339 900l-5 60l34 17l6-60zM3447 888l-5 64l34 19l5-65zM3555 877l-5 70l34 22l5-71zM3697 881l-5 79l34 19l5-79zM3839 866l-5 89l34 17l5-89z"/>
<path fill="#81d85b" stroke="#81d85b" d="M2124 1081l-5 26l42-11l6-26zM2161 1096l-5 26l37-4l5-27z"/>
<path fill="#82e666" stroke="#82e666" d="M2473 1030l-6 32l34 27l6-32z"/>
<path fill="#83b539" stroke="#83b539" d="M2052 790l-6 26l63-70l5-28z"/>
<path fill="#83d152" stroke="#83d152" d="M2100 999l-10 52l45-22l11-53z"/>
<path fill="#84de5d" stroke="#84de5d" d="M2193 1118l-6 26l37 3l6-26zM2235 1094l-11 53l34 12l11-54zM2269 1105l-5 27l34 10l5-28zM2309 1086l-6 28l35 18l5-28zM2348 1075l-5 29l34 23l6-29zM2393 1039l-5 30l34 27l6-30z"/>
<path fill="#85c94a" stroke="#85c94a" d="M2071 933l-6 26l52-39l5-27z"/>
<path fill="#85ec69" stroke="#85ec69" d="M2557 983l-5 35l34 27l5-35zM2597 975l-6 35l34 29l6-36z"/>
<path fill="#87c242" stroke="#87c242" d="M2076 907l-5 26l51-40l5-27z"/>
<path fill="#87d754" stroke="#87d754" d="M2130 1055l-6 26l43-11l5-27zM2167 1070l-6 26l37-5l6-26z"/>
<path fill="#87ff78" stroke="#87ff78" d="M2829 932l-6 42l35 22l5-42zM2942 906l-5 47l34 21l5-47zM3016 899l-6 49l35 21l5-50zM3090 888l-6 51l34 20l6-52zM3197 889l-5 55l34 19l6-56zM3305 883l-5 59l34 18l5-60zM3413 871l-5 63l34 18l5-64zM3521 857l-5 69l34 21l5-70zM3663 862l-5 77l34 21l5-79zM3805 850l-5 88l34 17l5-89zM4015 848l-5 104l34 16l6-105z"/>
<path fill="#88e45f" stroke="#88e45f" d="M2478 998l-5 32l34 27l5-33zM2518 991l-6 33l34 27l6-33z"/>
<path fill="#89b434" stroke="#89b434" d="M2063 737l-11 53l62-72l11-56z"/>
<path fill="#89d04c" stroke="#89d04c" d="M2106 973l-6 26l46-23l5-27z"/>
<path fill="#89f26b" stroke="#89f26b" d="M2636 966l-5 37l34 28l5-38zM2676 956l-6 37l35 27l5-38z"/>
<path fill="#8bdd56" stroke="#8bdd56" d="M2204 1065l-11 53l37 3l11-54zM2241 1067l-6 27l34 11l6-28zM2275 1077l-6 28l34 9l6-28zM2314 1058l-5 28l34 18l5-29zM2354 1046l-6 29l35 23l5-29zM2399 1009l-6 30l35 27l5-31zM2438 1004l-5 31l34 27l6-32z"/>
<path fill="#8cc13d" stroke="#8cc13d" d="M2087 854l-11 53l51-41l11-55z"/>
<path fill="#8ceb62" stroke="#8ceb62" d="M2602 939l-5 36l34 28l5-37z"/>
<path fill="#8cf96e" stroke="#8cf96e" d="M2715 943l-5 39l34 26l6-40zM2755 928l-5 40l34 24l5-41z"/>
<path fill="#8dd64e" stroke="#8dd64e" d="M2140 1003l-10 52l42-12l11-53zM2172 1043l-5 27l37-5l5-27z"/>
<path fill="#8eb32f" stroke="#8eb32f" d="M2068 710l-5 27l62-75l6-28z"/>
<path fill="#8fcf46" stroke="#8fcf46" d="M2111 947l-5 26l45-24l6-27z"/>
<path fill="#8fe359" stroke="#8fe359" d="M2483 965l-5 33l34 26l6-33zM2523 957l-5 34l34 27l5-35z"/>
<path fill="#90f164" stroke="#90f164" d="M2642 929l-6 37l34 27l6-37z"/>
<path fill="#90ff70" stroke="#90ff70" d="M2795 909l-6 42l34 23l6-42zM2868 909l-5 45l34 21l6-44zM2908 885l-5 46l34 22l5-47zM2982 879l-6 48l34 21l6-49zM3055 869l-5 50l34 20l6-51zM3163 871l-5 54l34 19l5-55zM3271 866l-5 59l34 17l5-59zM3379 854l-5 63l34 17l5-63zM3629 842l-6 76l35 21l5-77zM3771 833l-6 86l35 19l5-88zM3981 833l-5 102l34 17l5-104z"/>
<path fill="#91dc50" stroke="#91dc50" d="M2209 1038l-5 27l37 2l5-27zM2246 1040l-5 27l34 10l5-28zM2320 1030l-6 28l34 17l6-29zM2359 1017l-5 29l34 23l5-30zM2404 978l-5 31l34 26l5-31z"/>
<path fill="#92c037" stroke="#92c037" d="M2093 827l-6 27l51-43l6-28z"/>
<path fill="#93ab23" stroke="#93ab23" d="M2079 657l-6 27l63-79l5-28z"/>
<path fill="#93b229" stroke="#93b229" d="M2073 684l-5 26l63-76l5-29z"/>
<path fill="#93ea5b" stroke="#93ea5b" d="M2563 949l-6 34l34 27l6-35z"/>
<path fill="#94d548" stroke="#94d548" d="M2146 976l-6 27l43-13l5-28zM2183 990l-11 53l37-5l11-55z"/>
<path fill="#94f866" stroke="#94f866" d="M2681 917l-5 39l34 26l5-39zM2721 903l-6 40l35 25l5-40z"/>
<path fill="#95ce40" stroke="#95ce40" d="M2117 920l-6 27l46-25l5-28z"/>
<path fill="#96e252" stroke="#96e252" d="M2280 1049l-5 28l34 9l5-28zM2444 972l-6 32l35 26l5-32z"/>
<path fill="#97fe69" stroke="#97fe69" d="M2834 888l-5 44l34 22l5-45zM2948 859l-6 47l34 21l6-48zM3129 853l-5 54l34 18l5-54zM3237 849l-5 58l34 18l5-59zM3345 838l-6 62l35 17l5-63zM3487 838l-6 68l35 20l5-69zM3595 822l-6 76l34 20l6-76zM3737 815l-6 85l34 19l6-86zM3947 817l-5 101l34 17l5-102z"/>
<path fill="#98bf31" stroke="#98bf31" d="M2098 800l-5 27l51-44l5-28z"/>
<path fill="#98db49" stroke="#98db49" d="M2215 1011l-6 27l37 2l5-28zM2251 1012l-5 28l34 9l6-28zM2365 987l-6 30l34 22l6-30z"/>
<path fill="#99ab1e" stroke="#99ab1e" d="M2084 629l-5 28l62-80l6-29z"/>
<path fill="#9ad441" stroke="#9ad441" d="M2151 949l-5 27l42-14l6-27zM2188 962l-5 28l37-7l5-27z"/>
<path fill="#9ae954" stroke="#9ae954" d="M2528 923l-5 34l34 26l6-34zM2568 913l-5 36l34 26l5-36z"/>
<path fill="#9bcd3a" stroke="#9bcd3a" d="M2122 893l-5 27l45-26l6-28z"/>
<path fill="#9ce14b" stroke="#9ce14b" d="M2291 993l-11 56l34 9l11-57zM2325 1001l-5 29l34 16l5-29zM2410 947l-6 31l34 26l6-32zM2449 940l-5 32l34 26l5-33zM2489 932l-6 33l35 26l5-34z"/>
<path fill="#9dbf2b" stroke="#9dbf2b" d="M2103 773l-5 27l51-45l6-29z"/>
<path fill="#9eaa19" stroke="#9eaa19" d="M2090 602l-6 27l63-81l5-29z"/>
<path fill="#9eda43" stroke="#9eda43" d="M2220 983l-5 28l36 1l6-28z"/>
<path fill="#9eef56" stroke="#9eef56" d="M2608 903l-6 36l34 27l6-37zM2647 891l-5 38l34 27l5-39z"/>
<path fill="#9ffd61" stroke="#9ffd61" d="M2760 886l-5 42l34 23l6-42zM2800 866l-5 43l34 23l5-44zM2874 864l-6 45l35 22l5-46zM3021 849l-5 50l34 20l5-50zM3095 835l-5 53l34 19l5-54zM3203 832l-6 57l35 18l5-58zM3311 822l-6 61l34 17l6-62zM3453 820l-6 68l34 18l6-68zM3561 803l-6 74l34 21l6-76zM3703 797l-6 84l34 19l6-85zM3913 801l-5 99l34 18l5-101z"/>
<path fill="#a0d33b" stroke="#a0d33b" d="M2157 922l-6 27l43-14l5-28z"/>
<path fill="#a2cc33" stroke="#a2cc33" d="M2127 866l-5 27l46-27l5-28z"/>
<path fill="#a2f558" stroke="#a2f558" d="M2687 878l-6 39l34 26l6-40zM2726 862l-5 41l34 25l5-42z"/>
<path fill="#a3a913" stroke="#a3a913" d="M2095 575l-5 27l62-83l6-29z"/>
<path fill="#a3be25" stroke="#a3be25" d="M2109 746l-6 27l52-47l5-28z"/>
<path fill="#a3e044" stroke="#a3e044" d="M2257 984l-6 28l35 9l5-28zM2296 964l-5 29l34 8l6-29zM2331 972l-6 29l34 16l6-30zM2370 957l-5 30l34 22l5-31zM2455 907l-6 33l34 25l6-33z"/>
<path fill="#a5d93c" stroke="#a5d93c" d="M2194 935l-6 27l37-6l6-28zM2225 956l-5 27l37 1l5-28z"/>
<path fill="#a69504" stroke="#a69504" d="M2122 440l-5 26l62-92l6-28z"/>
<path fill="#a6d235" stroke="#a6d235" d="M2162 894l-5 28l42-15l6-28z"/>
<path fill="#a6fc5a" stroke="#a6fc5a" d="M2840 843l-6 45l34 21l6-45zM2913 838l-5 47l34 21l6-47zM2987 829l-5 50l34 20l5-50zM3061 816l-6 53l35 19l5-53zM3169 814l-6 57l34 18l6-57zM3277 805l-6 61l34 17l6-61zM3419 804l-6 67l34 17l6-68zM3879 785l-6 98l35 17l5-99z"/>
<path fill="#a7e746" stroke="#a7e746" d="M2494 898l-5 34l34 25l5-34zM2534 888l-6 35l35 26l5-36z"/>
<path fill="#a8a80e" stroke="#a8a80e" d="M2101 548l-6 27l63-85l5-29z"/>
<path fill="#a8cb2d" stroke="#a8cb2d" d="M2138 811l-11 55l46-28l11-57z"/>
<path fill="#a9bd20" stroke="#a9bd20" d="M2114 718l-5 28l51-48l5-29z"/>
<path fill="#aadf3e" stroke="#aadf3e" d="M2262 956l-5 28l34 9l5-29zM2302 935l-6 29l35 8l5-30zM2336 942l-5 30l34 15l5-30zM2376 927l-6 30l34 21l6-31zM2415 916l-5 31l34 25l5-32z"/>
<path fill="#abd836" stroke="#abd836" d="M2199 907l-5 28l37-7l5-29zM2231 928l-6 28l37 0l6-28z"/>
<path fill="#aca104" stroke="#aca104" d="M2117 466l-11 54l63-88l10-58z"/>
<path fill="#aced48" stroke="#aced48" d="M2573 877l-5 36l34 26l6-36zM2613 865l-5 38l34 26l5-38z"/>
<path fill="#ada709" stroke="#ada709" d="M2106 520l-5 28l62-87l6-29z"/>
<path fill="#add12e" stroke="#add12e" d="M2168 866l-6 28l43-15l5-29z"/>
<path fill="#aeca27" stroke="#aeca27" d="M2144 783l-6 28l46-30l5-29z"/>
<path fill="#aee63f" stroke="#aee63f" d="M2500 864l-6 34l34 25l6-35z"/>
<path fill="#aefa52" stroke="#aefa52" d="M2766 844l-6 42l35 23l5-43zM2805 822l-5 44l34 22l6-45zM2879 818l-5 46l34 21l5-47zM2953 810l-5 49l34 20l5-50zM3027 797l-6 52l34 20l6-53zM3135 797l-6 56l34 18l6-57zM3242 789l-5 60l34 17l6-61zM3384 788l-5 66l34 17l6-67zM3526 784l-5 73l34 20l6-74zM3668 779l-5 83l34 19l6-84zM3845 769l-6 97l34 17l6-98z"/>
<path fill="#afbc1a" stroke="#afbc1a" d="M2120 690l-6 28l51-49l6-29z"/>
<path fill="#b0de37" stroke="#b0de37" d="M2268 928l-6 28l34 8l6-29zM2307 906l-5 29l34 7l5-30zM2341 912l-5 30l34 15l6-30zM2381 896l-5 31l34 20l5-31zM2421 884l-6 32l34 24l6-33z"/>
<path fill="#b0f349" stroke="#b0f349" d="M2653 852l-6 39l34 26l6-39zM2692 837l-5 41l34 25l5-41z"/>
<path fill="#b27804" stroke="#b27804" d="M2185 346l-6 28l52-67l5-29z"/>
<path fill="#b2d72f" stroke="#b2d72f" d="M2205 879l-6 28l37-8l6-28zM2236 899l-5 29l37 0l5-29z"/>
<path fill="#b3d028" stroke="#b3d028" d="M2173 838l-5 28l42-16l6-29z"/>
<path fill="#b3ec40" stroke="#b3ec40" d="M2539 853l-5 35l34 25l5-36zM2579 841l-6 36l35 26l5-38z"/>
<path fill="#b4bb14" stroke="#b4bb14" d="M2125 662l-5 28l51-50l5-30z"/>
<path fill="#b4c921" stroke="#b4c921" d="M2149 755l-5 28l45-31l6-29z"/>
<path fill="#b5e538" stroke="#b5e538" d="M2460 874l-5 33l34 25l5-34z"/>
<path fill="#b5f94b" stroke="#b5f94b" d="M2732 820l-6 42l34 24l6-42zM2845 798l-5 45l34 21l5-46zM2919 789l-6 49l35 21l5-49zM2992 778l-5 51l34 20l6-52zM3100 779l-5 56l34 18l6-56zM3208 772l-5 60l34 17l5-60zM3350 772l-5 66l34 16l5-66zM3492 765l-5 73l34 19l5-73zM3634 760l-5 82l34 20l5-83zM3810 755l-5 95l34 16l6-97z"/>
<path fill="#b7dd30" stroke="#b7dd30" d="M2273 899l-5 29l34 7l5-29zM2386 865l-5 31l34 20l6-32zM2426 851l-5 33l34 23l5-33z"/>
<path fill="#b8d629" stroke="#b8d629" d="M2210 850l-5 29l37-8l5-29z"/>
<path fill="#b8f242" stroke="#b8f242" d="M2618 827l-5 38l34 26l6-39zM2658 813l-5 39l34 26l5-41z"/>
<path fill="#b98203" stroke="#b98203" d="M2179 374l-5 28l51-65l6-30z"/>
<path fill="#b9cf22" stroke="#b9cf22" d="M2178 810l-5 28l43-17l5-29z"/>
<path fill="#baba0e" stroke="#baba0e" d="M2131 634l-6 28l51-52l6-29z"/>
<path fill="#bac81b" stroke="#bac81b" d="M2155 726l-6 29l46-32l5-29z"/>
<path fill="#bce331" stroke="#bce331" d="M2347 882l-6 30l35 15l5-31zM2466 841l-6 33l34 24l6-34zM2505 830l-5 34l34 24l5-35z"/>
<path fill="#bcf843" stroke="#bcf843" d="M2771 801l-5 43l34 22l5-44zM2885 770l-6 48l34 20l6-49zM3066 761l-5 55l34 19l5-56zM3174 756l-5 58l34 18l5-60zM3282 742l-5 63l34 17l5-65zM3316 757l-5 65l34 16l5-66zM3458 749l-5 71l34 18l5-73zM3600 742l-5 80l34 20l5-82zM3776 739l-5 94l34 17l5-95zM4021 733l-6 115l35 15l5-117z"/>
<path fill="#bedc2a" stroke="#bedc2a" d="M2242 871l-6 28l37 0l6-29zM2279 870l-6 29l34 7l6-30z"/>
<path fill="#bf8d03" stroke="#bf8d03" d="M2174 402l-5 30l51-64l5-31z"/>
<path fill="#bf9303" stroke="#bf9303" d="M2169 432l-6 29l51-62l6-31z"/>
<path fill="#bf9903" stroke="#bf9903" d="M2163 461l-5 29l51-61l5-30z"/>
<path fill="#bfa003" stroke="#bfa003" d="M2158 490l-6 29l51-59l6-31z"/>
<path fill="#bfa603" stroke="#bfa603" d="M2152 519l-5 29l51-58l5-30z"/>
<path fill="#bfd522" stroke="#bfd522" d="M2216 821l-6 29l37-8l5-29z"/>
<path fill="#c0b908" stroke="#c0b908" d="M2136 605l-5 29l51-53l5-30z"/>
<path fill="#c0c715" stroke="#c0c715" d="M2160 698l-5 28l45-32l5-30z"/>
<path fill="#c0ce1b" stroke="#c0ce1b" d="M2184 781l-6 29l43-18l5-29z"/>
<path fill="#c1ea32" stroke="#c1ea32" d="M2545 817l-6 36l34 24l6-36zM2584 803l-5 38l34 24l5-38z"/>
<path fill="#c3e22a" stroke="#c3e22a" d="M2313 876l-6 30l34 6l6-30zM2352 851l-5 31l34 14l5-31zM2392 833l-6 32l35 19l5-33zM2431 819l-5 32l34 23l6-33zM2471 807l-5 34l34 23l5-34z"/>
<path fill="#c4db23" stroke="#c4db23" d="M2247 842l-5 29l37-1l5-30zM2284 840l-5 30l34 6l5-30z"/>
<path fill="#c4f73c" stroke="#c4f73c" d="M2698 796l-6 41l34 25l6-42zM2737 778l-5 42l34 24l5-43zM2811 777l-6 45l35 21l5-45zM2958 759l-5 51l34 19l5-51zM3032 743l-5 54l34 19l5-55zM3140 739l-5 58l34 17l5-58zM3248 726l-6 63l35 16l5-63zM3424 733l-5 71l34 16l5-71zM3566 724l-5 79l34 19l5-80zM3742 722l-5 93l34 18l5-94zM3987 719l-6 114l34 15l6-115z"/>
<path fill="#c5d41c" stroke="#c5d41c" d="M2221 792l-5 29l36-8l6-30z"/>
<path fill="#c66403" stroke="#c66403" d="M2236 278l-5 29l45-49l5-30z"/>
<path fill="#c66a03" stroke="#c66a03" d="M2231 307l-6 30l46-48l5-31z"/>
<path fill="#c6b203" stroke="#c6b203" d="M2147 548l-6 29l52-56l5-31z"/>
<path fill="#c6b803" stroke="#c6b803" d="M2141 577l-5 28l51-54l6-30z"/>
<path fill="#c6c60e" stroke="#c6c60e" d="M2165 669l-5 29l45-34l6-30z"/>
<path fill="#c6cd15" stroke="#c6cd15" d="M2189 752l-5 29l42-18l6-30z"/>
<path fill="#c6f033" stroke="#c6f033" d="M2624 789l-6 38l35 25l5-39zM2663 773l-5 40l34 24l6-41z"/>
<path fill="#c8e92b" stroke="#c8e92b" d="M2511 794l-6 36l34 23l6-36zM2550 780l-5 37l34 24l5-38z"/>
<path fill="#cae123" stroke="#cae123" d="M2318 846l-5 30l34 6l5-31zM2358 820l-6 31l34 14l6-32z"/>
<path fill="#cbda1c" stroke="#cbda1c" d="M2252 813l-5 29l37-2l5-29z"/>
<path fill="#cbf634" stroke="#cbf634" d="M2777 756l-6 45l34 21l6-45zM2850 751l-5 47l34 20l6-48zM2924 739l-5 50l34 21l5-51zM2998 725l-6 53l35 19l5-54zM3106 722l-6 57l35 18l5-58zM3214 710l-6 62l34 17l6-63zM3390 718l-6 70l35 16l5-71zM3532 706l-6 78l35 19l5-79zM3708 706l-5 91l34 18l5-93zM3953 706l-6 111l34 16l6-114z"/>
<path fill="#cc7b02" stroke="#cc7b02" d="M2225 337l-5 31l45-47l6-32z"/>
<path fill="#cc8202" stroke="#cc8202" d="M2220 368l-6 31l46-46l5-32z"/>
<path fill="#cc8902" stroke="#cc8902" d="M2214 399l-5 30l45-44l6-32z"/>
<path fill="#cc8f02" stroke="#cc8f02" d="M2209 429l-6 31l46-43l5-32z"/>
<path fill="#cc9602" stroke="#cc9602" d="M2203 460l-5 30l45-41l6-32z"/>
<path fill="#cc9d02" stroke="#cc9d02" d="M2198 490l-5 31l45-41l5-31z"/>
<path fill="#cca402" stroke="#cca402" d="M2193 521l-6 30l46-39l5-32z"/>
<path fill="#ccb102" stroke="#ccb102" d="M2187 551l-5 30l45-38l6-31z"/>
<path fill="#ccb802" stroke="#ccb802" d="M2182 581l-6 29l46-37l5-30z"/>
<path fill="#ccc508" stroke="#ccc508" d="M2171 640l-6 29l46-35l5-30z"/>
<path fill="#cccc0e" stroke="#cccc0e" d="M2195 723l-6 29l43-19l5-30z"/>
<path fill="#ccd315" stroke="#ccd315" d="M2226 763l-5 29l37-9l5-29z"/>
<path fill="#cdef2c" stroke="#cdef2c" d="M2590 765l-6 38l34 24l6-38z"/>
<path fill="#d0e01d" stroke="#d0e01d" d="M2289 811l-5 29l34 6l6-31zM2324 815l-6 31l34 5l6-31zM2363 789l-5 31l34 13l5-32zM2397 801l-5 32l34 18l5-32zM2437 785l-6 34l35 22l5-34z"/>
<path fill="#d15602" stroke="#d15602" d="M2281 228l-5 30l43-34l5-31z"/>
<path fill="#d25c02" stroke="#d25c02" d="M2276 258l-5 31l42-32l6-33z"/>
<path fill="#d26302" stroke="#d26302" d="M2271 289l-6 32l43-32l5-32z"/>
<path fill="#d2c402" stroke="#d2c402" d="M2176 610l-5 30l45-36l6-31z"/>
<path fill="#d2cb08" stroke="#d2cb08" d="M2200 694l-5 29l42-20l6-30z"/>
<path fill="#d2d20f" stroke="#d2d20f" d="M2232 733l-6 30l37-9l6-30z"/>
<path fill="#d2d915" stroke="#d2d915" d="M2258 783l-6 30l37-2l6-30z"/>
<path fill="#d3f52d" stroke="#d3f52d" d="M2703 754l-5 42l34 24l5-42zM2743 734l-6 44l34 23l6-45zM2816 731l-5 46l34 21l5-47zM2890 721l-5 49l34 19l5-50zM2964 707l-6 52l34 19l6-53zM3072 705l-6 56l34 18l6-57zM3180 695l-6 61l34 16l6-62zM3322 689l-6 68l34 15l6-68zM3356 704l-6 68l34 16l6-70zM3498 689l-6 76l34 19l6-78zM3674 689l-6 90l35 18l5-91zM3918 691l-5 110l34 16l6-111z"/>
<path fill="#d54602" stroke="#d54602" d="M2324 193l-5 31l37-19l5-32z"/>
<path fill="#d5ee25" stroke="#d5ee25" d="M2629 749l-5 40l34 24l5-40z"/>
<path fill="#d6e61d" stroke="#d6e61d" d="M2476 772l-5 35l34 23l6-36zM2516 759l-5 35l34 23l5-37z"/>
<path fill="#d7df16" stroke="#d7df16" d="M2295 781l-6 30l35 4l5-30zM2329 785l-5 30l34 5l5-31zM2403 769l-6 32l34 18l6-34zM2442 752l-5 33l34 22l5-35z"/>
<path fill="#d83402" stroke="#d83402" d="M2398 155l-6 33l35-14l5-33z"/>
<path fill="#d8d80f" stroke="#d8d80f" d="M2263 754l-5 29l37-2l5-31z"/>
<path fill="#d96d02" stroke="#d96d02" d="M2265 321l-5 32l42-30l6-34z"/>
<path fill="#d97c02" stroke="#d97c02" d="M2260 353l-6 32l43-29l5-33z"/>
<path fill="#d98302" stroke="#d98302" d="M2254 385l-5 32l42-29l6-32z"/>
<path fill="#d98a02" stroke="#d98a02" d="M2249 417l-6 32l43-28l5-33z"/>
<path fill="#d99102" stroke="#d99102" d="M2243 449l-5 31l43-26l5-33z"/>
<path fill="#d99f02" stroke="#d99f02" d="M2238 480l-5 32l42-26l6-32z"/>
<path fill="#d9a702" stroke="#d9a702" d="M2233 512l-6 31l43-25l5-32z"/>
<path fill="#d9ae02" stroke="#d9ae02" d="M2227 543l-5 30l42-24l6-31z"/>
<path fill="#d9b502" stroke="#d9b502" d="M2222 573l-6 31l43-23l5-32z"/>
<path fill="#d9bc02" stroke="#d9bc02" d="M2216 604l-5 30l43-22l5-31z"/>
<path fill="#d9c302" stroke="#d9c302" d="M2211 634l-6 30l43-21l6-31z"/>
<path fill="#d9ca02" stroke="#d9ca02" d="M2205 664l-5 30l43-21l5-30z"/>
<path fill="#d9d108" stroke="#d9d108" d="M2237 703l-5 30l37-9l5-31z"/>
<path fill="#da4102" stroke="#da4102" d="M2361 173l-5 32l36-17l6-33z"/>
<path fill="#daf425" stroke="#daf425" d="M2669 731l-6 42l35 23l5-42zM2782 711l-5 45l34 21l5-46zM2856 702l-6 49l35 19l5-49zM2930 688l-6 51l34 20l6-52zM3037 688l-5 55l34 18l6-56zM3145 679l-5 60l34 17l6-61zM3287 675l-5 67l34 15l6-68zM3464 674l-6 75l34 16l6-76zM3640 673l-6 87l34 19l6-90zM3884 677l-5 108l34 16l5-110z"/>
<path fill="#db4802" stroke="#db4802" d="M2356 205l-6 33l37-16l5-34z"/>
<path fill="#dcec1d" stroke="#dcec1d" d="M2556 743l-6 37l34 23l6-38zM2595 727l-5 38l34 24l5-40z"/>
<path fill="#dd5502" stroke="#dd5502" d="M2319 224l-6 33l37-19l6-33z"/>
<path fill="#dde516" stroke="#dde516" d="M2482 737l-6 35l35 22l5-35z"/>
<path fill="#de5b02" stroke="#de5b02" d="M2313 257l-5 32l37-17l5-34z"/>
<path fill="#dede0f" stroke="#dede0f" d="M2300 750l-5 31l34 4l5-31zM2334 754l-5 31l34 4l6-32z"/>
<path fill="#df6202" stroke="#df6202" d="M2308 289l-6 34l37-17l6-34z"/>
<path fill="#df7102" stroke="#df7102" d="M2302 323l-5 33l37-17l5-33z"/>
<path fill="#df7802" stroke="#df7802" d="M2297 356l-6 32l37-15l6-34z"/>
<path fill="#df7f02" stroke="#df7f02" d="M2291 388l-5 33l37-15l5-33z"/>
<path fill="#df8702" stroke="#df8702" d="M2286 421l-5 33l37-15l5-33z"/>
<path fill="#df9502" stroke="#df9502" d="M2281 454l-6 32l37-14l6-33z"/>
<path fill="#df9d02" stroke="#df9d02" d="M2275 486l-5 32l37-14l5-32z"/>
<path fill="#dfa402" stroke="#dfa402" d="M2270 518l-6 31l37-12l6-33z"/>
<path fill="#dfac02" stroke="#dfac02" d="M2264 549l-5 32l37-12l5-32z"/>
<path fill="#dfba02" stroke="#dfba02" d="M2259 581l-5 31l36-12l6-31z"/>
<path fill="#dfc202" stroke="#dfc202" d="M2254 612l-6 31l37-11l5-32z"/>
<path fill="#dfc902" stroke="#dfc902" d="M2248 643l-5 30l37-10l5-31z"/>
<path fill="#dfd002" stroke="#dfd002" d="M2243 673l-6 30l37-10l6-30z"/>
<path fill="#dfd708" stroke="#dfd708" d="M2269 724l-6 30l37-4l6-30z"/>
<path fill="#e04301" stroke="#e04301" d="M2392 188l-5 34l34-13l6-35z"/>
<path fill="#e1f31e" stroke="#e1f31e" d="M2708 712l-5 42l34 24l6-44zM2748 690l-5 44l34 22l5-45zM2822 684l-6 47l34 20l6-49zM2895 671l-5 50l34 18l6-51zM3003 671l-5 54l34 18l5-55zM3111 663l-5 59l34 17l5-60zM3253 660l-5 66l34 16l5-67zM3429 659l-5 74l34 16l6-75zM3606 656l-6 86l34 18l6-87zM3816 651l-6 104l35 14l5-105zM3850 664l-5 105l34 16l5-108z"/>
<path fill="#e25101" stroke="#e25101" d="M2350 238l-5 34l37-16l5-34z"/>
<path fill="#e33001" stroke="#e33001" d="M2432 141l-5 33l34-10l5-35z"/>
<path fill="#e3eb16" stroke="#e3eb16" d="M2521 722l-5 37l34 21l6-37z"/>
<path fill="#e45e01" stroke="#e45e01" d="M2345 272l-6 34l37-15l6-35z"/>
<path fill="#e4e40f" stroke="#e4e40f" d="M2369 757l-6 32l34 12l6-32zM2408 736l-5 33l34 16l5-33zM2448 718l-6 34l34 20l6-35z"/>
<path fill="#e5dd08" stroke="#e5dd08" d="M2306 720l-6 30l34 4l6-32z"/>
<path fill="#e66501" stroke="#e66501" d="M2339 306l-5 33l37-13l5-35z"/>
<path fill="#e66c01" stroke="#e66c01" d="M2334 339l-6 34l37-13l6-34z"/>
<path fill="#e67b01" stroke="#e67b01" d="M2328 373l-5 33l37-12l5-34z"/>
<path fill="#e6b001" stroke="#e6b001" d="M2296 569l-6 31l37-7l6-32z"/>
<path fill="#e6c001" stroke="#e6c001" d="M2290 600l-5 32l37-7l5-32z"/>
<path fill="#e6c701" stroke="#e6c701" d="M2285 632l-5 31l37-6l5-32z"/>
<path fill="#e6cf01" stroke="#e6cf01" d="M2280 663l-6 30l37-5l6-31z"/>
<path fill="#e6d601" stroke="#e6d601" d="M2274 693l-5 31l37-4l5-32z"/>
<path fill="#e84c01" stroke="#e84c01" d="M2387 222l-5 34l34-11l5-36z"/>
<path fill="#e92b01" stroke="#e92b01" d="M2466 129l-5 35l34-6l5-36z"/>
<path fill="#e95301" stroke="#e95301" d="M2382 256l-6 35l34-10l6-36z"/>
<path fill="#e9f116" stroke="#e9f116" d="M2635 709l-6 40l34 24l6-42zM2674 690l-5 41l34 23l5-42zM2788 664l-6 47l34 20l6-47zM2969 654l-5 53l34 18l5-54zM3077 647l-5 58l34 17l5-59zM3219 646l-5 64l34 16l5-66zM3395 645l-5 73l34 15l5-74zM3571 640l-5 84l34 18l6-86zM3782 637l-6 102l34 16l6-104z"/>
<path fill="#eaea0f" stroke="#eaea0f" d="M2561 705l-5 38l34 22l5-38zM2601 687l-6 40l34 22l6-40z"/>
<path fill="#eb3901" stroke="#eb3901" d="M2427 174l-6 35l34-9l6-36z"/>
<path fill="#ebe308" stroke="#ebe308" d="M2340 722l-6 32l35 3l5-32zM2374 725l-5 32l34 12l5-33zM2414 703l-6 33l34 16l6-34zM2487 702l-5 35l34 22l5-37z"/>
<path fill="#ec8701" stroke="#ec8701" d="M2323 406l-5 33l36-11l6-34z"/>
<path fill="#ec8e01" stroke="#ec8e01" d="M2318 439l-6 33l37-10l5-34z"/>
<path fill="#ec9e01" stroke="#ec9e01" d="M2312 472l-5 32l37-9l5-33z"/>
<path fill="#eca601" stroke="#eca601" d="M2307 504l-6 33l37-9l6-33z"/>
<path fill="#ecae01" stroke="#ecae01" d="M2301 537l-5 32l37-8l5-33z"/>
<path fill="#ecd401" stroke="#ecd401" d="M2317 657l-6 31l34 2l6-32z"/>
<path fill="#ecdc01" stroke="#ecdc01" d="M2311 688l-5 32l34 2l5-32z"/>
<path fill="#ed4701" stroke="#ed4701" d="M2421 209l-5 36l34-8l5-37z"/>
<path fill="#ee2400" stroke="#ee2400" d="M2500 122l-5 36l34-3l5-37z"/>
<path fill="#ee4e01" stroke="#ee4e01" d="M2416 245l-6 36l34-8l6-36z"/>
<path fill="#f0f00f" stroke="#f0f00f" d="M2640 668l-5 41l34 22l5-41zM2714 668l-6 44l35 22l5-44zM2861 653l-5 49l34 19l5-50zM2935 636l-5 52l34 19l5-53zM3043 631l-6 57l35 17l5-58zM3185 631l-5 64l34 15l5-64zM3327 619l-5 70l34 15l5-72zM3361 632l-5 72l34 14l5-73zM3537 624l-5 82l34 18l5-84zM3748 622l-6 100l34 17l6-102z"/>
<path fill="#f13a00" stroke="#f13a00" d="M2461 164l-6 36l34-5l6-37z"/>
<path fill="#f16301" stroke="#f16301" d="M2376 291l-5 35l34-9l5-36z"/>
<path fill="#f1e908" stroke="#f1e908" d="M2527 685l-6 37l35 21l5-38zM2566 667l-5 38l34 22l6-40z"/>
<path fill="#f24200" stroke="#f24200" d="M2455 200l-5 37l34-4l5-38z"/>
<path fill="#f26a01" stroke="#f26a01" d="M2371 326l-6 34l34-8l6-35z"/>
<path fill="#f27a01" stroke="#f27a01" d="M2365 360l-5 34l34-7l5-35z"/>
<path fill="#f28201" stroke="#f28201" d="M2360 394l-6 34l35-5l5-36z"/>
<path fill="#f29201" stroke="#f29201" d="M2354 428l-5 34l34-5l6-34z"/>
<path fill="#f29a01" stroke="#f29a01" d="M2349 462l-5 33l34-3l5-35z"/>
<path fill="#f2a201" stroke="#f2a201" d="M2344 495l-6 33l34-2l6-34zM2378 492l-6 34l35-2l5-35z"/>
<path fill="#f2aa01" stroke="#f2aa01" d="M2372 526l-5 33l34 0l6-35z"/>
<path fill="#f2b201" stroke="#f2b201" d="M2338 528l-5 33l34-2l5-33z"/>
<path fill="#f2ba01" stroke="#f2ba01" d="M2333 561l-6 32l35 0l5-34zM2367 559l-5 34l34 0l5-34z"/>
<path fill="#f2c201" stroke="#f2c201" d="M2327 593l-5 32l34 1l6-33zM2362 593l-6 33l34 1l6-34z"/>
<path fill="#f2ca01" stroke="#f2ca01" d="M2322 625l-5 32l34 1l5-32zM2356 626l-5 32l34 2l5-33zM2390 627l-5 33l34 9l5-34z"/>
<path fill="#f2d201" stroke="#f2d201" d="M2351 658l-6 32l34 3l6-33z"/>
<path fill="#f2da01" stroke="#f2da01" d="M2385 660l-6 33l35 10l5-34zM2419 669l-5 34l34 15l5-35zM2459 648l-6 35l34 19l6-36z"/>
<path fill="#f2e201" stroke="#f2e201" d="M2345 690l-5 32l34 3l5-32zM2379 693l-5 32l34 11l6-33zM2453 683l-5 35l34 19l5-35z"/>
<path fill="#f42500" stroke="#f42500" d="M2534 118l-5 37l34 1l6-39zM2569 117l-6 39l34 3l6-40zM2603 119l-6 40l35 3l5-41zM2637 121l-5 41l34 6l5-43zM2671 125l-5 43l34 5l5-44zM2705 129l-5 44l34 6l5-46zM2739 133l-5 46l34 7l6-47zM2774 139l-6 47l34 9l6-49z"/>
<path fill="#f52d00" stroke="#f52d00" d="M2808 146l-6 49l34 9l6-50zM2842 154l-6 50l35 8l5-52zM2876 160l-5 52l34 7l5-54zM2910 165l-5 54l34 7l5-55zM2944 171l-5 55l34 7l5-57z"/>
<path fill="#f63400" stroke="#f63400" d="M2495 158l-6 37l35-1l5-39zM2529 155l-5 39l34 2l5-40zM2563 156l-5 40l34 5l5-42zM2597 159l-5 42l34 5l6-44zM2632 162l-6 44l34 7l6-45zM2666 168l-6 45l34 7l6-47zM2700 173l-6 47l35 8l5-49zM2734 179l-5 49l34 8l5-50zM2978 176l-5 57l34 8l6-59zM3013 182l-6 59l34 6l6-60zM3047 187l-6 60l34 7l6-63zM3081 191l-6 63l35 7l5-66zM3115 195l-5 66l34 6l5-67zM3149 200l-5 67l34 7l5-70zM3183 204l-5 70l34 6l5-72z"/>
<path fill="#f65f00" stroke="#f65f00" d="M2410 281l-5 36l34-7l5-37z"/>
<path fill="#f73c00" stroke="#f73c00" d="M2524 194l-6 39l34 4l6-41zM2768 186l-5 50l34 11l5-52zM2802 195l-5 52l34 11l5-54zM3217 208l-5 72l34 7l6-75zM3252 212l-6 75l34 6l6-78zM3286 215l-6 78l35 5l5-80zM3320 218l-5 80l34 6l5-82zM3354 222l-5 82l34 7l5-86zM3388 225l-5 86l34 6l5-88zM3422 229l-5 88l34 7l6-91zM3457 233l-6 91l34 7l6-94zM3491 237l-6 94l34 7l6-97zM3525 241l-6 97l35 8l5-101z"/>
<path fill="#f84300" stroke="#f84300" d="M2489 195l-5 38l34 0l6-39zM2558 196l-6 41l35 6l5-42zM2592 201l-5 42l34 7l5-44zM2626 206l-5 44l34 8l5-45zM2660 213l-5 45l34 9l5-47zM2836 204l-5 54l34 9l6-55zM2871 212l-6 55l34 8l6-56zM2905 219l-6 56l34 9l6-58zM3559 245l-5 101l34 8l5-105zM3593 249l-5 105l34 9l5-109zM3627 254l-5 109l34 8l5-113zM3661 258l-5 113l34 9l6-118zM3696 262l-6 118l34 8l6-122z"/>
<path fill="#f8ef07" stroke="#f8ef07" d="M2680 647l-6 43l34 22l6-44zM2753 644l-5 46l34 21l6-47zM2827 635l-5 49l34 18l5-49zM2901 619l-6 52l35 17l5-52zM3009 615l-6 56l34 17l6-57zM3117 602l-6 61l34 16l6-62zM3151 617l-6 62l35 16l5-64zM3293 605l-6 70l35 14l5-70zM3503 608l-5 81l34 17l5-82zM3713 608l-5 98l34 16l6-100z"/>
<path fill="#f94b00" stroke="#f94b00" d="M2484 233l-5 38l34 1l5-39zM2518 233l-5 39l34 6l5-41zM2552 237l-5 41l34 8l6-43zM2694 220l-5 47l34 10l6-49zM2729 228l-6 49l34 10l6-51zM2763 236l-6 51l34 12l6-52zM2939 226l-6 58l35 9l5-60zM2973 233l-5 60l34 9l5-61zM3007 241l-5 61l34 9l5-64zM3730 266l-6 122l34 9l6-127zM3764 270l-6 127l35 8l5-131zM3798 274l-5 131l34 9l5-136zM3832 278l-5 136l34 7l5-139zM3866 282l-5 139l34 8l5-143zM3900 286l-5 143l34 8l6-147z"/>
<path fill="#f96d00" stroke="#f96d00" d="M2405 317l-6 35l35-5l5-37z"/>
<path fill="#f97500" stroke="#f97500" d="M2399 352l-5 35l34-4l6-36z"/>
<path fill="#f97e00" stroke="#f97e00" d="M2428 383l-5 36l34 2l5-37z"/>
<path fill="#f98600" stroke="#f98600" d="M2394 387l-5 36l34-4l5-36z"/>
<path fill="#f98e00" stroke="#f98e00" d="M2389 423l-6 34l34-3l6-35zM2423 419l-6 35l35 4l5-37z"/>
<path fill="#f99600" stroke="#f99600" d="M2383 457l-5 35l34-3l5-35zM2417 454l-5 35l34 5l6-36z"/>
<path fill="#f9a700" stroke="#f9a700" d="M2412 489l-5 35l34 6l5-36zM2446 494l-5 36l34 10l5-37z"/>
<path fill="#f9af00" stroke="#f9af00" d="M2407 524l-6 35l34 6l6-35zM2441 530l-6 35l34 11l6-36z"/>
<path fill="#f9b700" stroke="#f9b700" d="M2475 540l-6 36l35 16l5-37z"/>
<path fill="#f9bf00" stroke="#f9bf00" d="M2401 559l-5 34l34 7l5-35zM2435 565l-5 35l34 12l5-36zM2509 555l-5 37l34 18l5-39z"/>
<path fill="#f9c700" stroke="#f9c700" d="M2396 593l-6 34l34 8l6-35zM2430 600l-6 35l35 13l5-36zM2469 576l-5 36l34 17l6-37z"/>
<path fill="#f9cf00" stroke="#f9cf00" d="M2464 612l-5 36l34 18l5-37zM2504 592l-6 37l34 19l6-38z"/>
<path fill="#f9d800" stroke="#f9d800" d="M2424 635l-5 34l34 14l6-35zM2498 629l-5 37l34 19l5-37zM2538 610l-6 38l34 19l6-39z"/>
<path fill="#f9e000" stroke="#f9e000" d="M2532 648l-5 37l34 20l5-38z"/>
<path fill="#f9e800" stroke="#f9e800" d="M2493 666l-6 36l34 20l6-37z"/>
<path fill="#fa5200" stroke="#fa5200" d="M2450 237l-6 36l35-2l5-38zM2587 243l-6 43l34 8l6-44zM2621 250l-6 44l34 10l6-46zM2655 258l-6 46l35 10l5-47zM2797 247l-6 52l35 12l5-53zM3041 247l-5 64l34 9l5-66zM3075 254l-5 66l34 8l6-67zM3110 261l-6 67l34 9l6-70zM3144 267l-6 70l34 9l6-72zM3935 290l-6 147l34 9l6-152zM3969 294l-6 152l35 8l5-156zM4003 298l-5 156l34 8l5-160zM4037 302l-5 160l34 8l5-164z"/>
<path fill="#fc5a00" stroke="#fc5a00" d="M2444 273l-5 37l34-1l6-38zM2479 271l-6 38l34 3l6-40zM2513 272l-6 40l35 7l5-41zM2547 278l-5 41l34 9l5-42zM2689 267l-5 47l34 11l5-48zM2723 277l-5 48l34 12l5-50zM2831 258l-5 53l34 11l5-55zM2865 267l-5 55l34 10l5-57zM2899 275l-5 57l34 10l5-58zM3178 274l-6 72l35 8l5-74zM3212 280l-5 74l34 9l5-76zM3246 287l-5 76l34 8l5-78zM3280 293l-5 78l34 8l6-81z"/>
<path fill="#fd6100" stroke="#fd6100" d="M2581 286l-5 42l34 10l5-44zM2615 294l-5 44l34 11l5-45zM2757 287l-5 50l34 14l5-52zM2933 284l-5 58l34 11l6-60zM2968 293l-6 60l34 11l6-62zM3315 298l-6 81l34 8l6-83zM3349 304l-6 83l34 9l6-85zM3383 311l-6 85l35 9l5-88z"/>
<path fill="#fe6900" stroke="#fe6900" d="M2439 310l-5 37l34 0l5-38zM2473 309l-5 38l34 4l5-39zM2507 312l-5 39l34 8l6-40zM2542 319l-6 40l34 11l6-42zM2649 304l-5 45l34 12l6-47zM2684 314l-6 47l34 12l6-48zM2791 299l-5 52l34 13l6-53zM2826 311l-6 53l34 12l6-54zM3002 302l-6 62l34 10l6-63zM3036 311l-6 63l35 11l5-65zM3417 317l-5 88l34 9l5-90zM3451 324l-5 90l34 9l5-92zM3485 331l-5 92l34 10l5-95z"/>
<path fill="#ff7000" stroke="#ff7000" d="M2468 347l-6 37l35 6l5-39zM2576 328l-6 42l34 11l6-43zM2610 338l-6 43l35 12l5-44zM2718 325l-6 48l34 14l6-50zM2860 322l-6 54l34 12l6-56zM2894 332l-6 56l35 12l5-58zM3070 320l-5 65l34 10l5-67zM3104 328l-5 67l34 11l5-69zM3138 337l-5 69l34 10l5-70zM3519 338l-5 95l34 11l6-98zM3554 346l-6 98l34 11l6-101zM3588 354l-6 101l34 12l6-104z"/>
<path fill="#ff7800" stroke="#ff7800" d="M2434 347l-6 36l34 1l6-37zM2502 351l-5 39l34 9l5-40zM2536 359l-5 40l34 12l5-41zM2644 349l-5 44l34 14l5-46zM2752 337l-6 50l35 15l5-51zM2786 351l-5 51l34 15l5-53zM2928 342l-5 58l34 12l5-59zM3172 346l-5 70l34 11l6-73zM3207 354l-6 73l34 10l6-74zM3622 363l-6 104l35 11l5-107zM3656 371l-5 107l34 12l5-110z"/>
<path fill="#ff8100" stroke="#ff8100" d="M2462 384l-5 37l34 7l6-38zM2497 390l-6 38l34 11l6-40zM2570 370l-5 41l34 13l5-43zM2604 381l-5 43l34 13l6-44zM2678 361l-5 46l34 14l5-48zM2712 373l-5 48l34 15l5-49zM2820 364l-5 53l34 13l5-54zM2962 353l-5 59l34 12l5-60zM2996 364l-5 60l34 13l5-63zM3241 363l-6 74l35 10l5-76zM3275 371l-5 76l34 10l5-78zM3690 380l-5 110l34 12l5-114zM3724 388l-5 114l34 12l5-117z"/>
<path fill="#ff8900" stroke="#ff8900" d="M2531 399l-6 40l34 13l6-41zM2639 393l-6 44l34 15l6-45zM2746 387l-5 49l34 16l6-50zM2854 376l-5 54l34 13l5-55zM3030 374l-5 63l34 12l6-64zM3065 385l-6 64l34 12l6-66zM3309 379l-5 78l34 10l5-80zM3343 387l-5 80l34 11l5-82zM3377 396l-5 82l34 11l6-84zM3758 397l-5 117l34 12l6-121zM3793 405l-6 121l34 12l6-124z"/>
<path fill="#ff9200" stroke="#ff9200" d="M2457 421l-5 37l34 8l5-38zM2491 428l-5 38l34 12l5-39zM2565 411l-6 41l35 14l5-42zM2599 424l-5 42l34 15l5-44zM2673 407l-6 45l34 16l6-47zM2781 402l-6 50l34 16l6-51zM2888 388l-5 55l34 13l6-56zM2923 400l-6 56l34 14l6-58zM3099 395l-6 66l34 12l6-67zM3133 406l-6 67l35 12l5-69zM3412 405l-6 84l34 11l6-86zM3446 414l-6 86l34 11l6-88zM3827 414l-6 124l34 10l6-127zM3861 421l-6 127l35 11l5-130z"/>
<path fill="#ff9a00" stroke="#ff9a00" d="M2452 458l-6 36l34 9l6-37zM2525 439l-5 39l34 14l5-40zM2633 437l-5 44l34 16l5-45zM2707 421l-6 47l35 16l5-48zM2815 417l-6 51l34 15l6-53zM2957 412l-6 58l34 14l6-60zM3167 416l-5 69l34 12l5-70zM3480 423l-6 88l35 12l5-90zM3514 433l-5 90l34 13l5-92zM3895 429l-5 130l34 12l5-134zM3929 437l-5 134l34 11l5-136z"/>
<path fill="#ffa200" stroke="#ffa200" d="M2486 466l-6 37l34 14l6-39zM2559 452l-5 40l34 15l6-41zM2594 466l-6 41l34 16l6-42zM2667 452l-5 45l34 17l5-46zM2741 436l-5 48l34 18l5-50zM2849 430l-6 53l35 14l5-54zM2883 443l-5 54l34 15l5-56zM2991 424l-6 60l35 14l5-61zM3025 437l-5 61l34 13l5-62zM3201 427l-5 70l34 12l5-72zM3235 437l-5 72l34 12l6-74zM3548 444l-5 92l34 14l5-95zM3963 446l-5 136l34 12l6-140zM3998 454l-6 140l34 11l6-143zM4032 462l-6 143l34 11l6-146z"/>
<path fill="#ffab00" stroke="#ffab00" d="M2520 478l-6 39l35 15l5-40zM2554 492l-5 40l34 16l5-41zM2628 481l-6 42l34 18l6-44zM2701 468l-5 46l34 17l6-47zM2775 452l-5 50l34 17l5-51zM2917 456l-5 56l34 14l5-56zM3059 449l-5 62l34 14l5-64zM3270 447l-6 74l34 12l6-76zM3304 457l-6 76l34 12l6-78zM3582 455l-5 95l34 14l5-97zM3616 467l-5 97l34 15l6-101z"/>
<path fill="#ffb300" stroke="#ffb300" d="M2480 503l-5 37l34 15l5-38zM2514 517l-5 38l34 16l6-39zM2588 507l-5 41l34 17l5-42zM2662 497l-6 44l35 18l5-45zM2736 484l-6 47l34 19l6-48zM2809 468l-5 51l34 16l5-52zM2951 470l-5 56l34 16l5-58zM3093 461l-5 64l34 13l5-65zM3127 473l-5 65l34 14l6-67zM3338 467l-6 78l35 12l5-79zM3372 478l-5 79l34 12l5-80zM3651 478l-6 101l34 15l6-104z"/>
<path fill="#ffbc00" stroke="#ffbc00" d="M2549 532l-6 39l34 17l6-40zM2622 523l-5 42l34 19l5-43zM2696 514l-5 45l34 19l5-47zM2770 502l-6 48l34 18l6-49zM2843 483l-5 52l34 16l6-54zM2878 497l-6 54l34 15l6-54zM2985 484l-5 58l34 15l6-59zM3162 485l-6 67l34 14l6-69zM3406 489l-5 80l34 12l5-81zM3685 490l-6 104l34 14l6-106z"/>
<path fill="#ffc400" stroke="#ffc400" d="M2583 548l-6 40l34 19l6-42zM2804 519l-6 49l35 18l5-51zM2912 512l-6 54l34 16l6-56zM3020 498l-6 59l34 15l6-61zM3054 511l-6 61l34 15l6-62zM3196 497l-6 69l35 13l5-70zM3230 509l-5 70l34 13l5-71zM3440 500l-5 81l34 13l5-83zM3474 511l-5 83l34 14l6-85zM3719 502l-6 106l35 14l5-108zM3753 514l-5 108l34 15l5-111z"/>
<path fill="#ffcc00" stroke="#ffcc00" d="M2543 571l-5 39l34 18l5-40zM2617 565l-6 42l35 19l5-42zM2656 541l-5 43l34 19l6-44zM2730 531l-5 47l34 19l5-47zM2838 535l-5 51l34 16l5-51zM2946 526l-6 56l35 16l5-56zM3088 525l-6 62l35 15l5-64zM3264 521l-5 71l34 13l5-72zM3509 523l-6 85l34 16l6-88zM3787 526l-5 111l34 14l5-113z"/>
<path fill="#ffd500" stroke="#ffd500" d="M2577 588l-5 40l34 20l5-41zM2691 559l-6 44l34 20l6-45zM2764 550l-5 47l34 20l5-49zM2872 551l-5 51l34 17l5-53zM2980 542l-5 56l34 17l5-58zM3122 538l-5 64l34 15l5-65zM3298 533l-5 72l34 14l5-74zM3332 545l-5 74l34 13l6-75zM3543 536l-6 88l34 16l6-90zM3821 538l-5 113l34 13l5-116zM3855 548l-5 116l34 13l6-118z"/>
<path fill="#ffdd00" stroke="#ffdd00" d="M2611 607l-5 41l34 20l6-42zM2651 584l-5 42l34 21l5-44zM2725 578l-6 45l34 21l6-47zM2798 568l-5 49l34 18l6-49zM2906 566l-5 53l34 17l5-54zM3014 557l-5 58l34 16l5-59zM3156 552l-5 65l34 14l5-65zM3367 557l-6 75l34 13l6-76zM3577 550l-6 90l35 16l5-92zM3611 564l-5 92l34 17l5-94zM3890 559l-6 118l34 14l6-120z"/>
<path fill="#ffe600" stroke="#ffe600" d="M2572 628l-6 39l35 20l5-39zM2685 603l-5 44l34 21l5-45zM2759 597l-6 47l35 20l5-47zM2833 586l-6 49l34 18l6-51zM2940 582l-5 54l34 18l6-56zM3048 572l-5 59l34 16l5-60zM3190 566l-5 65l34 15l6-67zM3225 579l-6 67l34 14l6-68zM3401 569l-6 76l34 14l6-78zM3435 581l-6 78l35 15l5-80zM3645 579l-5 94l34 16l5-95zM3924 571l-6 120l35 15l5-124zM3958 582l-5 124l34 13l5-125z"/>
<path fill="#ffee00" stroke="#ffee00" d="M2606 648l-5 39l34 22l5-41zM2646 626l-6 42l34 22l6-43zM2719 623l-5 45l34 22l5-46zM2793 617l-5 47l34 20l5-49zM2867 602l-6 51l34 18l6-52zM2975 598l-6 56l34 17l6-56zM3082 587l-5 60l34 16l6-61zM3259 592l-6 68l34 15l6-70zM3469 594l-5 80l34 15l5-81zM3679 594l-5 95l34 17l5-98zM3992 594l-5 125l34 14l5-128zM4026 605l-5 128l34 13l5-130z"/>
</g>
<g transform="scale(.1)" fill="none" stroke="#00000c" stroke-linejoin="round">
<g filter="url(#bq)" stroke-width="12.0">
<path stroke-opacity="0.36" d="M2439 310l-11 73M2495 158l-43 300l-17 107M2534 118l-37 272l-28 186M2569 117l-17 120l-21 162l-33 230M2603 119l-54 413l-17 116M2637 121l-43 345l-33 239M2671 125l-43 356l-33 246M2705 129l-43 368l-38 292M2739 133l-48 426l-33 254M2774 139l-49 439l-38 300M2808 146l-38 356l-27 232l-22 169M2842 154l-6 50l-21 213l-27 247l-38 304M2876 160l-43 426l-11 98l-27 225l-17 123M2910 165l-32 332l-22 205l-27 230l-22 163M2944 171l-32 341l-27 258l-27 226l-17 123M2978 176l-21 236l-27 276l-27 243l-28 211M3013 182l-38 416l-11 109l-27 246l-27 213M3047 187l-27 311l-38 381l-27 228l-17 121M3081 191l-27 320l-27 286l-27 244l-28 209M3115 195l-27 330l-27 291l-27 247l-27 210M3149 200l-32 402l-27 286l-22 196l-27 210M3183 204l-21 281l-27 312l-22 212l-16 140l-28 205M3217 208l-21 289l-16 198l-11 119l-27 263l-38 297M3252 212l-27 367l-22 253l-16 165l-11 100l-27 219l-11 78M3286 215l-27 377l-27 315l-11 109l-27 237l-22 161M3320 218l-27 387l-16 200l-11 120l-27 258l-11 90l-22 161M3354 222l-32 467l-22 253l-16 163l-11 97l-27 212l-6 38M3388 225l-21 332l-22 281l-16 178l-22 204l-16 132l-17 118M3422 229l-10 176l-11 164l-27 348l-22 224l-16 143l-11 87l-17 117M3457 233l-22 348l-16 223l-11 130l-27 276l-22 179l-16 117M3491 237l-27 437l-22 278l-16 174l-11 103l-27 219l-6 39M3525 241l-16 282l-11 166l-27 343l-22 217l-16 137l-17 120M3559 245l-16 291l-27 390l-22 242l-16 150l-22 171M3593 249l-16 301l-16 253l-11 144l-27 296l-27 228l-6 40M3627 254l-21 402l-22 313l-16 188l-11 109l-16 143l-17 123M3661 258l-10 220l-11 195l-11 169l-16 215l-27 282l-11 92l-17 122M3696 262l-22 427l-16 250l-11 141l-16 179l-11 102l-27 213M3730 266l-22 440l-16 254l-11 141l-16 179l-27 235l-11 78M3764 270l-16 352l-11 193l-11 164l-16 206l-11 116l-16 148l-22 163M3798 274l-16 363l-11 196l-16 241l-11 132l-16 168l-11 95l-17 124M3832 278l-5 136l-11 237l-16 287l-11 155l-16 193l-11 108l-27 217M3866 282l-5 139l-16 348l-11 186l-16 226l-11 124l-11 107l-16 137l-11 79M3900 286l-10 273l-11 226l-16 270l-11 145l-11 124l-16 155l-22 166M3935 290l-11 281l-11 230l-5 99l-11 174l-11 146l-16 180l-11 99l-17 126M3969 294l-16 412l-11 212l-11 176l-16 211l-11 115l-11 99l-16 125M4003 298l-5 156l-11 265l-11 216l-16 254l-11 135l-11 115l-16 141l-11 80M4037 302l-5 160l-11 271l-16 313l-11 162l-11 135l-16 164l-22 169M4071 306l-5 164l-11 276l-5 117l-11 200l-11 163l-16 194l-11 104l-22 167"/>
<path stroke-opacity="0.42" d="M1621 1165l-141 459l-28 86l-37 120l-66 202l-10 34l-66 198l-37 115l-66 195l-10 33l-82 240M1713 1060l-59 208l-76 260l-103 338l-103 325l-28 83l-10 34l-114 344l-49 144M1801 954l-86 319l-38 135l-28 95l-10 38l-76 257l-65 212l-103 324l-66 198l-10 33l-60 177M1878 835l-43 173l-65 253l-76 280l-65 228l-76 254l-55 174l-10 35l-76 235l-76 227M1963 698l-97 414l-65 258l-76 282l-55 190l-10 38l-76 252l-76 241l-87 261M2048 561l-48 226l-65 290l-76 312l-65 248l-76 270l-76 254l-92 289l-44 129M2122 440l-59 297l-49 232l-54 240l-65 267l-76 287l-65 229l-87 285l-54 167l-33 97M2185 346l-54 288l-38 193l-38 183l-65 290l-38 158l-65 253l-38 139l-49 171l-54 180l-28 86l-10 35l-49 149l-17 48M2236 278l-54 303l-65 339l-38 182l-65 288l-65 262l-76 280l-38 132l-38 126l-65 205l-38 114M2281 228l-48 284l-38 211l-38 199l-27 133l-38 177l-65 281l-76 296l-65 232l-38 128l-49 157l-60 181M2324 193l-70 419l-49 267l-27 138l-38 182l-27 123l-38 164l-38 155l-38 146l-65 236l-76 253l-76 233M2361 173l-43 266l-38 224l-38 208l-38 194l-27 130l-38 173l-65 273l-76 288l-65 226l-38 124l-76 233M2398 155l-54 340l-27 162l-38 213l-49 251l-54 253l-38 164l-38 155l-65 246l-38 135l-49 164l-54 172l-38 114M2432 141l-70 452l-38 222l-49 262l-27 135l-38 177l-27 119l-38 159l-38 149l-38 142l-65 228l-65 210l-49 148M2466 129l-27 181M2428 383l-21 141l-22 136l-54 312l-49 251l-54 252l-38 162l-38 153l-65 243l-38 133l-38 126l-27 87l-60 182M2500 122l-5 36M2435 565l-21 138l-38 224l-38 205l-27 137l-22 104l-54 242l-65 262l-38 142l-38 135l-65 216l-28 85l-10 34l-33 97M2469 576l-10 72l-38 236l-38 214l-38 197l-27 130l-38 172l-65 268l-38 144l-38 137l-65 219l-38 121l-44 131M2498 629l-32 212l-38 225l-27 147l-49 244l-27 124l-38 164l-65 257l-38 139l-38 132l-65 212l-55 165M2532 648l-32 216l-27 166l-27 154l-49 252l-27 128l-38 168l-65 262l-38 141l-38 133l-65 215l-38 118l-28 81M2561 705l-16 112l-27 174l-38 222l-27 145l-22 109l-16 78l-38 172l-27 115l-38 152l-28 102l-10 41l-38 135l-65 217l-76 233M2595 727l-16 114l-27 177l-16 99l-38 214l-38 193l-49 224l-27 115l-38 152l-27 103l-38 137l-65 219l-38 121l-49 147M2624 789l-16 114l-38 243l-38 216l-27 140l-22 106l-54 241l-38 155l-65 243l-65 222l-60 189l-38 113M2658 813l-16 116l-27 179l-38 226l-27 145l-22 109l-16 77l-38 170l-27 113l-38 150l-49 179l-54 185l-38 123l-71 216M2687 878l-27 189l-27 171l-22 126l-16 89l-38 192l-38 174l-27 115l-38 152l-60 220l-43 148l-38 124l-49 153l-33 97M2721 903l-16 117l-27 180l-38 224l-38 198l-38 178l-27 117l-49 196l-27 102l-38 136l-65 218l-38 120l-55 163M2750 968l-27 189l-22 138l-27 157l-38 198l-27 128l-27 120l-38 156l-38 146l-65 231l-76 247l-65 197M2778 1032l-10 77l-22 145l-16 100l-22 125l-16 87l-38 188l-38 170l-27 112l-38 147l-65 233l-76 249l-76 231M2807 1095l-32 218l-38 221l-38 194l-27 126l-38 161l-38 150l-65 235l-38 128l-49 158l-54 166l-22 64M2841 1119l-21 150l-22 136l-27 154l-27 140l-27 129l-38 166l-49 193l-54 196l-76 253l-28 85l-10 34l-60 180M2875 1142l-21 150l-38 231l-27 145l-27 133l-38 169l-49 196l-65 236l-65 217l-38 120l-71 213M2910 1166l-38 254l-38 215l-49 238l-54 228l-38 145l-65 229l-76 246l-38 117l-44 129M2938 1228l-21 147l-11 68l-38 215l-27 135l-27 124l-38 160l-60 226l-54 188l-65 211l-65 200l-28 80M2972 1250l-10 76l-11 71l-27 164l-11 60l-27 140l-27 128l-38 162l-38 149l-38 138l-38 132l-65 212l-65 201l-38 113M3007 1273l-38 247l-22 123l-16 85l-27 131l-38 166l-49 192l-17 59l-10 40l-38 132l-76 248l-54 167l-49 146M3041 1294l-27 181l-38 217l-27 135l-22 100l-16 70l-38 153l-65 238l-38 128l-38 124l-65 203l-60 178M3069 1354l-10 73l-22 134l-16 93l-27 139l-38 175l-38 156l-65 240l-38 129l-76 245l-98 295M3104 1374l-38 238l-27 146l-38 179l-49 202l-54 200l-76 255l-65 205l-82 245M3138 1394l-27 174l-38 208l-27 129l-49 206l-27 104l-38 137l-65 218l-76 240l-65 196l-17 48M3172 1414l-16 107l-27 159l-38 192l-38 166l-38 150l-27 100l-76 259l-103 323l-66 194M3206 1434l-32 204l-38 199l-38 171l-38 152l-49 179l-54 183l-87 275l-92 276M3240 1452l-21 140l-38 208l-38 176l-49 197l-54 196l-76 251l-76 236l-76 226M3274 1470l-21 139l-27 151l-11 55l-38 175l-38 154l-54 198l-28 92l-10 37l-38 123l-65 204l-98 293M3308 1488l-21 138l-16 92l-22 112l-16 77l-22 96l-27 111l-27 103l-38 135l-65 217l-103 320l-71 210M3343 1506l-27 168l-38 197l-38 168l-38 149l-49 175l-54 180l-103 321l-82 242M3382 1487l-21 141l-38 206l-38 173l-38 152l-38 139l-65 219l-65 206l-38 116l-93 275M3416 1506l-21 140l-27 150l-11 54l-38 171l-27 109l-27 101l-38 134l-76 248l-65 201l-103 308M3456 1489l-16 110l-27 158l-11 57l-38 176l-27 111l-27 103l-38 135l-38 127l-49 156l-92 282l-76 226M3490 1511l-32 206l-22 115l-16 78l-22 96l-43 171l-49 173l-38 126l-54 172l-76 232l-87 257M3524 1532l-21 141l-38 202l-38 168l-27 106l-38 137l-76 251l-103 318l-98 290M3558 1553l-10 72l-11 67l-27 147l-38 173l-27 109l-49 176l-76 249l-92 283l-109 323M3593 1574l-22 137l-16 90l-22 107l-27 118l-27 107l-27 99l-49 166l-65 207l-65 199l-28 81l-10 33l-82 240M3627 1593l-27 167l-22 112l-27 122l-27 109l-27 101l-38 131l-38 124l-65 203l-38 116l-28 81l-10 33l-93 273M3661 1612l-27 164l-27 136l-38 161l-27 102l-38 132l-38 125l-65 204l-179 534M3700 1593l-10 72l-11 66l-27 144l-38 166l-38 144l-65 220l-65 204l-38 116l-28 81l-10 33l-114 337M3735 1611l-22 136l-16 88l-11 53l-27 121l-38 147l-27 95l-38 126l-65 205l-141 424l-60 175M3769 1628l-27 164l-22 110l-16 73l-27 110l-38 138l-38 127l-65 205l-141 424l-71 208M3803 1645l-16 102l-22 116l-16 77l-27 113l-38 141l-38 128l-65 206l-87 263l-17 48l-10 33l-109 320M3842 1625l-10 73l-11 65l-27 141l-27 117l-38 144l-38 130l-65 206l-66 198l-10 33l-93 273l-10 33l-55 159M3877 1644l-22 135l-16 86l-27 124l-38 147l-38 131l-65 207l-114 344l-131 384M3911 1660l-27 163l-27 130l-38 152l-22 78l-54 179l-65 201l-217 644M3945 1676l-16 101l-27 139l-38 158l-38 135l-38 125l-65 201l-114 341l-114 335M3979 1691l-16 100l-27 137l-27 113l-38 139l-38 125l-65 203l-66 195l-10 33l-163 480"/>
</g>
<g filter="url(#bt)" stroke-width="10.0">
<path stroke-opacity="0.14" d="M2432 141l34-12M2392 188l35-14M2350 238l37-16l34-13M2345 272l37-16M2339 306l37-15M2334 339l37-13M2328 373l37-13M2323 406l37-12M2318 439l36-11M2312 472l37-10M2307 504l37-9M2301 537l37-9M2296 569l37-8M2290 600l37-7M2285 632l37-7M2280 663l37-6M2274 693l37-5M2269 724l37-4M2263 754l37-4M2258 783l37-2l34 4M2431 819l35 22M2252 813l37-2l35 4M2392 833l34 18l34 23l103 75M3894 1763l69 28M2247 842l37-2l68 11l34 14l35 19l34 23l102 76l103 84M3752 1731l137 63l68 27M2242 871l37-1l68 12l34 14l34 20l103 75l68 54l102 85M3610 1697l69 34l136 63l103 43M2236 899l37 0l68 13l35 15l34 20l136 104l171 142M3434 1632l69 41l102 56l102 49l35 14l68 31M2231 928l37 0l68 14l34 15l34 21M2438 1004l35 26l68 54l102 88l103 82l34 25M3395 1646l136 78l69 36l68 32l68 29M2262 956l69 16l34 15l34 22M2536 1117l136 117l68 54l69 50l102 71M3287 1626l102 52l69 39l102 55l68 33M2257 984l68 17l34 16M2633 1238l68 57l102 77l103 71l102 66l68 40l103 57l68 35l137 67l68 39l34 18M2251 1012l69 18l34 16M2661 1299l34 28l103 78l102 71l103 65l68 40l103 57l170 83l69 36M2280 1049l34 9M2690 1359l102 78l103 71l102 65l137 77l68 36l137 65M2753 1443l34 25l102 71l103 65l102 58l103 53l68 32M2952 1613l34 21l69 38"/>
<path stroke-opacity="0.27" d="M2466 129l34-7M2427 174l34-10M2421 209l34-9M2382 256l34-11l34-8M2376 291l34-10M2371 326l34-9M2365 360l34-8M2360 394l34-7M2354 428l35-5M2349 462l34-5M2344 495l34-3M2338 528l34-2M2333 561l34-2l34 0M2327 593l69 0M2322 625l68 2M2317 657l68 3M2453 683l34 19M2311 688l68 5l35 10l34 15l34 19l34 22M2306 720l68 5l34 11l34 16l69 42l34 23l68 48l34 26M2300 750l69 7l34 12l34 16l34 22l102 70l103 79M2329 785l34 4l34 12l34 18M2466 841l34 23l68 49l171 133M3797 1681l103 50l68 29M2324 815l34 5l34 13M2563 949l34 26l102 83l69 51M3553 1590l102 58l171 84l68 31M2660 1067l102 80l68 49M3411 1543l34 20l34 22l137 79l68 35l68 32M2688 1130l103 78l102 72l103 68M3337 1542l69 36l136 82l68 37M2717 1193l68 51l137 96l68 45l34 21l171 100l68 36l103 52l68 38M2780 1279l102 73l103 68l68 42l68 40l69 38l205 106M2911 1409l68 45l103 62l102 58l103 52"/>
<path stroke-opacity="0.41" d="M2500 122l34-4M2461 164l34-6l34-3M2455 200l34-5M2450 237l34-4M2410 281l34-8M2405 317l34-7M2399 352l35-5M2394 387l34-4M2389 423l34-4l34 2M2383 457l34-3l35 4M2378 492l34-3l34 5M2372 526l35-2l34 6l34 10l34 15M2401 559l34 6l34 11l35 16l34 18M2396 593l34 7l34 12l34 17l103 58M2390 627l34 8l35 13l34 18l68 39l68 44l34 24M2385 660l34 9l34 14M2487 702l69 41l34 22l136 97M2516 759l34 21l68 47l137 101M2647 891l68 52l69 49M3808 1607l69 37l102 47M2676 956l68 52l171 117M3530 1493l68 42l102 58l171 87l68 32l35 14M2739 1046l102 73l103 70l68 44M3422 1467l68 44l103 63l102 56l102 51M2768 1109l68 49l102 70l69 45l102 63l102 59l137 73l68 38l137 84M2830 1196l137 93l102 65l137 80l171 90l34 19M2996 1348l68 43l102 60l69 38l102 53"/>
<path stroke-opacity="0.54" d="M2534 118l35-1l68 4l102 12l35 6l68 15l34 6l171 27l205 25l68 6l137 15l614 73M2529 155l34 1l69 6l102 17l34 7l68 18l35 8l136 29l239 46l69 11l102 19l102 21l69 16l239 60l34 7l205 49M2489 195l35-1l34 2l68 10l103 22l34 8l68 22l34 9l307 79l171 41l137 36l102 32l69 23l170 60l69 21l170 57M2484 233l34 0l34 4l69 13l68 17l68 20l103 35l68 20l273 85l137 40l136 44l69 25l273 115l68 26l69 29l102 40M2444 273l35-2l34 1l34 6l68 16l69 20l68 23l68 27l171 60l34 13l410 144l68 27l103 48l204 99l35 14l136 64l69 30M2439 310l34-1l34 3l35 7l34 9l68 21l68 24l103 44l102 39l273 110l205 79l103 44l34 17l239 127l273 135M2434 347l34 0l34 4l34 8l103 34l68 28l102 47l137 58l34 16l171 75l273 116l68 32l103 57l68 40l102 57l35 19l68 34l102 56l69 35M2428 383l34 1l35 6l34 9l102 38l103 47l68 35l171 79l170 81l308 141l68 37l171 103l102 59l34 17l103 58l68 37l34 17M2457 421l34 7l34 11l69 27l68 31l68 34l103 55l34 16l170 86l137 68l205 98l68 34l69 38l136 86l103 62l102 56l68 41l103 55M2452 458l34 8l34 12l34 14l68 31l69 36l102 58l102 54l35 17l170 91l103 53l205 102l34 18l34 19l34 21l103 65l34 23l68 42l68 40l69 38l68 41l102 56M2446 494l34 9l34 14l35 15l68 33l68 38l137 81l102 55l171 96l171 90l102 52l103 55l204 133l103 61l68 38l34 21l137 76M2509 555l68 33l69 38l136 85l68 40l69 38l34 21l102 59l171 94l171 89l68 38l103 67l68 46l102 63l103 58l68 41l103 55M2538 610l34 18l68 40l137 88l68 42l273 161l137 76l171 91l34 20l171 113l102 63l205 117l68 35M2601 687l68 44l102 70l274 168l136 79l68 38l171 92l34 20l137 91l102 65l69 40l68 37l68 40l103 53M2663 773l35 23l68 48l68 44l239 149l171 99l137 74l68 39l171 112l102 62l68 38l35 18l68 40l68 35l34 16M2726 862l103 70l68 43l68 45l103 64l136 80l171 93l68 39l35 22l102 68l68 43l69 40l170 94l103 50M2755 928l171 114l68 44l68 42l171 101l103 55l102 58l171 111l102 60l103 54l68 38l102 49M2784 992l171 115l68 44l68 42l137 80l102 55l103 58l34 21l102 67l103 61l34 19l102 53M2915 1125l102 67l69 43l136 80l205 112l103 66M3012 1233l68 43l137 80l205 111"/>
</g>
<path stroke-opacity=".3" stroke-width="7" d="M4071 306L4105 310M4066 470L4100 478M4060 616L4094 627M4055 746L4089 760M4050 863L4084 878M4044 968L4078 985M4039 1063L4073 1080M4033 1148L4067 1166M4028 1226L4062 1244M4022 1297L4057 1315M4017 1361L4051 1379M4012 1420L4046 1438M4006 1474L4040 1492M4001 1524L4035 1541M3995 1570L4029 1587M3990 1613L4024 1630M3984 1654L4019 1669M3979 1691L4013 1706M3974 1726L4008 1741M3968 1760L4002 1774M3963 1791L3997 1805M3957 1821L3991 1834M3952 1849L3986 1862M3946 1877L3981 1889M3941 1903L3975 1915M3936 1928L3970 1939M3930 1952L3964 1963M3925 1975L3959 1986M3919 1998L3953 2008M3914 2020L3948 2030M3909 2041L3943 2051M3903 2062L3937 2072M3898 2083L3932 2092M3892 2103L3926 2112M3887 2123L3921 2131M3881 2142L3916 2150M3876 2161L3910 2169M3871 2180L3905 2188M3865 2198L3899 2206M3860 2217L3894 2224M3854 2235L3888 2242M3849 2253L3883 2260M3843 2270L3878 2277M3838 2288L3872 2295M3833 2305L3867 2312M3827 2323L3861 2329M3822 2340L3856 2346M3816 2357L3850 2363M3811 2374L3845 2380M3805 2391L3840 2397M3800 2408L3834 2414M3795 2425L3829 2430M3789 2441L3823 2447M3784 2458L3818 2464M3778 2475L3812 2480M3773 2491L3807 2497M3768 2508L3802 2513M3762 2524L3796 2530M3757 2541L3791 2546M3751 2557L3785 2562M3746 2573L3780 2579M3740 2590L3775 2595M3735 2606L3769 2611M3730 2622L3764 2627M3724 2639L3758 2644M3719 2655L3753 2660M3713 2671L3747 2676M3708 2687L3742 2692M3702 2703L3737 2708M3697 2720L3731 2724M3692 2736L3726 2740M3686 2752L3720 2757M3681 2768L3715 2773M3675 2784L3709 2789M3670 2800L3704 2805M3664 2816L3699 2821M3659 2832L3693 2837M3654 2848L3688 2853M3648 2864L3682 2869M3643 2880L3677 2885M3637 2896L3671 2901M3632 2912L3666 2917M3627 2928L3661 2933M3621 2944L3655 2949M3616 2960L3650 2965M3610 2976L3644 2981M3605 2992L3639 2997M3599 3008L3634 3013M3594 3024L3628 3029M3589 3040L3623 3045M3583 3056L3617 3061M3578 3072L3612 3077M3572 3088L3606 3093M3567 3104L3601 3109M3561 3120L3596 3125M3556 3136L3590 3141M3551 3152L3585 3157M3545 3168L3579 3172M3540 3184L3574 3188M3534 3200L3568 3204M3529 3216L3563 3220"/>
</g>
<g stroke="#000" stroke-width="1.4" fill="none" stroke-linecap="square">
<path d="M72.2 290.6L356.3 322.3L411.4 160.5"/>
</g>
<g class="t">
<text x="72.5" y="312.9" text-anchor="middle">0</text>
<text x="129.3" y="319.2" text-anchor="middle">1</text>
<text x="186.1" y="325.6" text-anchor="middle">2</text>
<text x="243.0" y="331.9" text-anchor="middle">3</text>
<text x="299.8" y="338.3" text-anchor="middle">4</text>
<text x="356.6" y="344.6" text-anchor="middle">5</text>
<text x="431.0" y="172.5">0</text>
<text x="420.2" y="204.4">0.1</text>
<text x="409.3" y="236.2">0.2</text>
<text x="398.5" y="268.1">0.3</text>
<text x="387.6" y="299.9">0.4</text>
<text x="376.8" y="331.8">0.5</text>
<text x="53.5" y="298.7" text-anchor="end">0</text>
<text x="53.5" y="272.1" text-anchor="end">0.2</text>
<text x="53.5" y="245.6" text-anchor="end">0.4</text>
<text x="53.5" y="219.0" text-anchor="end">0.6</text>
<text x="53.5" y="192.4" text-anchor="end">0.8</text>
<text x="53.5" y="165.9" text-anchor="end">1</text>
<text x="53.5" y="139.3" text-anchor="end">1.2</text>
</g>
<linearGradient id="g440" x1="0" y1="0" x2="0" y2="1"><stop offset="0.0000" stop-color="#7f0000"/><stop offset="0.0417" stop-color="#a40000"/><stop offset="0.0833" stop-color="#c90000"/><stop offset="0.1250" stop-color="#ee0000"/><stop offset="0.1667" stop-color="#f42500"/><stop offset="0.2083" stop-color="#f94b00"/><stop offset="0.2500" stop-color="#ff7000"/><stop offset="0.2917" stop-color="#ff9a00"/><stop offset="0.3333" stop-color="#ffc400"/><stop offset="0.3750" stop-color="#ffee00"/><stop offset="0.4167" stop-color="#daf425"/><stop offset="0.4583" stop-color="#b5f94b"/><stop offset="0.5000" stop-color="#90ff70"/><stop offset="0.5417" stop-color="#65ff9a"/><stop offset="0.5833" stop-color="#3affc4"/><stop offset="0.6250" stop-color="#0fffee"/><stop offset="0.6667" stop-color="#0adaf4"/><stop offset="0.7083" stop-color="#05b5f9"/><stop offset="0.7500" stop-color="#0090ff"/><stop offset="0.7917" stop-color="#0065ff"/><stop offset="0.8333" stop-color="#003aff"/><stop offset="0.8750" stop-color="#000fff"/><stop offset="0.9167" stop-color="#000ada"/><stop offset="0.9583" stop-color="#0005b5"/><stop offset="1.0000" stop-color="#000090"/></linearGradient>
<rect x="447.0" y="31.8" width="20.7" height="147.7" fill="url(#g440)" stroke="#000" stroke-width="1.3"/>
<g stroke="#000" stroke-width="1.2">
<line x1="447.0" y1="154.9" x2="456.8" y2="154.9"/>
<line x1="457.9" y1="154.9" x2="467.7" y2="154.9"/>
<line x1="447.0" y1="130.3" x2="456.8" y2="130.3"/>
<line x1="457.9" y1="130.3" x2="467.7" y2="130.3"/>
<line x1="447.0" y1="105.7" x2="456.8" y2="105.7"/>
<line x1="457.9" y1="105.7" x2="467.7" y2="105.7"/>
<line x1="447.0" y1="81.0" x2="456.8" y2="81.0"/>
<line x1="457.9" y1="81.0" x2="467.7" y2="81.0"/>
<line x1="447.0" y1="56.4" x2="456.8" y2="56.4"/>
<line x1="457.9" y1="56.4" x2="467.7" y2="56.4"/>
</g>
<g class="t">
<text x="485.9" y="187.7">0</text>
<text x="485.9" y="163.1">0.2</text>
<text x="485.9" y="138.5">0.4</text>
<text x="485.9" y="113.9">0.6</text>
<text x="485.9" y="89.2">0.8</text>
<text x="485.9" y="64.6">1</text>
<text x="485.9" y="40.0">1.2</text>
</g>
<g transform="translate(-1.2 16.7) scale(1.1 1)"><text class="l" x="0" y="0"><tspan class="i">r</tspan><tspan class="sub" dy="4.5">s</tspan><tspan dy="-4.5"> = 10, </tspan><tspan class="i">Θ</tspan> = 1</text></g>
<g transform="translate(10.5 85.7) scale(1.1 1)"><text class="l" x="0" y="0"><tspan class="i">F</tspan><tspan class="sub" dy="5">tot</tspan><tspan dy="-5">(</tspan><tspan class="i">q</tspan>,<tspan class="i" dx="1">τ</tspan>)</text></g>
<text class="a" x="175" y="375.0"><tspan class="i">q</tspan>/<tspan class="i">q</tspan><tspan class="sub2" dy="4.8">F</tspan></text>
<text class="a" x="471.2" y="259.7"><tspan class="i">τ</tspan>/<tspan class="i">β</tspan></text>
</g>
</svg></body></html>
